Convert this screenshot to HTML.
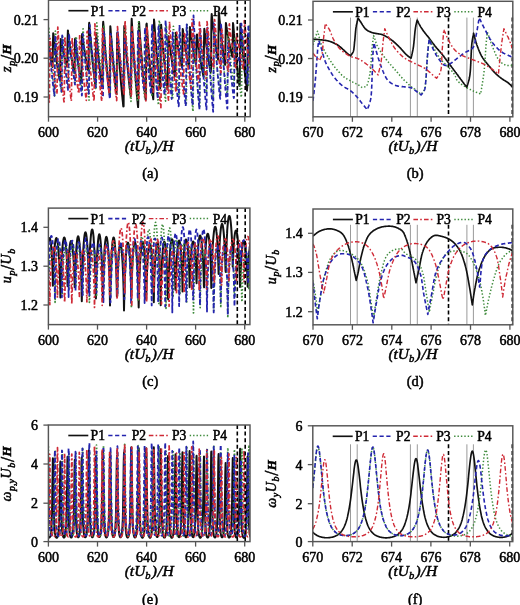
<!DOCTYPE html><html><head><meta charset="utf-8"><style>html,body{margin:0;padding:0;background:#fff;}svg{display:block;filter:blur(0.35px)}</style></head><body>
<svg width="520" height="605" viewBox="0 0 520 605">
<rect width="520" height="605" fill="#fff"/>
<style>text{stroke:#000;stroke-width:0.5px;fill:#000}</style>
<defs>
<clipPath id="ca"><rect x="48.5" y="0.2" width="201.7" height="116.5"/></clipPath>
<clipPath id="cb"><rect x="313.0" y="1.3" width="199.79999999999995" height="115.5"/></clipPath>
<clipPath id="cc"><rect x="48.4" y="208.1" width="201.5" height="116.50000000000003"/></clipPath>
<clipPath id="cd"><rect x="313.0" y="209.0" width="199.79999999999995" height="115.80000000000001"/></clipPath>
<clipPath id="ce"><rect x="48.4" y="425.0" width="201.6" height="116.60000000000002"/></clipPath>
<clipPath id="cf"><rect x="312.8" y="425.8" width="199.99999999999994" height="115.80000000000001"/></clipPath>
</defs>
<path d="M48.5,44.8 48.7,46.5 49,48.1 49.2,49.7 49.5,51.2 49.7,52.7 50,54.2 50.2,55.7 50.5,57.1 50.7,58.4 51,59.8 51.2,61.1 51.4,62.3 51.7,63.6 51.9,64.8 52.2,65.9 52.4,67 52.7,60.6 52.9,45 53.2,33.2 53.4,33.8 53.7,36.1 53.9,38.4 54.1,40.6 54.4,42.7 54.6,44.9 54.9,46.9 55.1,49 55.4,51 55.6,53 55.9,54.9 56.1,56.8 56.4,58.6 56.6,60.5 56.8,62.2 57.1,64 57.3,65.7 57.6,67.3 57.8,68.9 58.1,70.5 58.3,72 58.6,73.5 58.8,75 59.1,76.4 59.3,77.8 59.5,79.1 59.8,80.4 60,78.5 60.3,62.3 60.5,44.2 60.8,39.1 61,40.5 61.3,41.8 61.5,43.2 61.8,44.5 62,45.7 62.2,47 62.5,48.2 62.7,49.4 63,50.6 63.2,51.7 63.5,52.9 63.7,54 64,55.1 64.2,56.1 64.5,57.1 64.7,58.1 64.9,59.1 65.2,60.1 65.4,61 65.7,61.9 65.9,62.8 66.2,63.7 66.4,64.5 66.7,65.3 66.9,66.1 67.2,66.5 67.4,56.2 67.6,39.8 67.9,30.4 68.1,32.4 68.4,34.4 68.6,36.5 68.9,38.5 69.1,40.4 69.4,42.4 69.6,44.2 69.8,46.1 70.1,47.9 70.3,49.7 70.6,51.4 70.8,53.1 71.1,54.8 71.3,56.4 71.6,58 71.8,59.5 72.1,61 72.3,62.5 72.5,64 72.8,65.3 73,66.7 73.3,68 73.5,69.3 73.8,70.6 74,71.8 74.3,73 74.5,68.4 74.8,52.9 75,39.2 75.2,38.4 75.5,40.7 75.7,43 76,45.3 76.2,47.5 76.5,49.7 76.7,51.8 77,53.9 77.2,56 77.5,58 77.7,59.9 77.9,61.8 78.2,63.7 78.4,65.5 78.7,67.3 78.9,69 79.2,70.7 79.4,72.4 79.7,74 79.9,75.5 80.2,77 80.4,78.5 80.6,79.9 80.9,81.3 81.1,82.7 81.4,80.3 81.6,61.2 81.9,39.9 82.1,34 82.4,35.9 82.6,37.7 82.9,39.5 83.1,41.3 83.3,43 83.6,44.7 83.8,46.4 84.1,48 84.3,49.6 84.6,51.2 84.8,52.7 85.1,54.2 85.3,55.7 85.6,57.1 85.8,58.5 86,59.8 86.3,61.2 86.5,62.5 86.8,63.7 87,64.9 87.3,66.1 87.5,67.3 87.8,68.4 88,69.5 88.3,70.5 88.5,65.3 88.7,44.5 89,25 89.2,22.8 89.5,26 89.7,29.2 90,32.3 90.2,35.3 90.5,38.3 90.7,41.2 91,44 91.2,46.8 91.4,49.6 91.7,52.3 91.9,54.9 92.2,57.4 92.4,59.9 92.7,62.4 92.9,64.8 93.2,67.1 93.4,69.4 93.7,71.6 93.9,73.7 94.1,75.8 94.4,77.8 94.6,79.8 94.9,81.7 95.1,83.6 95.4,85.3 95.6,73.3 95.9,49.3 96.1,32.9 96.4,34.5 96.6,37.4 96.8,40.2 97.1,42.9 97.3,45.6 97.6,48.2 97.8,50.8 98.1,53.3 98.3,55.8 98.6,58.2 98.8,60.5 99.1,62.8 99.3,65.1 99.5,67.3 99.8,69.4 100,71.5 100.3,73.6 100.5,75.6 100.8,77.5 101,79.4 101.3,81.2 101.5,83 101.8,84.7 102,86.4 102.2,88 102.5,81 102.7,52.5 103,25.4 103.2,21.8 103.5,25.5 103.7,29 104,32.5 104.2,35.9 104.5,39.2 104.7,42.5 104.9,45.7 105.2,48.9 105.4,52 105.7,55 105.9,58 106.2,60.9 106.4,63.7 106.7,66.5 106.9,69.2 107.2,71.9 107.4,74.4 107.6,77 107.9,79.4 108.1,81.8 108.4,84.1 108.6,86.4 108.9,88.6 109.1,90.7 109.4,92.8 109.6,94.5 109.9,76.3 110.1,45.2 110.3,26.2 110.6,29 110.8,32.5 111.1,35.9 111.3,39.2 111.6,42.5 111.8,45.7 112.1,48.8 112.3,51.9 112.5,54.9 112.8,57.9 113,60.7 113.3,63.6 113.5,66.3 113.8,69 114,71.6 114.3,74.1 114.5,76.6 114.8,79 115,81.4 115.2,83.7 115.5,85.9 115.7,88.1 116,90.1 116.2,92.2 116.5,94.1 116.7,82.9 117,54.8 117.2,32.9 117.5,33.7 117.7,37.5 117.9,41.3 118.2,45 118.4,48.7 118.7,52.3 118.9,55.8 119.2,59.2 119.4,62.6 119.7,65.8 119.9,69.1 120.2,72.2 120.4,75.3 120.6,78.3 120.9,81.2 121.1,84.1 121.4,86.8 121.6,89.6 121.9,92.2 122.1,94.8 122.4,97.3 122.6,99.7 122.9,102 123.1,104.3 123.3,106.5 123.6,106.3 123.8,79.1 124.1,42.2 124.3,26 124.6,29.4 124.8,32.8 125.1,36.2 125.3,39.4 125.6,42.6 125.8,45.8 126,48.9 126.3,51.9 126.5,54.9 126.8,57.8 127,60.6 127.3,63.4 127.5,66.2 127.8,68.8 128,71.4 128.3,74 128.5,76.5 128.7,78.9 129,81.3 129.2,83.6 129.5,85.8 129.7,88 130,90.1 130.2,92.2 130.5,94.2 130.7,96.1 131,92.4 131.2,62 131.4,27.9 131.7,18.7 131.9,23 132.2,27.3 132.4,31.5 132.7,35.6 132.9,39.7 133.2,43.7 133.4,47.6 133.7,51.4 133.9,55.1 134.1,58.8 134.4,62.4 134.6,65.9 134.9,69.3 135.1,72.7 135.4,76 135.6,79.2 135.9,82.3 136.1,85.4 136.4,88.4 136.6,91.3 136.8,94.1 137.1,96.8 137.3,99.5 137.6,102.1 137.8,104.6 138.1,107.1 138.3,100.9 138.6,65.9 138.8,29.6 139.1,22 139.3,25.7 139.5,29.3 139.8,32.9 140,36.4 140.3,39.9 140.5,43.3 140.8,46.6 141,49.8 141.3,53 141.5,56.2 141.8,59.2 142,62.2 142.2,65.2 142.5,68.1 142.7,70.9 143,73.6 143.2,76.3 143.5,78.9 143.7,81.5 144,84 144.2,86.5 144.5,88.8 144.7,91.1 144.9,93.4 145.2,95.6 145.4,97.7 145.7,99.8 145.9,86.9 146.2,52.2 146.4,24.2 146.7,23.6 146.9,27.2 147.2,30.7 147.4,34.2 147.6,37.6 147.9,41 148.1,44.3 148.4,47.6 148.6,50.7 148.9,53.9 149.1,56.9 149.4,59.9 149.6,62.8 149.9,65.7 150.1,68.5 150.3,71.3 150.6,73.9 150.8,76.6 151.1,79.1 151.3,81.6 151.6,84.1 151.8,86.5 152.1,88.8 152.3,91 152.5,93.2 152.8,95.4 153,97.4 153.3,99.3 153.5,79.1 153.8,42.7 154,19.5 154.3,22.1 154.5,25.6 154.8,29.1 155,32.5 155.2,35.8 155.5,39.1 155.7,42.3 156,45.4 156.2,48.5 156.5,51.5 156.7,54.4 157,57.3 157.2,60.1 157.5,62.8 157.7,65.5 157.9,68.1 158.2,70.6 158.4,73.1 158.7,75.5 158.9,77.8 159.2,80.1 159.4,82.3 159.7,84.4 159.9,86.5 160.2,88.5 160.4,79.4 160.6,50.8 160.9,26.2 161.1,24.7 161.4,27.9 161.6,31 161.9,34.1 162.1,37.1 162.4,40.1 162.6,43 162.9,45.9 163.1,48.7 163.3,51.4 163.6,54.1 163.8,56.7 164.1,59.3 164.3,61.8 164.6,64.3 164.8,66.7 165.1,69 165.3,71.3 165.6,73.6 165.8,75.7 166,77.9 166.3,79.9 166.5,82 166.8,83.9 167,85.8 167.3,87.7 167.5,89.5 167.8,82.2 168,58.6 168.3,38 168.5,36.2 168.7,38.2 169,40.1 169.2,42 169.5,43.9 169.7,45.8 170,47.6 170.2,49.3 170.5,51.1 170.7,52.8 171,54.5 171.2,56.1 171.4,57.7 171.7,59.3 171.9,60.8 172.2,62.3 172.4,63.8 172.7,65.2 172.9,66.6 173.2,67.9 173.4,69.3 173.7,70.6 173.9,71.8 174.1,73 174.4,74.2 174.6,75.4 174.9,76.5 175.1,74.9 175.4,58.2 175.6,38.8 175.9,32.7 176.1,34.5 176.4,36.2 176.6,37.9 176.8,39.6 177.1,41.3 177.3,42.9 177.6,44.5 177.8,46.1 178.1,47.6 178.3,49.1 178.6,50.5 178.8,52 179.1,53.4 179.3,54.7 179.5,56 179.8,57.3 180,58.6 180.3,59.8 180.5,61 180.8,62.2 181,63.3 181.3,64.4 181.5,65.4 181.8,66.5 182,67.4 182.2,58.2 182.5,40.7 182.7,29.1 183,30.3 183.2,32.2 183.5,34.1 183.7,35.9 184,37.7 184.2,39.4 184.5,41.2 184.7,42.9 184.9,44.5 185.2,46.2 185.4,47.7 185.7,49.3 185.9,50.8 186.2,52.3 186.4,53.7 186.7,55.2 186.9,56.5 187.2,57.9 187.4,59.2 187.6,60.5 187.9,61.7 188.1,62.9 188.4,64.1 188.6,65.2 188.9,66.3 189.1,67.3 189.4,57.3 189.6,38.9 189.9,27 190.1,28.3 190.3,30.3 190.6,32.1 190.8,34 191.1,35.8 191.3,37.6 191.6,39.3 191.8,41 192.1,42.7 192.3,44.3 192.5,45.9 192.8,47.5 193,49 193.3,50.5 193.5,52 193.8,53.4 194,54.8 194.3,56.1 194.5,57.4 194.8,58.7 195,59.9 195.2,61.1 195.5,62.3 195.7,63.4 196,64.5 196.2,61.9 196.5,49 196.7,36.3 197,34.4 197.2,36.4 197.5,38.4 197.7,40.4 197.9,42.3 198.2,44.2 198.4,46 198.7,47.9 198.9,49.6 199.2,51.4 199.4,53.1 199.7,54.8 199.9,56.4 200.2,58 200.4,59.6 200.6,61.2 200.9,62.7 201.1,64.1 201.4,65.6 201.6,67 201.9,68.3 202.1,69.6 202.4,70.9 202.6,72.2 202.9,73.4 203.1,74.6 203.3,75.8 203.6,75 203.8,58.3 204.1,36.9 204.3,28.7 204.6,30.8 204.8,32.9 205.1,35 205.3,37 205.6,39 205.8,41 206,42.9 206.3,44.8 206.5,46.6 206.8,48.4 207,50.2 207.3,51.9 207.5,53.6 207.8,55.3 208,56.9 208.3,58.5 208.5,60 208.7,61.5 209,63 209.2,64.4 209.5,65.8 209.7,67.2 210,68.5 210.2,69.8 210.5,71 210.7,72.2 211,69 211.2,46 211.4,20.8 211.7,14.1 211.9,16.3 212.2,18.6 212.4,20.7 212.7,22.9 212.9,25 213.2,27 213.4,29.1 213.7,31 213.9,33 214.1,34.9 214.4,36.7 214.6,38.6 214.9,40.3 215.1,42.1 215.4,43.8 215.6,45.4 215.9,47.1 216.1,48.6 216.4,50.2 216.6,51.7 216.8,53.1 217.1,54.6 217.3,55.9 217.6,57.3 217.8,58.6 218.1,59.8 218.3,49.4 218.6,27.6 218.8,12.3 219.1,13.6 219.3,16.3 219.5,19 219.8,21.6 220,24.2 220.3,26.7 220.5,29.1 220.8,31.5 221,33.9 221.3,36.2 221.5,38.4 221.8,40.6 222,42.8 222.2,44.9 222.5,46.9 222.7,49 223,50.9 223.2,52.8 223.5,54.7 223.7,56.5 224,58.2 224.2,59.9 224.5,61.6 224.7,63.2 224.9,64.7 225.2,64.7 225.4,50.2 225.7,31 225.9,22.9 226.2,24.6 226.4,26.2 226.7,27.8 226.9,29.4 227.2,31 227.4,32.5 227.6,34 227.9,35.4 228.1,36.9 228.4,38.3 228.6,39.7 228.9,41 229.1,42.3 229.4,43.6 229.6,44.8 229.9,46.1 230.1,47.3 230.3,48.4 230.6,49.6 230.8,50.7 231.1,51.7 231.3,52.8 231.6,53.8 231.8,54.8 232.1,55.7 232.3,56.7 232.6,49.8 232.8,34.4 233,23.1 233.3,24.7 233.5,27.8 233.8,30.9 234,33.9 234.3,36.8 234.5,39.7 234.8,42.5 235,45.3 235.2,48 235.5,50.7 235.7,53.3 236,55.8 236.2,58.3 236.5,60.8 236.7,63.2 237,65.5 237.2,67.8 237.5,70 237.7,72.2 237.9,74.3 238.2,76.3 238.4,78.3 238.7,80.3 238.9,82.2 239.2,84 239.4,85.8 239.7,85.8 239.9,65 240.2,36.6 240.4,23.7 240.6,26.9 240.9,30 241.1,33.1 241.4,36.1 241.6,39.1 241.9,42 242.1,44.9 242.4,47.7 242.6,50.4 242.9,53.1 243.1,55.8 243.3,58.3 243.6,60.9 243.8,63.4 244.1,65.8 244.3,68.1 244.6,70.5 244.8,72.7 245.1,74.9 245.3,77.1 245.6,79.2 245.8,81.2 246,83.2 246.3,85.2 246.5,87 246.8,88.9 247,90.6 247.3,85.2 247.5,61.1 247.8,38 248,34.6 248.3,37.7 248.5,40.7 248.7,43.6 249,46.5 249.2,49.4 249.5,52.1 249.7,54.9 250,57.5 250.2,60.1 250.5,62.7" fill="none" stroke="#111111" stroke-width="2.0" stroke-linejoin="round" clip-path="url(#ca)"/>
<path d="M48.5,32.3 48.7,26.9 49,30.6 49.2,34.3 49.5,37.9 49.7,41.4 50,44.8 50.2,48.2 50.5,51.5 50.7,54.8 51,57.9 51.2,61 51.4,64 51.7,67 51.9,69.9 52.2,72.7 52.4,75.4 52.7,78 52.9,80.6 53.2,83.1 53.4,85.6 53.7,87.9 53.9,90.2 54.1,92.5 54.4,94.6 54.6,96.1 54.9,77.6 55.1,47.9 55.4,31 55.6,33.8 55.9,36.8 56.1,39.8 56.4,42.8 56.6,45.7 56.8,48.5 57.1,51.3 57.3,54 57.6,56.7 57.8,59.3 58.1,61.8 58.3,64.3 58.6,66.8 58.8,69.1 59.1,71.5 59.3,73.7 59.5,76 59.8,78.1 60,80.2 60.3,82.3 60.5,84.3 60.8,86.2 61,88.1 61.3,89.9 61.5,91.7 61.8,93.1 62,77.5 62.2,51 62.5,35 62.7,37.3 63,40.1 63.2,42.9 63.5,45.6 63.7,48.2 64,50.8 64.2,53.3 64.5,55.8 64.7,58.2 64.9,60.6 65.2,62.9 65.4,65.1 65.7,67.3 65.9,69.5 66.2,71.5 66.4,73.6 66.7,75.6 66.9,77.5 67.2,79.3 67.4,81.2 67.6,82.9 67.9,84.6 68.1,86.3 68.4,87.8 68.6,80.4 68.9,58.6 69.1,40.5 69.4,39.7 69.6,42 69.8,44.3 70.1,46.5 70.3,48.6 70.6,50.7 70.8,52.8 71.1,54.8 71.3,56.8 71.6,58.7 71.8,60.6 72.1,62.4 72.3,64.3 72.5,66 72.8,67.7 73,69.4 73.3,71 73.5,72.6 73.8,74.2 74,75.7 74.3,77.1 74.5,78.5 74.8,79.9 75,81.2 75.2,82.5 75.5,76.2 75.7,55.5 76,37.4 76.2,36.5 76.5,39.4 76.7,42.3 77,45.1 77.2,47.8 77.5,50.5 77.7,53.2 77.9,55.7 78.2,58.3 78.4,60.7 78.7,63.2 78.9,65.5 79.2,67.8 79.4,70.1 79.7,72.3 79.9,74.4 80.2,76.5 80.4,78.5 80.6,80.5 80.9,82.4 81.1,84.3 81.4,86.1 81.6,87.9 81.9,89.6 82.1,91.2 82.4,84.2 82.6,57 82.9,31.6 83.1,28.9 83.3,32.7 83.6,36.5 83.8,40.1 84.1,43.7 84.3,47.2 84.6,50.7 84.8,54 85.1,57.3 85.3,60.6 85.6,63.7 85.8,66.8 86,69.8 86.3,72.7 86.5,75.6 86.8,78.4 87,81.1 87.3,83.7 87.5,86.3 87.8,88.8 88,91.2 88.3,93.6 88.5,95.8 88.7,98 89,100.2 89.2,86.9 89.5,57.8 89.7,36.8 90,37.6 90.2,40.4 90.5,43 90.7,45.7 91,48.3 91.2,50.8 91.4,53.3 91.7,55.7 91.9,58.1 92.2,60.4 92.4,62.7 92.7,64.9 92.9,67.1 93.2,69.2 93.4,71.3 93.7,73.3 93.9,75.3 94.1,77.2 94.4,79.1 94.6,80.9 94.9,82.7 95.1,84.4 95.4,86.1 95.6,87.7 95.9,89.3 96.1,89.6 96.4,68.6 96.6,38.1 96.8,22.9 97.1,26.3 97.3,29.6 97.6,32.9 97.8,36.1 98.1,39.3 98.3,42.4 98.6,45.4 98.8,48.4 99.1,51.3 99.3,54.1 99.5,56.9 99.8,59.6 100,62.3 100.3,64.9 100.5,67.4 100.8,69.8 101,72.2 101.3,74.6 101.5,76.8 101.8,79 102,81.2 102.2,83.3 102.5,85.3 102.7,87.2 103,89.1 103.2,75.2 103.5,45.9 103.7,25.2 104,26.9 104.2,30.5 104.5,34 104.7,37.5 104.9,40.9 105.2,44.2 105.4,47.5 105.7,50.7 105.9,53.8 106.2,56.8 106.4,59.8 106.7,62.8 106.9,65.6 107.2,68.4 107.4,71.2 107.6,73.8 107.9,76.4 108.1,79 108.4,81.4 108.6,83.8 108.9,86.1 109.1,88.4 109.4,90.6 109.6,92.7 109.9,94.8 110.1,95.7 110.3,76.5 110.6,48 110.8,33.3 111.1,35.9 111.3,38.6 111.6,41.1 111.8,43.7 112.1,46.1 112.3,48.6 112.5,50.9 112.8,53.3 113,55.5 113.3,57.8 113.5,60 113.8,62.1 114,64.2 114.3,66.2 114.5,68.2 114.8,70.1 115,72 115.2,73.8 115.5,75.6 115.7,77.4 116,79.1 116.2,80.7 116.5,82.3 116.7,83.8 117,85.3 117.2,79.3 117.5,58.2 117.7,39.4 117.9,37.6 118.2,40 118.4,42.2 118.7,44.4 118.9,46.6 119.2,48.8 119.4,50.9 119.7,52.9 119.9,54.9 120.2,56.9 120.4,58.8 120.6,60.7 120.9,62.6 121.1,64.4 121.4,66.2 121.6,67.9 121.9,69.6 122.1,71.2 122.4,72.8 122.6,74.3 122.9,75.9 123.1,77.3 123.3,78.8 123.6,80.1 123.8,81.5 124.1,82.8 124.3,78.2 124.6,53.3 124.8,27.7 125.1,23 125.3,27.2 125.6,31.4 125.8,35.4 126,39.4 126.3,43.3 126.5,47.1 126.8,50.8 127,54.5 127.3,58 127.5,61.5 127.8,64.9 128,68.2 128.3,71.5 128.5,74.6 128.7,77.7 129,80.7 129.2,83.6 129.5,86.5 129.7,89.2 130,91.9 130.2,94.5 130.5,97 130.7,99.4 131,101.3 131.2,83.9 131.4,54.4 131.7,36.7 131.9,39.5 132.2,42.8 132.4,46.1 132.7,49.4 132.9,52.5 133.2,55.6 133.4,58.6 133.7,61.6 133.9,64.5 134.1,67.3 134.4,70.1 134.6,72.8 134.9,75.4 135.1,78 135.4,80.5 135.6,83 135.9,85.4 136.1,87.7 136.4,89.9 136.6,92.1 136.8,94.2 137.1,96.3 137.3,98.3 137.6,100.2 137.8,99.4 138.1,72.2 138.3,36.5 138.6,21.9 138.8,25.8 139.1,29.7 139.3,33.4 139.5,37.1 139.8,40.7 140,44.3 140.3,47.8 140.5,51.2 140.8,54.5 141,57.8 141.3,60.9 141.5,64.1 141.8,67.1 142,70.1 142.2,73 142.5,75.8 142.7,78.6 143,81.2 143.2,83.8 143.5,86.4 143.7,88.8 144,91.2 144.2,93.6 144.5,95.8 144.7,98 144.9,87.6 145.2,58.8 145.4,35.3 145.7,34.7 145.9,37.8 146.2,40.8 146.4,43.8 146.7,46.7 146.9,49.6 147.2,52.4 147.4,55.2 147.6,57.8 147.9,60.5 148.1,63.1 148.4,65.6 148.6,68.1 148.9,70.5 149.1,72.8 149.4,75.1 149.6,77.4 149.9,79.6 150.1,81.7 150.3,83.8 150.6,85.8 150.8,87.8 151.1,89.7 151.3,91.5 151.6,93.3 151.8,95.1 152.1,86.4 152.3,57.1 152.5,31.1 152.8,29.4 153,33.6 153.3,37.7 153.5,41.7 153.8,45.7 154,49.6 154.3,53.3 154.5,57 154.8,60.7 155,64.2 155.2,67.6 155.5,71 155.7,74.3 156,77.5 156.2,80.6 156.5,83.6 156.7,86.6 157,89.4 157.2,92.2 157.5,94.9 157.7,97.5 157.9,100.1 158.2,102.5 158.4,104.9 158.7,91.8 158.9,53.6 159.2,21.7 159.4,20.4 159.7,24.7 159.9,28.8 160.2,32.8 160.4,36.8 160.6,40.7 160.9,44.5 161.1,48.3 161.4,52 161.6,55.5 161.9,59.1 162.1,62.5 162.4,65.8 162.6,69.1 162.9,72.3 163.1,75.4 163.3,78.5 163.6,81.4 163.8,84.3 164.1,87.1 164.3,89.9 164.6,92.5 164.8,95.1 165.1,97.6 165.3,100 165.6,101.1 165.8,78 166,43.6 166.3,25.7 166.5,29.4 166.8,33 167,36.5 167.3,40 167.5,43.5 167.8,46.8 168,50.1 168.3,53.4 168.5,56.5 168.7,59.6 169,62.6 169.2,65.6 169.5,68.5 169.7,71.3 170,74.1 170.2,76.8 170.5,79.4 170.7,82 171,84.4 171.2,86.9 171.4,89.2 171.7,91.5 171.9,93.8 172.2,95.9 172.4,98 172.7,98.4 172.9,75 173.2,42 173.4,26.3 173.7,30.1 173.9,33.9 174.1,37.7 174.4,41.3 174.6,44.9 174.9,48.4 175.1,51.8 175.4,55.1 175.6,58.4 175.9,61.6 176.1,64.7 176.4,67.8 176.6,70.8 176.8,73.7 177.1,76.5 177.3,79.3 177.6,81.9 177.8,84.6 178.1,87.1 178.3,89.5 178.6,91.9 178.8,94.2 179.1,96.5 179.3,98.6 179.5,91.4 179.8,63.1 180,36.7 180.3,33.8 180.5,37.6 180.8,41.3 181,45 181.3,48.6 181.5,52.1 181.8,55.5 182,58.9 182.2,62.2 182.5,65.4 182.7,68.5 183,71.6 183.2,74.6 183.5,77.5 183.7,80.4 184,83.2 184.2,85.9 184.5,88.6 184.7,91.1 184.9,93.6 185.2,96.1 185.4,98.4 185.7,100.7 185.9,103 186.2,105.1 186.4,100.2 186.7,67.6 186.9,32.8 187.2,24.7 187.4,29.5 187.6,34.1 187.9,38.6 188.1,43 188.4,47.4 188.6,51.6 188.9,55.8 189.1,59.9 189.4,63.8 189.6,67.7 189.9,71.5 190.1,75.2 190.3,78.8 190.6,82.3 190.8,85.8 191.1,89.1 191.3,92.4 191.6,95.5 191.8,98.6 192.1,101.5 192.3,104.4 192.5,107.2 192.8,109.9 193,111.4 193.3,88.9 193.5,54.3 193.8,35.7 194,39.6 194.3,43.5 194.5,47.3 194.8,51.1 195,54.8 195.2,58.4 195.5,61.9 195.7,65.4 196,68.8 196.2,72 196.5,75.3 196.7,78.4 197,81.5 197.2,84.4 197.5,87.4 197.7,90.2 197.9,92.9 198.2,95.6 198.4,98.2 198.7,100.7 198.9,103.1 199.2,105.5 199.4,107.8 199.7,108.3 199.9,84.9 200.2,51.6 200.4,35.5 200.6,38.4 200.9,41.3 201.1,44.1 201.4,46.9 201.6,49.6 201.9,52.2 202.1,54.8 202.4,57.3 202.6,59.8 202.9,62.3 203.1,64.6 203.3,67 203.6,69.2 203.8,71.5 204.1,73.6 204.3,75.7 204.6,77.8 204.8,79.8 205.1,81.8 205.3,83.7 205.6,85.5 205.8,87.3 206,89.1 206.3,90.7 206.5,92.4 206.8,87.7 207,62.3 207.3,36.3 207.5,31.4 207.8,35.3 208,39 208.3,42.7 208.5,46.3 208.7,49.8 209,53.2 209.2,56.6 209.5,59.9 209.7,63.1 210,66.2 210.2,69.3 210.5,72.2 210.7,75.1 211,78 211.2,80.7 211.4,83.4 211.7,86 211.9,88.5 212.2,91 212.4,93.4 212.7,95.7 212.9,97.9 213.2,100 213.4,91 213.7,59 213.9,30.2 214.1,27.4 214.4,31 214.6,34.6 214.9,38 215.1,41.4 215.4,44.8 215.6,48 215.9,51.2 216.1,54.3 216.4,57.4 216.6,60.4 216.8,63.3 217.1,66.2 217.3,69 217.6,71.7 217.8,74.4 218.1,77 218.3,79.5 218.6,82 218.8,84.4 219.1,86.7 219.3,89 219.5,91.2 219.8,93.3 220,95.4 220.3,96.3 220.5,78.2 220.8,51.3 221,37.6 221.3,40.5 221.5,43.4 221.8,46.2 222,49 222.2,51.7 222.5,54.4 222.7,57 223,59.5 223.2,62 223.5,64.5 223.7,66.9 224,69.2 224.2,71.5 224.5,73.8 224.7,75.9 224.9,78.1 225.2,80.2 225.4,82.2 225.7,84.2 225.9,86.1 226.2,88 226.4,89.8 226.7,91.5 226.9,93.2 227.2,94.9 227.4,95 227.6,74.5 227.9,45.9 228.1,32.6 228.4,35.6 228.6,38.5 228.9,41.4 229.1,44.2 229.4,47 229.6,49.7 229.9,52.3 230.1,54.9 230.3,57.4 230.6,59.9 230.8,62.3 231.1,64.6 231.3,66.9 231.6,69.2 231.8,71.3 232.1,73.4 232.3,75.5 232.6,77.5 232.8,79.4 233,81.3 233.3,83.1 233.5,84.9 233.8,86.5 234,85.9 234.3,68 234.5,45.5 234.8,37.2 235,40 235.2,42.9 235.5,45.6 235.7,48.3 236,51 236.2,53.6 236.5,56.2 236.7,58.7 237,61.2 237.2,63.6 237.5,66 237.7,68.3 237.9,70.6 238.2,72.8 238.4,75 238.7,77.1 238.9,79.2 239.2,81.2 239.4,83.2 239.7,85.2 239.9,87 240.2,88.9 240.4,90.7 240.6,92.4 240.9,94.1 241.1,95.7 241.4,97.3 241.6,83.9 241.9,55.2 242.1,34.6 242.4,35.5 242.6,38 242.9,40.5 243.1,43 243.3,45.4 243.6,47.8 243.8,50.2 244.1,52.4 244.3,54.7 244.6,56.9 244.8,59 245.1,61.1 245.3,63.2 245.6,65.2 245.8,67.1 246,69 246.3,70.9 246.5,72.7 246.8,74.5 247,76.2 247.3,77.8 247.5,79.5 247.8,81 248,82.6 248.3,84.1 248.5,85.2 248.7,68.7 249,41.1 249.2,24.8 249.5,28.1 249.7,31.8 250,35.4 250.2,39 250.5,42.5" fill="none" stroke="#3d8a3a" stroke-width="1.7" stroke-dasharray="1.4,2.0" stroke-linejoin="round" clip-path="url(#ca)"/>
<path d="M48.5,34.2 48.7,37.5 49,40.8 49.2,43.9 49.5,47 49.7,50.1 50,53.1 50.2,56 50.5,58.8 50.7,61.6 51,64.4 51.2,67 51.4,69.6 51.7,72.2 51.9,74.6 52.2,77 52.4,79.4 52.7,81.7 52.9,83.9 53.2,86 53.4,88.1 53.7,90.1 53.9,92.1 54.1,94 54.4,95.6 54.6,79.7 54.9,52.3 55.1,35.5 55.4,37.7 55.6,40.5 55.9,43.2 56.1,45.9 56.4,48.5 56.6,51.1 56.8,53.7 57.1,56.1 57.3,58.6 57.6,61 57.8,63.3 58.1,65.6 58.3,67.8 58.6,70 58.8,72.1 59.1,74.2 59.3,76.2 59.5,78.1 59.8,80.1 60,81.9 60.3,83.7 60.5,85.5 60.8,87.2 61,88.9 61.3,90.5 61.5,91.5 61.8,75.5 62,49.9 62.2,35.4 62.5,38.1 62.7,41 63,43.9 63.2,46.7 63.5,49.4 63.7,52.1 64,54.7 64.2,57.3 64.5,59.8 64.7,62.3 64.9,64.7 65.2,67 65.4,69.3 65.7,71.5 65.9,73.7 66.2,75.8 66.4,77.8 66.7,79.8 66.9,81.8 67.2,83.6 67.4,85.5 67.6,87.2 67.9,88.9 68.1,90.6 68.4,78.6 68.6,52.7 68.9,34 69.1,34.9 69.4,37.5 69.6,40.1 69.8,42.7 70.1,45.2 70.3,47.7 70.6,50.1 70.8,52.4 71.1,54.7 71.3,57 71.6,59.2 71.8,61.3 72.1,63.4 72.3,65.5 72.5,67.5 72.8,69.4 73,71.3 73.3,73.2 73.5,75 73.8,76.7 74,78.4 74.3,80.1 74.5,81.7 74.8,83.2 75,84.7 75.2,76.7 75.5,56.3 75.7,40.2 76,40.7 76.2,43.7 76.5,46.5 76.7,49.3 77,52.1 77.2,54.8 77.5,57.4 77.7,60 77.9,62.5 78.2,65 78.4,67.4 78.7,69.8 78.9,72.1 79.2,74.3 79.4,76.5 79.7,78.7 79.9,80.8 80.2,82.8 80.4,84.8 80.6,86.7 80.9,88.6 81.1,90.4 81.4,92.2 81.6,93.9 81.9,95.5 82.1,91 82.4,65.6 82.6,39.3 82.9,33.9 83.1,37.1 83.3,40.2 83.6,43.3 83.8,46.3 84.1,49.3 84.3,52.2 84.6,55 84.8,57.7 85.1,60.4 85.3,63.1 85.6,65.7 85.8,68.2 86,70.7 86.3,73.1 86.5,75.4 86.8,77.7 87,79.9 87.3,82.1 87.5,84.2 87.8,86.2 88,88.2 88.3,90.1 88.5,92 88.7,93.8 89,88 89.2,59.2 89.5,30.3 89.7,24.9 90,28.1 90.2,31.2 90.5,34.3 90.7,37.3 91,40.2 91.2,43.1 91.4,46 91.7,48.7 91.9,51.5 92.2,54.1 92.4,56.7 92.7,59.2 92.9,61.7 93.2,64.2 93.4,66.5 93.7,68.8 93.9,71.1 94.1,73.3 94.4,75.4 94.6,77.5 94.9,79.5 95.1,81.5 95.4,83.4 95.6,85.2 95.9,87 96.1,82.5 96.4,62 96.6,42.4 96.8,39.8 97.1,42.8 97.3,45.7 97.6,48.6 97.8,51.4 98.1,54.2 98.3,56.9 98.6,59.5 98.8,62.1 99.1,64.7 99.3,67.2 99.5,69.6 99.8,72 100,74.3 100.3,76.6 100.5,78.8 100.8,80.9 101,83 101.3,85.1 101.5,87.1 101.8,89 102,90.9 102.2,92.7 102.5,94.5 102.7,96.2 103,97.1 103.2,77.6 103.5,47.2 103.7,30.6 104,33.9 104.2,37.3 104.5,40.7 104.7,44 104.9,47.2 105.2,50.4 105.4,53.5 105.7,56.6 105.9,59.6 106.2,62.5 106.4,65.4 106.7,68.2 106.9,70.9 107.2,73.6 107.4,76.2 107.6,78.7 107.9,81.2 108.1,83.6 108.4,86 108.6,88.3 108.9,90.5 109.1,92.7 109.4,94.8 109.6,96.8 109.9,98.8 110.1,99 110.3,77.4 110.6,47.5 110.8,33.9 111.1,36.8 111.3,39.6 111.6,42.3 111.8,45 112.1,47.7 112.3,50.2 112.5,52.8 112.8,55.2 113,57.7 113.3,60 113.5,62.3 113.8,64.6 114,66.8 114.3,69 114.5,71.1 114.8,73.1 115,75.1 115.2,77 115.5,78.9 115.7,80.8 116,82.5 116.2,84.3 116.5,85.9 116.7,87.6 117,87.7 117.2,68.9 117.5,42.8 117.7,30.8 117.9,33.8 118.2,36.7 118.4,39.6 118.7,42.5 118.9,45.3 119.2,48 119.4,50.7 119.7,53.4 119.9,55.9 120.2,58.5 120.4,60.9 120.6,63.3 120.9,65.7 121.1,68 121.4,70.2 121.6,72.4 121.9,74.6 122.1,76.6 122.4,78.7 122.6,80.6 122.9,82.5 123.1,84.4 123.3,86.2 123.6,88 123.8,89.7 124.1,85.6 124.3,63.7 124.6,41.3 124.8,37.1 125.1,39.8 125.3,42.5 125.6,45.2 125.8,47.8 126,50.4 126.3,52.9 126.5,55.3 126.8,57.7 127,60 127.3,62.3 127.5,64.5 127.8,66.7 128,68.8 128.3,70.8 128.5,72.8 128.7,74.8 129,76.7 129.2,78.5 129.5,80.3 129.7,82 130,83.7 130.2,85.3 130.5,86.9 130.7,83.1 131,60.7 131.2,37.5 131.4,32.6 131.7,35.5 131.9,38.4 132.2,41.2 132.4,44 132.7,46.7 132.9,49.4 133.2,52 133.4,54.5 133.7,57 133.9,59.4 134.1,61.8 134.4,64.1 134.6,66.3 134.9,68.5 135.1,70.7 135.4,72.8 135.6,74.8 135.9,76.7 136.1,78.7 136.4,80.5 136.6,82.3 136.8,84 137.1,85.7 137.3,86.1 137.6,68.2 137.8,42.4 138.1,29.9 138.3,33.1 138.6,36.3 138.8,39.3 139.1,42.4 139.3,45.3 139.5,48.2 139.8,51.1 140,53.9 140.3,56.6 140.5,59.2 140.8,61.8 141,64.4 141.3,66.9 141.5,69.3 141.8,71.6 142,73.9 142.2,76.2 142.5,78.4 142.7,80.5 143,82.5 143.2,84.5 143.5,86.5 143.7,88.4 144,90.2 144.2,90.8 144.5,71.3 144.7,42.5 144.9,27.9 145.2,31.3 145.4,34.6 145.7,37.8 145.9,41 146.2,44.2 146.4,47.3 146.7,50.3 146.9,53.2 147.2,56.1 147.4,58.9 147.6,61.7 147.9,64.4 148.1,67.1 148.4,69.6 148.6,72.2 148.9,74.6 149.1,77 149.4,79.3 149.6,81.6 149.9,83.8 150.1,86 150.3,88.1 150.6,90.1 150.8,92.1 151.1,94 151.3,91.1 151.6,64.1 151.8,33.1 152.1,24.2 152.3,28.3 152.5,32.4 152.8,36.4 153,40.3 153.3,44.1 153.5,47.8 153.8,51.4 154,55 154.3,58.4 154.5,61.8 154.8,65.2 155,68.4 155.2,71.5 155.5,74.6 155.7,77.6 156,80.5 156.2,83.3 156.5,86 156.7,88.7 157,91.2 157.2,93.7 157.5,96.1 157.7,98.4 157.9,87.7 158.2,55.2 158.4,27.6 158.7,26.2 158.9,29.9 159.2,33.5 159.4,37 159.7,40.4 159.9,43.8 160.2,47.1 160.4,50.3 160.6,53.5 160.9,56.6 161.1,59.6 161.4,62.6 161.6,65.5 161.9,68.3 162.1,71.1 162.4,73.8 162.6,76.4 162.9,79 163.1,81.4 163.3,83.9 163.6,86.2 163.8,88.5 164.1,90.7 164.3,92.8 164.6,94.9 164.8,91.7 165.1,62.6 165.3,29.5 165.6,20.1 165.8,24.1 166,28.1 166.3,32 166.5,35.8 166.8,39.6 167,43.2 167.3,46.8 167.5,50.4 167.8,53.8 168,57.2 168.3,60.5 168.5,63.7 168.7,66.9 169,70 169.2,73 169.5,75.9 169.7,78.8 170,81.6 170.2,84.3 170.5,86.9 170.7,89.5 171,92 171.2,94.4 171.4,96.7 171.7,99 171.9,93.5 172.2,65.4 172.4,37.3 172.7,32.5 172.9,36.4 173.2,40.2 173.4,44 173.7,47.7 173.9,51.3 174.1,54.9 174.4,58.4 174.6,61.8 174.9,65.1 175.1,68.4 175.4,71.6 175.6,74.7 175.9,77.8 176.1,80.7 176.4,83.6 176.6,86.4 176.8,89.2 177.1,91.9 177.3,94.5 177.6,97 177.8,99.5 178.1,101.8 178.3,104.1 178.6,106.4 178.8,105.3 179.1,76.4 179.3,39.4 179.5,25 179.8,29.2 180,33.2 180.3,37.2 180.5,41.2 180.8,45 181,48.8 181.3,52.5 181.5,56.1 181.8,59.7 182,63.1 182.2,66.5 182.5,69.9 182.7,73.1 183,76.3 183.2,79.4 183.5,82.4 183.7,85.3 184,88.2 184.2,91 184.5,93.7 184.7,96.4 184.9,98.9 185.2,101.4 185.4,103.8 185.7,106.2 185.9,102.8 186.2,71.1 186.4,34.8 186.7,24.4 186.9,28.7 187.2,32.9 187.4,37 187.6,41.1 187.9,45.1 188.1,49 188.4,52.8 188.6,56.5 188.9,60.2 189.1,63.8 189.4,67.2 189.6,70.7 189.9,74 190.1,77.2 190.3,80.4 190.6,83.5 190.8,86.5 191.1,89.4 191.3,92.3 191.6,95 191.8,97.7 192.1,100.3 192.3,102.9 192.5,105.3 192.8,102.7 193,69.1 193.3,28.8 193.5,15.4 193.8,20.5 194,25.4 194.3,30.3 194.5,35 194.8,39.7 195,44.2 195.2,48.7 195.5,53 195.7,57.3 196,61.5 196.2,65.5 196.5,69.5 196.7,73.4 197,77.1 197.2,80.8 197.5,84.4 197.7,87.9 197.9,91.2 198.2,94.5 198.4,97.7 198.7,100.8 198.9,103.8 199.2,106.7 199.4,109.3 199.7,88.5 199.9,51.4 200.2,27.8 200.4,30.8 200.6,34.9 200.9,38.9 201.1,42.8 201.4,46.6 201.6,50.4 201.9,54.1 202.1,57.7 202.4,61.2 202.6,64.7 202.9,68.1 203.1,71.4 203.3,74.7 203.6,77.8 203.8,80.9 204.1,83.9 204.3,86.9 204.6,89.8 204.8,92.6 205.1,95.3 205.3,97.9 205.6,100.5 205.8,103 206,105.4 206.3,107.8 206.5,109.5 206.8,87.2 207,49.9 207.3,27.7 207.5,31.6 207.8,36.1 208,40.4 208.3,44.7 208.5,48.9 208.7,53 209,57 209.2,61 209.5,64.8 209.7,68.6 210,72.2 210.2,75.8 210.5,79.3 210.7,82.7 211,86 211.2,89.2 211.4,92.4 211.7,95.4 211.9,98.4 212.2,101.2 212.4,104 212.7,106.7 212.9,109.3 213.2,111.8 213.4,92 213.7,51.5 213.9,23.4 214.1,25.1 214.4,29 214.6,32.8 214.9,36.5 215.1,40.1 215.4,43.7 215.6,47.2 215.9,50.6 216.1,53.9 216.4,57.2 216.6,60.4 216.8,63.6 217.1,66.6 217.3,69.6 217.6,72.6 217.8,75.4 218.1,78.2 218.3,80.9 218.6,83.5 218.8,86.1 219.1,88.6 219.3,91 219.5,93.4 219.8,95.7 220,97.9 220.3,98.8 220.5,75.5 220.8,41 221,23.3 221.3,27.7 221.5,31.9 221.8,36.1 222,40.2 222.2,44.2 222.5,48.1 222.7,52 223,55.8 223.2,59.5 223.5,63.1 223.7,66.6 224,70.1 224.2,73.5 224.5,76.8 224.7,80 224.9,83.2 225.2,86.3 225.4,89.3 225.7,92.2 225.9,95 226.2,97.8 226.4,100.5 226.7,103.1 226.9,105.6 227.2,108 227.4,108.6 227.6,86.8 227.9,56.3 228.1,42.2 228.4,45.3 228.6,48.4 228.9,51.3 229.1,54.2 229.4,57.1 229.6,59.9 229.9,62.6 230.1,65.3 230.3,67.9 230.6,70.5 230.8,73 231.1,75.4 231.3,77.8 231.6,80.1 231.8,82.3 232.1,84.5 232.3,86.6 232.6,88.7 232.8,90.7 233,92.6 233.3,94.5 233.5,96.3 233.8,98.1 234,97.2 234.3,76.9 234.5,51.4 234.8,41.5 235,42.8 235.2,44.1 235.5,45.4 235.7,46.6 236,47.8 236.2,48.9 236.5,50.1 236.7,51.2 237,52.3 237.2,53.3 237.5,54.4 237.7,55.4 237.9,56.3 238.2,57.3 238.4,58.2 238.7,59.1 238.9,60 239.2,60.9 239.4,61.7 239.7,62.5 239.9,63.3 240.2,64 240.4,64.8 240.6,59 240.9,40.6 241.1,24.4 241.4,23.7 241.6,26.8 241.9,29.8 242.1,32.7 242.4,35.7 242.6,38.5 242.9,41.3 243.1,44 243.3,46.7 243.6,49.3 243.8,51.9 244.1,54.4 244.3,56.9 244.6,59.3 244.8,61.6 245.1,63.9 245.3,66.1 245.6,68.3 245.8,70.4 246,72.5 246.3,74.5 246.5,76.5 246.8,78.4 247,80.2 247.3,82 247.5,83.7 247.8,76.8 248,50.8 248.3,27 248.5,24.8 248.7,28.3 249,31.8 249.2,35.3 249.5,38.6 249.7,41.9 250,45.1 250.2,48.2 250.5,51.3" fill="none" stroke="#2424ae" stroke-width="1.8" stroke-dasharray="4.2,2.6" stroke-linejoin="round" clip-path="url(#ca)"/>
<path d="M48.5,98.1 48.7,100.1 49,102 49.2,103.8 49.5,87.9 49.7,58.1 50,38.4 50.2,39.9 50.5,42.5 50.7,45 51,47.5 51.2,49.9 51.4,52.2 51.7,54.6 51.9,56.9 52.2,59.1 52.4,61.3 52.7,63.5 52.9,65.6 53.2,67.7 53.4,69.7 53.7,71.7 53.9,73.7 54.1,75.6 54.4,77.4 54.6,79.3 54.9,81.1 55.1,82.8 55.4,84.5 55.6,86.2 55.9,87.8 56.1,89.3 56.4,90.9 56.6,92.4 56.8,93.8 57.1,91.5 57.3,66.4 57.6,36.7 57.8,27.1 58.1,30.9 58.3,34.7 58.6,38.4 58.8,42 59.1,45.5 59.3,49 59.5,52.4 59.8,55.7 60,59 60.3,62.2 60.5,65.4 60.8,68.4 61,71.4 61.3,74.3 61.5,77.2 61.8,80 62,82.7 62.2,85.3 62.5,87.9 62.7,90.4 63,92.9 63.2,95.2 63.5,97.5 63.7,99.8 64,101.9 64.2,101.5 64.5,78.4 64.7,48.6 64.9,36.6 65.2,39.8 65.4,43 65.7,46 65.9,49.1 66.2,52 66.4,54.9 66.7,57.8 66.9,60.6 67.2,63.3 67.4,66 67.6,68.6 67.9,71.2 68.1,73.7 68.4,76.2 68.6,78.6 68.9,80.9 69.1,83.2 69.4,85.4 69.6,87.6 69.8,89.7 70.1,91.8 70.3,93.8 70.6,95.7 70.8,97.6 71.1,99.4 71.3,101 71.6,84.5 71.8,55.6 72.1,37.7 72.3,39.7 72.5,42.3 72.8,44.9 73,47.4 73.3,49.9 73.5,52.4 73.8,54.8 74,57.2 74.3,59.5 74.5,61.8 74.8,64 75,66.2 75.2,68.3 75.5,70.4 75.7,72.5 76,74.5 76.2,76.4 76.5,78.3 76.7,80.2 77,82 77.2,83.8 77.5,85.6 77.7,87.2 77.9,88.9 78.2,90.5 78.4,92 78.7,93.5 78.9,93.4 79.2,73.7 79.4,46.7 79.7,34.7 79.9,37.9 80.2,40.9 80.4,44 80.6,46.9 80.9,49.8 81.1,52.7 81.4,55.5 81.6,58.3 81.9,61 82.1,63.6 82.4,66.2 82.6,68.7 82.9,71.2 83.1,73.7 83.3,76 83.6,78.4 83.8,80.6 84.1,82.8 84.3,85 84.6,87.1 84.8,89.2 85.1,91.2 85.3,93.1 85.6,95 85.8,96.9 86,98.7 86.3,100.4 86.5,89 86.8,57.6 87,32 87.3,31.3 87.5,34.6 87.8,37.8 88,41 88.3,44.1 88.5,47.2 88.7,50.2 89,53.2 89.2,56.1 89.5,59 89.7,61.8 90,64.5 90.2,67.2 90.5,69.9 90.7,72.4 91,75 91.2,77.4 91.4,79.9 91.7,82.2 91.9,84.5 92.2,86.8 92.4,89 92.7,91.1 92.9,93.2 93.2,95.3 93.4,97.3 93.7,99.2 93.9,101.1 94.1,99.6 94.4,71.8 94.6,36.9 94.9,23.8 95.1,27.4 95.4,30.9 95.6,34.4 95.9,37.8 96.1,41.1 96.4,44.4 96.6,47.6 96.8,50.8 97.1,53.9 97.3,57 97.6,59.9 97.8,62.9 98.1,65.7 98.3,68.5 98.6,71.3 98.8,74 99.1,76.6 99.3,79.1 99.5,81.7 99.8,84.1 100,86.5 100.3,88.8 100.5,91.1 100.8,93.3 101,95.4 101.3,97.5 101.5,99.6 101.8,101.1 102,81.1 102.2,47.9 102.5,28.3 102.7,30.9 103,34 103.2,36.9 103.5,39.9 103.7,42.7 104,45.6 104.2,48.3 104.5,51 104.7,53.7 104.9,56.3 105.2,58.9 105.4,61.4 105.7,63.8 105.9,66.2 106.2,68.5 106.4,70.8 106.7,73.1 106.9,75.2 107.2,77.4 107.4,79.4 107.6,81.5 107.9,83.4 108.1,85.3 108.4,87.2 108.6,89 108.9,90.8 109.1,92.4 109.4,78.7 109.6,52.3 109.9,34.7 110.1,36.6 110.3,39.7 110.6,42.7 110.8,45.6 111.1,48.5 111.3,51.4 111.6,54.2 111.8,56.9 112.1,59.6 112.3,62.2 112.5,64.8 112.8,67.4 113,69.8 113.3,72.3 113.5,74.6 113.8,77 114,79.2 114.3,81.5 114.5,83.6 114.8,85.8 115,87.8 115.2,89.8 115.5,91.8 115.7,93.7 116,95.6 116.2,97.4 116.5,99.1 116.7,100.6 117,81.4 117.2,47.6 117.5,26.6 117.7,29.1 117.9,32.3 118.2,35.5 118.4,38.7 118.7,41.7 118.9,44.8 119.2,47.7 119.4,50.6 119.7,53.5 119.9,56.3 120.2,59 120.4,61.7 120.6,64.3 120.9,66.9 121.1,69.4 121.4,71.9 121.6,74.3 121.9,76.6 122.1,78.9 122.4,81.2 122.6,83.3 122.9,85.5 123.1,87.5 123.3,89.6 123.6,91.5 123.8,93.4 124.1,95.3 124.3,91.7 124.6,62.5 124.8,29.8 125.1,20.9 125.3,24.8 125.6,28.6 125.8,32.3 126,36 126.3,39.6 126.5,43.1 126.8,46.6 127,50 127.3,53.3 127.5,56.5 127.8,59.7 128,62.8 128.3,65.9 128.5,68.8 128.7,71.7 129,74.6 129.2,77.3 129.5,80 129.7,82.6 130,85.2 130.2,87.7 130.5,90.1 130.7,92.4 131,94.7 131.2,96.9 131.4,95.2 131.7,69.1 131.9,37.6 132.2,26.9 132.4,30.3 132.7,33.7 132.9,37 133.2,40.3 133.4,43.5 133.7,46.6 133.9,49.7 134.1,52.7 134.4,55.7 134.6,58.6 134.9,61.4 135.1,64.2 135.4,66.9 135.6,69.6 135.9,72.2 136.1,74.7 136.4,77.2 136.6,79.7 136.8,82 137.1,84.3 137.3,86.6 137.6,88.8 137.8,90.9 138.1,93 138.3,95 138.6,97 138.8,98.4 139.1,80.6 139.3,50.8 139.5,33.1 139.8,35.9 140,39.2 140.3,42.5 140.5,45.7 140.8,48.8 141,51.9 141.3,54.9 141.5,57.9 141.8,60.8 142,63.6 142.2,66.4 142.5,69.1 142.7,71.8 143,74.4 143.2,76.9 143.5,79.4 143.7,81.8 144,84.2 144.2,86.5 144.5,88.7 144.7,90.9 144.9,93.1 145.2,95.1 145.4,97.1 145.7,99.1 145.9,101 146.2,100.1 146.4,73.9 146.7,40 146.9,26.4 147.2,29.7 147.4,32.8 147.6,36 147.9,39 148.1,42 148.4,45 148.6,47.9 148.9,50.7 149.1,53.5 149.4,56.3 149.6,58.9 149.9,61.5 150.1,64.1 150.3,66.6 150.6,69 150.8,71.4 151.1,73.8 151.3,76 151.6,78.3 151.8,80.4 152.1,82.5 152.3,84.6 152.5,86.5 152.8,88.5 153,90.3 153.3,92.2 153.5,87.7 153.8,62.4 154,36.3 154.3,31.2 154.5,34.8 154.8,38.4 155,41.9 155.2,45.4 155.5,48.8 155.7,52.1 156,55.4 156.2,58.6 156.5,61.7 156.7,64.8 157,67.8 157.2,70.8 157.5,73.7 157.7,76.5 157.9,79.3 158.2,82 158.4,84.7 158.7,87.2 158.9,89.8 159.2,92.2 159.4,94.6 159.7,97 159.9,99.3 160.2,101.5 160.4,103.6 160.6,105.7 160.9,107.7 161.1,92.3 161.4,55.9 161.6,28.3 161.9,28.6 162.1,32 162.4,35.4 162.6,38.6 162.9,41.8 163.1,45 163.3,48.1 163.6,51.1 163.8,54.1 164.1,57.1 164.3,59.9 164.6,62.8 164.8,65.5 165.1,68.2 165.3,70.9 165.6,73.5 165.8,76 166,78.5 166.3,80.9 166.5,83.3 166.8,85.6 167,87.9 167.3,90.1 167.5,92.2 167.8,94.3 168,96.3 168.3,98.3 168.5,100.2 168.7,98.1 169,69.2 169.2,33.9 169.5,21.6 169.7,25.1 170,28.5 170.2,31.8 170.5,35.1 170.7,38.3 171,41.4 171.2,44.5 171.4,47.6 171.7,50.5 171.9,53.4 172.2,56.3 172.4,59.1 172.7,61.8 172.9,64.5 173.2,67.1 173.4,69.6 173.7,72.1 173.9,74.6 174.1,76.9 174.4,79.2 174.6,81.5 174.9,83.7 175.1,85.8 175.4,87.9 175.6,89.9 175.9,91.9 176.1,92.4 176.4,72.9 176.6,45.3 176.8,32.1 177.1,35.1 177.3,37.9 177.6,40.8 177.8,43.6 178.1,46.3 178.3,49 178.6,51.6 178.8,54.2 179.1,56.8 179.3,59.3 179.5,61.7 179.8,64.1 180,66.4 180.3,68.7 180.5,70.9 180.8,73.1 181,75.3 181.3,77.4 181.5,79.4 181.8,81.4 182,83.3 182.2,85.2 182.5,87 182.7,88.8 183,90.5 183.2,92.2 183.5,93.8 183.7,82.8 184,54.7 184.2,32.6 184.5,32.3 184.7,35 184.9,37.5 185.2,40.1 185.4,42.6 185.7,45.1 185.9,47.5 186.2,49.9 186.4,52.2 186.7,54.5 186.9,56.8 187.2,59 187.4,61.1 187.6,63.2 187.9,65.3 188.1,67.3 188.4,69.3 188.6,71.3 188.9,73.2 189.1,75 189.4,76.8 189.6,78.6 189.9,80.3 190.1,82 190.3,83.6 190.6,85.2 190.8,86.8 191.1,88.3 191.3,87.7 191.6,64.3 191.8,32.9 192.1,19.3 192.3,22.3 192.5,25.3 192.8,28.2 193,31 193.3,33.8 193.5,36.6 193.8,39.3 194,41.9 194.3,44.5 194.5,47.1 194.8,49.6 195,52 195.2,54.4 195.5,56.7 195.7,59 196,61.2 196.2,63.4 196.5,65.5 196.7,67.6 197,69.6 197.2,71.6 197.5,73.5 197.7,75.4 197.9,77.2 198.2,79 198.4,80.7 198.7,82.4 198.9,68.8 199.2,41.2 199.4,22.2 199.7,23.5 199.9,26.1 200.2,28.8 200.4,31.4 200.6,33.9 200.9,36.4 201.1,38.9 201.4,41.3 201.6,43.6 201.9,46 202.1,48.2 202.4,50.5 202.6,52.6 202.9,54.8 203.1,56.8 203.3,58.9 203.6,60.9 203.8,62.8 204.1,64.7 204.3,66.6 204.6,68.4 204.8,70.1 205.1,71.9 205.3,73.5 205.6,75.1 205.8,76.7 206,78.3 206.3,77.2 206.5,56.7 206.8,31.1 207,21.5 207.3,23.8 207.5,26 207.8,28.1 208,30.2 208.3,32.3 208.5,34.4 208.7,36.4 209,38.3 209.2,40.3 209.5,42.2 209.7,44 210,45.8 210.2,47.6 210.5,49.4 210.7,51.1 211,52.7 211.2,54.4 211.4,56 211.7,57.5 211.9,59 212.2,60.5 212.4,61.9 212.7,63.3 212.9,64.7 213.2,66 213.4,67.3 213.7,68.6 213.9,63.6 214.1,42.5 214.4,22.3 214.6,19.5 214.9,22.1 215.1,24.8 215.4,27.4 215.6,29.9 215.9,32.4 216.1,34.8 216.4,37.2 216.6,39.5 216.8,41.8 217.1,44.1 217.3,46.3 217.6,48.4 217.8,50.5 218.1,52.6 218.3,54.6 218.6,56.6 218.8,58.5 219.1,60.3 219.3,62.2 219.5,63.9 219.8,65.7 220,67.3 220.3,68.9 220.5,70.5 220.8,72.1 221,72.7 221.3,59 221.5,38.7 221.8,28.3 222,30.3 222.2,32.4 222.5,34.4 222.7,36.4 223,38.3 223.2,40.2 223.5,42.1 223.7,43.9 224,45.7 224.2,47.5 224.5,49.2 224.7,50.9 224.9,52.6 225.2,54.2 225.4,55.8 225.7,57.4 225.9,58.9 226.2,60.4 226.4,61.8 226.7,63.2 226.9,64.6 227.2,65.9 227.4,67.2 227.6,68.5 227.9,69.7 228.1,70.9 228.4,72.1 228.6,66.2 228.9,45 229.1,25.8 229.4,23.8 229.6,25.9 229.9,28 230.1,30.1 230.3,32.1 230.6,34.1 230.8,36 231.1,37.9 231.3,39.8 231.6,41.6 231.8,43.4 232.1,45.2 232.3,46.9 232.6,48.6 232.8,50.3 233,51.9 233.3,53.5 233.5,55 233.8,56.5 234,58 234.3,59.4 234.5,60.8 234.8,62.2 235,63.5 235.2,64.8 235.5,66.1 235.7,67.3 236,68.4 236.2,59.2 236.5,42.5 236.7,31.9 237,33.2 237.2,35 237.5,36.7 237.7,38.4 237.9,40.1 238.2,41.7 238.4,43.3 238.7,44.9 238.9,46.5 239.2,48 239.4,49.5 239.7,51 239.9,52.4 240.2,53.8 240.4,55.2 240.6,56.5 240.9,57.8 241.1,59.1 241.4,60.4 241.6,61.6 241.9,62.8 242.1,64 242.4,65.1 242.6,66.2 242.9,67.3 243.1,68.3 243.3,69.3 243.6,70.3 243.8,60.9 244.1,38 244.3,20.5 244.6,21 244.8,23.6 245.1,26.2 245.3,28.8 245.6,31.3 245.8,33.7 246,36.2 246.3,38.5 246.5,40.8 246.8,43.1 247,45.3 247.3,47.5 247.5,49.6 247.8,51.7 248,53.8 248.3,55.8 248.5,57.7 248.7,59.6 249,61.4 249.2,63.2 249.5,65 249.7,66.7 250,68.4 250.2,70 250.5,71.5" fill="none" stroke="#cf2a36" stroke-width="1.7" stroke-dasharray="4.6,2.2,1.6,2.2" stroke-linejoin="round" clip-path="url(#ca)"/>
<line x1="237.3" y1="0.2" x2="237.3" y2="116.7" stroke="#000" stroke-width="1.6" stroke-dasharray="4,2.6"/>
<line x1="245.2" y1="0.2" x2="245.2" y2="116.7" stroke="#000" stroke-width="1.6" stroke-dasharray="4,2.6"/>
<line x1="68.4" y1="10.7" x2="88.4" y2="10.7" stroke="#111111" stroke-width="1.65"/>
<text x="90.7" y="15.6" font-family='"Liberation Serif", "DejaVu Serif", serif' font-size="13.6">P1</text>
<line x1="108.4" y1="10.7" x2="128.4" y2="10.7" stroke="#2424ae" stroke-width="1.6" stroke-dasharray="4.2,2.6"/>
<text x="131.8" y="15.6" font-family='"Liberation Serif", "DejaVu Serif", serif' font-size="13.6">P2</text>
<line x1="148.9" y1="10.7" x2="168.9" y2="10.7" stroke="#cf2a36" stroke-width="1.4" stroke-dasharray="4.6,2.2,1.6,2.2"/>
<text x="172" y="15.6" font-family='"Liberation Serif", "DejaVu Serif", serif' font-size="13.6">P3</text>
<line x1="189.8" y1="10.7" x2="209.8" y2="10.7" stroke="#3d8a3a" stroke-width="1.5" stroke-dasharray="1.4,2.0"/>
<text x="212.9" y="15.6" font-family='"Liberation Serif", "DejaVu Serif", serif' font-size="13.6">P4</text>
<rect x="48.5" y="0.2" width="201.7" height="116.5" fill="none" stroke="#555" stroke-width="1.45"/>
<line x1="43.5" y1="19.6" x2="48.5" y2="19.6" stroke="#555" stroke-width="1.3"/>
<text x="38.2" y="24.6" text-anchor="end" font-family='"Liberation Serif", "DejaVu Serif", serif' font-size="14">0.21</text>
<line x1="43.5" y1="58.2" x2="48.5" y2="58.2" stroke="#555" stroke-width="1.3"/>
<text x="38.2" y="63.2" text-anchor="end" font-family='"Liberation Serif", "DejaVu Serif", serif' font-size="14">0.20</text>
<line x1="43.5" y1="97.0" x2="48.5" y2="97.0" stroke="#555" stroke-width="1.3"/>
<text x="38.2" y="102" text-anchor="end" font-family='"Liberation Serif", "DejaVu Serif", serif' font-size="14">0.19</text>
<line x1="48.5" y1="116.7" x2="48.5" y2="121.7" stroke="#555" stroke-width="1.3"/>
<text x="48.5" y="136.7" text-anchor="middle" font-family='"Liberation Serif", "DejaVu Serif", serif' font-size="14">600</text>
<line x1="97.6" y1="116.7" x2="97.6" y2="121.7" stroke="#555" stroke-width="1.3"/>
<text x="97.6" y="136.7" text-anchor="middle" font-family='"Liberation Serif", "DejaVu Serif", serif' font-size="14">620</text>
<line x1="146.7" y1="116.7" x2="146.7" y2="121.7" stroke="#555" stroke-width="1.3"/>
<text x="146.7" y="136.7" text-anchor="middle" font-family='"Liberation Serif", "DejaVu Serif", serif' font-size="14">640</text>
<line x1="195.7" y1="116.7" x2="195.7" y2="121.7" stroke="#555" stroke-width="1.3"/>
<text x="195.7" y="136.7" text-anchor="middle" font-family='"Liberation Serif", "DejaVu Serif", serif' font-size="14">660</text>
<line x1="244.8" y1="116.7" x2="244.8" y2="121.7" stroke="#555" stroke-width="1.3"/>
<text x="244.8" y="136.7" text-anchor="middle" font-family='"Liberation Serif", "DejaVu Serif", serif' font-size="14">680</text>
<text x="149.3" y="150.7" text-anchor="middle" font-family='"Liberation Serif", "DejaVu Serif", serif' font-size="15.5" font-style="italic">(tU<tspan font-size="10.5" dy="3.5">b</tspan><tspan dy="-3.5" dx="1.2">)</tspan><tspan font-size="17" dy="1" dx="0.5">/</tspan><tspan dy="-1" dx="0.3">H</tspan></text>
<text transform="translate(11.2,58.3) rotate(-90)" text-anchor="middle" font-family='"Liberation Serif", "DejaVu Serif", serif' font-size="14.5" font-style="italic">z<tspan font-size="10" dx="0.8" dy="3.5">p</tspan><tspan font-style="normal" font-size="18.5" dx="0.6" dy="-1">/</tspan><tspan font-weight="bold" font-size="13" dy="-2.5" dx="0.4">H</tspan></text>
<text x="150.2" y="177.8" text-anchor="middle" font-family='"Liberation Serif", "DejaVu Serif", serif' font-size="14.5">(a)</text>
<line x1="350.5" y1="17.6" x2="350.5" y2="116.8" stroke="#9a9a9a" stroke-width="1"/>
<line x1="357.2" y1="17.6" x2="357.2" y2="116.8" stroke="#9a9a9a" stroke-width="1"/>
<line x1="410.4" y1="17.6" x2="410.4" y2="116.8" stroke="#9a9a9a" stroke-width="1"/>
<line x1="417.3" y1="17.6" x2="417.3" y2="116.8" stroke="#9a9a9a" stroke-width="1"/>
<line x1="466.9" y1="17.6" x2="466.9" y2="116.8" stroke="#9a9a9a" stroke-width="1"/>
<line x1="473.4" y1="17.6" x2="473.4" y2="116.8" stroke="#9a9a9a" stroke-width="1"/>
<line x1="448.5" y1="17.6" x2="448.5" y2="116.8" stroke="#000" stroke-width="1.6" stroke-dasharray="4,2.6"/>
<line x1="512.3" y1="17.6" x2="512.3" y2="116.8" stroke="#000" stroke-width="1.6" stroke-dasharray="4,2.6"/>
<path d="M313,39.1 313.4,39.1 313.8,39.2 314.2,39.2 314.6,39.2 315,39.3 315.5,39.3 315.9,39.3 316.3,39.4 316.7,39.4 317.1,39.4 317.5,39.5 317.9,39.5 318.3,39.5 318.7,39.6 319.1,39.6 319.5,39.6 319.9,39.7 320.3,39.7 320.7,39.8 321.1,39.8 321.5,39.9 321.9,39.9 322.3,40 322.7,40 323.2,40.1 323.6,40.1 324,40.2 324.4,40.2 324.8,40.3 325.2,40.3 325.6,40.4 326,40.5 326.4,40.5 326.8,40.6 327.2,40.7 327.6,40.8 328,40.9 328.4,41 328.8,41.1 329.2,41.2 329.6,41.3 329.9,41.4 330.3,41.6 330.7,41.7 331.1,41.8 331.5,42 331.8,42.1 332.2,42.3 332.6,42.5 333,42.6 333.4,42.8 333.7,43 334.1,43.1 334.5,43.3 334.8,43.5 335.2,43.7 335.6,43.9 335.9,44 336.2,44.2 336.6,44.4 336.9,44.6 337.3,44.8 337.6,45 338,45.3 338.3,45.5 338.6,45.7 338.9,46 339.2,46.2 339.6,46.5 339.9,46.7 340.2,47 340.5,47.2 340.8,47.5 341.1,47.7 341.4,48 341.7,48.2 342,48.5 342.3,48.8 342.6,49 342.9,49.3 343.3,49.6 343.6,49.9 343.9,50.2 344.2,50.5 344.5,50.8 344.8,51.1 345.1,51.4 345.4,51.7 345.7,52 346,52.3 346.3,52.5 346.6,52.8 346.9,53.1 347.2,53.3 347.6,53.6 347.9,53.9 348.2,54.1 348.6,54.4 348.9,54.6 349.2,54.8 349.5,55.1 349.8,55.3 350.2,55.6 350.5,55.8 350.5,55.8 350.7,55.5 351,55.2 351.2,54.9 351.5,54.6 351.7,54.3 351.9,53.9 352.2,53.6 352.4,53.3 352.6,53 352.8,52.6 353,52.2 353.2,51.8 353.3,51.5 353.4,51.2 353.5,50.8 353.6,50.5 353.7,50.1 353.8,49.7 353.8,49.4 353.9,49 353.9,48.6 354,48.2 354,47.8 354.1,47.3 354.1,46.9 354.2,46.5 354.2,46 354.3,45.6 354.3,45.2 354.3,44.7 354.4,44.3 354.4,43.8 354.5,43.4 354.5,42.9 354.5,42.5 354.6,42 354.6,41.6 354.7,41.3 354.7,40.9 354.8,40.5 354.8,40.1 354.8,39.7 354.9,39.3 354.9,38.9 355,38.5 355,38.1 355,37.7 355.1,37.2 355.1,36.8 355.1,36.4 355.2,36 355.2,35.5 355.2,35.1 355.3,34.7 355.3,34.2 355.3,33.8 355.4,33.4 355.4,33 355.5,32.5 355.5,32.1 355.5,31.7 355.6,31.3 355.6,30.9 355.7,30.4 355.7,30 355.7,29.6 355.8,29.2 355.8,28.9 355.9,28.5 355.9,28.1 356,27.7 356,27.4 356.1,27 356.2,26.5 356.3,26.1 356.3,25.7 356.4,25.2 356.5,24.8 356.6,24.4 356.7,24 356.8,23.6 356.9,23.2 357,22.8 357.1,22.4 357.1,22 357.2,21.6 357.3,21.2 357.4,20.8 357.5,20.5 357.6,20.1 357.7,19.7 357.8,19.3 357.9,18.9 358,18.5 358.1,18.1 358.1,18.1 358.3,18.4 358.5,18.8 358.8,19.1 359,19.4 359.2,19.8 359.4,20.1 359.6,20.4 359.8,20.7 360,21.1 360.3,21.4 360.5,21.8 360.7,22.1 361,22.5 361.2,22.8 361.4,23.1 361.6,23.5 361.8,23.8 362.1,24.2 362.3,24.5 362.5,24.9 362.7,25.2 363,25.6 363.2,26 363.5,26.3 363.7,26.7 363.9,27 364.2,27.4 364.5,27.7 364.7,28 365,28.4 365.2,28.7 365.5,28.9 365.8,29.2 366.1,29.5 366.4,29.7 366.8,30 367.1,30.2 367.5,30.5 367.8,30.7 368.2,30.9 368.6,31.1 368.9,31.3 369.3,31.5 369.7,31.6 370.1,31.8 370.4,32 370.8,32.1 371.1,32.3 371.5,32.4 371.9,32.5 372.3,32.7 372.7,32.8 373.1,32.9 373.5,33 373.9,33.1 374.3,33.1 374.7,33.2 375.1,33.3 375.5,33.3 375.9,33.4 376.3,33.5 376.7,33.6 377.1,33.6 377.5,33.7 378,33.8 378.4,33.8 378.8,33.9 379.3,34 379.7,34 380.1,34.1 380.5,34.2 381,34.3 381.4,34.4 381.8,34.5 382.2,34.6 382.6,34.8 382.9,34.9 383.3,35.1 383.7,35.2 384.1,35.4 384.4,35.6 384.8,35.8 385.2,36 385.5,36.2 385.9,36.4 386.3,36.6 386.6,36.8 387,37 387.4,37.2 387.7,37.4 388,37.6 388.4,37.8 388.7,38 389.1,38.3 389.4,38.5 389.7,38.7 390.1,38.9 390.4,39.2 390.8,39.4 391.1,39.7 391.5,39.9 391.8,40.2 392.2,40.5 392.5,40.7 392.8,41 393.1,41.2 393.3,41.4 393.6,41.7 393.9,42 394.2,42.2 394.6,42.5 394.9,42.8 395.2,43 395.5,43.3 395.8,43.6 396.1,43.9 396.4,44.2 396.7,44.5 397,44.8 397.3,45 397.6,45.3 397.9,45.6 398.2,45.9 398.5,46.2 398.8,46.5 399.1,46.8 399.3,47 399.6,47.3 399.9,47.6 400.2,47.9 400.5,48.2 400.8,48.5 401.1,48.9 401.3,49.2 401.6,49.5 401.9,49.8 402.2,50.1 402.4,50.4 402.7,50.7 403,51.1 403.2,51.4 403.5,51.7 403.7,51.9 404,52.2 404.3,52.5 404.5,52.8 404.8,53 405,53.3 405.3,53.6 405.7,54 406,54.3 406.3,54.6 406.6,54.9 407,55.2 407.3,55.5 407.6,55.7 407.9,56 408.2,56.3 408.5,56.5 408.9,56.8 409.3,57 409.6,57.3 410,57.5 410.4,57.7 410.7,58 411.1,58.2 411.1,58.2 411.2,57.8 411.3,57.4 411.3,57 411.4,56.7 411.5,56.3 411.6,55.9 411.7,55.5 411.8,55.2 411.9,54.8 411.9,54.4 412,54 412.1,53.7 412.2,53.3 412.3,52.9 412.4,52.5 412.4,52.2 412.5,51.8 412.6,51.4 412.7,51 412.8,50.6 412.8,50.2 412.9,49.8 413,49.4 413.1,48.9 413.2,48.5 413.2,48.1 413.3,47.6 413.4,47.3 413.4,46.9 413.5,46.6 413.5,46.2 413.6,45.8 413.6,45.4 413.6,45.1 413.7,44.7 413.7,44.3 413.8,43.9 413.8,43.5 413.9,43.1 413.9,42.6 414,42.2 414,41.8 414,41.4 414.1,40.9 414.1,40.5 414.2,40.1 414.2,39.6 414.3,39.2 414.3,38.8 414.3,38.3 414.4,37.9 414.4,37.5 414.5,37 414.5,36.6 414.5,36.2 414.6,35.7 414.6,35.3 414.7,34.9 414.7,34.4 414.7,34 414.8,33.6 414.8,33.2 414.9,32.8 414.9,32.4 414.9,32 415,31.6 415,31.2 415.1,30.8 415.1,30.4 415.2,30.1 415.2,29.7 415.3,29.3 415.3,29 415.4,28.7 415.4,28.3 415.5,28 415.5,27.7 415.6,27.2 415.7,26.7 415.8,26.3 415.8,25.8 415.9,25.4 416,25 416.1,24.6 416.2,24.2 416.3,23.8 416.4,23.4 416.5,23.1 416.6,22.7 416.7,22.3 416.7,21.9 416.8,21.6 416.9,21.2 417,20.8 417.1,20.4 417.2,20 417.2,20 417.4,20.4 417.6,20.7 417.7,21.1 417.9,21.5 418.1,21.8 418.2,22.2 418.4,22.6 418.6,22.9 418.7,23.3 418.9,23.6 419.1,24 419.3,24.4 419.5,24.8 419.7,25.1 419.9,25.5 420.1,25.8 420.3,26.2 420.5,26.5 420.7,26.9 420.9,27.2 421.2,27.6 421.4,27.9 421.6,28.3 421.9,28.6 422.1,29 422.4,29.4 422.6,29.7 422.8,30.1 423.1,30.4 423.3,30.8 423.6,31.1 423.8,31.4 424.1,31.8 424.3,32.1 424.6,32.4 424.8,32.8 425.1,33.1 425.3,33.4 425.6,33.7 425.8,34 426.1,34.3 426.3,34.7 426.6,35 426.8,35.3 427.1,35.6 427.3,35.9 427.6,36.2 427.9,36.6 428.1,36.9 428.4,37.2 428.7,37.6 428.9,37.9 429.2,38.2 429.4,38.5 429.6,38.8 429.9,39.1 430.1,39.4 430.3,39.8 430.6,40.1 430.8,40.4 431.1,40.8 431.3,41.1 431.6,41.5 431.8,41.8 432.1,42.1 432.3,42.5 432.6,42.8 432.8,43.2 433.1,43.5 433.4,43.9 433.6,44.2 433.9,44.5 434.1,44.9 434.4,45.2 434.6,45.5 434.9,45.9 435.1,46.2 435.4,46.5 435.7,46.8 435.9,47.1 436.2,47.5 436.4,47.8 436.7,48.1 437,48.4 437.2,48.7 437.5,49 437.8,49.3 438,49.6 438.3,49.9 438.6,50.2 438.8,50.5 439.1,50.8 439.4,51.1 439.6,51.4 439.9,51.7 440.2,52 440.4,52.3 440.7,52.6 441,52.9 441.2,53.2 441.5,53.6 441.7,53.9 442,54.2 442.3,54.5 442.5,54.8 442.8,55.2 443,55.5 443.3,55.8 443.5,56.1 443.8,56.4 444,56.8 444.3,57.1 444.5,57.4 444.7,57.8 445,58.1 445.2,58.4 445.5,58.8 445.7,59.1 446,59.4 446.2,59.8 446.5,60.1 446.7,60.4 447,60.8 447.2,61.1 447.5,61.4 447.7,61.8 448,62.1 448.2,62.4 448.5,62.8 448.7,63.1 448.9,63.4 449.2,63.8 449.4,64.1 449.7,64.4 449.9,64.7 450.2,65.1 450.4,65.4 450.7,65.7 450.9,66 451.1,66.4 451.4,66.7 451.6,67 451.9,67.3 452.1,67.7 452.4,68 452.6,68.3 452.9,68.6 453.1,69 453.3,69.3 453.6,69.6 453.8,69.9 454.1,70.3 454.3,70.6 454.6,70.9 454.8,71.2 455.1,71.6 455.3,71.9 455.5,72.2 455.8,72.6 456,72.9 456.3,73.2 456.5,73.6 456.8,73.9 457,74.2 457.3,74.6 457.5,74.9 457.8,75.2 458,75.6 458.3,75.9 458.5,76.3 458.8,76.6 459,76.9 459.3,77.3 459.5,77.6 459.8,77.9 460,78.3 460.3,78.6 460.5,78.9 460.7,79.2 461,79.6 461.2,79.9 461.4,80.2 461.7,80.5 461.9,80.8 462.2,81.2 462.4,81.5 462.7,81.8 462.9,82.2 463.2,82.5 463.4,82.9 463.7,83.2 463.9,83.5 464.2,83.8 464.4,84.2 464.6,84.5 464.9,84.8 465.1,85.1 465.4,85.5 465.6,85.8 465.8,86.1 466.1,86.4 466.3,86.7 466.6,87.1 466.8,87.4 466.8,87.4 466.9,87 467,86.6 467.1,86.2 467.2,85.9 467.3,85.5 467.4,85.1 467.6,84.8 467.7,84.4 467.8,84 467.9,83.7 468,83.3 468.1,83 468.2,82.6 468.3,82.2 468.4,81.9 468.5,81.5 468.6,81.1 468.8,80.7 468.9,80.3 469,79.9 469.1,79.5 469.2,79.1 469.3,78.7 469.3,78.2 469.4,77.8 469.5,77.3 469.6,76.8 469.7,76.3 469.7,76 469.8,75.7 469.8,75.4 469.9,75.1 469.9,74.7 470,74.4 470,74 470,73.7 470.1,73.3 470.1,73 470.2,72.6 470.2,72.2 470.2,71.9 470.3,71.5 470.3,71.1 470.3,70.7 470.4,70.3 470.4,69.9 470.4,69.5 470.5,69 470.5,68.6 470.5,68.2 470.5,67.8 470.6,67.3 470.6,66.9 470.6,66.5 470.6,66 470.7,65.6 470.7,65.1 470.7,64.7 470.7,64.2 470.8,63.8 470.8,63.3 470.8,62.9 470.8,62.4 470.8,62 470.9,61.5 470.9,61 470.9,60.6 470.9,60.1 470.9,59.7 471,59.2 471,58.7 471,58.3 471,57.8 471,57.4 471.1,56.9 471.1,56.5 471.1,56 471.1,55.5 471.1,55.1 471.2,54.6 471.2,54.2 471.2,53.8 471.2,53.3 471.2,52.9 471.3,52.4 471.3,52 471.3,51.6 471.3,51.2 471.3,50.7 471.4,50.3 471.4,49.9 471.4,49.5 471.4,49.1 471.5,48.7 471.5,48.3 471.5,47.9 471.5,47.6 471.5,47.2 471.6,46.8 471.6,46.4 471.6,46.1 471.7,45.7 471.7,45.4 471.7,45.1 471.7,44.7 471.8,44.4 471.8,44.1 471.8,43.8 471.9,43.5 471.9,43.2 472,42.7 472,42.2 472.1,41.7 472.2,41.3 472.2,40.8 472.3,40.4 472.4,40 472.4,39.6 472.5,39.2 472.6,38.8 472.6,38.4 472.7,38 472.8,37.6 472.8,37.3 472.9,36.9 473,36.6 473,36.2 473.1,35.8 473.2,35.5 473.3,35.1 473.3,34.7 473.4,34.4 473.5,34 473.5,33.6 473.6,33.2 473.6,33.2 473.7,33.6 473.8,34 473.9,34.4 474,34.8 474.1,35.2 474.2,35.6 474.3,36 474.4,36.4 474.5,36.8 474.6,37.1 474.7,37.5 474.8,37.9 474.9,38.3 475,38.7 475.1,39.1 475.2,39.5 475.3,39.9 475.4,40.3 475.5,40.7 475.6,41.1 475.8,41.5 475.9,41.9 476,42.4 476.2,42.8 476.3,43.2 476.4,43.6 476.5,43.9 476.7,44.3 476.8,44.7 476.9,45 477.1,45.4 477.2,45.8 477.3,46.2 477.5,46.6 477.6,47 477.8,47.3 477.9,47.7 478.1,48.1 478.2,48.5 478.4,48.9 478.5,49.3 478.7,49.7 478.8,50.1 479,50.5 479.2,50.9 479.3,51.3 479.5,51.7 479.7,52.1 479.8,52.4 480,52.8 480.2,53.2 480.3,53.6 480.5,53.9 480.7,54.3 480.9,54.7 481.1,55 481.2,55.4 481.4,55.7 481.6,56.1 481.8,56.4 482,56.8 482.2,57.1 482.5,57.5 482.7,57.9 482.9,58.2 483.2,58.6 483.4,58.9 483.7,59.3 483.9,59.6 484.1,59.9 484.4,60.3 484.6,60.6 484.9,60.9 485.2,61.2 485.4,61.5 485.7,61.9 485.9,62.2 486.2,62.5 486.4,62.8 486.7,63.1 487,63.4 487.2,63.7 487.5,64.1 487.7,64.4 488,64.7 488.2,65 488.5,65.3 488.8,65.6 489,65.9 489.3,66.3 489.5,66.6 489.8,66.9 490.1,67.2 490.3,67.6 490.6,67.9 490.8,68.2 491.1,68.5 491.4,68.8 491.6,69.1 491.9,69.5 492.1,69.8 492.4,70.1 492.7,70.4 492.9,70.7 493.2,71 493.5,71.3 493.7,71.6 494,71.9 494.3,72.2 494.6,72.4 494.8,72.7 495.1,73 495.4,73.3 495.7,73.6 496,73.9 496.3,74.2 496.6,74.5 496.9,74.7 497.3,75 497.6,75.3 497.9,75.6 498.2,75.8 498.5,76.1 498.8,76.3 499.1,76.6 499.5,76.9 499.8,77.1 500.1,77.4 500.4,77.6 500.7,77.9 501.1,78.1 501.4,78.4 501.7,78.6 502,78.8 502.4,79.1 502.7,79.3 503,79.5 503.4,79.8 503.7,80 504.1,80.2 504.4,80.4 504.8,80.6 505.1,80.8 505.5,81 505.8,81.2 506.2,81.5 506.5,81.7 506.8,81.9 507.2,82.1 507.5,82.3 507.8,82.5 508.1,82.8 508.4,83 508.7,83.3 509,83.5 509.3,83.8 509.6,84.1 509.9,84.4 510.2,84.6 510.5,84.9 510.8,85.2 511.1,85.5 511.3,85.8 511.6,86.1 511.9,86.4 512.2,86.6 512.4,86.9 512.7,87.2 513,87.5" fill="none" stroke="#111111" stroke-width="1.65" stroke-linejoin="round" clip-path="url(#cb)"/>
<path d="M313,45 313.1,44.6 313.3,44.2 313.4,43.8 313.5,43.4 313.6,43 313.8,42.6 313.9,42.1 314,41.7 314.1,41.3 314.3,40.9 314.4,40.5 314.5,40.1 314.6,39.7 314.8,39.3 314.9,38.9 315,38.5 315.1,38.1 315.3,37.7 315.4,37.4 315.5,37 315.6,36.6 315.8,36.2 315.9,35.8 316,35.4 316.2,35 316.3,34.6 316.4,34.2 316.6,33.9 316.7,33.5 316.8,33.1 317,32.7 317.1,32.3 317.2,32 317.4,31.6 317.5,31.2 317.5,31.2 317.6,31.6 317.7,32 317.9,32.4 318,32.8 318.1,33.2 318.2,33.7 318.3,34.1 318.5,34.5 318.6,34.9 318.7,35.4 318.8,35.8 318.9,36.2 319.1,36.7 319.2,37.1 319.3,37.5 319.4,38 319.6,38.4 319.7,38.8 319.8,39.2 319.9,39.6 320,40 320.2,40.4 320.3,40.8 320.4,41.2 320.5,41.6 320.6,42 320.7,42.3 320.8,42.7 321,43 321.1,43.4 321.2,43.7 321.3,44 321.4,44.3 321.5,44.6 321.7,45.1 321.8,45.5 322,45.9 322.2,46.2 322.3,46.6 322.5,46.9 322.6,47.3 322.8,47.6 323,48 323.2,48.4 323.4,48.8 323.5,49.1 323.7,49.4 323.9,49.7 324,50 324.2,50.3 324.4,50.7 324.6,51 324.7,51.4 324.9,51.7 325.1,52.1 325.3,52.4 325.5,52.8 325.7,53.2 325.9,53.6 326.2,53.9 326.4,54.3 326.6,54.7 326.8,55.1 327,55.5 327.3,55.8 327.5,56.2 327.7,56.6 327.9,57 328.2,57.4 328.4,57.7 328.6,58.1 328.8,58.5 329.1,58.8 329.3,59.2 329.5,59.5 329.7,59.9 329.9,60.2 330.2,60.5 330.4,60.9 330.6,61.2 330.8,61.5 331.1,61.9 331.3,62.2 331.5,62.6 331.7,62.9 332,63.2 332.2,63.6 332.4,63.9 332.7,64.2 332.9,64.6 333.2,64.9 333.4,65.2 333.6,65.6 333.9,65.9 334.1,66.2 334.4,66.5 334.6,66.8 334.8,67.2 335.1,67.5 335.3,67.8 335.6,68.1 335.8,68.4 336.1,68.7 336.3,69 336.6,69.3 336.8,69.6 337.1,69.9 337.3,70.2 337.6,70.6 337.9,70.9 338.2,71.2 338.5,71.5 338.7,71.8 339,72.1 339.3,72.4 339.6,72.7 339.8,73 340.1,73.3 340.4,73.6 340.7,73.9 341,74.2 341.3,74.5 341.5,74.8 341.8,75.1 342.1,75.3 342.4,75.6 342.7,75.9 343,76.1 343.3,76.4 343.6,76.6 343.9,76.9 344.2,77.1 344.5,77.4 344.9,77.6 345.2,77.9 345.6,78.1 345.9,78.3 346.3,78.5 346.6,78.8 347,79 347.4,79.2 347.7,79.4 348.1,79.6 348.4,79.8 348.8,80 349.2,80.2 349.5,80.3 349.9,80.5 350.3,80.7 350.6,80.9 351,81.1 351.3,81.3 351.7,81.5 352.1,81.7 352.5,81.9 352.8,82.1 353.2,82.3 353.6,82.5 354,82.7 354.4,82.9 354.8,83.1 355.2,83.3 355.6,83.5 356,83.7 356.4,83.9 356.7,84 357.1,84.2 357.5,84.4 357.8,84.6 358.2,84.8 358.5,85 358.8,85.1 359.1,85.3 359.5,85.6 359.9,85.9 360.3,86.2 360.6,86.5 361,86.8 361.3,87 361.6,87.2 362,87.4 362.4,87.5 362.8,87.5 363.2,87.5 363.6,87.4 364,87.3 364.4,87.1 364.8,86.9 365.2,86.7 365.6,86.5 366.1,86.3 366.5,86.2 366.9,86 366.9,86 367,85.6 367.1,85.2 367.2,84.8 367.3,84.5 367.4,84.1 367.5,83.7 367.6,83.3 367.7,83 367.8,82.6 367.9,82.2 368.1,81.8 368.2,81.5 368.3,81.1 368.4,80.7 368.5,80.4 368.6,80 368.7,79.6 368.8,79.2 368.9,78.8 369,78.4 369.1,78 369.2,77.6 369.3,77.2 369.4,76.8 369.5,76.4 369.6,75.9 369.6,75.5 369.7,75 369.8,74.6 369.9,74.1 370,73.8 370,73.4 370.1,73.1 370.1,72.8 370.1,72.4 370.2,72.1 370.2,71.7 370.3,71.3 370.3,71 370.4,70.6 370.4,70.2 370.5,69.8 370.5,69.4 370.5,69 370.6,68.6 370.6,68.2 370.6,67.8 370.7,67.4 370.7,67 370.8,66.6 370.8,66.1 370.8,65.7 370.9,65.3 370.9,64.9 370.9,64.4 370.9,64 371,63.6 371,63.1 371,62.7 371.1,62.3 371.1,61.8 371.1,61.4 371.1,60.9 371.2,60.5 371.2,60.1 371.2,59.6 371.3,59.2 371.3,58.7 371.3,58.3 371.3,57.9 371.4,57.4 371.4,57 371.4,56.6 371.4,56.1 371.5,55.7 371.5,55.3 371.5,54.9 371.5,54.4 371.6,54 371.6,53.6 371.6,53.2 371.7,52.8 371.7,52.4 371.7,52 371.7,51.6 371.8,51.2 371.8,50.8 371.8,50.4 371.9,50.1 371.9,49.7 371.9,49.3 371.9,49 372,48.6 372,48.3 372,48 372.1,47.6 372.1,47.3 372.2,46.8 372.2,46.3 372.3,45.9 372.3,45.4 372.4,45 372.4,44.5 372.5,44.1 372.5,43.7 372.6,43.3 372.6,42.8 372.7,42.4 372.7,42 372.8,41.6 372.8,41.2 372.9,40.9 372.9,40.5 373,40.1 373,39.7 373.1,39.3 373.1,38.9 373.2,38.6 373.2,38.2 373.3,37.8 373.3,37.4 373.4,37 373.4,36.6 373.5,36.2 373.5,35.8 373.6,35.4 373.6,35.4 373.7,35.8 373.9,36.2 374,36.6 374.1,36.9 374.2,37.3 374.4,37.7 374.5,38.1 374.6,38.5 374.7,38.9 374.9,39.2 375,39.6 375.1,40 375.2,40.4 375.3,40.8 375.5,41.2 375.6,41.6 375.7,41.9 375.9,42.3 376,42.7 376.1,43.1 376.3,43.5 376.4,43.9 376.6,44.3 376.8,44.6 376.9,45 377.1,45.4 377.3,45.8 377.5,46.1 377.6,46.5 377.8,46.8 378,47.2 378.2,47.5 378.4,47.8 378.6,48.2 378.7,48.5 378.9,48.9 379.1,49.2 379.3,49.6 379.6,49.9 379.8,50.3 380,50.6 380.2,51 380.4,51.3 380.6,51.6 380.8,52 381.1,52.3 381.3,52.7 381.5,53 381.8,53.4 382,53.7 382.2,54 382.4,54.4 382.7,54.7 382.9,55.1 383.1,55.4 383.4,55.7 383.6,56.1 383.9,56.4 384.1,56.7 384.3,57.1 384.6,57.4 384.8,57.7 385,58 385.3,58.3 385.5,58.7 385.8,59 386,59.3 386.3,59.6 386.5,59.9 386.8,60.2 387,60.6 387.3,60.9 387.5,61.2 387.8,61.5 388.1,61.8 388.3,62.1 388.6,62.4 388.8,62.7 389.1,63 389.4,63.3 389.6,63.6 389.9,63.9 390.2,64.2 390.4,64.5 390.7,64.8 391,65.1 391.3,65.4 391.5,65.7 391.8,66 392.1,66.3 392.3,66.6 392.6,66.9 392.9,67.3 393.2,67.6 393.4,67.9 393.7,68.2 394,68.5 394.2,68.8 394.5,69.1 394.8,69.4 395,69.7 395.3,70.1 395.6,70.4 395.9,70.7 396.1,71.1 396.4,71.4 396.7,71.7 397,72.1 397.3,72.4 397.6,72.7 397.8,73.1 398.1,73.4 398.4,73.7 398.7,74.1 399,74.4 399.3,74.7 399.6,75.1 399.8,75.4 400.1,75.7 400.4,76 400.7,76.4 400.9,76.7 401.2,77 401.5,77.3 401.7,77.6 402,77.9 402.2,78.1 402.5,78.4 402.7,78.7 403,78.9 403.2,79.2 403.4,79.4 403.7,79.7 403.9,79.9 404.1,80.1 404.5,80.5 404.8,80.8 405.2,81.1 405.6,81.4 405.9,81.7 406.2,82 406.5,82.2 406.8,82.5 407.1,82.7 407.4,83 407.7,83.2 408,83.5 408.3,83.8 408.6,84.1 408.8,84.5 409.1,84.8 409.3,85.1 409.6,85.4 409.8,85.7 410.1,86 410.4,86.3 410.7,86.6 411.1,86.8 411.4,87 411.8,87.2 412.1,87.5 412.5,87.7 412.9,87.9 413.3,88.1 413.6,88.3 414,88.6 414.3,88.8 414.7,89.1 415,89.4 415.3,89.6 415.7,89.9 416,90.2 416.4,90.5 416.7,90.7 417,91 417.4,91.3 417.7,91.5 418,91.8 418.3,92.1 418.7,92.3 419,92.6 419.3,92.8 419.6,93.1 419.9,93.3 420.3,93.6 420.6,93.8 420.9,94.1 421.2,94.3 421.2,94.3 421.4,94 421.7,93.6 421.9,93.3 422.2,93 422.5,92.7 422.7,92.4 423,92 423.2,91.7 423.5,91.4 423.7,91 423.9,90.7 424.1,90.3 424.3,89.9 424.5,89.5 424.6,89.2 424.7,88.8 424.8,88.5 424.9,88.1 425,87.7 425.1,87.3 425.2,86.9 425.2,86.5 425.3,86.1 425.3,85.7 425.4,85.2 425.4,84.8 425.4,84.4 425.5,83.9 425.5,83.5 425.5,83.1 425.6,82.6 425.6,82.2 425.6,81.7 425.7,81.3 425.7,80.9 425.8,80.4 425.8,80 425.8,79.6 425.9,79.2 425.9,78.8 426,78.4 426,78 426,77.6 426,77.2 426.1,76.8 426.1,76.4 426.1,76 426.2,75.6 426.2,75.2 426.2,74.8 426.2,74.4 426.3,74 426.3,73.6 426.3,73.2 426.4,72.8 426.4,72.4 426.4,72 426.4,71.5 426.5,71.1 426.5,70.7 426.5,70.3 426.5,69.9 426.6,69.4 426.6,69 426.6,68.6 426.7,68.2 426.7,67.9 426.7,67.5 426.7,67.1 426.8,66.7 426.8,66.3 426.8,65.9 426.8,65.5 426.9,65.1 426.9,64.7 426.9,64.3 427,63.9 427,63.4 427,63 427,62.6 427.1,62.2 427.1,61.8 427.1,61.4 427.2,61 427.2,60.6 427.2,60.1 427.2,59.7 427.3,59.3 427.3,58.9 427.3,58.5 427.4,58.1 427.4,57.7 427.4,57.3 427.4,56.9 427.5,56.5 427.5,56.1 427.5,55.8 427.6,55.4 427.6,55 427.6,54.6 427.7,54.1 427.7,53.7 427.7,53.3 427.8,52.8 427.8,52.4 427.8,51.9 427.9,51.5 427.9,51.1 427.9,50.6 428,50.2 428,49.8 428,49.4 428.1,48.9 428.1,48.5 428.1,48.1 428.2,47.7 428.2,47.3 428.3,46.9 428.3,46.5 428.3,46.1 428.4,45.8 428.4,45.4 428.5,45 428.5,44.7 428.6,44.3 428.6,44 428.7,43.5 428.8,43.1 428.8,42.6 428.9,42.2 429,41.8 429.1,41.4 429.2,41 429.3,40.6 429.3,40.2 429.4,39.8 429.5,39.4 429.6,39 429.6,39 429.8,39.4 429.9,39.7 430.1,40.1 430.3,40.5 430.4,40.9 430.6,41.2 430.8,41.6 430.9,42 431.1,42.3 431.3,42.7 431.4,43.1 431.6,43.4 431.8,43.8 431.9,44.2 432.1,44.6 432.3,44.9 432.5,45.3 432.7,45.7 432.9,46.1 433.1,46.5 433.3,46.9 433.5,47.3 433.7,47.6 433.8,47.9 434,48.3 434.2,48.6 434.4,48.9 434.6,49.3 434.8,49.6 434.9,50 435.1,50.3 435.3,50.7 435.5,51.1 435.7,51.4 435.9,51.8 436.1,52.1 436.4,52.5 436.6,52.9 436.8,53.2 437,53.6 437.2,54 437.4,54.3 437.6,54.7 437.9,55.1 438.1,55.4 438.3,55.8 438.5,56.1 438.7,56.5 439,56.8 439.2,57.2 439.4,57.5 439.6,57.8 439.9,58.2 440.1,58.5 440.3,58.8 440.5,59.1 440.8,59.4 441,59.7 441.3,60 441.5,60.4 441.8,60.7 442.1,61 442.4,61.3 442.7,61.6 443,61.9 443.2,62.2 443.5,62.5 443.8,62.8 444.1,63.1 444.4,63.3 444.7,63.6 445,63.9 445.3,64.2 445.6,64.4 445.9,64.7 446.2,65 446.5,65.2 446.7,65.5 447,65.8 447.3,66.1 447.6,66.3 447.9,66.6 448.1,66.9 448.4,67.2 448.7,67.5 449,67.8 449.2,68.1 449.5,68.4 449.8,68.7 450.1,69 450.4,69.3 450.6,69.7 450.9,70 451.2,70.3 451.5,70.6 451.7,70.9 452,71.2 452.3,71.5 452.5,71.8 452.8,72.1 453,72.4 453.3,72.7 453.5,73.1 453.7,73.4 454,73.7 454.2,74 454.4,74.3 454.6,74.6 454.8,75 455,75.3 455.2,75.7 455.4,76.1 455.5,76.5 455.6,76.8 455.8,77.2 455.9,77.6 456,77.9 456.2,78.3 456.3,78.7 456.5,79 456.6,79.4 456.8,79.8 457,80.1 457.2,80.5 457.5,80.8 457.7,81.1 458,81.3 458.2,81.6 458.5,81.9 458.8,82.1 459.1,82.4 459.4,82.7 459.7,82.9 460,83.2 460.3,83.4 460.6,83.7 461,83.9 461.3,84.2 461.7,84.4 462,84.7 462.4,84.9 462.8,85.2 463.1,85.4 463.5,85.6 463.8,85.9 464.2,86.1 464.6,86.3 464.9,86.5 465.3,86.8 465.6,87 466,87.2 466.3,87.4 466.7,87.6 467,87.8 467.4,88 467.8,88.3 468.2,88.5 468.5,88.7 468.9,88.9 469.3,89.1 469.7,89.3 470.1,89.5 470.5,89.6 470.8,89.8 471.2,90 471.6,90.2 472,90.4 472.4,90.5 472.7,90.7 473.1,90.9 473.5,91 473.8,91.2 474.2,91.3 474.5,91.5 474.9,91.7 475.2,91.8 475.6,92 476,92.2 476.5,92.3 476.9,92.5 477.3,92.7 477.6,92.8 478,93 478.4,93.1 478.8,93.3 479.2,93.4 479.5,93.5 479.9,93.7 480.3,93.8 480.7,94 480.7,94 480.8,93.6 480.8,93.2 480.9,92.8 480.9,92.4 481,92 481.1,91.6 481.1,91.2 481.2,90.8 481.3,90.4 481.3,90 481.4,89.6 481.4,89.2 481.5,88.8 481.6,88.4 481.6,88.1 481.7,87.7 481.8,87.3 481.8,86.9 481.9,86.5 482,86.1 482,85.7 482.1,85.3 482.1,84.9 482.2,84.5 482.3,84.1 482.3,83.7 482.4,83.3 482.5,82.9 482.5,82.5 482.6,82.1 482.6,81.8 482.7,81.4 482.8,81 482.8,80.6 482.9,80.2 483,79.8 483,79.4 483.1,79 483.1,78.5 483.2,78.1 483.3,77.7 483.3,77.3 483.4,76.9 483.4,76.5 483.5,76.1 483.5,75.7 483.6,75.3 483.6,74.9 483.7,74.4 483.7,74 483.8,73.6 483.9,73.2 483.9,72.8 484,72.3 484,71.9 484,71.5 484.1,71.1 484.1,70.8 484.2,70.4 484.2,70 484.2,69.6 484.3,69.2 484.3,68.8 484.4,68.4 484.4,67.9 484.4,67.5 484.5,67.1 484.5,66.7 484.5,66.3 484.6,65.9 484.6,65.4 484.6,65 484.7,64.6 484.7,64.1 484.7,63.7 484.8,63.3 484.8,62.8 484.8,62.4 484.9,62 484.9,61.5 484.9,61.1 485,60.7 485,60.2 485,59.8 485.1,59.4 485.1,58.9 485.1,58.5 485.2,58 485.2,57.6 485.2,57.2 485.2,56.7 485.3,56.3 485.3,55.9 485.3,55.4 485.4,55 485.4,54.6 485.4,54.2 485.4,53.7 485.5,53.3 485.5,52.9 485.5,52.5 485.5,52.1 485.6,51.6 485.6,51.2 485.6,50.8 485.7,50.4 485.7,50 485.7,49.6 485.7,49.2 485.8,48.8 485.8,48.5 485.8,48.1 485.8,47.7 485.9,47.3 485.9,46.9 485.9,46.6 485.9,46.2 486,45.9 486,45.5 486,45.2 486.1,44.8 486.1,44.5 486.1,44.2 486.1,43.8 486.2,43.5 486.2,43.2 486.2,42.7 486.3,42.2 486.3,41.7 486.4,41.3 486.4,40.8 486.5,40.4 486.5,40 486.6,39.5 486.6,39.1 486.7,38.7 486.7,38.3 486.7,37.9 486.8,37.5 486.8,37.1 486.9,36.7 486.9,36.4 487,36 487,35.6 487,35.2 487.1,34.8 487.1,34.5 487.2,34.1 487.2,33.7 487.3,33.3 487.3,32.9 487.4,32.5 487.4,32.1 487.4,32.1 487.5,32.5 487.7,32.9 487.8,33.2 487.9,33.6 488.1,34 488.2,34.4 488.3,34.8 488.5,35.1 488.6,35.5 488.7,35.9 488.8,36.3 489,36.7 489.1,37.1 489.2,37.5 489.3,37.8 489.5,38.2 489.6,38.6 489.7,39 489.9,39.4 490,39.8 490.1,40.1 490.3,40.5 490.4,40.9 490.5,41.3 490.6,41.7 490.8,42 490.9,42.4 491,42.8 491.2,43.2 491.3,43.6 491.5,43.9 491.6,44.3 491.7,44.7 491.9,45 492,45.4 492.2,45.8 492.3,46.1 492.5,46.5 492.6,46.9 492.7,47.2 492.9,47.6 493.1,48 493.2,48.4 493.4,48.8 493.5,49.1 493.7,49.5 493.9,49.9 494,50.3 494.2,50.7 494.3,51.1 494.5,51.5 494.7,51.9 494.8,52.3 495,52.7 495.2,53.1 495.3,53.5 495.5,53.9 495.7,54.3 495.8,54.7 496,55.1 496.2,55.4 496.4,55.8 496.6,56.2 496.7,56.5 496.9,56.9 497.1,57.3 497.3,57.6 497.5,57.9 497.7,58.3 497.9,58.6 498.1,58.9 498.2,59.2 498.5,59.5 498.7,59.8 498.9,60.1 499.1,60.4 499.3,60.6 499.5,60.9 499.8,61.2 500.1,61.5 500.4,61.9 500.7,62.1 501,62.4 501.4,62.7 501.7,63 502,63.2 502.4,63.4 502.7,63.7 503,63.9 503.4,64.1 503.7,64.3 504.1,64.5 504.4,64.6 504.8,64.8 505.1,64.9 505.5,65.1 505.8,65.2 506.2,65.3 506.6,65.4 507,65.5 507.4,65.5 507.8,65.6 508.2,65.6 508.6,65.6 509,65.6 509.4,65.6 509.8,65.5 510.2,65.5 510.6,65.5 511,65.4 511.4,65.4 511.8,65.3 512.2,65.3 512.6,65.3 513,65.3" fill="none" stroke="#3d8a3a" stroke-width="1.5" stroke-dasharray="1.4,2.0" stroke-linejoin="round" clip-path="url(#cb)"/>
<path d="M313,100.9 313,100.5 313.1,100.1 313.1,99.7 313.2,99.3 313.2,98.9 313.3,98.5 313.3,98.1 313.4,97.7 313.4,97.3 313.5,96.9 313.5,96.5 313.6,96 313.6,95.6 313.7,95.2 313.7,94.8 313.8,94.4 313.8,94 313.9,93.6 313.9,93.2 314,92.8 314,92.4 314,92 314.1,91.6 314.1,91.2 314.2,90.8 314.2,90.4 314.3,90 314.3,89.6 314.4,89.2 314.4,88.8 314.5,88.4 314.5,88 314.6,87.6 314.6,87.2 314.7,86.8 314.7,86.3 314.7,85.9 314.8,85.5 314.8,85.1 314.9,84.7 314.9,84.3 315,83.9 315,83.5 315,83.1 315.1,82.7 315.1,82.3 315.2,81.9 315.2,81.5 315.2,81.1 315.3,80.7 315.3,80.3 315.3,79.9 315.4,79.5 315.4,79.1 315.5,78.7 315.5,78.3 315.5,77.9 315.6,77.5 315.6,77.1 315.6,76.7 315.7,76.3 315.7,75.8 315.7,75.4 315.7,75 315.8,74.6 315.8,74.2 315.8,73.8 315.9,73.4 315.9,73 315.9,72.6 316,72.2 316,71.8 316,71.4 316,71 316.1,70.6 316.1,70.2 316.1,69.8 316.2,69.4 316.2,69 316.2,68.6 316.3,68.2 316.3,67.8 316.3,67.4 316.3,67 316.4,66.6 316.4,66.2 316.4,65.8 316.5,65.4 316.5,65 316.5,64.6 316.5,64.2 316.6,63.8 316.6,63.4 316.6,63 316.7,62.6 316.7,62.2 316.7,61.8 316.8,61.4 316.8,60.9 316.8,60.5 316.9,60.1 316.9,59.6 316.9,59.2 317,58.7 317,58.3 317,57.8 317.1,57.4 317.1,56.9 317.1,56.4 317.2,56 317.2,55.5 317.2,55.1 317.3,54.6 317.3,54.2 317.3,53.7 317.4,53.3 317.4,52.8 317.4,52.4 317.5,51.9 317.5,51.5 317.5,51.1 317.6,50.6 317.6,50.2 317.6,49.8 317.7,49.4 317.7,49 317.8,48.6 317.8,48.2 317.8,47.8 317.9,47.4 317.9,47.1 317.9,46.7 318,46.4 318,46.1 318,45.7 318.1,45.4 318.1,45.1 318.1,44.8 318.2,44.6 318.2,44.3 318.3,43.8 318.4,43.3 318.4,42.9 318.5,42.5 318.6,42.1 318.7,41.7 318.7,41.4 318.8,41 318.9,40.6 318.9,40.6 319,41 319.1,41.4 319.3,41.8 319.4,42.1 319.5,42.5 319.6,42.9 319.7,43.3 319.9,43.7 320,44.1 320.1,44.5 320.2,44.8 320.3,45.2 320.5,45.6 320.6,46 320.7,46.4 320.8,46.8 320.9,47.2 321.1,47.6 321.2,47.9 321.3,48.3 321.4,48.7 321.5,49.1 321.7,49.5 321.8,49.9 321.9,50.3 322,50.7 322.1,51.1 322.2,51.4 322.3,51.8 322.4,52.2 322.5,52.6 322.6,53 322.7,53.4 322.8,53.8 322.9,54.2 323,54.6 323.2,55 323.3,55.4 323.4,55.7 323.5,56.1 323.6,56.5 323.7,56.9 323.8,57.3 323.9,57.7 324,58.1 324.1,58.5 324.2,58.8 324.4,59.2 324.5,59.6 324.6,60 324.8,60.3 324.9,60.7 325.1,61.1 325.2,61.5 325.4,61.9 325.5,62.2 325.7,62.6 325.9,63 326,63.4 326.2,63.8 326.4,64.1 326.6,64.5 326.7,64.9 326.9,65.2 327.1,65.6 327.3,66 327.5,66.3 327.7,66.7 327.9,67.1 328.1,67.4 328.3,67.8 328.5,68.1 328.7,68.5 328.9,68.9 329.1,69.2 329.3,69.6 329.5,69.9 329.7,70.3 329.9,70.6 330.1,71 330.3,71.3 330.5,71.6 330.7,72 330.9,72.3 331.1,72.7 331.4,73 331.6,73.4 331.8,73.7 332,74 332.2,74.4 332.4,74.7 332.7,75.1 332.9,75.4 333.1,75.7 333.4,76.1 333.6,76.4 333.8,76.7 334.1,77 334.3,77.3 334.6,77.7 334.8,78 335.1,78.3 335.3,78.6 335.6,78.9 335.8,79.2 336.1,79.5 336.3,79.8 336.6,80.2 336.9,80.5 337.2,80.8 337.4,81.1 337.7,81.4 338,81.7 338.3,82 338.6,82.3 338.9,82.6 339.1,82.8 339.4,83.1 339.7,83.4 340,83.7 340.3,84 340.6,84.2 340.9,84.5 341.2,84.8 341.5,85 341.8,85.3 342.1,85.5 342.4,85.8 342.7,86 343,86.3 343.4,86.5 343.7,86.7 344.1,87 344.5,87.2 344.8,87.4 345.2,87.6 345.6,87.8 345.9,88 346.3,88.2 346.7,88.4 347,88.6 347.4,88.8 347.8,89 348.1,89.2 348.5,89.4 348.8,89.6 349.2,89.8 349.5,90 349.9,90.3 350.2,90.5 350.5,90.7 350.8,91 351.2,91.3 351.5,91.5 351.8,91.8 352.1,92 352.4,92.3 352.7,92.6 353,92.9 353.3,93.1 353.6,93.4 353.9,93.7 354.2,94 354.5,94.3 354.8,94.6 355.1,94.9 355.4,95.2 355.6,95.5 355.9,95.8 356.2,96.1 356.5,96.4 356.8,96.7 357,97 357.3,97.3 357.6,97.6 357.8,98 358.1,98.3 358.4,98.6 358.6,98.9 358.9,99.3 359.1,99.6 359.4,100 359.6,100.3 359.9,100.6 360.2,101 360.4,101.3 360.7,101.6 360.9,102 361.2,102.3 361.4,102.6 361.7,103 361.9,103.3 362.2,103.6 362.4,103.9 362.7,104.2 362.9,104.6 363.2,104.9 363.5,105.2 363.7,105.5 364,105.8 364.3,106.1 364.5,106.4 364.8,106.7 365,107.1 365.3,107.4 365.6,107.7 365.8,108 366.1,108.3 366.4,108.6 366.6,108.9 366.9,109.2 367.1,109.5 367.4,109.8 367.4,109.8 367.5,109.4 367.6,109 367.8,108.7 367.9,108.3 368,107.9 368.1,107.6 368.3,107.2 368.4,106.8 368.5,106.5 368.7,106.1 368.8,105.8 368.9,105.4 369,105 369.2,104.7 369.3,104.3 369.4,103.9 369.5,103.6 369.7,103.2 369.8,102.8 369.9,102.4 370,102 370.1,101.6 370.2,101.2 370.3,100.7 370.4,100.3 370.5,99.9 370.6,99.4 370.7,99.1 370.7,98.7 370.8,98.4 370.8,98.1 370.9,97.7 370.9,97.3 371,97 371,96.6 371.1,96.2 371.1,95.9 371.1,95.5 371.2,95.1 371.2,94.7 371.3,94.3 371.3,93.9 371.3,93.6 371.4,93.2 371.4,92.7 371.4,92.3 371.4,91.9 371.5,91.5 371.5,91.1 371.5,90.7 371.5,90.3 371.6,89.9 371.6,89.4 371.6,89 371.6,88.6 371.7,88.2 371.7,87.7 371.7,87.3 371.7,86.9 371.7,86.4 371.7,86 371.8,85.6 371.8,85.1 371.8,84.7 371.8,84.3 371.8,83.8 371.8,83.4 371.9,83 371.9,82.6 371.9,82.1 371.9,81.7 371.9,81.3 371.9,80.8 372,80.4 372,80 372,79.6 372,79.2 372,78.7 372,78.3 372.1,77.9 372.1,77.5 372.1,77.1 372.1,76.7 372.1,76.3 372.2,75.9 372.2,75.5 372.2,75 372.2,74.6 372.2,74.2 372.2,73.8 372.3,73.4 372.3,73 372.3,72.5 372.3,72.1 372.3,71.7 372.3,71.3 372.3,70.8 372.4,70.4 372.4,70 372.4,69.6 372.4,69.1 372.4,68.7 372.4,68.3 372.4,67.8 372.4,67.4 372.5,67 372.5,66.6 372.5,66.1 372.5,65.7 372.5,65.3 372.5,64.9 372.5,64.5 372.5,64 372.5,63.6 372.6,63.2 372.6,62.8 372.6,62.4 372.6,62 372.6,61.6 372.6,61.2 372.6,60.8 372.6,60.4 372.7,60 372.7,59.6 372.7,59.2 372.7,58.8 372.7,58.4 372.7,58.1 372.7,57.7 372.8,57.3 372.8,56.9 372.8,56.6 372.8,56.2 372.8,55.8 372.9,55.5 372.9,55.1 372.9,54.8 372.9,54.3 373,53.9 373,53.4 373,53 373.1,52.5 373.1,52.1 373.1,51.7 373.2,51.2 373.2,50.8 373.2,50.4 373.3,50 373.3,49.6 373.4,49.2 373.4,48.8 373.4,48.4 373.5,48 373.5,47.6 373.6,47.2 373.6,46.9 373.6,46.5 373.7,46.1 373.7,45.7 373.8,45.3 373.8,44.9 373.8,44.5 373.9,44.1 373.9,43.7 374,43.3 374,42.9 374,42.9 374.1,43.3 374.2,43.7 374.3,44.1 374.4,44.5 374.5,44.9 374.6,45.3 374.8,45.7 374.9,46.1 375,46.5 375.1,46.8 375.2,47.2 375.3,47.6 375.4,48 375.5,48.4 375.6,48.8 375.7,49.2 375.8,49.6 375.9,50 376,50.4 376.1,50.8 376.2,51.2 376.4,51.6 376.5,52 376.6,52.4 376.7,52.8 376.8,53.2 376.9,53.6 377.1,54 377.2,54.4 377.3,54.8 377.4,55.2 377.5,55.5 377.6,55.9 377.8,56.3 377.9,56.7 378,57.1 378.1,57.5 378.2,57.8 378.3,58.2 378.5,58.6 378.6,59 378.7,59.4 378.8,59.8 379,60.2 379.1,60.6 379.2,60.9 379.3,61.3 379.4,61.7 379.6,62.1 379.7,62.5 379.8,62.9 380,63.3 380.1,63.7 380.2,64 380.4,64.4 380.5,64.8 380.6,65.2 380.8,65.6 380.9,66 381.1,66.3 381.2,66.7 381.4,67.1 381.5,67.5 381.6,67.8 381.8,68.2 382,68.6 382.1,69 382.3,69.3 382.4,69.7 382.6,70.1 382.7,70.5 382.9,70.9 383,71.3 383.2,71.7 383.4,72.1 383.5,72.5 383.7,72.9 383.9,73.3 384,73.6 384.2,74 384.4,74.4 384.5,74.8 384.7,75.2 384.9,75.5 385.1,75.9 385.2,76.3 385.4,76.6 385.6,77 385.8,77.3 386,77.7 386.2,78 386.4,78.3 386.6,78.6 386.8,79 387,79.3 387.2,79.5 387.5,79.8 387.7,80.1 388,80.4 388.3,80.7 388.6,81.1 388.9,81.4 389.2,81.6 389.5,81.9 389.9,82.2 390.2,82.5 390.5,82.7 390.9,83 391.2,83.2 391.6,83.4 391.9,83.6 392.3,83.9 392.6,84.1 393,84.3 393.3,84.5 393.7,84.6 394.1,84.8 394.5,85 394.8,85.1 395.2,85.3 395.6,85.4 396,85.6 396.4,85.7 396.8,85.8 397.2,85.9 397.6,86 398,86.1 398.4,86.2 398.9,86.2 399.3,86.3 399.7,86.3 400.2,86.4 400.6,86.4 401,86.5 401.4,86.5 401.8,86.6 402.2,86.6 402.6,86.6 403,86.7 403.4,86.7 403.8,86.8 404.1,86.8 404.6,86.9 405.1,86.9 405.5,87 405.9,87 406.4,87 406.8,87.1 407.2,87.1 407.6,87.1 408,87.2 408.4,87.2 408.8,87.3 409.2,87.4 409.6,87.5 410,87.5 410.4,87.6 410.8,87.7 411.2,87.8 411.6,88 412,88.1 412.4,88.3 412.7,88.5 413,88.7 413.4,88.9 413.7,89.1 414,89.4 414.3,89.6 414.6,89.9 414.9,90.2 415.2,90.4 415.5,90.7 415.9,91 416.2,91.2 416.5,91.5 416.8,91.7 417.2,92 417.5,92.2 417.8,92.5 418.2,92.7 418.5,93 418.8,93.2 419.2,93.5 419.5,93.7 419.8,94 420.2,94.2 420.5,94.5 420.9,94.7 421.2,95 421.2,95 421.4,94.6 421.7,94.3 421.9,94 422.2,93.6 422.5,93.3 422.7,92.9 423,92.6 423.2,92.2 423.5,91.9 423.7,91.5 423.9,91.2 424.1,90.8 424.3,90.4 424.5,90 424.6,89.6 424.8,89.3 424.9,88.9 424.9,88.5 425,88.1 425.1,87.7 425.2,87.3 425.2,86.9 425.3,86.4 425.3,86 425.3,85.6 425.4,85.2 425.4,84.7 425.5,84.3 425.5,83.9 425.6,83.4 425.6,83 425.6,82.6 425.7,82.2 425.7,81.8 425.8,81.5 425.8,81.1 425.8,80.7 425.9,80.3 425.9,79.9 425.9,79.5 426,79.1 426,78.7 426,78.2 426,77.8 426.1,77.4 426.1,77 426.1,76.6 426.2,76.2 426.2,75.7 426.2,75.3 426.2,74.9 426.3,74.4 426.3,74 426.3,73.6 426.3,73.3 426.4,72.9 426.4,72.5 426.4,72.1 426.4,71.7 426.5,71.3 426.5,70.9 426.5,70.5 426.5,70.1 426.6,69.7 426.6,69.3 426.6,68.9 426.6,68.5 426.6,68.1 426.7,67.7 426.7,67.3 426.7,66.9 426.7,66.5 426.7,66.1 426.8,65.7 426.8,65.3 426.8,64.8 426.8,64.4 426.9,64 426.9,63.6 426.9,63.2 426.9,62.8 427,62.4 427,62 427,61.6 427.1,61.2 427.1,60.8 427.1,60.4 427.1,60 427.2,59.6 427.2,59.1 427.2,58.7 427.3,58.3 427.3,57.9 427.3,57.5 427.4,57.1 427.4,56.7 427.4,56.3 427.5,55.9 427.5,55.4 427.5,55 427.6,54.6 427.6,54.2 427.6,53.8 427.7,53.4 427.7,53 427.7,52.6 427.8,52.2 427.8,51.8 427.9,51.4 427.9,51 427.9,50.6 428,50.2 428,49.8 428,49.4 428.1,49 428.1,48.6 428.2,48.2 428.2,47.8 428.2,47.4 428.3,47 428.3,46.6 428.4,46.2 428.4,45.8 428.5,45.4 428.5,45 428.6,44.6 428.6,44.2 428.7,43.8 428.7,43.4 428.7,43 428.8,42.6 428.8,42.2 428.9,41.8 428.9,41.4 429,41 429,40.6 429.1,40.2 429.1,39.8 429.2,39.4 429.2,39 429.2,39 429.3,39.4 429.5,39.7 429.6,40.1 429.8,40.5 429.9,40.9 430.1,41.3 430.2,41.6 430.4,42 430.5,42.4 430.6,42.8 430.8,43.2 430.9,43.5 431.1,43.9 431.2,44.3 431.4,44.7 431.5,45.1 431.6,45.4 431.8,45.8 431.9,46.2 432.1,46.6 432.2,46.9 432.4,47.3 432.5,47.7 432.7,48 432.8,48.4 433,48.7 433.2,49.1 433.3,49.5 433.5,49.8 433.7,50.2 433.9,50.5 434,50.9 434.2,51.3 434.4,51.6 434.6,52 434.8,52.4 435,52.7 435.2,53.1 435.4,53.5 435.6,53.8 435.7,54.2 435.9,54.5 436.1,54.9 436.3,55.2 436.5,55.5 436.8,55.9 437,56.2 437.2,56.6 437.4,56.9 437.6,57.2 437.8,57.5 438,57.9 438.3,58.2 438.5,58.5 438.7,58.8 439,59.2 439.2,59.5 439.5,59.9 439.7,60.3 440,60.6 440.3,61 440.5,61.4 440.8,61.7 441.1,62.1 441.3,62.4 441.6,62.8 441.9,63.1 442.2,63.4 442.4,63.7 442.7,64 443,64.3 443.3,64.5 443.6,64.7 443.9,64.9 444.1,65.1 444.4,65.2 444.7,65.3 445.1,65.4 445.5,65.4 445.9,65.4 446.4,65.4 446.8,65.3 447.2,65.1 447.6,65 448,64.8 448.5,64.6 448.9,64.4 449.3,64.2 449.7,64 450,63.8 450.4,63.6 450.7,63.4 451,63.2 451.3,63 451.6,62.8 452,62.5 452.3,62.3 452.6,62 452.9,61.7 453.2,61.5 453.6,61.2 453.9,60.9 454.2,60.6 454.6,60.4 454.9,60.1 455.3,59.8 455.6,59.6 455.9,59.4 456.2,59.1 456.5,58.9 456.8,58.6 457.1,58.4 457.4,58.1 457.8,57.9 458.1,57.6 458.4,57.4 458.7,57.1 459.1,56.9 459.4,56.6 459.7,56.4 460.1,56.1 460.4,55.8 460.7,55.6 461.1,55.3 461.4,55.1 461.7,54.8 462.1,54.5 462.4,54.3 462.8,54.1 463.1,53.8 463.4,53.6 463.8,53.3 464.1,53.1 464.4,52.9 464.8,52.7 465.1,52.5 465.5,52.3 465.9,52.1 466.2,51.9 466.6,51.7 467,51.5 467.4,51.3 467.8,51.2 468.1,51 468.5,50.8 468.9,50.6 469.2,50.5 469.6,50.3 470,50.1 470.3,49.9 470.7,49.7 471,49.5 471.3,49.2 471.6,49 471.9,48.8 472.2,48.5 472.5,48.2 472.8,47.9 473,47.6 473.2,47.3 473.4,47 473.6,46.7 473.7,46.4 473.9,46.1 474,45.7 474.2,45.4 474.3,45 474.4,44.7 474.5,44.3 474.6,43.9 474.7,43.5 474.8,43.1 474.9,42.7 475,42.3 475.1,41.9 475.1,41.5 475.2,41.1 475.3,40.7 475.4,40.3 475.4,39.8 475.5,39.4 475.5,39 475.6,38.6 475.7,38.1 475.7,37.7 475.8,37.3 475.9,36.8 475.9,36.4 476,36 476.1,35.6 476.1,35.1 476.2,34.7 476.3,34.3 476.4,33.9 476.5,33.6 476.5,33.2 476.6,32.8 476.7,32.4 476.8,32 476.8,31.6 476.9,31.3 477,30.9 477,30.5 477.1,30.1 477.2,29.7 477.3,29.3 477.3,28.9 477.4,28.5 477.5,28.1 477.5,27.7 477.6,27.3 477.7,26.9 477.7,26.5 477.8,26.1 477.9,25.7 477.9,25.3 478,24.9 478.1,24.5 478.1,24.1 478.2,23.7 478.3,23.3 478.3,22.9 478.4,22.5 478.5,22.1 478.5,21.7 478.6,21.3 478.7,20.9 478.7,20.5 478.8,20.1 478.9,19.7 478.9,19.3 479,18.9 479.1,18.5 479.1,18.1 479.2,17.7 479.2,17.7 479.4,18.1 479.6,18.4 479.7,18.8 479.9,19.2 480.1,19.5 480.2,19.9 480.4,20.2 480.6,20.6 480.7,21 480.9,21.3 481.1,21.7 481.2,22 481.4,22.4 481.6,22.8 481.7,23.1 481.9,23.5 482.1,23.9 482.3,24.2 482.4,24.6 482.6,25 482.8,25.3 483,25.7 483.2,26.1 483.4,26.5 483.6,26.9 483.8,27.3 484,27.7 484.2,28 484.3,28.3 484.5,28.7 484.7,29 484.9,29.4 485,29.7 485.2,30 485.4,30.4 485.6,30.8 485.8,31.1 486,31.5 486.2,31.8 486.3,32.2 486.5,32.6 486.7,33 486.9,33.3 487.1,33.7 487.3,34.1 487.5,34.5 487.7,34.8 487.9,35.2 488.1,35.6 488.3,36 488.6,36.3 488.8,36.7 489,37.1 489.2,37.5 489.4,37.8 489.6,38.2 489.8,38.6 490,38.9 490.3,39.3 490.5,39.6 490.7,40 490.9,40.3 491.1,40.7 491.3,41 491.6,41.3 491.8,41.7 492,42 492.2,42.3 492.5,42.6 492.7,42.9 492.9,43.2 493.2,43.5 493.4,43.9 493.7,44.2 494,44.5 494.2,44.9 494.5,45.2 494.8,45.5 495.1,45.8 495.3,46.2 495.6,46.5 495.9,46.8 496.2,47.1 496.4,47.4 496.7,47.7 497,47.9 497.3,48.2 497.6,48.5 497.9,48.8 498.1,49.1 498.4,49.3 498.7,49.6 499,49.9 499.3,50.1 499.6,50.4 499.9,50.6 500.2,50.9 500.5,51.1 500.8,51.3 501.1,51.6 501.4,51.8 501.7,52 502.1,52.2 502.4,52.5 502.8,52.7 503.2,53 503.6,53.2 504,53.4 504.4,53.6 504.8,53.8 505.2,54 505.6,54.2 506,54.4 506.4,54.6 506.8,54.8 507.2,54.9 507.6,55.1 508,55.3 508.4,55.4 508.7,55.6 509.1,55.7 509.4,55.9 509.7,56 510.1,56.1 510.3,56.3 510.6,56.4 511.1,56.6 511.5,56.8 511.9,57 512.3,57.2 512.6,57.3 513,57.5" fill="none" stroke="#2424ae" stroke-width="1.6" stroke-dasharray="4.2,2.6" stroke-linejoin="round" clip-path="url(#cb)"/>
<path d="M313,53 313.2,53.3 313.5,53.7 313.7,54 314,54.4 314.2,54.7 314.5,55 314.7,55.4 315,55.7 315.2,56 315.5,56.4 315.7,56.7 316,57 316.3,57.3 316.6,57.6 316.9,57.9 317.2,58.2 317.5,58.5 317.8,58.8 318.1,59.1 318.4,59.4 318.7,59.6 319,59.9 319.3,60.2 319.6,60.5 319.6,60.5 319.8,60.1 319.9,59.8 320.1,59.4 320.2,59.1 320.4,58.7 320.6,58.4 320.7,58 320.9,57.7 321.1,57.3 321.2,56.9 321.4,56.5 321.5,56.1 321.6,55.7 321.8,55.3 321.9,54.8 322,54.5 322,54.2 322.1,53.8 322.2,53.5 322.2,53.2 322.3,52.8 322.3,52.4 322.4,52.1 322.4,51.7 322.5,51.3 322.5,50.9 322.6,50.5 322.6,50.1 322.6,49.7 322.7,49.3 322.7,48.9 322.7,48.5 322.8,48.1 322.8,47.6 322.8,47.2 322.9,46.8 322.9,46.3 322.9,45.9 323,45.5 323,45 323,44.6 323,44.2 323.1,43.7 323.1,43.3 323.1,42.9 323.2,42.4 323.2,42 323.2,41.6 323.3,41.2 323.3,40.7 323.4,40.3 323.4,39.9 323.4,39.5 323.5,39.1 323.5,38.7 323.6,38.3 323.6,37.9 323.7,37.5 323.7,37.1 323.7,36.7 323.8,36.4 323.8,36 323.9,35.6 323.9,35.2 324,34.8 324,34.4 324.1,34 324.1,33.6 324.2,33.2 324.2,32.8 324.3,32.4 324.3,31.9 324.4,31.5 324.4,31.1 324.4,30.7 324.5,30.3 324.5,29.9 324.6,29.5 324.6,29.1 324.7,28.7 324.7,28.3 324.8,27.9 324.8,27.5 324.9,27.1 324.9,26.7 325,26.3 325,25.9 325.1,25.5 325.1,25.1 325.2,24.7 325.2,24.3 325.3,23.9 325.3,23.5 325.3,23.5 325.5,23.8 325.7,24.2 326,24.5 326.2,24.8 326.4,25.1 326.6,25.4 326.9,25.7 327.1,26.1 327.3,26.4 327.5,26.7 327.8,27 328,27.3 328.2,27.7 328.4,28 328.7,28.4 328.9,28.7 329.1,29.1 329.3,29.5 329.5,29.8 329.6,30.1 329.8,30.5 330,30.8 330.1,31.2 330.3,31.5 330.4,31.9 330.6,32.3 330.7,32.7 330.9,33 331,33.4 331.2,33.8 331.3,34.2 331.5,34.6 331.6,35 331.8,35.4 331.9,35.8 332.1,36.1 332.2,36.5 332.4,36.9 332.6,37.3 332.7,37.7 332.9,38.1 333.1,38.5 333.2,38.8 333.4,39.2 333.6,39.5 333.8,39.9 334,40.3 334.2,40.6 334.4,41 334.6,41.4 334.8,41.7 335.1,42.1 335.3,42.5 335.5,42.9 335.7,43.2 336,43.6 336.2,44 336.4,44.3 336.7,44.7 336.9,45 337.1,45.4 337.4,45.7 337.6,46.1 337.9,46.4 338.1,46.7 338.3,47 338.6,47.4 338.8,47.7 339.1,48 339.3,48.2 339.6,48.5 339.8,48.8 340.1,49.1 340.4,49.4 340.7,49.8 341.1,50 341.4,50.3 341.7,50.6 342,50.9 342.4,51.1 342.7,51.4 343,51.6 343.3,51.8 343.7,52.1 344,52.3 344.3,52.5 344.7,52.8 345,53 345.3,53.2 345.7,53.5 346,53.7 346.3,54 346.7,54.2 347,54.4 347.3,54.7 347.7,54.9 348,55.1 348.4,55.3 348.7,55.5 349.1,55.7 349.4,55.9 349.8,56.1 350.2,56.3 350.6,56.5 350.9,56.6 351.3,56.7 351.7,56.8 352.1,57 352.4,57.1 352.8,57.2 353.2,57.3 353.7,57.3 354.1,57.4 354.5,57.5 354.9,57.6 355.3,57.7 355.7,57.8 356.1,58 356.5,58.1 356.9,58.2 357.2,58.3 357.6,58.5 358,58.7 358.3,58.8 358.7,59 359.1,59.2 359.4,59.4 359.8,59.6 360.1,59.8 360.4,60 360.8,60.2 361.1,60.4 361.5,60.6 361.8,60.8 362.2,61 362.5,61.3 362.8,61.5 363.2,61.7 363.5,62 363.9,62.2 364.2,62.4 364.5,62.6 364.8,62.9 365.1,63.1 365.5,63.3 365.8,63.6 366.1,63.8 366.4,64 366.7,64.3 367,64.5 367.4,64.8 367.7,65 368,65.3 368.3,65.6 368.6,65.8 368.9,66.1 369.3,66.3 369.6,66.6 369.9,66.9 370.2,67.1 370.5,67.4 370.8,67.7 371.1,67.9 371.4,68.2 371.7,68.5 372,68.8 372.3,69 372.6,69.3 372.9,69.6 373.2,69.9 373.5,70.2 373.8,70.5 374.1,70.8 374.4,71.1 374.7,71.4 374.9,71.7 375.2,71.9 375.5,72.2 375.8,72.5 376.1,72.8 376.4,73.1 376.7,73.4 376.9,73.7 377.2,74 377.5,74.3 377.8,74.6 378.1,74.9 378.1,74.9 378.2,74.5 378.3,74.1 378.4,73.7 378.5,73.3 378.6,73 378.7,72.6 378.8,72.2 378.8,71.8 378.9,71.4 379,71.1 379.1,70.7 379.2,70.3 379.3,69.9 379.4,69.5 379.5,69.2 379.6,68.8 379.7,68.4 379.8,68 379.9,67.6 380,67.2 380.1,66.8 380.2,66.4 380.3,66 380.3,65.6 380.4,65.2 380.5,64.8 380.6,64.4 380.7,64 380.8,63.5 380.8,63.1 380.9,62.7 381,62.2 381.1,61.9 381.1,61.5 381.2,61.1 381.2,60.8 381.3,60.4 381.3,60 381.4,59.7 381.4,59.3 381.5,58.9 381.5,58.5 381.6,58.1 381.6,57.7 381.7,57.3 381.7,56.9 381.7,56.5 381.8,56.1 381.8,55.7 381.9,55.2 381.9,54.8 382,54.4 382,54 382,53.5 382.1,53.1 382.1,52.7 382.2,52.3 382.2,51.8 382.2,51.4 382.3,51 382.3,50.5 382.3,50.1 382.4,49.7 382.4,49.3 382.5,48.8 382.5,48.4 382.5,48 382.6,47.6 382.6,47.1 382.6,46.7 382.7,46.3 382.7,45.9 382.7,45.5 382.8,45.1 382.8,44.7 382.9,44.3 382.9,43.9 382.9,43.5 383,43.1 383,42.7 383,42.4 383.1,42 383.1,41.6 383.1,41.3 383.2,40.9 383.2,40.6 383.3,40.2 383.3,39.9 383.4,39.4 383.4,39 383.5,38.5 383.5,38.1 383.6,37.7 383.6,37.2 383.7,36.8 383.7,36.4 383.8,36 383.8,35.6 383.9,35.2 384,34.8 384,34.4 384.1,34.1 384.1,33.7 384.2,33.3 384.2,32.9 384.3,32.5 384.3,32.2 384.4,31.8 384.4,31.4 384.5,31 384.5,30.6 384.6,30.3 384.6,29.9 384.7,29.5 384.7,29.1 384.8,28.7 384.8,28.7 385,29.1 385.1,29.4 385.3,29.8 385.5,30.2 385.6,30.6 385.8,30.9 386,31.3 386.1,31.7 386.3,32.1 386.4,32.4 386.6,32.8 386.8,33.2 386.9,33.5 387.1,33.9 387.3,34.3 387.4,34.7 387.6,35 387.8,35.4 387.9,35.8 388.1,36.2 388.3,36.5 388.5,36.9 388.6,37.3 388.8,37.7 389,38 389.2,38.4 389.4,38.7 389.6,39.1 389.7,39.4 389.9,39.8 390.1,40.1 390.3,40.5 390.5,40.9 390.6,41.2 390.8,41.6 391,41.9 391.2,42.3 391.4,42.6 391.6,43 391.8,43.3 391.9,43.7 392.1,44.1 392.3,44.4 392.5,44.8 392.7,45.1 393,45.5 393.2,45.8 393.4,46.1 393.6,46.5 393.8,46.8 394,47.2 394.3,47.5 394.5,47.8 394.7,48.2 395,48.5 395.2,48.8 395.4,49.1 395.7,49.4 395.9,49.7 396.2,50.1 396.5,50.4 396.7,50.7 397,51 397.2,51.3 397.5,51.6 397.8,51.9 398.1,52.2 398.3,52.5 398.6,52.8 398.9,53.1 399.2,53.4 399.5,53.7 399.8,54 400.1,54.3 400.4,54.6 400.7,54.8 401,55.1 401.3,55.4 401.6,55.7 401.9,55.9 402.2,56.2 402.5,56.5 402.8,56.7 403.1,57 403.5,57.2 403.8,57.5 404.1,57.7 404.4,57.9 404.8,58.2 405.1,58.4 405.4,58.6 405.8,58.8 406.1,59.1 406.5,59.3 406.8,59.5 407.2,59.7 407.6,59.9 407.9,60.1 408.3,60.3 408.7,60.5 409,60.6 409.4,60.8 409.8,61 410.1,61.2 410.5,61.4 410.9,61.5 411.2,61.7 411.6,61.9 412,62.1 412.4,62.3 412.7,62.4 413.1,62.6 413.5,62.8 413.8,63 414.2,63.1 414.5,63.3 414.9,63.5 415.3,63.7 415.7,63.9 416,64.1 416.4,64.2 416.8,64.4 417.2,64.6 417.6,64.8 417.9,64.9 418.3,65.1 418.7,65.3 419.1,65.5 419.5,65.6 419.9,65.8 420.2,66 420.6,66.1 421,66.3 421.4,66.5 421.7,66.7 422.1,66.8 422.5,67 422.8,67.2 423.2,67.4 423.5,67.6 423.9,67.8 424.2,68 424.6,68.2 424.9,68.4 425.2,68.6 425.6,68.9 425.9,69.1 426.3,69.4 426.6,69.6 426.9,69.9 427.3,70.1 427.6,70.4 427.9,70.7 428.2,71 428.5,71.2 428.8,71.5 429.1,71.8 429.5,72 429.8,72.3 430.1,72.6 430.3,72.9 430.6,73.1 430.9,73.4 431.2,73.6 431.5,73.9 431.8,74.1 432,74.4 432.3,74.6 432.6,74.9 433,75.2 433.3,75.5 433.6,75.7 433.9,76 434.2,76.2 434.5,76.5 434.8,76.8 435.1,77 435.4,77.3 435.7,77.5 436,77.8 436.3,78 436.6,78.3 436.6,78.3 436.8,78 437,77.6 437.3,77.3 437.5,77 437.7,76.7 437.9,76.4 438.2,76.1 438.4,75.8 438.6,75.5 438.8,75.2 439.1,74.9 439.3,74.5 439.5,74.2 439.7,73.8 439.9,73.4 440.1,73 440.2,72.6 440.4,72.1 440.5,71.8 440.6,71.5 440.6,71.2 440.7,70.9 440.8,70.6 440.9,70.3 440.9,70 441,69.6 441.1,69.3 441.1,68.9 441.2,68.6 441.2,68.2 441.3,67.8 441.3,67.4 441.3,67 441.4,66.6 441.4,66.2 441.5,65.8 441.5,65.4 441.5,65 441.5,64.6 441.6,64.2 441.6,63.8 441.6,63.3 441.6,62.9 441.7,62.5 441.7,62 441.7,61.6 441.7,61.1 441.7,60.7 441.8,60.2 441.8,59.8 441.8,59.3 441.8,58.9 441.8,58.4 441.8,58 441.8,57.5 441.9,57.1 441.9,56.6 441.9,56.2 441.9,55.8 441.9,55.3 441.9,54.9 441.9,54.4 442,54 442,53.6 442,53.1 442,52.7 442,52.3 442.1,51.8 442.1,51.4 442.1,51 442.1,50.6 442.2,50.2 442.2,49.8 442.2,49.4 442.3,49 442.3,48.6 442.3,48.1 442.4,47.7 442.4,47.3 442.4,46.9 442.5,46.5 442.5,46.1 442.5,45.7 442.6,45.3 442.6,44.9 442.6,44.5 442.7,44 442.7,43.6 442.7,43.2 442.8,42.8 442.8,42.4 442.8,42 442.8,41.6 442.9,41.2 442.9,40.8 442.9,40.4 443,40 443,39.6 443,39.2 443.1,38.8 443.1,38.4 443.1,38 443.2,37.6 443.2,37.2 443.2,36.8 443.3,36.4 443.3,36 443.3,35.6 443.4,35.2 443.4,34.8 443.4,34.4 443.5,33.9 443.5,33.5 443.5,33.1 443.5,32.7 443.6,32.3 443.6,31.9 443.6,31.5 443.7,31.1 443.7,30.7 443.7,30.3 443.8,29.9 443.8,29.5 443.8,29.5 444,29.9 444.1,30.2 444.3,30.6 444.4,31 444.6,31.4 444.8,31.7 444.9,32.1 445.1,32.5 445.2,32.9 445.4,33.2 445.5,33.6 445.7,34 445.8,34.4 446,34.7 446.2,35.1 446.3,35.5 446.5,35.9 446.6,36.2 446.8,36.6 447,37 447.1,37.3 447.3,37.7 447.5,38.1 447.7,38.4 447.8,38.8 448,39.2 448.2,39.5 448.4,39.9 448.6,40.3 448.8,40.6 449,41 449.2,41.3 449.4,41.7 449.5,42.1 449.7,42.4 449.9,42.8 450.1,43.1 450.3,43.5 450.5,43.9 450.7,44.2 451,44.6 451.2,45 451.4,45.3 451.6,45.7 451.8,46 452,46.4 452.2,46.7 452.5,47 452.7,47.4 452.9,47.7 453.1,48 453.4,48.3 453.6,48.6 453.9,48.9 454.1,49.2 454.4,49.5 454.6,49.8 454.9,50.1 455.2,50.4 455.5,50.7 455.8,51 456.1,51.3 456.4,51.6 456.7,51.8 457,52.1 457.4,52.3 457.7,52.6 458,52.8 458.3,53.1 458.7,53.3 459,53.5 459.4,53.8 459.7,54 460.1,54.2 460.4,54.4 460.8,54.6 461.1,54.9 461.5,55.1 461.9,55.3 462.2,55.5 462.6,55.7 462.9,55.8 463.3,56 463.6,56.2 464,56.4 464.4,56.5 464.8,56.7 465.1,56.8 465.5,57 465.9,57.2 466.3,57.3 466.7,57.5 467.1,57.6 467.5,57.7 467.9,57.9 468.3,58 468.7,58.2 469.1,58.3 469.5,58.5 469.9,58.6 470.3,58.8 470.7,58.9 471.1,59.1 471.4,59.2 471.8,59.3 472.2,59.5 472.6,59.6 473,59.8 473.4,60 473.8,60.1 474.1,60.3 474.5,60.4 474.9,60.5 475.3,60.7 475.7,60.8 476.1,61 476.5,61.1 476.9,61.3 477.2,61.4 477.6,61.6 478,61.7 478.4,61.8 478.8,62 479.2,62.1 479.6,62.3 479.9,62.4 480.3,62.6 480.7,62.7 481.1,62.9 481.5,63 481.8,63.2 482.2,63.4 482.6,63.5 482.9,63.7 483.3,63.9 483.6,64 484,64.2 484.4,64.4 484.7,64.6 485.1,64.8 485.5,65 485.8,65.2 486.2,65.4 486.6,65.6 486.9,65.8 487.3,66 487.6,66.2 488,66.4 488.3,66.7 488.7,66.9 489,67.1 489.4,67.3 489.7,67.5 490.1,67.8 490.4,68 490.7,68.2 491,68.4 491.4,68.6 491.7,68.8 492,69.1 492.3,69.3 492.6,69.5 492.9,69.7 493.3,70 493.6,70.2 494,70.5 494.3,70.7 494.6,71 495,71.3 495.3,71.5 495.6,71.8 495.9,72 496.2,72.3 496.5,72.6 496.8,72.8 497.1,73.1 497.5,73.3 497.8,73.6 498.1,73.8 498.4,74.1 498.4,74.1 498.4,73.7 498.5,73.3 498.5,72.9 498.6,72.5 498.6,72.1 498.7,71.7 498.7,71.2 498.7,70.8 498.8,70.4 498.8,70 498.9,69.6 498.9,69.2 499,68.7 499,68.3 499,67.9 499.1,67.5 499.1,67.1 499.2,66.6 499.2,66.2 499.3,65.8 499.3,65.4 499.3,64.9 499.4,64.5 499.4,64.1 499.5,63.7 499.5,63.2 499.6,62.8 499.6,62.4 499.6,61.9 499.7,61.5 499.7,61.1 499.8,60.7 499.8,60.2 499.9,59.8 499.9,59.4 499.9,59 500,58.5 500,58.1 500.1,57.7 500.1,57.3 500.2,56.9 500.2,56.5 500.2,56 500.3,55.6 500.3,55.2 500.4,54.8 500.4,54.4 500.5,54 500.5,53.6 500.6,53.2 500.6,52.8 500.6,52.4 500.7,52 500.7,51.6 500.8,51.2 500.8,50.8 500.9,50.4 500.9,50 500.9,49.6 501,49.2 501,48.9 501.1,48.5 501.1,48.1 501.1,47.7 501.2,47.4 501.2,47 501.3,46.6 501.3,46.3 501.4,45.9 501.4,45.6 501.4,45.2 501.5,44.9 501.5,44.5 501.6,44.2 501.6,43.9 501.7,43.5 501.7,43.2 501.8,42.7 501.8,42.3 501.9,41.8 501.9,41.4 502,40.9 502.1,40.5 502.1,40.1 502.2,39.6 502.3,39.2 502.3,38.8 502.4,38.4 502.4,38 502.5,37.6 502.6,37.2 502.6,36.8 502.7,36.4 502.7,36 502.8,35.7 502.9,35.3 502.9,34.9 503,34.5 503,34.1 503.1,33.8 503.2,33.4 503.2,33 503.3,32.6 503.4,32.3 503.4,31.9 503.5,31.5 503.5,31.1 503.6,30.8 503.7,30.4 503.7,30 503.8,29.6 503.8,29.2 503.9,28.8 503.9,28.8 504.1,29.2 504.3,29.5 504.4,29.9 504.6,30.3 504.8,30.6 505,31 505.2,31.3 505.4,31.7 505.5,32.1 505.7,32.4 505.9,32.8 506.1,33.1 506.3,33.5 506.4,33.9 506.6,34.2 506.8,34.6 507,35 507.2,35.3 507.3,35.7 507.5,36.1 507.7,36.4 507.9,36.8 508.1,37.2 508.2,37.6 508.4,38 508.6,38.3 508.7,38.7 508.8,39.1 509,39.4 509.1,39.8 509.3,40.1 509.4,40.5 509.6,40.9 509.7,41.2 509.9,41.6 510,42 510.2,42.4 510.3,42.7 510.4,43.1 510.6,43.5 510.7,43.9 510.9,44.3 511,44.7 511.2,45 511.3,45.4 511.4,45.8 511.6,46.2 511.7,46.6 511.9,47 512,47.3 512.1,47.7 512.3,48.1 512.4,48.5 512.6,48.9 512.7,49.2 512.9,49.6 513,50" fill="none" stroke="#cf2a36" stroke-width="1.4" stroke-dasharray="4.6,2.2,1.6,2.2" stroke-linejoin="round" clip-path="url(#cb)"/>
<line x1="332.9" y1="11.8" x2="352.9" y2="11.8" stroke="#111111" stroke-width="1.65"/>
<text x="355.2" y="16.7" font-family='"Liberation Serif", "DejaVu Serif", serif' font-size="13.6">P1</text>
<line x1="372.9" y1="11.8" x2="392.9" y2="11.8" stroke="#2424ae" stroke-width="1.6" stroke-dasharray="4.2,2.6"/>
<text x="396.3" y="16.7" font-family='"Liberation Serif", "DejaVu Serif", serif' font-size="13.6">P2</text>
<line x1="413.4" y1="11.8" x2="433.4" y2="11.8" stroke="#cf2a36" stroke-width="1.4" stroke-dasharray="4.6,2.2,1.6,2.2"/>
<text x="436.5" y="16.7" font-family='"Liberation Serif", "DejaVu Serif", serif' font-size="13.6">P3</text>
<line x1="454.3" y1="11.8" x2="474.3" y2="11.8" stroke="#3d8a3a" stroke-width="1.5" stroke-dasharray="1.4,2.0"/>
<text x="477.4" y="16.7" font-family='"Liberation Serif", "DejaVu Serif", serif' font-size="13.6">P4</text>
<rect x="313.0" y="1.3" width="199.79999999999995" height="115.5" fill="none" stroke="#555" stroke-width="1.45"/>
<line x1="308.0" y1="20.0" x2="313.0" y2="20.0" stroke="#555" stroke-width="1.3"/>
<text x="302.7" y="25" text-anchor="end" font-family='"Liberation Serif", "DejaVu Serif", serif' font-size="14">0.21</text>
<line x1="308.0" y1="58.5" x2="313.0" y2="58.5" stroke="#555" stroke-width="1.3"/>
<text x="302.7" y="63.5" text-anchor="end" font-family='"Liberation Serif", "DejaVu Serif", serif' font-size="14">0.20</text>
<line x1="308.0" y1="97.2" x2="313.0" y2="97.2" stroke="#555" stroke-width="1.3"/>
<text x="302.7" y="102.2" text-anchor="end" font-family='"Liberation Serif", "DejaVu Serif", serif' font-size="14">0.19</text>
<line x1="313" y1="116.8" x2="313" y2="121.8" stroke="#555" stroke-width="1.3"/>
<text x="313" y="136.8" text-anchor="middle" font-family='"Liberation Serif", "DejaVu Serif", serif' font-size="14">670</text>
<line x1="352.4" y1="116.8" x2="352.4" y2="121.8" stroke="#555" stroke-width="1.3"/>
<text x="352.4" y="136.8" text-anchor="middle" font-family='"Liberation Serif", "DejaVu Serif", serif' font-size="14">672</text>
<line x1="391.8" y1="116.8" x2="391.8" y2="121.8" stroke="#555" stroke-width="1.3"/>
<text x="391.8" y="136.8" text-anchor="middle" font-family='"Liberation Serif", "DejaVu Serif", serif' font-size="14">674</text>
<line x1="431.1" y1="116.8" x2="431.1" y2="121.8" stroke="#555" stroke-width="1.3"/>
<text x="431.1" y="136.8" text-anchor="middle" font-family='"Liberation Serif", "DejaVu Serif", serif' font-size="14">676</text>
<line x1="470.5" y1="116.8" x2="470.5" y2="121.8" stroke="#555" stroke-width="1.3"/>
<text x="470.5" y="136.8" text-anchor="middle" font-family='"Liberation Serif", "DejaVu Serif", serif' font-size="14">678</text>
<line x1="509.9" y1="116.8" x2="509.9" y2="121.8" stroke="#555" stroke-width="1.3"/>
<text x="509.9" y="136.8" text-anchor="middle" font-family='"Liberation Serif", "DejaVu Serif", serif' font-size="14">680</text>
<text x="412.9" y="150.8" text-anchor="middle" font-family='"Liberation Serif", "DejaVu Serif", serif' font-size="15.5" font-style="italic">(tU<tspan font-size="10.5" dy="3.5">b</tspan><tspan dy="-3.5" dx="1.2">)</tspan><tspan font-size="17" dy="1" dx="0.5">/</tspan><tspan dy="-1" dx="0.3">H</tspan></text>
<text transform="translate(275.7,58.8) rotate(-90)" text-anchor="middle" font-family='"Liberation Serif", "DejaVu Serif", serif' font-size="14.5" font-style="italic">z<tspan font-size="10" dx="0.8" dy="3.5">p</tspan><tspan font-style="normal" font-size="18.5" dx="0.6" dy="-1">/</tspan><tspan font-weight="bold" font-size="13" dy="-2.5" dx="0.4">H</tspan></text>
<text x="415.2" y="177.8" text-anchor="middle" font-family='"Liberation Serif", "DejaVu Serif", serif' font-size="14.5">(b)</text>
<path d="M48.4,241.7 48.6,240.6 48.8,239.6 49,238.9 49.2,238.4 49.4,238.2 49.6,238.1 49.8,238.3 50,238.7 50.2,239.4 50.4,240.2 50.6,241.3 50.8,242.7 51,244.3 51.1,246.1 51.3,248.3 51.5,250.7 51.7,253.4 51.9,256.5 52.1,260 52.3,264.1 52.5,269 52.7,275.2 52.9,285.7 53.1,277.2 53.3,270.3 53.5,265.2 53.7,260.9 53.9,257.2 54.1,254 54.3,251.2 54.5,248.7 54.7,246.6 54.9,244.6 55.1,243 55.3,241.6 55.5,240.4 55.7,239.5 55.9,238.8 56.1,238.3 56.3,238 56.4,238 56.6,238.2 56.8,238.6 57,239.2 57.2,240 57.4,241.1 57.6,242.4 57.8,243.9 58,245.6 58.2,247.6 58.4,249.8 58.6,252.3 58.8,255.1 59,258.1 59.2,261.5 59.4,265.2 59.6,269.3 59.8,274.1 60,279.6 60.2,286.4 60.4,297.5 60.6,288.5 60.8,280.7 61,274.7 61.2,269.7 61.4,265.2 61.6,261.3 61.7,257.8 61.9,254.6 62.1,251.7 62.3,249.2 62.5,246.9 62.7,244.8 62.9,243.1 63.1,241.5 63.3,240.3 63.5,239.2 63.7,238.5 63.9,237.9 64.1,237.6 64.3,237.5 64.5,237.7 64.7,238.1 64.9,238.8 65.1,239.7 65.3,240.8 65.5,242.2 65.7,243.9 65.9,245.9 66.1,248.1 66.3,250.7 66.5,253.6 66.7,256.9 66.9,260.7 67.1,265.2 67.2,270.6 67.4,277.8 67.6,286.2 67.8,276.5 68,270.7 68.2,266.1 68.4,262.2 68.6,258.8 68.8,255.8 69,253.2 69.2,250.9 69.4,248.9 69.6,247.1 69.8,245.5 70,244.2 70.2,243.1 70.4,242.3 70.6,241.7 70.8,241.2 71,241 71.2,241.1 71.4,241.3 71.6,241.7 71.8,242.4 72,243.3 72.2,244.3 72.4,245.7 72.5,247.2 72.7,249 72.9,251 73.1,253.2 73.3,255.8 73.5,258.6 73.7,261.7 73.9,265.3 74.1,269.2 74.3,273.9 74.5,279.4 74.7,287.1 74.9,286.8 75.1,276.8 75.3,270 75.5,264.5 75.7,259.9 75.9,255.8 76.1,252.3 76.3,249.2 76.5,246.5 76.7,244.1 76.9,242.1 77.1,240.4 77.3,239 77.5,237.8 77.7,237 77.8,236.5 78,236.2 78.2,236.3 78.4,236.6 78.6,237.2 78.8,238.1 79,239.3 79.2,240.8 79.4,242.6 79.6,244.7 79.8,247 80,249.8 80.2,252.8 80.4,256.2 80.6,260.1 80.8,264.3 81,269.2 81.2,274.7 81.4,281.3 81.6,289.8 81.8,301.2 82,287.1 82.2,278.8 82.4,272.1 82.6,266.5 82.8,261.6 83,257.2 83.1,253.3 83.3,249.8 83.5,246.6 83.7,243.8 83.9,241.3 84.1,239.1 84.3,237.3 84.5,235.7 84.7,234.5 84.9,233.5 85.1,232.8 85.3,232.4 85.5,232.3 85.7,232.5 85.9,233 86.1,233.7 86.3,234.8 86.5,236.2 86.7,237.9 86.9,239.8 87.1,242.2 87.3,244.8 87.5,247.9 87.7,251.3 87.9,255.3 88.1,259.8 88.3,265 88.4,271.3 88.6,279.6 88.8,291.7 89,277.1 89.2,268.9 89.4,262.5 89.6,257.2 89.8,252.6 90,248.5 90.2,245 90.4,241.9 90.6,239.2 90.8,236.8 91,234.8 91.2,233.1 91.4,231.8 91.6,230.7 91.8,230 92,229.6 92.2,229.5 92.4,229.7 92.6,230.2 92.8,231 93,232.1 93.2,233.5 93.4,235.3 93.6,237.3 93.7,239.7 93.9,242.4 94.1,245.5 94.3,249 94.5,252.8 94.7,257.1 94.9,261.9 95.1,267.3 95.3,273.5 95.5,280.9 95.7,290.7 95.9,298.5 96.1,285.5 96.3,277.2 96.5,270.6 96.7,264.9 96.9,260.1 97.1,255.8 97.3,251.9 97.5,248.6 97.7,245.6 97.9,243 98.1,240.7 98.3,238.8 98.5,237.3 98.7,236 98.9,235.1 99.1,234.5 99.2,234.3 99.4,234.3 99.6,234.7 99.8,235.4 100,236.4 100.2,237.7 100.4,239.4 100.6,241.4 100.8,243.7 101,246.5 101.2,249.5 101.4,253 101.6,257 101.8,261.4 102,266.4 102.2,272.1 102.4,278.9 102.6,287.4 102.8,301.2 103,291.8 103.2,282.6 103.4,275.7 103.6,269.9 103.8,264.9 104,260.5 104.2,256.6 104.4,253.1 104.5,250 104.7,247.3 104.9,244.9 105.1,242.9 105.3,241.1 105.5,239.7 105.7,238.6 105.9,237.7 106.1,237.2 106.3,236.9 106.5,237 106.7,237.3 106.9,237.9 107.1,238.8 107.3,240.1 107.5,241.6 107.7,243.4 107.9,245.5 108.1,248 108.3,250.8 108.5,253.9 108.7,257.4 108.9,261.4 109.1,265.8 109.3,270.7 109.5,276.4 109.7,283.1 109.8,291.5 110,305.4 110.2,294.3 110.4,284.9 110.6,277.7 110.8,271.7 111,266.5 111.2,261.9 111.4,257.8 111.6,254.2 111.8,251 112,248.1 112.2,245.6 112.4,243.5 112.6,241.7 112.8,240.2 113,239.1 113.2,238.2 113.4,237.7 113.6,237.5 113.8,237.6 114,238.1 114.2,238.8 114.4,239.9 114.6,241.3 114.8,243.1 115,245.1 115.1,247.6 115.3,250.4 115.5,253.6 115.7,257.2 115.9,261.3 116.1,265.9 116.3,271.2 116.5,277.5 116.7,285.2 116.9,296.5 117.1,294.9 117.3,285.3 117.5,278.5 117.7,272.9 117.9,268.1 118.1,264 118.3,260.3 118.5,257.1 118.7,254.3 118.9,251.8 119.1,249.7 119.3,247.9 119.5,246.4 119.7,245.3 119.9,244.4 120.1,243.8 120.3,243.5 120.4,243.6 120.6,243.9 120.8,244.5 121,245.4 121.2,246.6 121.4,248.1 121.6,249.9 121.8,252 122,254.4 122.2,257.2 122.4,260.3 122.6,263.7 122.8,267.6 123,272 123.2,276.9 123.4,282.4 123.6,289 123.8,297.2 124,310.6 124.2,300.6 124.4,291.7 124.6,284.8 124.8,279.1 125,274 125.2,269.6 125.4,265.6 125.6,261.9 125.8,258.7 125.9,255.8 126.1,253.2 126.3,250.9 126.5,248.9 126.7,247.1 126.9,245.7 127.1,244.5 127.3,243.6 127.5,243 127.7,242.7 127.9,242.6 128.1,242.8 128.3,243.2 128.5,244 128.7,245 128.9,246.3 129.1,247.8 129.3,249.7 129.5,251.9 129.7,254.4 129.9,257.3 130.1,260.5 130.3,264.1 130.5,268.3 130.7,273.1 130.9,278.7 131.1,285.7 131.2,295.9 131.4,293.7 131.6,284.5 131.8,277.8 132,272.4 132.2,267.8 132.4,263.7 132.6,260.2 132.8,257 133,254.2 133.2,251.7 133.4,249.5 133.6,247.7 133.8,246.1 134,244.8 134.2,243.8 134.4,243 134.6,242.6 134.8,242.4 135,242.4 135.2,242.7 135.4,243.3 135.6,244.2 135.8,245.3 136,246.7 136.2,248.4 136.4,250.3 136.5,252.5 136.7,255.1 136.9,257.9 137.1,261.1 137.3,264.6 137.5,268.5 137.7,272.9 137.9,277.9 138.1,283.5 138.3,290.3 138.5,299.2 138.7,307.4 138.9,295.2 139.1,287.5 139.3,281.2 139.5,275.9 139.7,271.2 139.9,267 140.1,263.3 140.3,259.9 140.5,256.8 140.7,254.1 140.9,251.6 141.1,249.5 141.3,247.6 141.5,246 141.7,244.6 141.8,243.5 142,242.7 142.2,242.1 142.4,241.7 142.6,241.7 142.8,241.8 143,242.3 143.2,243 143.4,243.9 143.6,245.1 143.8,246.6 144,248.3 144.2,250.4 144.4,252.7 144.6,255.3 144.8,258.3 145,261.7 145.2,265.4 145.4,269.7 145.6,274.6 145.8,280.4 146,287.7 146.2,299.5 146.4,292.5 146.6,284.4 146.8,278.4 147,273.3 147.1,269 147.3,265.2 147.5,261.8 147.7,258.7 147.9,256 148.1,253.6 148.3,251.5 148.5,249.7 148.7,248.1 148.9,246.8 149.1,245.7 149.3,244.9 149.5,244.3 149.7,244 149.9,243.9 150.1,244 150.3,244.4 150.5,245 150.7,245.9 150.9,247 151.1,248.3 151.3,249.9 151.5,251.8 151.7,253.9 151.9,256.3 152.1,259 152.3,262 152.4,265.3 152.6,269 152.8,273.1 153,277.8 153.2,283.1 153.4,289.6 153.6,298.2 153.8,302.3 154,290.9 154.2,283.3 154.4,277.2 154.6,271.9 154.8,267.4 155,263.3 155.2,259.7 155.4,256.5 155.6,253.7 155.8,251.2 156,249 156.2,247.2 156.4,245.6 156.6,244.4 156.8,243.4 157,242.8 157.2,242.4 157.4,242.4 157.6,242.6 157.8,243.1 157.9,244 158.1,245.1 158.3,246.5 158.5,248.3 158.7,250.3 158.9,252.7 159.1,255.5 159.3,258.6 159.5,262.1 159.7,266.1 159.9,270.6 160.1,275.9 160.3,282.1 160.5,290.1 160.7,305.2 160.9,291.5 161.1,283.5 161.3,277.3 161.5,272.1 161.7,267.6 161.9,263.6 162.1,260.1 162.3,256.9 162.5,254.1 162.7,251.6 162.9,249.4 163.1,247.5 163.2,245.9 163.4,244.6 163.6,243.5 163.8,242.7 164,242.1 164.2,241.8 164.4,241.8 164.6,242 164.8,242.5 165,243.3 165.2,244.3 165.4,245.6 165.6,247.2 165.8,249 166,251.1 166.2,253.5 166.4,256.3 166.6,259.3 166.8,262.7 167,266.5 167.2,270.8 167.4,275.7 167.6,281.3 167.8,288.2 168,297.7 168.2,299.4 168.4,289.4 168.5,282.3 168.7,276.5 168.9,271.4 169.1,267 169.3,263 169.5,259.4 169.7,256.2 169.9,253.3 170.1,250.7 170.3,248.3 170.5,246.3 170.7,244.5 170.9,243 171.1,241.7 171.3,240.7 171.5,239.9 171.7,239.4 171.9,239.2 172.1,239.2 172.3,239.4 172.5,239.9 172.7,240.6 172.9,241.7 173.1,242.9 173.3,244.4 173.5,246.3 173.7,248.3 173.8,250.7 174,253.5 174.2,256.5 174.4,260 174.6,263.9 174.8,268.4 175,273.7 175.2,280.2 175.4,289.7 175.6,289.9 175.8,281.5 176,275.4 176.2,270.4 176.4,266 176.6,262.2 176.8,258.8 177,255.8 177.2,253.1 177.4,250.6 177.6,248.5 177.8,246.6 178,245 178.2,243.7 178.4,242.5 178.6,241.7 178.8,241.1 179,240.7 179.1,240.5 179.3,240.6 179.5,241 179.7,241.6 179.9,242.4 180.1,243.5 180.3,244.9 180.5,246.5 180.7,248.4 180.9,250.6 181.1,253.1 181.3,255.9 181.5,259.1 181.7,262.8 181.9,267.1 182.1,272.2 182.3,278.9 182.5,291.6 182.7,279.1 182.9,272.7 183.1,267.7 183.3,263.5 183.5,259.9 183.7,256.6 183.9,253.8 184.1,251.2 184.3,248.9 184.4,246.9 184.6,245.2 184.8,243.7 185,242.4 185.2,241.4 185.4,240.6 185.6,240 185.8,239.6 186,239.5 186.2,239.6 186.4,239.9 186.6,240.4 186.8,241.2 187,242.1 187.2,243.4 187.4,244.8 187.6,246.5 187.8,248.4 188,250.6 188.2,253.1 188.4,255.9 188.6,259.1 188.8,262.6 189,266.7 189.2,271.5 189.4,277.6 189.6,287.3 189.8,281.3 189.9,274.7 190.1,269.7 190.3,265.5 190.5,261.9 190.7,258.7 190.9,255.9 191.1,253.3 191.3,251.1 191.5,249.1 191.7,247.4 191.9,245.9 192.1,244.6 192.3,243.5 192.5,242.7 192.7,242.1 192.9,241.7 193.1,241.5 193.3,241.6 193.5,241.8 193.7,242.3 193.9,243 194.1,243.9 194.3,245.1 194.5,246.4 194.7,248 194.9,249.9 195.1,252 195.2,254.4 195.4,257.1 195.6,260.2 195.8,263.7 196,267.8 196.2,272.7 196.4,279.4 196.6,283.2 196.8,273.8 197,267.6 197.2,262.8 197.4,258.6 197.6,255.1 197.8,251.9 198,249.1 198.2,246.6 198.4,244.4 198.6,242.4 198.8,240.8 199,239.3 199.2,238.1 199.4,237.1 199.6,236.4 199.8,235.9 200,235.6 200.2,235.5 200.4,235.7 200.5,236 200.7,236.6 200.9,237.4 201.1,238.4 201.3,239.7 201.5,241.2 201.7,242.9 201.9,244.9 202.1,247.1 202.3,249.6 202.5,252.3 202.7,255.4 202.9,258.8 203.1,262.6 203.3,266.9 203.5,271.9 203.7,277.9 203.9,286.1 204.1,287.3 204.3,278 204.5,271.4 204.7,266.1 204.9,261.5 205.1,257.5 205.3,253.9 205.5,250.7 205.7,247.8 205.8,245.2 206,242.9 206.2,240.9 206.4,239.1 206.6,237.6 206.8,236.4 207,235.3 207.2,234.6 207.4,234 207.6,233.7 207.8,233.7 208,233.9 208.2,234.3 208.4,235 208.6,235.9 208.8,237 209,238.4 209.2,240.1 209.4,242 209.6,244.2 209.8,246.7 210,249.6 210.2,252.7 210.4,256.3 210.6,260.4 210.8,265.1 211,270.8 211.1,278.2 211.3,287.9 211.5,276.1 211.7,268.9 211.9,263.2 212.1,258.3 212.3,254 212.5,250.2 212.7,246.7 212.9,243.6 213.1,240.8 213.3,238.2 213.5,236 213.7,234 213.9,232.2 214.1,230.7 214.3,229.5 214.5,228.5 214.7,227.7 214.9,227.1 215.1,226.8 215.3,226.8 215.5,226.9 215.7,227.4 215.9,228 216.1,228.9 216.3,230 216.4,231.4 216.6,233.1 216.8,235 217,237.3 217.2,239.8 217.4,242.7 217.6,246 217.8,249.8 218,254.2 218.2,259.6 218.4,266.9 218.6,273.9 218.8,263.7 219,257.3 219.2,252.2 219.4,247.8 219.6,244.1 219.8,240.8 220,237.8 220.2,235.2 220.4,232.9 220.6,230.9 220.8,229.2 221,227.7 221.2,226.4 221.4,225.4 221.6,224.7 221.8,224.2 221.9,224 222.1,223.9 222.3,224.2 222.5,224.6 222.7,225.3 222.9,226.3 223.1,227.5 223.3,229 223.5,230.7 223.7,232.6 223.9,234.9 224.1,237.4 224.3,240.3 224.5,243.5 224.7,247.2 224.9,251.3 225.1,256.1 225.3,261.9 225.5,269.9 225.7,271.9 225.9,261.9 226.1,255.1 226.3,249.5 226.5,244.8 226.7,240.5 226.9,236.8 227.1,233.4 227.2,230.4 227.4,227.8 227.6,225.4 227.8,223.3 228,221.4 228.2,219.9 228.4,218.6 228.6,217.5 228.8,216.8 229,216.2 229.2,215.9 229.4,215.9 229.6,216.1 229.8,216.6 230,217.4 230.2,218.3 230.4,219.6 230.6,221.1 230.8,222.9 231,225 231.2,227.4 231.4,230.1 231.6,233.1 231.8,236.6 232,240.5 232.2,245 232.4,250.3 232.5,256.8 232.7,266.7 232.9,264.9 233.1,258.1 233.3,253.2 233.5,249.3 233.7,246 233.9,243.1 234.1,240.6 234.3,238.5 234.5,236.6 234.7,235.1 234.9,233.7 235.1,232.6 235.3,231.8 235.5,231.2 235.7,230.7 235.9,230.6 236.1,230.6 236.3,230.8 236.5,231.3 236.7,232 236.9,232.9 237.1,234 237.3,235.3 237.5,236.9 237.7,238.6 237.8,240.6 238,242.9 238.2,245.4 238.4,248.1 238.6,251.1 238.8,254.4 239,258 239.2,262.1 239.4,266.6 239.6,271.8 239.8,278.1 240,286.9 240.2,285.6 240.4,278.1 240.6,272.7 240.8,268.2 241,264.3 241.2,260.9 241.4,257.8 241.6,255.1 241.8,252.6 242,250.4 242.2,248.5 242.4,246.8 242.6,245.3 242.8,244 243,242.9 243.1,242 243.3,241.4 243.5,240.9 243.7,240.6 243.9,240.6 244.1,240.7 244.3,241.1 244.5,241.6 244.7,242.3 244.9,243.3 245.1,244.5 245.3,245.8 245.5,247.4 245.7,249.3 245.9,251.3 246.1,253.7 246.3,256.3 246.5,259.2 246.7,262.4 246.9,266.1 247.1,270.4 247.3,275.6 247.5,282.7 247.7,286.8 247.9,278.2 248.1,272.5 248.3,268 248.5,264.1 248.6,260.7 248.8,257.7 249,255.1 249.2,252.7 249.4,250.6 249.6,248.8 249.8,247.2 250,245.9 250.2,244.7 250.4,243.8" fill="none" stroke="#111111" stroke-width="2.0" stroke-linejoin="round" clip-path="url(#cc)"/>
<path d="M48.4,295.4 48.6,285.4 48.8,279.2 49,274.3 49.2,270.2 49.4,266.6 49.6,263.5 49.8,260.7 50,258.3 50.2,256.2 50.4,254.4 50.6,252.9 50.8,251.6 51,250.6 51.1,249.9 51.3,249.4 51.5,249.2 51.7,249.2 51.9,249.5 52.1,250 52.3,250.8 52.5,251.8 52.7,253.1 52.9,254.7 53.1,256.5 53.3,258.6 53.5,261 53.7,263.7 53.9,266.8 54.1,270.2 54.3,274.1 54.5,278.6 54.7,283.9 54.9,290.6 55.1,302.3 55.3,291.1 55.5,283.7 55.7,278 55.9,273.2 56.1,269.1 56.3,265.4 56.4,262.1 56.6,259.2 56.8,256.6 57,254.3 57.2,252.3 57.4,250.5 57.6,249 57.8,247.8 58,246.8 58.2,246.1 58.4,245.6 58.6,245.3 58.8,245.3 59,245.6 59.2,246.1 59.4,246.8 59.6,247.8 59.8,249 60,250.5 60.2,252.3 60.4,254.4 60.6,256.7 60.8,259.3 61,262.3 61.2,265.7 61.4,269.5 61.6,273.8 61.7,278.9 61.9,285.2 62.1,294.5 62.3,292.3 62.5,284.3 62.7,278.4 62.9,273.6 63.1,269.4 63.3,265.8 63.5,262.5 63.7,259.7 63.9,257.1 64.1,254.9 64.3,252.9 64.5,251.3 64.7,249.9 64.9,248.7 65.1,247.9 65.3,247.3 65.5,246.9 65.7,246.8 65.9,247 66.1,247.4 66.3,248 66.5,249 66.7,250.2 66.9,251.6 67.1,253.4 67.2,255.4 67.4,257.8 67.6,260.5 67.8,263.5 68,267 68.2,271 68.4,275.7 68.6,281.5 68.8,289.7 69,290.3 69.2,282.3 69.4,276.6 69.6,271.9 69.8,267.9 70,264.4 70.2,261.3 70.4,258.5 70.6,256.1 70.8,253.9 71,252 71.2,250.3 71.4,248.9 71.6,247.7 71.8,246.8 72,246.1 72.2,245.6 72.4,245.3 72.5,245.3 72.7,245.6 72.9,246 73.1,246.7 73.3,247.6 73.5,248.8 73.7,250.2 73.9,251.9 74.1,253.8 74.3,256 74.5,258.6 74.7,261.4 74.9,264.7 75.1,268.4 75.3,272.8 75.5,278.1 75.7,285.6 75.9,287.1 76.1,279.2 76.3,273.9 76.5,269.5 76.7,265.9 76.9,262.7 77.1,259.9 77.3,257.5 77.5,255.4 77.7,253.5 77.8,251.9 78,250.6 78.2,249.5 78.4,248.7 78.6,248.1 78.8,247.7 79,247.6 79.2,247.6 79.4,247.9 79.6,248.5 79.8,249.3 80,250.3 80.2,251.5 80.4,253 80.6,254.7 80.8,256.7 81,258.9 81.2,261.4 81.4,264.2 81.6,267.4 81.8,270.9 82,274.9 82.2,279.5 82.4,285 82.6,292.5 82.8,294.8 83,285.3 83.1,279 83.3,274 83.5,269.7 83.7,266 83.9,262.8 84.1,260 84.3,257.5 84.5,255.4 84.7,253.5 84.9,252 85.1,250.7 85.3,249.7 85.5,249 85.7,248.5 85.9,248.4 86.1,248.5 86.3,248.8 86.5,249.4 86.7,250.3 86.9,251.5 87.1,252.9 87.3,254.6 87.5,256.6 87.7,258.9 87.9,261.5 88.1,264.4 88.3,267.7 88.4,271.3 88.6,275.5 88.8,280.2 89,285.7 89.2,292.4 89.4,302.5 89.6,298.8 89.8,290.8 90,284.8 90.2,279.8 90.4,275.5 90.6,271.7 90.8,268.3 91,265.2 91.2,262.5 91.4,260.1 91.6,257.9 91.8,256 92,254.4 92.2,253 92.4,251.8 92.6,250.9 92.8,250.3 93,249.9 93.2,249.7 93.4,249.8 93.6,250.1 93.7,250.7 93.9,251.5 94.1,252.6 94.3,253.9 94.5,255.4 94.7,257.3 94.9,259.4 95.1,261.9 95.3,264.6 95.5,267.8 95.7,271.4 95.9,275.5 96.1,280.5 96.3,286.7 96.5,296.6 96.7,290.6 96.9,283.3 97.1,277.7 97.3,273.2 97.5,269.2 97.7,265.8 97.9,262.7 98.1,260 98.3,257.5 98.5,255.4 98.7,253.5 98.9,252 99.1,250.6 99.2,249.5 99.4,248.7 99.6,248.1 99.8,247.7 100,247.6 100.2,247.8 100.4,248.1 100.6,248.7 100.8,249.6 101,250.7 101.2,252 101.4,253.6 101.6,255.5 101.8,257.7 102,260.1 102.2,262.9 102.4,266 102.6,269.5 102.8,273.5 103,278.2 103.2,284 103.4,292 103.6,292.1 103.8,282.8 104,276.4 104.2,271.2 104.4,266.8 104.5,262.9 104.7,259.5 104.9,256.6 105.1,253.9 105.3,251.6 105.5,249.6 105.7,247.9 105.9,246.5 106.1,245.3 106.3,244.4 106.5,243.8 106.7,243.5 106.9,243.4 107.1,243.6 107.3,244 107.5,244.7 107.7,245.6 107.9,246.9 108.1,248.4 108.3,250.1 108.5,252.2 108.7,254.5 108.9,257.2 109.1,260.1 109.3,263.5 109.5,267.2 109.7,271.4 109.8,276.1 110,281.6 110.2,288.3 110.4,297.6 110.6,297.9 110.8,288.6 111,281.9 111.2,276.4 111.4,271.7 111.6,267.5 111.8,263.8 112,260.5 112.2,257.5 112.4,254.9 112.6,252.5 112.8,250.4 113,248.7 113.2,247.2 113.4,245.9 113.6,244.9 113.8,244.2 114,243.8 114.2,243.6 114.4,243.7 114.6,244 114.8,244.6 115,245.5 115.1,246.6 115.3,248 115.5,249.7 115.7,251.7 115.9,254 116.1,256.6 116.3,259.6 116.5,263 116.7,266.9 116.9,271.4 117.1,276.8 117.3,283.7 117.5,295.9 117.7,287.2 117.9,280.5 118.1,275.4 118.3,271.1 118.5,267.4 118.7,264.1 118.9,261.2 119.1,258.5 119.3,256.2 119.5,254.1 119.7,252.3 119.9,250.8 120.1,249.4 120.3,248.3 120.4,247.4 120.6,246.7 120.8,246.3 121,246.1 121.2,246 121.4,246.3 121.6,246.7 121.8,247.3 122,248.2 122.2,249.3 122.4,250.6 122.6,252.2 122.8,254 123,256 123.2,258.3 123.4,261 123.6,263.9 123.8,267.3 124,271.1 124.2,275.5 124.4,281 124.6,288.6 124.8,287.9 125,278.9 125.2,272.7 125.4,267.7 125.6,263.6 125.8,260 125.9,256.9 126.1,254.2 126.3,251.9 126.5,249.9 126.7,248.2 126.9,246.9 127.1,245.8 127.3,245 127.5,244.6 127.7,244.4 127.9,244.5 128.1,244.8 128.3,245.5 128.5,246.4 128.7,247.7 128.9,249.2 129.1,251 129.3,253.1 129.5,255.5 129.7,258.2 129.9,261.2 130.1,264.6 130.3,268.4 130.5,272.6 130.7,277.4 130.9,282.8 131.1,289.3 131.2,297.6 131.4,307.7 131.6,294 131.8,286 132,279.7 132.2,274.3 132.4,269.7 132.6,265.6 132.8,262 133,258.8 133.2,255.9 133.4,253.5 133.6,251.3 133.8,249.5 134,248.1 134.2,246.9 134.4,246.1 134.6,245.5 134.8,245.3 135,245.3 135.2,245.7 135.4,246.4 135.6,247.4 135.8,248.7 136,250.3 136.2,252.2 136.4,254.5 136.5,257.1 136.7,260.1 136.9,263.5 137.1,267.4 137.3,271.7 137.5,276.7 137.7,282.4 137.9,289.5 138.1,299.1 138.3,301.1 138.5,289.2 138.7,281 138.9,274.4 139.1,268.7 139.3,263.7 139.5,259.3 139.7,255.4 139.9,251.9 140.1,248.8 140.3,246.1 140.5,243.7 140.7,241.7 140.9,240 141.1,238.7 141.3,237.6 141.5,236.9 141.7,236.5 141.8,236.5 142,236.8 142.2,237.3 142.4,238.2 142.6,239.5 142.8,241.1 143,243 143.2,245.2 143.4,247.8 143.6,250.8 143.8,254.2 144,258 144.2,262.4 144.4,267.3 144.6,272.9 144.8,279.6 145,288 145.2,301.3 145.4,291.9 145.6,281.6 145.8,273.8 146,267.3 146.2,261.6 146.4,256.7 146.6,252.3 146.8,248.3 147,244.8 147.1,241.7 147.3,239 147.5,236.6 147.7,234.6 147.9,232.9 148.1,231.5 148.3,230.5 148.5,229.8 148.7,229.4 148.9,229.4 149.1,229.7 149.3,230.3 149.5,231.2 149.7,232.5 149.9,234.1 150.1,236 150.3,238.3 150.5,241 150.7,244 150.9,247.4 151.1,251.3 151.3,255.7 151.5,260.6 151.7,266.2 151.9,272.8 152.1,280.8 152.3,291.9 152.4,292.4 152.6,278.4 152.8,268.8 153,261.1 153.2,254.6 153.4,248.9 153.6,244 153.8,239.6 154,235.8 154.2,232.6 154.4,229.8 154.6,227.4 154.8,225.5 155,224.1 155.2,223.1 155.4,222.5 155.6,222.3 155.8,222.6 156,223.3 156.2,224.4 156.4,226 156.6,227.9 156.8,230.4 157,233.2 157.2,236.6 157.4,240.4 157.6,244.7 157.8,249.6 157.9,255.2 158.1,261.4 158.3,268.6 158.5,277 158.7,287.4 158.9,303.5 159.1,295.1 159.3,283.3 159.5,274.4 159.7,267 159.9,260.6 160.1,254.9 160.3,249.9 160.5,245.4 160.7,241.5 160.9,237.9 161.1,234.8 161.3,232.1 161.5,229.9 161.7,228 161.9,226.5 162.1,225.3 162.3,224.6 162.5,224.2 162.7,224.2 162.9,224.6 163.1,225.3 163.2,226.5 163.4,228 163.6,229.9 163.8,232.2 164,234.9 164.2,238.1 164.4,241.6 164.6,245.7 164.8,250.3 165,255.5 165.2,261.4 165.4,268.3 165.6,276.4 165.8,286.9 166,308.3 166.2,289.2 166.4,279.5 166.6,271.9 166.8,265.4 167,259.9 167.2,254.9 167.4,250.5 167.6,246.6 167.8,243.1 168,240 168.2,237.3 168.4,234.9 168.5,232.9 168.7,231.3 168.9,230 169.1,229 169.3,228.3 169.5,228 169.7,228 169.9,228.4 170.1,229.1 170.3,230.1 170.5,231.5 170.7,233.2 170.9,235.2 171.1,237.6 171.3,240.4 171.5,243.6 171.7,247.2 171.9,251.3 172.1,255.9 172.3,261.1 172.5,267.1 172.7,274.2 172.9,283.1 173.1,297.4 173.3,290.6 173.5,281.9 173.7,275.3 173.8,269.8 174,265 174.2,260.9 174.4,257.2 174.6,253.9 174.8,251 175,248.5 175.2,246.3 175.4,244.5 175.6,242.9 175.8,241.7 176,240.7 176.2,240.1 176.4,239.7 176.6,239.7 176.8,239.9 177,240.5 177.2,241.3 177.4,242.5 177.6,244 177.8,245.8 178,247.9 178.2,250.3 178.4,253.1 178.6,256.3 178.8,260 179,264.1 179.1,268.8 179.3,274.3 179.5,280.9 179.7,290.1 179.9,294.5 180.1,284.5 180.3,277.7 180.5,272.3 180.7,267.7 180.9,263.7 181.1,260.2 181.3,257.1 181.5,254.4 181.7,252 181.9,249.9 182.1,248.2 182.3,246.7 182.5,245.5 182.7,244.6 182.9,243.9 183.1,243.6 183.3,243.5 183.5,243.7 183.7,244.2 183.9,244.9 184.1,245.9 184.3,247.2 184.4,248.8 184.6,250.7 184.8,252.9 185,255.3 185.2,258.1 185.4,261.3 185.6,264.8 185.8,268.8 186,273.4 186.2,278.6 186.4,284.8 186.6,293 186.8,301.9 187,289.3 187.2,281.8 187.4,275.9 187.6,271 187.8,266.7 188,263 188.2,259.7 188.4,256.9 188.6,254.4 188.8,252.3 189,250.5 189.2,249 189.4,247.9 189.6,247 189.8,246.5 189.9,246.3 190.1,246.4 190.3,246.8 190.5,247.5 190.7,248.5 190.9,249.8 191.1,251.4 191.3,253.4 191.5,255.6 191.7,258.2 191.9,261.2 192.1,264.6 192.3,268.3 192.5,272.5 192.7,277.3 192.9,282.8 193.1,289.3 193.3,297.5 193.5,312.9 193.7,298.1 193.9,289.7 194.1,283.2 194.3,277.8 194.5,273.1 194.7,269 194.9,265.3 195.1,262.2 195.2,259.4 195.4,256.9 195.6,254.9 195.8,253.1 196,251.7 196.2,250.7 196.4,249.9 196.6,249.5 196.8,249.4 197,249.6 197.2,250.1 197.4,251 197.6,252.1 197.8,253.6 198,255.5 198.2,257.7 198.4,260.2 198.6,263.1 198.8,266.4 199,270.2 199.2,274.4 199.4,279.3 199.6,285 199.8,291.9 200,301.1 200.2,307.7 200.4,297.1 200.5,290 200.7,284.3 200.9,279.3 201.1,275 201.3,271.1 201.5,267.7 201.7,264.6 201.9,261.8 202.1,259.3 202.3,257.2 202.5,255.3 202.7,253.7 202.9,252.3 203.1,251.2 203.3,250.4 203.5,249.9 203.7,249.6 203.9,249.5 204.1,249.8 204.3,250.3 204.5,251 204.7,252.1 204.9,253.4 205.1,254.9 205.3,256.8 205.5,259 205.7,261.5 205.8,264.3 206,267.6 206.2,271.3 206.4,275.5 206.6,280.5 206.8,286.7 207,295.4 207.2,295.1 207.4,285.1 207.6,278.2 207.8,272.6 208,267.9 208.2,263.8 208.4,260.3 208.6,257.2 208.8,254.5 209,252.2 209.2,250.2 209.4,248.6 209.6,247.4 209.8,246.4 210,245.8 210.2,245.5 210.4,245.5 210.6,245.9 210.8,246.5 211,247.5 211.1,248.8 211.3,250.4 211.5,252.3 211.7,254.6 211.9,257.2 212.1,260.2 212.3,263.6 212.5,267.4 212.7,271.7 212.9,276.5 213.1,282.1 213.3,288.6 213.5,296.8 213.7,310.8 213.9,298.6 214.1,289.8 214.3,283.1 214.5,277.5 214.7,272.6 214.9,268.3 215.1,264.5 215.3,261.1 215.5,258.1 215.7,255.5 215.9,253.2 216.1,251.2 216.3,249.6 216.4,248.3 216.6,247.2 216.8,246.5 217,246.1 217.2,246 217.4,246.1 217.6,246.6 217.8,247.4 218,248.5 218.2,249.8 218.4,251.5 218.6,253.6 218.8,255.9 219,258.6 219.2,261.7 219.4,265.1 219.6,269 219.8,273.3 220,278.3 220.2,284.1 220.4,291.1 220.6,300.3 220.8,307.7 221,296 221.2,288.5 221.4,282.5 221.6,277.5 221.8,273.1 221.9,269.2 222.1,265.8 222.3,262.8 222.5,260.1 222.7,257.8 222.9,255.8 223.1,254.1 223.3,252.7 223.5,251.6 223.7,250.8 223.9,250.3 224.1,250 224.3,250.1 224.5,250.4 224.7,251.1 224.9,252 225.1,253.2 225.3,254.7 225.5,256.5 225.7,258.6 225.9,261 226.1,263.8 226.3,266.8 226.5,270.3 226.7,274.2 226.9,278.5 227.1,283.4 227.2,289 227.4,295.7 227.6,304.3 227.8,317.8 228,303.3 228.2,295 228.4,288.5 228.6,282.9 228.8,278 229,273.6 229.2,269.7 229.4,266.2 229.6,263.1 229.8,260.4 230,257.9 230.2,255.8 230.4,254.1 230.6,252.6 230.8,251.5 231,250.6 231.2,250.1 231.4,249.8 231.6,249.9 231.8,250.3 232,251 232.2,252 232.4,253.3 232.5,255 232.7,257 232.9,259.4 233.1,262.2 233.3,265.4 233.5,269.1 233.7,273.4 233.9,278.5 234.1,284.8 234.3,293.9 234.5,296.5 234.7,287.7 234.9,281.6 235.1,276.6 235.3,272.4 235.5,268.7 235.7,265.4 235.9,262.5 236.1,260 236.3,257.7 236.5,255.6 236.7,253.9 236.9,252.4 237.1,251.1 237.3,250.1 237.5,249.3 237.7,248.7 237.8,248.4 238,248.3 238.2,248.4 238.4,248.7 238.6,249.3 238.8,250.1 239,251.1 239.2,252.4 239.4,253.9 239.6,255.6 239.8,257.6 240,259.8 240.2,262.4 240.4,265.2 240.6,268.3 240.8,271.8 241,275.7 241.2,280.1 241.4,285.2 241.6,291.3 241.8,299.8 242,301.9 242.2,293.2 242.4,287 242.6,281.9 242.8,277.6 243,273.7 243.1,270.2 243.3,267.1 243.5,264.3 243.7,261.7 243.9,259.5 244.1,257.5 244.3,255.7 244.5,254.2 244.7,252.9 244.9,251.8 245.1,251 245.3,250.4 245.5,250.1 245.7,249.9 245.9,250 246.1,250.4 246.3,250.9 246.5,251.7 246.7,252.8 246.9,254 247.1,255.6 247.3,257.4 247.5,259.5 247.7,261.9 247.9,264.6 248.1,267.7 248.3,271.3 248.5,275.6 248.6,280.8 248.8,288.1 249,289.8 249.2,280.6 249.4,274.3 249.6,269.4 249.8,265.2 250,261.5 250.2,258.4 250.4,255.6" fill="none" stroke="#3d8a3a" stroke-width="1.7" stroke-dasharray="1.4,2.0" stroke-linejoin="round" clip-path="url(#cc)"/>
<path d="M48.4,278.9 48.6,271.6 48.8,265.8 49,260.9 49.2,256.6 49.4,252.9 49.6,249.6 49.8,246.7 50,244.2 50.2,242.1 50.4,240.3 50.6,238.8 50.8,237.6 51,236.8 51.1,236.2 51.3,236 51.5,236 51.7,236.4 51.9,237 52.1,238 52.3,239.3 52.5,240.9 52.7,242.8 52.9,245 53.1,247.6 53.3,250.6 53.5,253.9 53.7,257.6 53.9,261.8 54.1,266.6 54.3,272.1 54.5,278.7 54.7,287.2 54.9,299.3 55.1,286.5 55.3,279 55.5,273.1 55.7,268.1 55.9,263.7 56.1,259.9 56.3,256.4 56.4,253.4 56.6,250.7 56.8,248.2 57,246.1 57.2,244.3 57.4,242.8 57.6,241.5 57.8,240.5 58,239.8 58.2,239.3 58.4,239.1 58.6,239.2 58.8,239.5 59,240.1 59.2,241 59.4,242.1 59.6,243.5 59.8,245.2 60,247.2 60.2,249.4 60.4,252 60.6,255 60.8,258.3 61,262 61.2,266.2 61.4,271.1 61.6,276.9 61.7,284.2 61.9,297.3 62.1,285.6 62.3,277.8 62.5,271.8 62.7,266.8 62.9,262.4 63.1,258.6 63.3,255.2 63.5,252.3 63.7,249.6 63.9,247.4 64.1,245.4 64.3,243.8 64.5,242.4 64.7,241.4 64.9,240.6 65.1,240.2 65.3,240 65.5,240.1 65.7,240.5 65.9,241.2 66.1,242.2 66.3,243.4 66.5,245 66.7,246.9 66.9,249.1 67.1,251.6 67.2,254.5 67.4,257.8 67.6,261.5 67.8,265.8 68,270.7 68.2,276.5 68.4,283.9 68.6,297.1 68.8,286.1 69,278.7 69.2,273 69.4,268.1 69.6,264 69.8,260.3 70,257 70.2,254 70.4,251.4 70.6,249.1 70.8,247.1 71,245.4 71.2,243.9 71.4,242.8 71.6,241.8 71.8,241.2 72,240.8 72.2,240.6 72.4,240.7 72.5,241.1 72.7,241.7 72.9,242.6 73.1,243.7 73.3,245.2 73.5,246.9 73.7,248.8 73.9,251.1 74.1,253.7 74.3,256.7 74.5,260.1 74.7,263.9 74.9,268.3 75.1,273.5 75.3,280.2 75.5,291 75.7,283 75.9,275.6 76.1,270 76.3,265.4 76.5,261.5 76.7,258.1 76.9,255.1 77.1,252.4 77.3,250.1 77.5,248.2 77.7,246.5 77.8,245.1 78,244 78.2,243.1 78.4,242.5 78.6,242.2 78.8,242.1 79,242.3 79.2,242.8 79.4,243.5 79.6,244.5 79.8,245.7 80,247.2 80.2,249 80.4,251 80.6,253.3 80.8,256 81,258.9 81.2,262.2 81.4,265.9 81.6,270 81.8,274.7 82,280.1 82.2,286.6 82.4,295.6 82.6,295.2 82.8,284.7 83,277.3 83.1,271.3 83.3,266.1 83.5,261.6 83.7,257.7 83.9,254.1 84.1,251 84.3,248.3 84.5,245.9 84.7,243.8 84.9,242.1 85.1,240.7 85.3,239.6 85.5,238.8 85.7,238.3 85.9,238.1 86.1,238.2 86.3,238.6 86.5,239.4 86.7,240.4 86.9,241.8 87.1,243.4 87.3,245.4 87.5,247.8 87.7,250.4 87.9,253.5 88.1,256.9 88.3,260.8 88.4,265.3 88.6,270.3 88.8,276.2 89,283.5 89.2,293.7 89.4,295.3 89.6,286.1 89.8,279.6 90,274.2 90.2,269.6 90.4,265.6 90.6,261.9 90.8,258.7 91,255.8 91.2,253.3 91.4,251 91.6,249 91.8,247.3 92,245.8 92.2,244.6 92.4,243.7 92.6,243 92.8,242.6 93,242.4 93.2,242.5 93.4,242.9 93.6,243.5 93.7,244.3 93.9,245.4 94.1,246.8 94.3,248.5 94.5,250.4 94.7,252.7 94.9,255.2 95.1,258.1 95.3,261.3 95.5,265 95.7,269.2 95.9,274.1 96.1,280.1 96.3,288.2 96.5,292.8 96.7,282.9 96.9,276.3 97.1,271.1 97.3,266.8 97.5,263 97.7,259.7 97.9,256.8 98.1,254.2 98.3,252 98.5,250.1 98.7,248.4 98.9,247.1 99.1,246 99.2,245.2 99.4,244.7 99.6,244.4 99.8,244.4 100,244.7 100.2,245.2 100.4,246 100.6,247.1 100.8,248.4 101,250 101.2,251.9 101.4,254 101.6,256.5 101.8,259.2 102,262.3 102.2,265.7 102.4,269.6 102.6,273.9 102.8,278.8 103,284.5 103.2,291.6 103.4,302.1 103.6,295.9 103.8,286.8 104,280 104.2,274.5 104.4,269.7 104.5,265.5 104.7,261.8 104.9,258.5 105.1,255.6 105.3,253 105.5,250.8 105.7,248.8 105.9,247.2 106.1,245.9 106.3,244.9 106.5,244.2 106.7,243.7 106.9,243.6 107.1,243.7 107.3,244.1 107.5,244.8 107.7,245.8 107.9,247.1 108.1,248.7 108.3,250.6 108.5,252.8 108.7,255.3 108.9,258.1 109.1,261.3 109.3,264.9 109.5,268.9 109.7,273.5 109.8,278.6 110,284.6 110.2,292 110.4,302.7 110.6,301.3 110.8,291.9 111,285 111.2,279.4 111.4,274.5 111.6,270.2 111.8,266.3 112,262.9 112.2,259.8 112.4,257.1 112.6,254.7 112.8,252.6 113,250.8 113.2,249.3 113.4,248.1 113.6,247.1 113.8,246.5 114,246.1 114.2,246 114.4,246.2 114.6,246.7 114.8,247.5 115,248.5 115.1,249.9 115.3,251.5 115.5,253.5 115.7,255.7 115.9,258.4 116.1,261.4 116.3,264.8 116.5,268.7 116.7,273.2 116.9,278.5 117.1,285.1 117.3,294.7 117.5,292.8 117.7,283.6 117.9,277 118.1,271.6 118.3,267 118.5,262.9 118.7,259.3 118.9,256.1 119.1,253.3 119.3,250.8 119.5,248.7 119.7,246.8 119.9,245.3 120.1,244 120.3,243 120.4,242.3 120.6,241.8 120.8,241.7 121,241.8 121.2,242.1 121.4,242.8 121.6,243.7 121.8,244.9 122,246.4 122.2,248.2 122.4,250.3 122.6,252.7 122.8,255.4 123,258.4 123.2,261.8 123.4,265.7 123.6,270 123.8,275 124,280.8 124.2,288.1 124.4,299.2 124.6,293.7 124.8,285.2 125,278.9 125.2,273.7 125.4,269.2 125.6,265.3 125.8,261.9 125.9,258.8 126.1,256.1 126.3,253.7 126.5,251.7 126.7,250 126.9,248.6 127.1,247.5 127.3,246.7 127.5,246.1 127.7,245.9 127.9,246 128.1,246.3 128.3,246.9 128.5,247.9 128.7,249.1 128.9,250.6 129.1,252.5 129.3,254.6 129.5,257.1 129.7,260 129.9,263.2 130.1,266.9 130.3,271.1 130.5,276 130.7,281.8 130.9,289.2 131.1,302.7 131.2,288.5 131.4,280 131.6,273.4 131.8,267.9 132,263.1 132.2,258.9 132.4,255.3 132.6,252 132.8,249.1 133,246.7 133.2,244.5 133.4,242.7 133.6,241.3 133.8,240.1 134,239.3 134.2,238.8 134.4,238.6 134.6,238.7 134.8,239.2 135,239.9 135.2,241 135.4,242.4 135.6,244.1 135.8,246.2 136,248.6 136.2,251.4 136.4,254.6 136.5,258.2 136.7,262.2 136.9,266.8 137.1,272.1 137.3,278.4 137.5,286.3 137.7,298.7 137.9,291 138.1,282.2 138.3,275.6 138.5,270.1 138.7,265.5 138.9,261.4 139.1,257.8 139.3,254.6 139.5,251.8 139.7,249.4 139.9,247.3 140.1,245.5 140.3,244.1 140.5,242.9 140.7,242.1 140.9,241.6 141.1,241.3 141.3,241.4 141.5,241.8 141.7,242.4 141.8,243.4 142,244.7 142.2,246.3 142.4,248.2 142.6,250.4 142.8,252.9 143,255.8 143.2,259.1 143.4,262.8 143.6,266.9 143.8,271.6 144,276.9 144.2,283.2 144.4,291 144.6,303.1 144.8,294.5 145,284.6 145.2,277.2 145.4,271.1 145.6,265.8 145.8,261.2 146,257.1 146.2,253.5 146.4,250.2 146.6,247.4 146.8,244.9 147,242.8 147.1,241 147.3,239.6 147.5,238.4 147.7,237.6 147.9,237.1 148.1,237 148.3,237.1 148.5,237.6 148.7,238.3 148.9,239.4 149.1,240.9 149.3,242.6 149.5,244.7 149.7,247.1 149.9,249.9 150.1,253.1 150.3,256.7 150.5,260.7 150.7,265.2 150.9,270.2 151.1,276.1 151.3,282.9 151.5,291.6 151.7,305.4 151.9,294.9 152.1,284.8 152.3,277.2 152.4,270.9 152.6,265.5 152.8,260.7 153,256.5 153.2,252.9 153.4,249.7 153.6,246.9 153.8,244.6 154,242.6 154.2,241 154.4,239.8 154.6,239 154.8,238.6 155,238.5 155.2,238.8 155.4,239.5 155.6,240.5 155.8,241.9 156,243.7 156.2,245.9 156.4,248.5 156.6,251.5 156.8,254.9 157,258.8 157.2,263.3 157.4,268.3 157.6,274.1 157.8,280.8 157.9,289.1 158.1,300.6 158.3,301.8 158.5,290.3 158.7,282.1 158.9,275.5 159.1,269.8 159.3,264.8 159.5,260.3 159.7,256.4 159.9,252.8 160.1,249.7 160.3,247 160.5,244.6 160.7,242.6 160.9,240.9 161.1,239.6 161.3,238.6 161.5,237.9 161.7,237.5 161.9,237.5 162.1,237.8 162.3,238.5 162.5,239.4 162.7,240.7 162.9,242.4 163.1,244.4 163.2,246.7 163.4,249.4 163.6,252.5 163.8,256.1 164,260.1 164.2,264.6 164.4,269.7 164.6,275.7 164.8,282.8 165,292.2 165.2,306.4 165.4,290.5 165.6,281.6 165.8,274.6 166,268.7 166.2,263.6 166.4,259.1 166.6,255.1 166.8,251.5 167,248.4 167.2,245.6 167.4,243.2 167.6,241.1 167.8,239.4 168,238 168.2,237 168.4,236.2 168.5,235.8 168.7,235.7 168.9,235.9 169.1,236.5 169.3,237.3 169.5,238.5 169.7,240 169.9,241.8 170.1,244 170.3,246.5 170.5,249.4 170.7,252.7 170.9,256.4 171.1,260.5 171.3,265.2 171.5,270.4 171.7,276.5 171.9,283.7 172.1,292.9 172.3,312.4 172.5,291.4 172.7,281.5 172.9,273.9 173.1,267.5 173.3,262 173.5,257.1 173.7,252.9 173.8,249.1 174,245.8 174.2,242.9 174.4,240.4 174.6,238.3 174.8,236.6 175,235.2 175.2,234.2 175.4,233.6 175.6,233.3 175.8,233.4 176,233.8 176.2,234.6 176.4,235.8 176.6,237.3 176.8,239.2 177,241.5 177.2,244.1 177.4,247.2 177.6,250.6 177.8,254.6 178,258.9 178.2,263.9 178.4,269.4 178.6,275.8 178.8,283.2 179,292.4 179.1,306.1 179.3,299.1 179.5,286.8 179.7,277.7 179.9,270.1 180.1,263.7 180.3,257.9 180.5,252.9 180.7,248.4 180.9,244.4 181.1,240.8 181.3,237.7 181.5,235 181.7,232.7 181.9,230.8 182.1,229.3 182.3,228.2 182.5,227.4 182.7,227.1 182.9,227.1 183.1,227.4 183.3,228.2 183.5,229.3 183.7,230.9 183.9,232.8 184.1,235.1 184.3,237.8 184.4,240.9 184.6,244.5 184.8,248.5 185,253.1 185.2,258.2 185.4,264 185.6,270.6 185.8,278.3 186,287.9 186.2,301.7 186.4,299.6 186.6,287.1 186.8,278 187,270.6 187.2,264.2 187.4,258.6 187.6,253.6 187.8,249.3 188,245.4 188.2,241.9 188.4,239 188.6,236.4 188.8,234.2 189,232.5 189.2,231.1 189.4,230.1 189.6,229.5 189.8,229.3 189.9,229.5 190.1,230 190.3,231 190.5,232.3 190.7,234 190.9,236.1 191.1,238.6 191.3,241.6 191.5,245 191.7,248.8 191.9,253.2 192.1,258.1 192.3,263.6 192.5,270 192.7,277.5 192.9,286.6 193.1,299.6 193.3,299.2 193.5,286.1 193.7,276.9 193.9,269.3 194.1,262.9 194.3,257.3 194.5,252.3 194.7,248 194.9,244.2 195.1,240.8 195.2,237.9 195.4,235.5 195.6,233.5 195.8,231.9 196,230.7 196.2,229.9 196.4,229.5 196.6,229.5 196.8,230 197,230.8 197.2,232 197.4,233.7 197.6,235.8 197.8,238.3 198,241.2 198.2,244.6 198.4,248.5 198.6,252.8 198.8,257.8 199,263.4 199.2,269.8 199.4,277.2 199.6,286.2 199.8,298.4 200,305.1 200.2,290.5 200.4,280.8 200.5,273.1 200.7,266.4 200.9,260.6 201.1,255.5 201.3,251 201.5,246.9 201.7,243.3 201.9,240.2 202.1,237.4 202.3,235.1 202.5,233.2 202.7,231.6 202.9,230.4 203.1,229.6 203.3,229.1 203.5,229.1 203.7,229.4 203.9,230 204.1,231 204.3,232.4 204.5,234.2 204.7,236.4 204.9,238.9 205.1,241.9 205.3,245.3 205.5,249.1 205.7,253.4 205.8,258.3 206,263.7 206.2,269.9 206.4,277 206.6,285.6 206.8,296.7 207,311.5 207.2,296.4 207.4,287.5 207.6,280.4 207.8,274.5 208,269.3 208.2,264.8 208.4,260.8 208.6,257.3 208.8,254.3 209,251.6 209.2,249.4 209.4,247.5 209.6,246 209.8,244.9 210,244.1 210.2,243.7 210.4,243.7 210.6,244 210.8,244.6 211,245.6 211.1,247 211.3,248.8 211.5,250.9 211.7,253.4 211.9,256.3 212.1,259.7 212.3,263.4 212.5,267.7 212.7,272.6 212.9,278.1 213.1,284.5 213.3,292.2 213.5,302.4 213.7,312.4 213.9,299.8 214.1,291.7 214.3,285.2 214.5,279.7 214.7,274.8 214.9,270.4 215.1,266.5 215.3,263 215.5,259.9 215.7,257.1 215.9,254.7 216.1,252.5 216.3,250.7 216.4,249.2 216.6,248 216.8,247 217,246.4 217.2,246 217.4,245.9 217.6,246.2 217.8,246.7 218,247.5 218.2,248.6 218.4,250 218.6,251.7 218.8,253.8 219,256.2 219.2,258.9 219.4,262 219.6,265.5 219.8,269.6 220,274.2 220.2,279.6 220.4,286.1 220.6,295 220.8,301.8 221,290.1 221.2,282.6 221.4,276.6 221.6,271.6 221.8,267.3 221.9,263.5 222.1,260.1 222.3,257.2 222.5,254.6 222.7,252.3 222.9,250.4 223.1,248.7 223.3,247.4 223.5,246.4 223.7,245.7 223.9,245.3 224.1,245.1 224.3,245.3 224.5,245.7 224.7,246.4 224.9,247.4 225.1,248.8 225.3,250.4 225.5,252.3 225.7,254.5 225.9,257 226.1,259.8 226.3,263.1 226.5,266.6 226.7,270.6 226.9,275.1 227.1,280.1 227.2,285.9 227.4,292.7 227.6,301.5 227.8,314.8 228,299.4 228.2,290.7 228.4,283.9 228.6,278.1 228.8,273.1 229,268.7 229.2,264.8 229.4,261.3 229.6,258.3 229.8,255.6 230,253.4 230.2,251.4 230.4,249.8 230.6,248.6 230.8,247.7 231,247.1 231.2,246.9 231.4,247 231.6,247.4 231.8,248.2 232,249.3 232.2,250.8 232.4,252.6 232.5,254.8 232.7,257.4 232.9,260.3 233.1,263.7 233.3,267.6 233.5,272 233.7,277 233.9,283 234.1,290.3 234.3,300.5 234.5,306.2 234.7,298.2 234.9,292.1 235.1,286.9 235.3,282.3 235.5,278.1 235.7,274.2 235.9,270.6 236.1,267.3 236.3,264.2 236.5,261.4 236.7,258.7 236.9,256.3 237.1,254.1 237.3,252.1 237.5,250.4 237.7,248.8 237.8,247.4 238,246.2 238.2,245.3 238.4,244.5 238.6,244 238.8,243.7 239,243.6 239.2,243.7 239.4,244.1 239.6,244.7 239.8,245.6 240,246.8 240.2,248.4 240.4,250.5 240.6,253.3 240.8,257.4 241,263 241.2,257.1 241.4,253.6 241.6,251 241.8,248.9 242,247.1 242.2,245.6 242.4,244.3 242.6,243.2 242.8,242.3 243,241.6 243.1,241 243.3,240.6 243.5,240.3 243.7,240.2 243.9,240.3 244.1,240.5 244.3,240.8 244.5,241.3 244.7,242 244.9,242.8 245.1,243.7 245.3,244.8 245.5,246 245.7,247.4 245.9,248.9 246.1,250.6 246.3,252.4 246.5,254.5 246.7,256.7 246.9,259.1 247.1,261.8 247.3,264.7 247.5,268 247.7,271.8 247.9,276.4 248.1,283.8 248.3,274.8 248.5,268.6 248.6,264 248.8,260.1 249,256.8 249.2,253.9 249.4,251.4 249.6,249.2 249.8,247.3 250,245.7 250.2,244.3 250.4,243.2" fill="none" stroke="#2424ae" stroke-width="1.8" stroke-dasharray="4.2,2.6" stroke-linejoin="round" clip-path="url(#cc)"/>
<path d="M48.4,269.8 48.6,273.2 48.8,276.9 49,281.2 49.2,286.1 49.4,291.9 49.6,299.8 49.8,304.7 50,294.4 50.2,287.6 50.4,282.1 50.6,277.4 50.8,273.2 51,269.5 51.1,266.1 51.3,263.1 51.5,260.3 51.7,257.8 51.9,255.6 52.1,253.6 52.3,251.9 52.5,250.4 52.7,249.1 52.9,248 53.1,247.2 53.3,246.5 53.5,246.1 53.7,245.9 53.9,246 54.1,246.2 54.3,246.7 54.5,247.3 54.7,248.2 54.9,249.4 55.1,250.7 55.3,252.3 55.5,254.2 55.7,256.3 55.9,258.7 56.1,261.3 56.3,264.3 56.4,267.7 56.6,271.5 56.8,275.8 57,281 57.2,287.5 57.4,297.7 57.6,292.2 57.8,285.1 58,279.8 58.2,275.4 58.4,271.7 58.6,268.4 58.8,265.5 59,263 59.2,260.7 59.4,258.8 59.6,257.1 59.8,255.6 60,254.4 60.2,253.5 60.4,252.8 60.6,252.3 60.8,252.1 61,252.1 61.2,252.3 61.4,252.7 61.6,253.4 61.7,254.3 61.9,255.5 62.1,256.9 62.3,258.5 62.5,260.4 62.7,262.5 62.9,264.9 63.1,267.6 63.3,270.6 63.5,273.9 63.7,277.7 63.9,281.9 64.1,286.8 64.3,292.7 64.5,300.8 64.7,302.4 64.9,293.1 65.1,286.7 65.3,281.4 65.5,277 65.7,273 65.9,269.6 66.1,266.4 66.3,263.7 66.5,261.2 66.7,259 66.9,257.1 67.1,255.5 67.2,254.1 67.4,253 67.6,252.1 67.8,251.4 68,251.1 68.2,250.9 68.4,251 68.6,251.3 68.8,251.9 69,252.7 69.2,253.8 69.4,255.2 69.6,256.8 69.8,258.6 70,260.7 70.2,263.2 70.4,265.9 70.6,269 70.8,272.5 71,276.4 71.2,280.9 71.4,286.3 71.6,293 71.8,304 72,297.2 72.2,290.3 72.4,285 72.5,280.5 72.7,276.6 72.9,273.2 73.1,270.1 73.3,267.3 73.5,264.8 73.7,262.5 73.9,260.5 74.1,258.7 74.3,257.2 74.5,255.8 74.7,254.7 74.9,253.7 75.1,253 75.3,252.5 75.5,252.2 75.7,252 75.9,252.1 76.1,252.4 76.3,252.9 76.5,253.6 76.7,254.5 76.9,255.6 77.1,256.9 77.3,258.4 77.5,260.2 77.7,262.2 77.8,264.5 78,267 78.2,269.9 78.4,273.1 78.6,276.8 78.8,281.1 79,286.3 79.2,293.4 79.4,296.5 79.6,287.7 79.8,281.9 80,277.2 80.2,273.2 80.4,269.7 80.6,266.6 80.8,263.9 81,261.5 81.2,259.3 81.4,257.4 81.6,255.7 81.8,254.3 82,253.1 82.2,252.1 82.4,251.4 82.6,250.8 82.8,250.5 83,250.4 83.1,250.4 83.3,250.8 83.5,251.3 83.7,252 83.9,252.9 84.1,254.1 84.3,255.5 84.5,257.1 84.7,258.9 84.9,261 85.1,263.3 85.3,265.9 85.5,268.8 85.7,272 85.9,275.6 86.1,279.6 86.3,284.3 86.5,289.8 86.7,297.3 86.9,302 87.1,292.3 87.3,286 87.5,281 87.7,276.7 87.9,272.9 88.1,269.5 88.3,266.5 88.4,263.8 88.6,261.4 88.8,259.2 89,257.3 89.2,255.6 89.4,254.2 89.6,253 89.8,252 90,251.2 90.2,250.6 90.4,250.2 90.6,250.1 90.8,250.1 91,250.4 91.2,250.9 91.4,251.5 91.6,252.4 91.8,253.6 92,254.9 92.2,256.5 92.4,258.2 92.6,260.3 92.8,262.5 93,265.1 93.2,267.9 93.4,271 93.6,274.6 93.7,278.5 93.9,283 94.1,288.3 94.3,295.1 94.5,307.4 94.7,296.8 94.9,290.2 95.1,285 95.3,280.7 95.5,276.9 95.7,273.5 95.9,270.5 96.1,267.8 96.3,265.4 96.5,263.2 96.7,261.3 96.9,259.6 97.1,258.1 97.3,256.9 97.5,255.8 97.7,255 97.9,254.3 98.1,253.9 98.3,253.7 98.5,253.6 98.7,253.8 98.9,254.2 99.1,254.7 99.2,255.5 99.4,256.5 99.6,257.7 99.8,259.1 100,260.7 100.2,262.6 100.4,264.6 100.6,267 100.8,269.6 101,272.5 101.2,275.8 101.4,279.4 101.6,283.6 101.8,288.6 102,294.8 102.2,305.5 102.4,295.1 102.6,287.4 102.8,281.5 103,276.5 103.2,272.2 103.4,268.3 103.6,264.8 103.8,261.7 104,258.9 104.2,256.4 104.4,254.1 104.5,252.1 104.7,250.4 104.9,248.9 105.1,247.7 105.3,246.7 105.5,245.9 105.7,245.4 105.9,245.1 106.1,245 106.3,245.2 106.5,245.6 106.7,246.3 106.9,247.2 107.1,248.3 107.3,249.7 107.5,251.3 107.7,253.2 107.9,255.4 108.1,257.8 108.3,260.6 108.5,263.8 108.7,267.3 108.9,271.4 109.1,276.1 109.3,281.8 109.5,289.5 109.7,294.7 109.8,284.1 110,277.3 110.2,271.9 110.4,267.3 110.6,263.3 110.8,259.8 111,256.6 111.2,253.8 111.4,251.3 111.6,249.1 111.8,247.2 112,245.5 112.2,244.1 112.4,243 112.6,242.1 112.8,241.4 113,241 113.2,240.8 113.4,240.8 113.6,241.1 113.8,241.6 114,242.4 114.2,243.4 114.4,244.6 114.6,246.1 114.8,247.9 115,249.8 115.1,252.1 115.3,254.6 115.5,257.4 115.7,260.5 115.9,264 116.1,267.8 116.3,272.1 116.5,277 116.7,282.6 116.9,289.5 117.1,299.4 117.3,294.6 117.5,283.6 117.7,275.6 117.9,269 118.1,263.2 118.3,258.2 118.5,253.7 118.7,249.7 118.9,246 119.1,242.8 119.3,239.9 119.5,237.3 119.7,235.1 119.9,233.2 120.1,231.6 120.3,230.3 120.4,229.3 120.6,228.6 120.8,228.2 121,228.1 121.2,228.2 121.4,228.7 121.6,229.5 121.8,230.6 122,231.9 122.2,233.6 122.4,235.6 122.6,237.9 122.8,240.6 123,243.6 123.2,247 123.4,250.8 123.6,255.1 123.8,259.8 124,265.3 124.2,271.6 124.4,279.3 124.6,289.7 124.8,293.6 125,280.1 125.2,271 125.4,263.7 125.6,257.5 125.8,252.1 125.9,247.3 126.1,243 126.3,239.2 126.5,235.8 126.7,232.9 126.9,230.3 127.1,228.1 127.3,226.2 127.5,224.8 127.7,223.6 127.9,222.9 128.1,222.4 128.3,222.3 128.5,222.6 128.7,223.2 128.9,224.1 129.1,225.4 129.3,227.1 129.5,229.1 129.7,231.4 129.9,234.2 130.1,237.3 130.3,240.9 130.5,244.9 130.7,249.4 130.9,254.4 131.1,260.1 131.2,266.7 131.4,274.5 131.6,284.6 131.8,304.9 132,285.7 132.2,276.1 132.4,268.6 132.6,262.2 132.8,256.7 133,251.9 133.2,247.5 133.4,243.6 133.6,240.1 133.8,237 134,234.3 134.2,231.9 134.4,229.9 134.6,228.1 134.8,226.7 135,225.7 135.2,224.9 135.4,224.4 135.6,224.3 135.8,224.5 136,224.9 136.2,225.7 136.4,226.8 136.5,228.2 136.7,230 136.9,232 137.1,234.4 137.3,237.2 137.5,240.3 137.7,243.8 137.9,247.7 138.1,252.1 138.3,257 138.5,262.6 138.7,269 138.9,276.7 139.1,286.7 139.3,298.9 139.5,282.8 139.7,273.2 139.9,265.6 140.1,259.2 140.3,253.7 140.5,248.7 140.7,244.3 140.9,240.4 141.1,237 141.3,233.9 141.5,231.2 141.7,228.9 141.8,226.9 142,225.3 142.2,224 142.4,223.1 142.6,222.5 142.8,222.2 143,222.3 143.2,222.7 143.4,223.4 143.6,224.5 143.8,225.9 144,227.6 144.2,229.7 144.4,232.2 144.6,235 144.8,238.2 145,241.8 145.2,245.9 145.4,250.4 145.6,255.5 145.8,261.2 146,267.7 146.2,275.5 146.4,285.3 146.6,302.3 146.8,292 147,283.7 147.1,277.3 147.3,271.9 147.5,267.2 147.7,263 147.9,259.3 148.1,255.9 148.3,252.9 148.5,250.2 148.7,247.8 148.9,245.6 149.1,243.8 149.3,242.2 149.5,240.9 149.7,239.9 149.9,239.1 150.1,238.6 150.3,238.4 150.5,238.4 150.7,238.6 150.9,239.1 151.1,239.9 151.3,241 151.5,242.3 151.7,243.9 151.9,245.8 152.1,248 152.3,250.5 152.4,253.3 152.6,256.5 152.8,260.1 153,264.2 153.2,268.9 153.4,274.4 153.6,281.4 153.8,292 154,286.8 154.2,278.4 154.4,272.3 154.6,267.2 154.8,262.9 155,259.1 155.2,255.8 155.4,252.9 155.6,250.3 155.8,248 156,246 156.2,244.3 156.4,242.9 156.6,241.7 156.8,240.8 157,240.1 157.2,239.7 157.4,239.6 157.6,239.6 157.8,240 157.9,240.6 158.1,241.4 158.3,242.5 158.5,243.8 158.7,245.4 158.9,247.3 159.1,249.4 159.3,251.8 159.5,254.5 159.7,257.5 159.9,260.7 160.1,264.4 160.3,268.4 160.5,272.9 160.7,277.9 160.9,283.7 161.1,290.6 161.3,300 161.5,304.1 161.7,294.4 161.9,287.7 162.1,282.3 162.3,277.6 162.5,273.5 162.7,269.8 162.9,266.4 163.1,263.4 163.2,260.7 163.4,258.3 163.6,256.1 163.8,254.2 164,252.5 164.2,251.1 164.4,249.9 164.6,248.9 164.8,248.1 165,247.6 165.2,247.2 165.4,247.1 165.6,247.3 165.8,247.6 166,248.2 166.2,249 166.4,250 166.6,251.3 166.8,252.8 167,254.5 167.2,256.5 167.4,258.8 167.6,261.3 167.8,264.1 168,267.3 168.2,270.9 168.4,274.9 168.5,279.6 168.7,285.1 168.9,292.2 169.1,306.3 169.3,294.4 169.5,288 169.7,282.9 169.9,278.6 170.1,274.9 170.3,271.5 170.5,268.5 170.7,265.8 170.9,263.4 171.1,261.2 171.3,259.2 171.5,257.5 171.7,256 171.9,254.7 172.1,253.6 172.3,252.7 172.5,252.1 172.7,251.6 172.9,251.3 173.1,251.3 173.3,251.4 173.5,251.7 173.7,252.3 173.8,253 174,254 174.2,255.2 174.4,256.6 174.6,258.2 174.8,260.1 175,262.2 175.2,264.6 175.4,267.3 175.6,270.4 175.8,273.9 176,277.9 176.2,282.9 176.4,289.7 176.6,293.5 176.8,284.6 177,278.7 177.2,273.9 177.4,269.9 177.6,266.3 177.8,263.2 178,260.3 178.2,257.8 178.4,255.6 178.6,253.6 178.8,251.8 179,250.3 179.1,249 179.3,247.9 179.5,247 179.7,246.3 179.9,245.9 180.1,245.6 180.3,245.6 180.5,245.7 180.7,246.1 180.9,246.7 181.1,247.5 181.3,248.5 181.5,249.7 181.7,251.1 181.9,252.8 182.1,254.7 182.3,256.8 182.5,259.2 182.7,261.9 182.9,264.9 183.1,268.3 183.3,272.1 183.5,276.6 183.7,281.9 183.9,289.2 184.1,293 184.3,284.3 184.4,278.4 184.6,273.6 184.8,269.5 185,265.9 185.2,262.6 185.4,259.7 185.6,257.1 185.8,254.7 186,252.6 186.2,250.6 186.4,248.9 186.6,247.5 186.8,246.2 187,245.1 187.2,244.2 187.4,243.5 187.6,243 187.8,242.7 188,242.6 188.2,242.7 188.4,243 188.6,243.5 188.8,244.2 189,245 189.2,246.1 189.4,247.4 189.6,248.9 189.8,250.6 189.9,252.5 190.1,254.7 190.3,257.1 190.5,259.8 190.7,262.9 190.9,266.3 191.1,270.3 191.3,275 191.5,280.9 191.7,290.9 191.9,283.7 192.1,277.4 192.3,272.5 192.5,268.5 192.7,264.9 192.9,261.8 193.1,259 193.3,256.5 193.5,254.2 193.7,252.2 193.9,250.4 194.1,248.8 194.3,247.5 194.5,246.3 194.7,245.3 194.9,244.6 195.1,244 195.2,243.6 195.4,243.4 195.6,243.4 195.8,243.6 196,244 196.2,244.6 196.4,245.3 196.6,246.3 196.8,247.5 197,248.9 197.2,250.5 197.4,252.3 197.6,254.3 197.8,256.6 198,259.2 198.2,262.1 198.4,265.4 198.6,269.2 198.8,273.8 199,279.6 199.2,290.8 199.4,278.7 199.6,272.2 199.8,267.1 200,262.9 200.2,259.3 200.4,256 200.5,253.2 200.7,250.6 200.9,248.3 201.1,246.3 201.3,244.5 201.5,243 201.7,241.6 201.9,240.5 202.1,239.7 202.3,239 202.5,238.5 202.7,238.3 202.9,238.2 203.1,238.4 203.3,238.8 203.5,239.4 203.7,240.2 203.9,241.2 204.1,242.4 204.3,243.8 204.5,245.5 204.7,247.4 204.9,249.5 205.1,251.9 205.3,254.6 205.5,257.5 205.7,260.8 205.8,264.5 206,268.7 206.2,273.6 206.4,279.7 206.6,288.9 206.8,284.9 207,277.7 207.2,272.4 207.4,267.9 207.6,264 207.8,260.5 208,257.4 208.2,254.7 208.4,252.1 208.6,249.9 208.8,247.9 209,246.1 209.2,244.5 209.4,243.1 209.6,242 209.8,241 210,240.2 210.2,239.7 210.4,239.3 210.6,239.2 210.8,239.2 211,239.5 211.1,239.9 211.3,240.6 211.5,241.4 211.7,242.5 211.9,243.8 212.1,245.3 212.3,247 212.5,248.9 212.7,251.1 212.9,253.6 213.1,256.4 213.3,259.6 213.5,263.2 213.7,267.4 213.9,272.4 214.1,279.3 214.3,282.8 214.5,273.6 214.7,267.6 214.9,262.8 215.1,258.7 215.3,255.1 215.5,252 215.7,249.2 215.9,246.7 216.1,244.5 216.3,242.6 216.4,240.9 216.6,239.5 216.8,238.3 217,237.3 217.2,236.6 217.4,236.1 217.6,235.9 217.8,235.9 218,236 218.2,236.5 218.4,237.1 218.6,238 218.8,239.1 219,240.4 219.2,242 219.4,243.8 219.6,245.9 219.8,248.3 220,250.9 220.2,253.8 220.4,257.1 220.6,260.8 220.8,265 221,269.8 221.2,275.8 221.4,284.1 221.6,285 221.8,277.4 221.9,271.9 222.1,267.4 222.3,263.6 222.5,260.1 222.7,257 222.9,254.3 223.1,251.8 223.3,249.5 223.5,247.5 223.7,245.7 223.9,244.2 224.1,242.8 224.3,241.6 224.5,240.7 224.7,239.9 224.9,239.3 225.1,238.9 225.3,238.8 225.5,238.8 225.7,239 225.9,239.4 226.1,240 226.3,240.8 226.5,241.8 226.7,243 226.9,244.4 227.1,246.1 227.2,247.9 227.4,250.1 227.6,252.5 227.8,255.2 228,258.2 228.2,261.7 228.4,265.8 228.6,270.8 228.8,277.6 229,280.7 229.2,273.6 229.4,268.7 229.6,264.7 229.8,261.3 230,258.3 230.2,255.6 230.4,253.1 230.6,250.9 230.8,248.9 231,247.2 231.2,245.6 231.4,244.2 231.6,243 231.8,241.9 232,241.1 232.2,240.4 232.4,239.9 232.5,239.5 232.7,239.3 232.9,239.3 233.1,239.5 233.3,239.8 233.5,240.3 233.7,241 233.9,241.8 234.1,242.9 234.3,244.1 234.5,245.5 234.7,247.1 234.9,248.9 235.1,250.9 235.3,253.2 235.5,255.8 235.7,258.7 235.9,262.1 236.1,266.2 236.3,271.5 236.5,280.2 236.7,271.4 236.9,266.5 237.1,262.7 237.3,259.5 237.5,256.7 237.7,254.2 237.8,252 238,250.1 238.2,248.3 238.4,246.7 238.6,245.4 238.8,244.2 239,243.1 239.2,242.3 239.4,241.6 239.6,241 239.8,240.6 240,240.4 240.2,240.3 240.4,240.4 240.6,240.7 240.8,241.1 241,241.6 241.2,242.3 241.4,243.2 241.6,244.2 241.8,245.4 242,246.8 242.2,248.4 242.4,250.1 242.6,252 242.8,254.2 243,256.5 243.1,259.2 243.3,262.2 243.5,265.6 243.7,269.7 243.9,275 244.1,281.6 244.3,271.9 244.5,266.3 244.7,261.8 244.9,258.1 245.1,254.8 245.3,251.9 245.5,249.3 245.7,247.1 245.9,245 246.1,243.2 246.3,241.7 246.5,240.3 246.7,239.2 246.9,238.2 247.1,237.5 247.3,236.9 247.5,236.6 247.7,236.5 247.9,236.5 248.1,236.7 248.3,237.2 248.5,237.8 248.6,238.7 248.8,239.7 249,240.9 249.2,242.4 249.4,244 249.6,245.9 249.8,248.1 250,250.5 250.2,253.1 250.4,256.1" fill="none" stroke="#cf2a36" stroke-width="1.7" stroke-dasharray="4.6,2.2,1.6,2.2" stroke-linejoin="round" clip-path="url(#cc)"/>
<line x1="237.3" y1="208.1" x2="237.3" y2="324.6" stroke="#000" stroke-width="1.6" stroke-dasharray="4,2.6"/>
<line x1="245.2" y1="208.1" x2="245.2" y2="324.6" stroke="#000" stroke-width="1.6" stroke-dasharray="4,2.6"/>
<line x1="68.3" y1="218.6" x2="88.3" y2="218.6" stroke="#111111" stroke-width="1.65"/>
<text x="90.6" y="223.5" font-family='"Liberation Serif", "DejaVu Serif", serif' font-size="13.6">P1</text>
<line x1="108.3" y1="218.6" x2="128.3" y2="218.6" stroke="#2424ae" stroke-width="1.6" stroke-dasharray="4.2,2.6"/>
<text x="131.7" y="223.5" font-family='"Liberation Serif", "DejaVu Serif", serif' font-size="13.6">P2</text>
<line x1="148.8" y1="218.6" x2="168.8" y2="218.6" stroke="#cf2a36" stroke-width="1.4" stroke-dasharray="4.6,2.2,1.6,2.2"/>
<text x="171.9" y="223.5" font-family='"Liberation Serif", "DejaVu Serif", serif' font-size="13.6">P3</text>
<line x1="189.7" y1="218.6" x2="209.7" y2="218.6" stroke="#3d8a3a" stroke-width="1.5" stroke-dasharray="1.4,2.0"/>
<text x="212.8" y="223.5" font-family='"Liberation Serif", "DejaVu Serif", serif' font-size="13.6">P4</text>
<rect x="48.4" y="208.1" width="201.5" height="116.50000000000003" fill="none" stroke="#555" stroke-width="1.45"/>
<line x1="43.4" y1="227.3" x2="48.4" y2="227.3" stroke="#555" stroke-width="1.3"/>
<text x="38.1" y="232.3" text-anchor="end" font-family='"Liberation Serif", "DejaVu Serif", serif' font-size="14">1.4</text>
<line x1="43.4" y1="266.2" x2="48.4" y2="266.2" stroke="#555" stroke-width="1.3"/>
<text x="38.1" y="271.2" text-anchor="end" font-family='"Liberation Serif", "DejaVu Serif", serif' font-size="14">1.3</text>
<line x1="43.4" y1="305.0" x2="48.4" y2="305.0" stroke="#555" stroke-width="1.3"/>
<text x="38.1" y="310" text-anchor="end" font-family='"Liberation Serif", "DejaVu Serif", serif' font-size="14">1.2</text>
<line x1="48.4" y1="324.6" x2="48.4" y2="329.6" stroke="#555" stroke-width="1.3"/>
<text x="48.4" y="344.6" text-anchor="middle" font-family='"Liberation Serif", "DejaVu Serif", serif' font-size="14">600</text>
<line x1="97.5" y1="324.6" x2="97.5" y2="329.6" stroke="#555" stroke-width="1.3"/>
<text x="97.5" y="344.6" text-anchor="middle" font-family='"Liberation Serif", "DejaVu Serif", serif' font-size="14">620</text>
<line x1="146.6" y1="324.6" x2="146.6" y2="329.6" stroke="#555" stroke-width="1.3"/>
<text x="146.6" y="344.6" text-anchor="middle" font-family='"Liberation Serif", "DejaVu Serif", serif' font-size="14">640</text>
<line x1="195.6" y1="324.6" x2="195.6" y2="329.6" stroke="#555" stroke-width="1.3"/>
<text x="195.6" y="344.6" text-anchor="middle" font-family='"Liberation Serif", "DejaVu Serif", serif' font-size="14">660</text>
<line x1="244.7" y1="324.6" x2="244.7" y2="329.6" stroke="#555" stroke-width="1.3"/>
<text x="244.7" y="344.6" text-anchor="middle" font-family='"Liberation Serif", "DejaVu Serif", serif' font-size="14">680</text>
<text x="149.2" y="358.6" text-anchor="middle" font-family='"Liberation Serif", "DejaVu Serif", serif' font-size="15.5" font-style="italic">(tU<tspan font-size="10.5" dy="3.5">b</tspan><tspan dy="-3.5" dx="1.2">)</tspan><tspan font-size="17" dy="1" dx="0.5">/</tspan><tspan dy="-1" dx="0.3">H</tspan></text>
<text transform="translate(11.1,266) rotate(-90)" text-anchor="middle" font-family='"Liberation Serif", "DejaVu Serif", serif' font-size="14" font-style="italic">u<tspan font-size="10" dx="0.8" dy="3.5">p</tspan><tspan font-style="normal" font-size="18.5" dx="0.6" dy="-1">/</tspan><tspan dy="-2.5" dx="0.2">U</tspan><tspan font-size="10" dx="0.8" dy="3.5">b</tspan></text>
<text x="150.3" y="385.6" text-anchor="middle" font-family='"Liberation Serif", "DejaVu Serif", serif' font-size="14.5">(c)</text>
<line x1="350.5" y1="224.8" x2="350.5" y2="324.8" stroke="#9a9a9a" stroke-width="1"/>
<line x1="357.2" y1="224.8" x2="357.2" y2="324.8" stroke="#9a9a9a" stroke-width="1"/>
<line x1="410.4" y1="224.8" x2="410.4" y2="324.8" stroke="#9a9a9a" stroke-width="1"/>
<line x1="417.3" y1="224.8" x2="417.3" y2="324.8" stroke="#9a9a9a" stroke-width="1"/>
<line x1="466.9" y1="224.8" x2="466.9" y2="324.8" stroke="#9a9a9a" stroke-width="1"/>
<line x1="473.4" y1="224.8" x2="473.4" y2="324.8" stroke="#9a9a9a" stroke-width="1"/>
<line x1="448.5" y1="224.8" x2="448.5" y2="324.8" stroke="#000" stroke-width="1.6" stroke-dasharray="4,2.6"/>
<line x1="512.3" y1="224.8" x2="512.3" y2="324.8" stroke="#000" stroke-width="1.6" stroke-dasharray="4,2.6"/>
<path d="M313,236 313.3,235.8 313.7,235.5 314,235.3 314.3,235 314.6,234.7 314.9,234.5 315.2,234.2 315.5,234 315.9,233.7 316.2,233.4 316.5,233.2 316.8,232.9 317.1,232.7 317.5,232.5 317.8,232.2 318.2,232 318.5,231.8 318.9,231.6 319.2,231.4 319.6,231.2 320,231 320.3,230.9 320.7,230.7 321.1,230.6 321.5,230.4 321.9,230.3 322.3,230.1 322.7,230 323.1,229.9 323.5,229.8 323.9,229.6 324.3,229.5 324.7,229.4 325.1,229.3 325.6,229.2 326,229.2 326.4,229.1 326.8,229 327.2,229 327.6,228.9 328,228.9 328.4,228.8 328.8,228.8 329.2,228.8 329.6,228.8 330.1,228.8 330.5,228.8 330.9,228.9 331.3,228.9 331.7,229 332.2,229 332.6,229.1 333,229.2 333.4,229.3 333.8,229.4 334.2,229.5 334.6,229.6 335,229.7 335.4,229.8 335.8,230 336.2,230.1 336.5,230.3 336.9,230.4 337.3,230.6 337.7,230.7 338,230.9 338.4,231.1 338.8,231.2 339.1,231.4 339.5,231.6 339.8,231.8 340.2,232.1 340.5,232.3 340.8,232.5 341.2,232.8 341.5,233 341.8,233.3 342.1,233.6 342.4,233.9 342.7,234.2 342.9,234.5 343.2,234.8 343.4,235.1 343.6,235.4 343.8,235.7 344,236 344.2,236.3 344.4,236.7 344.6,237 344.8,237.4 345,237.8 345.2,238.2 345.4,238.5 345.5,238.9 345.7,239.3 345.9,239.7 346,240.1 346.2,240.5 346.4,240.9 346.5,241.3 346.7,241.7 346.9,242.2 347,242.6 347.2,243 347.3,243.4 347.5,243.8 347.6,244.1 347.8,244.5 347.9,244.9 348,245.2 348.1,245.6 348.3,245.9 348.4,246.3 348.5,246.7 348.6,247.1 348.7,247.4 348.8,247.8 349,248.2 349.1,248.6 349.2,249 349.3,249.3 349.4,249.7 349.5,250.1 349.6,250.5 349.7,250.9 349.8,251.3 349.9,251.7 350,252.1 350.1,252.5 350.2,252.9 350.3,253.3 350.4,253.7 350.5,254.1 350.6,254.5 350.7,254.9 350.8,255.3 350.9,255.7 351,256.1 351.1,256.5 351.2,256.9 351.3,257.3 351.4,257.7 351.5,258.1 351.6,258.5 351.7,258.9 351.8,259.3 351.9,259.7 352,260.1 352,260.5 352.1,260.9 352.2,261.3 352.3,261.7 352.4,262.1 352.5,262.5 352.6,263 352.7,263.4 352.8,263.8 352.9,264.2 352.9,264.6 353,265.1 353.1,265.5 353.2,265.9 353.3,266.3 353.4,266.7 353.5,267.1 353.5,267.5 353.6,267.9 353.7,268.3 353.8,268.7 353.9,269.1 353.9,269.5 354,269.9 354.1,270.2 354.2,270.6 354.2,271 354.3,271.3 354.4,271.7 354.5,272 354.5,272.4 354.6,272.7 354.7,273.2 354.8,273.6 354.9,274.1 355,274.5 355.1,274.9 355.2,275.3 355.2,275.7 355.3,276.1 355.4,276.5 355.5,276.9 355.6,277.3 355.6,277.7 355.7,278.1 355.8,278.4 355.9,278.8 356,279.2 356,279.6 356.1,280 356.2,280.4 356.2,280.4 356.3,280 356.4,279.6 356.5,279.2 356.6,278.8 356.7,278.4 356.8,278.1 356.9,277.7 357,277.3 357.1,276.9 357.2,276.5 357.3,276.1 357.4,275.7 357.5,275.3 357.6,274.9 357.7,274.5 357.8,274.1 357.9,273.6 358,273.2 358.1,272.7 358.2,272.4 358.2,272 358.3,271.7 358.4,271.3 358.5,271 358.5,270.6 358.6,270.2 358.7,269.9 358.7,269.5 358.8,269.1 358.9,268.7 358.9,268.3 359,267.9 359.1,267.5 359.1,267.1 359.2,266.7 359.3,266.3 359.4,265.9 359.4,265.5 359.5,265.1 359.6,264.6 359.6,264.2 359.7,263.8 359.8,263.4 359.9,263 359.9,262.5 360,262.1 360.1,261.7 360.2,261.3 360.2,260.9 360.3,260.5 360.4,260.1 360.5,259.7 360.6,259.3 360.7,258.9 360.7,258.5 360.8,258.1 360.9,257.7 361,257.3 361.1,256.9 361.2,256.5 361.3,256.1 361.4,255.7 361.5,255.3 361.6,254.9 361.7,254.5 361.8,254.1 361.9,253.7 362,253.3 362.1,252.9 362.2,252.5 362.3,252.1 362.4,251.7 362.5,251.3 362.6,250.9 362.7,250.5 362.8,250.1 362.9,249.7 363,249.3 363.1,249 363.2,248.6 363.3,248.2 363.4,247.8 363.6,247.4 363.7,247.1 363.8,246.7 363.9,246.3 364,245.9 364.2,245.6 364.3,245.2 364.4,244.9 364.5,244.5 364.7,244.1 364.8,243.8 365,243.4 365.1,243 365.3,242.6 365.4,242.2 365.6,241.8 365.7,241.4 365.9,241 366.1,240.6 366.2,240.2 366.4,239.8 366.6,239.4 366.7,239 366.9,238.6 367.1,238.3 367.3,237.9 367.4,237.5 367.6,237.2 367.8,236.8 368,236.5 368.2,236.1 368.4,235.8 368.7,235.5 368.9,235.1 369.1,234.8 369.4,234.5 369.6,234.2 369.9,233.9 370.2,233.6 370.4,233.3 370.7,233 371,232.7 371.3,232.4 371.7,232.1 372,231.8 372.3,231.6 372.6,231.3 373,231.1 373.3,230.8 373.7,230.6 374,230.3 374.4,230.1 374.7,229.9 375.1,229.7 375.5,229.5 375.8,229.2 376.2,229.1 376.6,228.9 376.9,228.7 377.3,228.5 377.7,228.3 378,228.2 378.4,228 378.8,227.9 379.2,227.7 379.6,227.6 380,227.5 380.4,227.4 380.8,227.2 381.2,227.1 381.6,227 382,226.9 382.5,226.8 382.9,226.7 383.3,226.7 383.7,226.6 384.1,226.5 384.5,226.5 384.9,226.4 385.3,226.4 385.7,226.3 386.1,226.3 386.5,226.2 386.9,226.2 387.3,226.2 387.7,226.2 388.2,226.1 388.6,226.1 389,226.1 389.4,226.1 389.8,226.1 390.2,226.2 390.6,226.2 391,226.2 391.4,226.3 391.8,226.3 392.2,226.4 392.6,226.4 393,226.5 393.4,226.6 393.8,226.7 394.2,226.8 394.6,226.9 395,227 395.4,227.1 395.8,227.3 396.2,227.4 396.6,227.6 397,227.7 397.4,227.9 397.8,228.1 398.2,228.3 398.6,228.5 398.9,228.7 399.3,228.9 399.7,229.1 400.1,229.3 400.4,229.5 400.8,229.8 401.1,230 401.4,230.2 401.7,230.5 402,230.7 402.3,231 402.6,231.3 402.9,231.6 403.1,232 403.3,232.3 403.6,232.6 403.8,233 404,233.3 404.1,233.7 404.3,234.1 404.5,234.5 404.6,234.9 404.8,235.3 405,235.7 405.1,236.1 405.3,236.6 405.5,237 405.6,237.3 405.8,237.6 405.9,238 406,238.3 406.1,238.6 406.3,239 406.4,239.3 406.5,239.7 406.6,240.1 406.8,240.4 406.9,240.8 407,241.2 407.1,241.5 407.2,241.9 407.4,242.3 407.5,242.7 407.6,243.1 407.7,243.5 407.8,243.9 407.9,244.3 408.1,244.7 408.2,245.1 408.3,245.5 408.4,246 408.5,246.4 408.6,246.8 408.7,247.2 408.9,247.7 409,248.1 409.1,248.6 409.2,249 409.3,249.3 409.4,249.7 409.5,250 409.5,250.4 409.6,250.8 409.7,251.1 409.8,251.5 409.9,251.9 410,252.3 410.1,252.7 410.2,253.1 410.2,253.5 410.3,253.8 410.4,254.3 410.5,254.7 410.6,255.1 410.7,255.5 410.8,255.9 410.8,256.3 410.9,256.7 411,257.1 411.1,257.6 411.2,258 411.3,258.4 411.3,258.8 411.4,259.2 411.5,259.7 411.6,260.1 411.7,260.5 411.8,260.9 411.8,261.4 411.9,261.8 412,262.2 412.1,262.6 412.2,263 412.2,263.4 412.3,263.9 412.4,264.3 412.5,264.7 412.5,265.1 412.6,265.5 412.7,265.9 412.8,266.3 412.8,266.7 412.9,267.1 413,267.4 413.1,267.8 413.1,268.2 413.2,268.6 413.3,268.9 413.4,269.3 413.4,269.7 413.5,270 413.6,270.4 413.7,270.9 413.8,271.3 413.8,271.7 413.9,272.2 414,272.6 414.1,273 414.2,273.4 414.3,273.8 414.3,274.2 414.4,274.6 414.5,275 414.6,275.4 414.6,275.8 414.7,276.2 414.8,276.5 414.9,276.9 414.9,277.3 415,277.7 415.1,278.1 415.2,278.5 415.2,278.8 415.3,279.2 415.4,279.6 415.5,280 415.5,280.4 415.6,280.7 415.7,281.1 415.8,281.5 415.8,281.9 415.9,282.3 416,282.7 416,282.7 416.1,282.3 416.2,281.9 416.3,281.5 416.3,281.1 416.4,280.7 416.5,280.4 416.6,280 416.7,279.6 416.8,279.2 416.9,278.8 416.9,278.4 417,278 417.1,277.7 417.2,277.3 417.3,276.9 417.4,276.5 417.4,276.1 417.5,275.7 417.6,275.3 417.7,274.9 417.8,274.6 417.9,274.2 418,273.8 418.1,273.4 418.1,272.9 418.2,272.5 418.3,272.1 418.4,271.7 418.5,271.3 418.6,270.9 418.7,270.4 418.8,270 418.9,269.6 419,269.3 419,268.9 419.1,268.5 419.2,268.2 419.3,267.8 419.3,267.4 419.4,267 419.5,266.6 419.6,266.2 419.6,265.8 419.7,265.4 419.8,265 419.9,264.6 420,264.1 420,263.7 420.1,263.3 420.2,262.9 420.3,262.5 420.3,262 420.4,261.6 420.5,261.2 420.6,260.8 420.7,260.4 420.7,259.9 420.8,259.5 420.9,259.1 421,258.7 421.1,258.3 421.2,257.8 421.3,257.4 421.4,257 421.4,256.6 421.5,256.2 421.6,255.8 421.7,255.4 421.8,255 421.9,254.6 422,254.2 422.1,253.9 422.2,253.5 422.3,253.1 422.4,252.7 422.5,252.4 422.7,252 422.8,251.7 422.9,251.3 423,251 423.2,250.6 423.3,250.1 423.5,249.7 423.6,249.3 423.8,248.9 423.9,248.5 424.1,248.1 424.3,247.7 424.4,247.3 424.6,246.9 424.8,246.5 424.9,246.1 425.1,245.7 425.3,245.3 425.5,245 425.6,244.6 425.8,244.2 426,243.9 426.2,243.5 426.4,243.2 426.6,242.9 426.8,242.5 427,242.2 427.2,241.9 427.4,241.6 427.6,241.3 427.9,241 428.1,240.7 428.3,240.4 428.6,240.1 428.9,239.7 429.2,239.4 429.5,239 429.8,238.7 430.1,238.4 430.5,238.1 430.8,237.8 431.1,237.5 431.5,237.2 431.8,237 432.1,236.7 432.5,236.5 432.8,236.3 433.2,236.1 433.5,235.9 433.9,235.7 434.2,235.6 434.6,235.5 435,235.4 435.4,235.3 435.8,235.3 436.2,235.3 436.6,235.3 437,235.3 437.4,235.4 437.8,235.5 438.2,235.5 438.6,235.6 439,235.7 439.4,235.8 439.8,235.9 440.2,236 440.6,236.1 441,236.2 441.4,236.3 441.8,236.4 442.2,236.5 442.6,236.6 443,236.7 443.4,236.8 443.8,236.9 444.2,237.1 444.6,237.2 445,237.3 445.4,237.5 445.8,237.6 446.1,237.8 446.5,237.9 446.9,238.1 447.3,238.3 447.6,238.5 448,238.6 448.3,238.8 448.7,239 449,239.2 449.4,239.4 449.7,239.6 450.1,239.8 450.4,240 450.8,240.2 451.1,240.4 451.4,240.7 451.8,240.9 452.1,241.1 452.4,241.4 452.7,241.7 453.1,241.9 453.4,242.2 453.7,242.5 454,242.8 454.2,243 454.5,243.3 454.8,243.6 455,243.8 455.3,244.1 455.5,244.4 455.8,244.7 456,245 456.3,245.3 456.5,245.7 456.8,246 457,246.3 457.3,246.6 457.5,247 457.8,247.3 458,247.7 458.2,248 458.5,248.4 458.7,248.7 458.9,249.1 459.1,249.5 459.4,249.8 459.6,250.2 459.8,250.6 460,251 460.2,251.3 460.3,251.6 460.5,252 460.7,252.3 460.8,252.6 461,253 461.1,253.3 461.3,253.7 461.4,254 461.6,254.4 461.7,254.7 461.9,255.1 462,255.5 462.2,255.8 462.3,256.2 462.4,256.6 462.6,257 462.7,257.3 462.8,257.7 463,258.1 463.1,258.5 463.2,258.9 463.4,259.3 463.5,259.7 463.6,260.1 463.7,260.5 463.9,260.9 464,261.3 464.1,261.7 464.2,262.1 464.4,262.5 464.5,262.9 464.6,263.3 464.7,263.7 464.8,264.1 465,264.6 465.1,265 465.2,265.4 465.3,265.8 465.4,266.2 465.5,266.5 465.6,266.9 465.7,267.3 465.8,267.6 465.9,268 466,268.4 466.1,268.8 466.2,269.2 466.2,269.6 466.3,269.9 466.4,270.3 466.5,270.7 466.6,271.1 466.7,271.5 466.8,271.9 466.8,272.3 466.9,272.7 467,273.1 467.1,273.5 467.2,273.9 467.3,274.3 467.3,274.8 467.4,275.2 467.5,275.6 467.6,276 467.6,276.4 467.7,276.8 467.8,277.2 467.9,277.6 468,278 468,278.5 468.1,278.9 468.2,279.3 468.2,279.7 468.3,280.1 468.4,280.5 468.5,280.9 468.5,281.3 468.6,281.7 468.7,282.2 468.7,282.6 468.8,283 468.9,283.4 469,283.8 469,284.2 469.1,284.6 469.2,285 469.2,285.3 469.3,285.7 469.4,286.1 469.4,286.5 469.5,286.9 469.6,287.3 469.6,287.7 469.7,288.1 469.8,288.6 469.9,289 469.9,289.4 470,289.8 470.1,290.2 470.1,290.6 470.2,291 470.3,291.4 470.3,291.8 470.4,292.2 470.4,292.6 470.5,293 470.6,293.4 470.6,293.8 470.7,294.2 470.8,294.6 470.8,295 470.9,295.4 470.9,295.8 471,296.2 471.1,296.6 471.1,297 471.2,297.4 471.2,297.8 471.3,298.2 471.3,298.6 471.4,299 471.5,299.3 471.5,299.7 471.6,300.1 471.6,300.5 471.7,300.9 471.8,301.3 471.8,301.7 471.9,302.1 471.9,302.5 472,302.9 472.1,303.3 472.1,303.7 472.2,304.1 472.2,304.5 472.3,304.9 472.3,304.9 472.4,304.5 472.4,304.1 472.5,303.7 472.5,303.3 472.6,302.9 472.7,302.5 472.7,302.1 472.8,301.7 472.8,301.3 472.9,301 473,300.6 473,300.2 473.1,299.8 473.1,299.4 473.2,299 473.2,298.6 473.3,298.2 473.4,297.8 473.4,297.4 473.5,297 473.5,296.6 473.6,296.2 473.6,295.8 473.7,295.5 473.8,295.1 473.8,294.7 473.9,294.3 474,293.9 474,293.5 474.1,293.1 474.2,292.7 474.2,292.3 474.3,291.9 474.4,291.5 474.4,291.1 474.5,290.6 474.6,290.2 474.6,289.8 474.7,289.4 474.8,289 474.9,288.6 474.9,288.2 475,287.9 475.1,287.5 475.2,287.1 475.2,286.7 475.3,286.3 475.4,285.9 475.5,285.5 475.5,285.1 475.6,284.7 475.7,284.3 475.7,283.9 475.8,283.5 475.9,283.1 476,282.7 476.1,282.3 476.1,281.9 476.2,281.5 476.3,281.1 476.4,280.6 476.5,280.2 476.5,279.8 476.6,279.4 476.7,279 476.8,278.6 476.9,278.2 477,277.8 477.1,277.4 477.1,277 477.2,276.6 477.3,276.2 477.4,275.8 477.5,275.4 477.6,275 477.7,274.6 477.8,274.2 477.9,273.8 478,273.4 478.1,273 478.2,272.6 478.3,272.2 478.4,271.9 478.5,271.5 478.7,271.1 478.8,270.7 478.9,270.4 479,270 479.1,269.6 479.3,269.2 479.4,268.8 479.5,268.4 479.7,268 479.8,267.6 479.9,267.2 480.1,266.8 480.2,266.4 480.4,266 480.5,265.6 480.7,265.2 480.8,264.8 481,264.4 481.1,264 481.3,263.6 481.4,263.2 481.6,262.8 481.7,262.4 481.9,262 482.1,261.6 482.2,261.2 482.4,260.9 482.6,260.5 482.7,260.1 482.9,259.8 483.1,259.4 483.2,259 483.4,258.7 483.6,258.3 483.8,258 483.9,257.7 484.1,257.3 484.3,257 484.5,256.7 484.7,256.4 484.8,256.1 485,255.8 485.2,255.5 485.4,255.2 485.7,254.8 485.9,254.5 486.2,254.1 486.4,253.7 486.7,253.4 487,253 487.2,252.7 487.5,252.4 487.8,252.1 488,251.8 488.3,251.5 488.6,251.2 488.9,250.9 489.2,250.6 489.5,250.3 489.8,250.1 490.1,249.8 490.4,249.6 490.7,249.4 491,249.2 491.4,249 491.7,248.8 492.1,248.6 492.4,248.5 492.8,248.3 493.2,248.2 493.6,248 494,247.9 494.4,247.8 494.8,247.7 495.2,247.6 495.6,247.5 496,247.5 496.4,247.4 496.9,247.4 497.3,247.3 497.7,247.3 498.1,247.3 498.5,247.2 499,247.2 499.4,247.2 499.8,247.2 500.2,247.2 500.6,247.2 501,247.2 501.4,247.2 501.9,247.3 502.3,247.3 502.7,247.4 503.1,247.4 503.6,247.5 504,247.6 504.4,247.7 504.9,247.7 505.3,247.8 505.7,247.9 506.1,248 506.5,248.1 506.9,248.2 507.3,248.4 507.7,248.5 508,248.6 508.4,248.7 508.7,248.8 509.1,249 509.5,249.1 509.9,249.3 510.3,249.5 510.6,249.7 511,249.8 511.3,250 511.6,250.2 512,250.4 512.3,250.6 512.6,250.8 513,251" fill="none" stroke="#111111" stroke-width="1.65" stroke-linejoin="round" clip-path="url(#cd)"/>
<path d="M313,280.4 313.1,280.8 313.1,281.2 313.2,281.6 313.3,282 313.3,282.4 313.4,282.8 313.5,283.2 313.5,283.6 313.6,284 313.7,284.4 313.7,284.8 313.8,285.3 313.9,285.7 313.9,286.1 314,286.5 314.1,286.9 314.1,287.3 314.2,287.7 314.3,288.1 314.3,288.5 314.4,288.9 314.5,289.3 314.6,289.7 314.6,290.1 314.7,290.5 314.8,290.9 314.8,291.3 314.9,291.7 314.9,292.1 315,292.5 315.1,292.9 315.1,293.3 315.2,293.7 315.3,294.1 315.3,294.5 315.4,294.9 315.5,295.3 315.5,295.7 315.6,296.1 315.6,296.5 315.7,296.9 315.7,297.3 315.8,297.7 315.9,298.1 315.9,298.5 316,298.9 316,299.4 316.1,299.8 316.1,300.2 316.2,300.6 316.2,301 316.3,301.4 316.4,301.8 316.4,302.2 316.5,302.6 316.5,303 316.6,303.4 316.6,303.8 316.7,304.2 316.7,304.6 316.7,305.1 316.8,305.5 316.8,305.9 316.9,306.3 316.9,306.7 317,307.1 317,307.5 317.1,307.9 317.1,308.3 317.2,308.7 317.2,309.1 317.3,309.5 317.3,309.9 317.4,310.3 317.4,310.7 317.5,311.1 317.5,311.5 317.6,311.9 317.6,312.3 317.7,312.7 317.7,313.1 317.7,313.1 317.8,312.7 317.8,312.3 317.9,311.9 318,311.5 318,311.1 318.1,310.7 318.2,310.3 318.2,309.9 318.3,309.5 318.4,309.1 318.4,308.7 318.5,308.3 318.5,307.9 318.6,307.6 318.7,307.2 318.7,306.8 318.8,306.4 318.9,306 318.9,305.6 319,305.2 319,304.8 319.1,304.4 319.2,304 319.2,303.6 319.3,303.2 319.4,302.8 319.4,302.4 319.5,302 319.6,301.6 319.6,301.2 319.7,300.8 319.8,300.4 319.8,300 319.9,299.6 320,299.2 320.1,298.8 320.1,298.3 320.2,297.9 320.3,297.5 320.4,297.1 320.4,296.7 320.5,296.2 320.6,295.8 320.7,295.4 320.7,295.1 320.8,294.7 320.9,294.3 321,293.9 321,293.5 321.1,293.1 321.2,292.7 321.2,292.3 321.3,291.9 321.4,291.5 321.5,291.1 321.5,290.7 321.6,290.3 321.7,289.9 321.7,289.5 321.8,289.1 321.9,288.7 322,288.3 322,287.9 322.1,287.5 322.2,287 322.3,286.6 322.4,286.2 322.4,285.8 322.5,285.4 322.6,285 322.7,284.6 322.8,284.1 322.8,283.7 322.9,283.3 323,282.9 323.1,282.5 323.2,282.1 323.3,281.6 323.3,281.2 323.4,280.8 323.5,280.4 323.6,280 323.7,279.6 323.8,279.2 323.9,278.8 324,278.4 324,278 324.1,277.6 324.2,277.2 324.3,276.8 324.4,276.4 324.5,276 324.6,275.7 324.7,275.3 324.8,274.9 324.9,274.5 325,274.1 325.1,273.8 325.2,273.4 325.3,273.1 325.4,272.7 325.5,272.3 325.6,271.9 325.8,271.4 325.9,271 326,270.6 326.1,270.2 326.2,269.8 326.4,269.4 326.5,268.9 326.6,268.5 326.7,268.1 326.8,267.7 327,267.3 327.1,266.9 327.2,266.5 327.3,266.1 327.5,265.7 327.6,265.3 327.7,264.9 327.9,264.5 328,264.1 328.1,263.7 328.3,263.3 328.4,263 328.5,262.6 328.7,262.2 328.8,261.9 329,261.5 329.1,261.1 329.3,260.8 329.4,260.4 329.6,260.1 329.8,259.8 329.9,259.4 330.1,259.1 330.3,258.8 330.5,258.5 330.6,258.2 330.8,257.9 331,257.6 331.2,257.3 331.5,256.9 331.7,256.6 332,256.2 332.2,255.9 332.5,255.5 332.8,255.2 333.1,254.8 333.4,254.5 333.6,254.2 333.9,253.9 334.2,253.6 334.5,253.3 334.8,253 335.2,252.7 335.5,252.4 335.8,252.2 336.1,251.9 336.4,251.7 336.8,251.5 337.1,251.3 337.4,251.1 337.8,251 338.1,250.8 338.5,250.7 338.8,250.6 339.2,250.5 339.5,250.5 339.9,250.4 340.3,250.4 340.7,250.4 341.1,250.4 341.5,250.4 341.9,250.5 342.4,250.6 342.8,250.6 343.2,250.7 343.6,250.8 344,250.9 344.5,251.1 344.9,251.2 345.3,251.3 345.7,251.5 346.1,251.6 346.6,251.8 347,251.9 347.4,252.1 347.7,252.2 348.1,252.4 348.5,252.5 348.9,252.7 349.3,252.8 349.6,253 350,253.2 350.4,253.3 350.8,253.5 351.1,253.7 351.5,253.9 351.9,254.1 352.2,254.3 352.6,254.6 352.9,254.8 353.3,255 353.6,255.2 354,255.5 354.3,255.7 354.6,256 355,256.2 355.3,256.5 355.6,256.8 355.9,257 356.2,257.3 356.5,257.6 356.8,257.9 357.1,258.1 357.3,258.4 357.6,258.7 357.9,259 358.1,259.3 358.4,259.6 358.7,259.9 358.9,260.2 359.1,260.6 359.4,260.9 359.6,261.2 359.9,261.6 360.1,261.9 360.3,262.3 360.6,262.6 360.8,263 361,263.4 361.2,263.8 361.5,264.2 361.7,264.6 361.9,265 362.1,265.3 362.2,265.6 362.4,265.9 362.5,266.2 362.7,266.6 362.8,266.9 363,267.2 363.1,267.6 363.3,267.9 363.4,268.3 363.5,268.6 363.7,269 363.8,269.3 364,269.7 364.1,270.1 364.2,270.5 364.4,270.8 364.5,271.2 364.6,271.6 364.8,272 364.9,272.4 365,272.8 365.2,273.2 365.3,273.6 365.4,274 365.5,274.4 365.7,274.8 365.8,275.2 365.9,275.6 366,276 366.1,276.4 366.3,276.9 366.4,277.3 366.5,277.7 366.6,278.1 366.7,278.5 366.8,278.9 366.9,279.4 367.1,279.8 367.2,280.2 367.3,280.6 367.4,281 367.5,281.5 367.6,281.9 367.7,282.3 367.8,282.7 367.9,283 368,283.4 368.1,283.8 368.1,284.2 368.2,284.6 368.3,285 368.4,285.3 368.5,285.7 368.5,286.1 368.6,286.5 368.7,286.9 368.8,287.3 368.9,287.8 368.9,288.2 369,288.6 369.1,289 369.1,289.4 369.2,289.8 369.3,290.2 369.3,290.7 369.4,291.1 369.5,291.5 369.5,291.9 369.6,292.3 369.7,292.7 369.7,293.2 369.8,293.6 369.9,294 369.9,294.4 370,294.8 370.1,295.3 370.1,295.7 370.2,296.1 370.2,296.5 370.3,296.9 370.3,297.3 370.4,297.8 370.5,298.2 370.5,298.6 370.6,299 370.6,299.4 370.7,299.8 370.7,300.2 370.8,300.6 370.9,301 370.9,301.4 371,301.7 371,302.1 371.1,302.5 371.1,302.9 371.2,303.3 371.2,303.6 371.3,304 371.3,304.3 371.4,304.7 371.4,305.1 371.5,305.4 371.6,305.9 371.6,306.3 371.7,306.8 371.8,307.2 371.8,307.6 371.9,308.1 372,308.5 372,308.9 372.1,309.3 372.2,309.7 372.2,310.1 372.3,310.5 372.3,310.9 372.4,311.3 372.5,311.7 372.5,312.1 372.6,312.5 372.6,312.9 372.7,313.3 372.7,313.7 372.8,314.1 372.9,314.5 372.9,314.9 373,315.2 373,315.6 373.1,316 373.1,316.4 373.2,316.8 373.3,317.2 373.3,317.6 373.4,318 373.4,318.4 373.5,318.8 373.5,318.8 373.6,318.4 373.6,318 373.7,317.6 373.7,317.2 373.8,316.8 373.8,316.4 373.9,316 374,315.6 374,315.2 374.1,314.9 374.1,314.5 374.2,314.1 374.2,313.7 374.3,313.3 374.3,312.9 374.4,312.5 374.4,312.1 374.5,311.7 374.6,311.3 374.6,311 374.7,310.6 374.7,310.2 374.8,309.8 374.8,309.4 374.9,309 374.9,308.6 375,308.2 375,307.8 375.1,307.4 375.2,307 375.2,306.6 375.3,306.2 375.3,305.8 375.4,305.4 375.5,305 375.5,304.6 375.6,304.2 375.6,303.8 375.7,303.4 375.8,303 375.8,302.6 375.9,302.2 376,301.7 376,301.3 376.1,300.9 376.2,300.5 376.2,300 376.3,299.6 376.4,299.2 376.4,298.9 376.5,298.5 376.5,298.1 376.6,297.7 376.7,297.4 376.7,297 376.8,296.6 376.8,296.2 376.9,295.8 377,295.4 377,295 377.1,294.6 377.2,294.2 377.2,293.8 377.3,293.4 377.4,293 377.4,292.6 377.5,292.2 377.5,291.8 377.6,291.4 377.7,291 377.7,290.6 377.8,290.2 377.9,289.8 377.9,289.4 378,288.9 378.1,288.5 378.2,288.1 378.2,287.7 378.3,287.3 378.4,286.9 378.4,286.5 378.5,286 378.6,285.6 378.6,285.2 378.7,284.8 378.8,284.4 378.9,284 378.9,283.6 379,283.1 379.1,282.7 379.2,282.3 379.2,281.9 379.3,281.5 379.4,281.1 379.5,280.7 379.5,280.3 379.6,279.9 379.7,279.5 379.8,279.1 379.9,278.7 379.9,278.3 380,277.9 380.1,277.5 380.2,277.1 380.3,276.7 380.3,276.4 380.4,276 380.5,275.6 380.6,275.2 380.7,274.9 380.8,274.5 380.8,274.1 380.9,273.8 381,273.4 381.1,273.1 381.2,272.7 381.3,272.3 381.4,271.8 381.5,271.4 381.6,271 381.7,270.5 381.8,270.1 381.9,269.7 382,269.2 382.2,268.8 382.3,268.4 382.4,267.9 382.5,267.5 382.6,267.1 382.7,266.6 382.8,266.2 382.9,265.8 383,265.4 383.1,265 383.2,264.5 383.3,264.1 383.4,263.7 383.5,263.3 383.7,262.9 383.8,262.5 383.9,262.1 384,261.7 384.1,261.3 384.3,261 384.4,260.6 384.5,260.2 384.7,259.8 384.8,259.5 384.9,259.1 385.1,258.8 385.2,258.4 385.4,258.1 385.5,257.8 385.7,257.4 385.8,257.1 386,256.8 386.2,256.5 386.4,256.2 386.5,255.9 386.7,255.7 386.9,255.4 387.2,255 387.4,254.7 387.7,254.4 388,254 388.3,253.7 388.6,253.4 388.9,253.1 389.2,252.8 389.5,252.5 389.8,252.3 390.2,252 390.5,251.8 390.8,251.5 391.2,251.3 391.5,251.1 391.9,250.9 392.2,250.7 392.5,250.5 392.9,250.3 393.2,250.1 393.6,250 393.9,249.9 394.3,249.7 394.6,249.6 395,249.5 395.4,249.4 395.8,249.3 396.3,249.2 396.7,249.1 397.1,249.1 397.6,249 398,249 398.5,249 398.9,249 399.4,249 399.8,249 400.2,249 400.6,249.1 401,249.2 401.3,249.3 401.7,249.4 402,249.5 402.3,249.6 402.6,249.8 402.9,250 403.2,250.3 403.4,250.6 403.6,251 403.7,251.3 403.9,251.7 404.1,252 404.4,252.4 404.7,252.8 405,253.1 405.2,253.3 405.5,253.5 405.8,253.7 406.1,253.9 406.4,254.1 406.7,254.3 407,254.4 407.4,254.6 407.8,254.8 408.1,255 408.5,255.2 408.9,255.4 409.3,255.6 409.7,255.8 410.1,255.9 410.5,256.1 410.9,256.3 411.3,256.5 411.7,256.7 412.1,257 412.5,257.2 412.9,257.4 413.3,257.6 413.6,257.9 414,258.1 414.3,258.3 414.7,258.6 415,258.9 415.3,259.1 415.6,259.4 415.9,259.7 416.2,260 416.4,260.3 416.7,260.6 416.9,260.9 417.2,261.2 417.4,261.5 417.7,261.8 417.9,262.1 418.1,262.4 418.3,262.7 418.6,263.1 418.8,263.4 419,263.8 419.2,264.1 419.4,264.5 419.6,264.8 419.8,265.2 420,265.5 420.2,265.9 420.3,266.3 420.5,266.7 420.7,267.1 420.9,267.5 421.1,267.9 421.2,268.3 421.4,268.7 421.6,269.1 421.7,269.6 421.9,270 422,270.3 422.1,270.6 422.2,271 422.3,271.3 422.5,271.6 422.6,272 422.7,272.3 422.8,272.7 422.8,273 422.9,273.4 423,273.8 423.1,274.1 423.2,274.5 423.3,274.9 423.4,275.3 423.5,275.7 423.5,276.1 423.6,276.4 423.7,276.8 423.8,277.2 423.8,277.7 423.9,278.1 424,278.5 424.1,278.9 424.1,279.3 424.2,279.7 424.3,280.1 424.3,280.5 424.4,281 424.5,281.4 424.5,281.8 424.6,282.2 424.6,282.7 424.7,283.1 424.8,283.5 424.8,283.9 424.9,284.3 424.9,284.8 425,285.2 425.1,285.6 425.1,286 425.2,286.5 425.2,286.9 425.3,287.3 425.4,287.7 425.4,288.1 425.5,288.5 425.5,289 425.6,289.4 425.6,289.8 425.7,290.2 425.8,290.6 425.8,291 425.9,291.4 425.9,291.8 426,292.2 426.1,292.5 426.1,292.9 426.2,293.3 426.3,293.7 426.3,294.1 426.4,294.5 426.5,294.9 426.6,295.4 426.6,295.8 426.7,296.2 426.8,296.6 426.8,297 426.9,297.4 427,297.8 427,298.2 427.1,298.6 427.2,299 427.2,299.4 427.3,299.8 427.4,300.2 427.4,300.6 427.5,301 427.5,301.4 427.6,301.7 427.7,302.1 427.7,302.5 427.8,302.9 427.9,303.3 427.9,303.7 428,304.1 428,304.5 428.1,304.9 428.2,305.3 428.2,305.6 428.3,306 428.4,306.4 428.4,306.8 428.5,307.2 428.5,307.6 428.6,308 428.7,308.4 428.7,308.8 428.8,309.2 428.9,309.5 428.9,309.9 429,310.3 429,310.7 429.1,311.1 429.2,311.5 429.2,311.9 429.3,312.3 429.3,312.3 429.4,311.9 429.4,311.5 429.5,311.1 429.6,310.7 429.7,310.4 429.7,310 429.8,309.6 429.9,309.2 429.9,308.8 430,308.5 430.1,308.1 430.2,307.7 430.2,307.3 430.3,306.9 430.4,306.6 430.4,306.2 430.5,305.8 430.6,305.4 430.6,305.1 430.7,304.7 430.8,304.3 430.8,303.9 430.9,303.5 431,303.1 431.1,302.8 431.1,302.4 431.2,302 431.3,301.6 431.3,301.2 431.4,300.8 431.5,300.4 431.6,300 431.7,299.6 431.7,299.2 431.8,298.8 431.9,298.4 432,298 432.1,297.5 432.1,297.1 432.2,296.7 432.3,296.3 432.4,295.8 432.5,295.4 432.6,295.1 432.6,294.7 432.7,294.3 432.8,294 432.9,293.6 432.9,293.2 433,292.9 433.1,292.5 433.2,292.1 433.2,291.7 433.3,291.3 433.4,291 433.4,290.6 433.5,290.2 433.6,289.8 433.7,289.4 433.7,289 433.8,288.6 433.9,288.2 434,287.7 434,287.3 434.1,286.9 434.2,286.5 434.3,286.1 434.4,285.7 434.4,285.3 434.5,284.8 434.6,284.4 434.7,284 434.8,283.6 434.8,283.2 434.9,282.7 435,282.3 435.1,281.9 435.2,281.5 435.3,281 435.3,280.6 435.4,280.2 435.5,279.8 435.6,279.4 435.7,278.9 435.8,278.5 435.9,278.1 436,277.7 436.1,277.3 436.2,276.9 436.3,276.5 436.4,276.1 436.4,275.7 436.5,275.3 436.6,274.9 436.7,274.5 436.9,274.1 437,273.7 437.1,273.3 437.2,272.9 437.3,272.5 437.4,272.1 437.5,271.8 437.6,271.4 437.7,271 437.8,270.7 437.9,270.3 438.1,269.9 438.2,269.6 438.3,269.2 438.4,268.9 438.5,268.6 438.7,268.2 438.8,267.9 439,267.5 439.1,267.1 439.3,266.6 439.5,266.2 439.6,265.8 439.8,265.4 440,264.9 440.1,264.5 440.3,264.1 440.5,263.7 440.7,263.3 440.8,262.9 441,262.4 441.2,262 441.4,261.6 441.6,261.2 441.8,260.8 441.9,260.4 442.1,260.1 442.3,259.7 442.5,259.3 442.7,258.9 442.9,258.6 443.1,258.2 443.3,257.8 443.5,257.5 443.7,257.1 444,256.8 444.2,256.5 444.4,256.2 444.6,255.9 444.8,255.6 445.1,255.3 445.3,255 445.5,254.7 445.8,254.5 446,254.2 446.3,254 446.5,253.7 446.8,253.5 447,253.3 447.3,253.1 447.6,252.9 448,252.7 448.3,252.5 448.7,252.3 449.1,252.1 449.5,252 449.8,251.8 450.2,251.7 450.6,251.6 451,251.5 451.4,251.4 451.8,251.3 452.3,251.3 452.7,251.2 453.1,251.1 453.5,251.1 453.9,251.1 454.3,251 454.7,251 455.2,251 455.6,251 456,251 456.4,251 456.8,251 457.1,251 457.5,251 457.9,251 458.3,251 458.8,251 459.2,251.1 459.6,251.1 460,251.1 460.4,251.2 460.9,251.2 461.3,251.3 461.7,251.4 462.1,251.4 462.5,251.5 462.9,251.6 463.3,251.7 463.7,251.9 464.1,252 464.5,252.2 464.9,252.3 465.2,252.5 465.6,252.7 466,252.9 466.3,253.1 466.6,253.3 466.9,253.5 467.2,253.8 467.5,254 467.7,254.3 468,254.5 468.3,254.8 468.5,255.1 468.8,255.4 469,255.7 469.3,256 469.5,256.3 469.8,256.7 470,257 470.2,257.3 470.5,257.7 470.7,258 470.9,258.4 471.2,258.8 471.4,259.2 471.6,259.5 471.8,259.9 472,260.3 472.3,260.7 472.5,261.1 472.7,261.5 472.9,261.8 473,262.1 473.2,262.4 473.4,262.8 473.5,263.1 473.7,263.4 473.8,263.7 474,264.1 474.1,264.4 474.3,264.8 474.5,265.1 474.6,265.5 474.8,265.8 474.9,266.2 475.1,266.6 475.2,267 475.4,267.3 475.5,267.7 475.6,268.1 475.8,268.5 475.9,268.9 476.1,269.2 476.2,269.6 476.3,270 476.5,270.4 476.6,270.8 476.8,271.2 476.9,271.6 477,272 477.2,272.4 477.3,272.8 477.4,273.2 477.5,273.6 477.7,274 477.8,274.4 477.9,274.8 478,275.3 478.2,275.7 478.3,276.1 478.4,276.5 478.5,276.9 478.7,277.3 478.8,277.7 478.9,278.1 479,278.5 479.1,278.9 479.2,279.3 479.3,279.6 479.4,280 479.5,280.4 479.6,280.8 479.7,281.2 479.8,281.6 479.9,282 480,282.4 480.1,282.8 480.2,283.2 480.3,283.6 480.4,284 480.5,284.4 480.6,284.8 480.6,285.2 480.7,285.6 480.8,286 480.9,286.4 481,286.8 481.1,287.2 481.2,287.6 481.2,288 481.3,288.4 481.4,288.9 481.5,289.3 481.6,289.7 481.6,290.1 481.7,290.5 481.8,290.9 481.9,291.3 481.9,291.7 482,292.1 482.1,292.5 482.2,293 482.2,293.4 482.3,293.8 482.4,294.2 482.4,294.6 482.5,295 482.6,295.4 482.7,295.8 482.7,296.2 482.8,296.5 482.9,296.9 482.9,297.3 483,297.7 483,298.1 483.1,298.5 483.2,298.9 483.2,299.2 483.3,299.6 483.4,300 483.4,300.4 483.5,300.9 483.6,301.3 483.6,301.7 483.7,302.1 483.8,302.5 483.8,302.9 483.9,303.3 483.9,303.7 484,304.1 484,304.5 484.1,304.9 484.1,305.3 484.2,305.7 484.2,306.1 484.3,306.5 484.3,306.9 484.4,307.3 484.4,307.7 484.5,308.1 484.5,308.5 484.6,308.9 484.6,309.2 484.7,309.6 484.7,310 484.8,310.4 484.8,310.8 484.9,311.2 484.9,311.6 485,312 485,312.4 485.1,312.7 485.1,313.1 485.1,313.5 485.2,313.9 485.2,314.3 485.3,314.7 485.3,315.1 485.4,315.5 485.4,315.5 485.5,315.1 485.6,314.7 485.6,314.3 485.7,313.9 485.8,313.5 485.9,313.1 485.9,312.7 486,312.4 486.1,312 486.2,311.6 486.2,311.2 486.3,310.8 486.4,310.4 486.5,310 486.5,309.6 486.6,309.2 486.7,308.9 486.8,308.5 486.8,308.1 486.9,307.7 487,307.3 487.1,306.9 487.2,306.5 487.2,306.1 487.3,305.7 487.4,305.3 487.5,304.9 487.5,304.5 487.6,304.1 487.7,303.7 487.8,303.3 487.9,302.9 488,302.5 488.1,302.1 488.1,301.7 488.2,301.3 488.3,300.9 488.4,300.4 488.5,300 488.6,299.6 488.7,299.2 488.8,298.9 488.8,298.5 488.9,298.1 489,297.7 489.1,297.4 489.2,297 489.3,296.6 489.4,296.2 489.5,295.8 489.5,295.4 489.6,295.1 489.7,294.7 489.8,294.3 489.9,293.9 490,293.5 490.1,293.1 490.2,292.7 490.3,292.3 490.4,291.9 490.5,291.5 490.6,291.1 490.7,290.7 490.7,290.3 490.8,289.9 490.9,289.5 491,289.1 491.1,288.7 491.2,288.3 491.3,287.9 491.4,287.5 491.5,287.1 491.6,286.7 491.7,286.2 491.8,285.8 491.9,285.4 492,285 492.2,284.7 492.3,284.3 492.4,283.9 492.5,283.5 492.6,283.1 492.7,282.7 492.8,282.3 492.9,281.9 493,281.5 493.1,281.1 493.2,280.7 493.3,280.4 493.4,280 493.6,279.6 493.7,279.2 493.8,278.9 493.9,278.5 494,278.1 494.1,277.7 494.3,277.3 494.4,276.9 494.5,276.5 494.6,276.1 494.8,275.7 494.9,275.3 495,274.9 495.1,274.5 495.2,274.1 495.4,273.6 495.5,273.2 495.6,272.8 495.7,272.4 495.9,272 496,271.6 496.1,271.2 496.2,270.8 496.4,270.5 496.5,270.1 496.6,269.7 496.8,269.3 496.9,268.9 497,268.5 497.2,268.1 497.3,267.7 497.5,267.4 497.6,267 497.7,266.6 497.9,266.3 498,265.9 498.2,265.5 498.3,265.2 498.5,264.8 498.6,264.5 498.8,264.1 499,263.8 499.1,263.4 499.3,263.1 499.5,262.8 499.7,262.4 499.8,262.1 500,261.8 500.2,261.5 500.4,261.1 500.7,260.8 500.9,260.4 501.2,260 501.4,259.6 501.7,259.3 502,258.9 502.2,258.5 502.5,258.2 502.8,257.8 503.1,257.5 503.3,257.1 503.6,256.8 503.9,256.4 504.2,256.1 504.5,255.8 504.8,255.5 505.1,255.1 505.4,254.8 505.7,254.6 506,254.3 506.3,254 506.5,253.7 506.8,253.5 507.1,253.3 507.4,253 507.7,252.8 507.9,252.6 508.2,252.4 508.4,252.3 508.7,252.1 509.1,251.9 509.5,251.7 509.9,251.6 510.3,251.5 510.7,251.4 511.1,251.3 511.5,251.3 511.8,251.2 512.2,251.2 512.6,251.1 513,251" fill="none" stroke="#3d8a3a" stroke-width="1.5" stroke-dasharray="1.4,2.0" stroke-linejoin="round" clip-path="url(#cd)"/>
<path d="M313,282.3 313,282.7 313.1,283.1 313.1,283.5 313.2,283.9 313.2,284.3 313.2,284.7 313.3,285.1 313.3,285.5 313.4,285.9 313.4,286.3 313.4,286.7 313.5,287.1 313.5,287.5 313.6,287.9 313.6,288.3 313.6,288.7 313.7,289.1 313.7,289.5 313.8,289.9 313.8,290.3 313.8,290.7 313.9,291.1 313.9,291.5 314,291.9 314,292.3 314,292.7 314.1,293.1 314.1,293.5 314.2,293.9 314.2,294.3 314.3,294.7 314.3,295.1 314.3,295.5 314.4,295.9 314.4,296.3 314.5,296.7 314.5,297.1 314.6,297.5 314.6,298 314.7,298.4 314.7,298.8 314.8,299.2 314.8,299.6 314.8,300 314.9,300.4 314.9,300.8 315,301.2 315,301.6 315.1,302 315.1,302.3 315.2,302.7 315.2,303.1 315.3,303.5 315.3,303.9 315.4,304.3 315.4,304.7 315.5,305.1 315.5,305.5 315.6,305.9 315.6,306.3 315.7,306.7 315.7,307.1 315.8,307.5 315.9,307.9 315.9,308.3 316,308.7 316,309.1 316.1,309.5 316.1,309.9 316.2,310.3 316.2,310.8 316.3,311.2 316.3,311.6 316.4,312 316.4,312.4 316.5,312.8 316.6,313.2 316.6,313.6 316.7,314 316.7,314.4 316.8,314.8 316.8,315.2 316.9,315.6 316.9,316 317,316.4 317,316.8 317.1,317.2 317.1,317.6 317.2,318 317.2,318.4 317.3,318.8 317.3,318.8 317.4,318.4 317.4,318 317.5,317.6 317.5,317.2 317.6,316.8 317.6,316.4 317.7,316 317.7,315.6 317.8,315.2 317.8,314.8 317.9,314.4 317.9,314.1 317.9,313.7 318,313.3 318,312.9 318.1,312.5 318.1,312.1 318.2,311.7 318.2,311.3 318.3,310.9 318.3,310.5 318.4,310.1 318.4,309.8 318.5,309.4 318.5,309 318.6,308.6 318.6,308.2 318.7,307.8 318.7,307.4 318.8,307 318.8,306.6 318.9,306.1 319,305.7 319,305.3 319.1,304.9 319.1,304.5 319.2,304.1 319.3,303.7 319.3,303.2 319.4,302.8 319.5,302.4 319.5,301.9 319.6,301.5 319.7,301.1 319.7,300.8 319.8,300.4 319.8,300 319.9,299.6 320,299.3 320,298.9 320.1,298.5 320.1,298.1 320.2,297.7 320.3,297.3 320.3,296.9 320.4,296.5 320.4,296.1 320.5,295.7 320.6,295.3 320.6,294.9 320.7,294.5 320.8,294.1 320.8,293.7 320.9,293.2 321,292.8 321,292.4 321.1,292 321.2,291.6 321.2,291.2 321.3,290.7 321.4,290.3 321.4,289.9 321.5,289.5 321.6,289.1 321.7,288.6 321.7,288.2 321.8,287.8 321.9,287.4 321.9,287 322,286.6 322.1,286.1 322.2,285.7 322.3,285.3 322.3,284.9 322.4,284.5 322.5,284.1 322.6,283.7 322.7,283.3 322.8,282.9 322.8,282.5 322.9,282.1 323,281.7 323.1,281.3 323.2,280.9 323.3,280.5 323.4,280.1 323.5,279.8 323.6,279.4 323.7,279 323.8,278.6 323.9,278.3 324,277.9 324.1,277.5 324.2,277.2 324.3,276.8 324.4,276.5 324.5,276.1 324.7,275.6 324.8,275.2 324.9,274.8 325.1,274.4 325.2,274 325.4,273.5 325.5,273.1 325.7,272.7 325.8,272.3 326,271.9 326.1,271.5 326.3,271.1 326.4,270.7 326.6,270.3 326.7,269.9 326.9,269.5 327,269.1 327.2,268.7 327.3,268.3 327.5,267.9 327.7,267.5 327.8,267.2 328,266.8 328.2,266.4 328.4,266.1 328.5,265.7 328.7,265.4 328.9,265 329.1,264.7 329.3,264.3 329.4,264 329.6,263.6 329.8,263.3 330,263 330.2,262.7 330.4,262.4 330.6,262.1 330.8,261.8 331,261.5 331.2,261.2 331.5,260.8 331.7,260.5 332,260.1 332.3,259.8 332.6,259.4 332.8,259.1 333.1,258.8 333.4,258.5 333.7,258.1 334,257.8 334.3,257.5 334.6,257.2 334.9,256.9 335.2,256.7 335.5,256.4 335.8,256.2 336.1,255.9 336.4,255.7 336.8,255.5 337.1,255.2 337.4,255.1 337.8,254.9 338.1,254.7 338.5,254.5 338.8,254.4 339.2,254.3 339.5,254.2 339.9,254.1 340.3,254 340.7,253.9 341.1,253.8 341.5,253.8 341.9,253.7 342.3,253.7 342.8,253.7 343.2,253.7 343.6,253.7 344,253.7 344.5,253.7 344.9,253.7 345.3,253.8 345.7,253.8 346.1,253.9 346.6,254 347,254 347.4,254.1 347.7,254.2 348.1,254.3 348.5,254.4 348.9,254.5 349.3,254.6 349.7,254.8 350,254.9 350.4,255.1 350.8,255.3 351.1,255.5 351.5,255.7 351.9,255.9 352.2,256.1 352.6,256.3 352.9,256.6 353.3,256.8 353.6,257.1 354,257.3 354.3,257.6 354.6,257.8 355,258.1 355.3,258.4 355.6,258.6 355.9,258.9 356.2,259.2 356.5,259.5 356.8,259.8 357.1,260 357.3,260.3 357.6,260.6 357.9,260.9 358.1,261.2 358.4,261.5 358.7,261.8 358.9,262.1 359.2,262.4 359.4,262.7 359.6,263.1 359.9,263.4 360.1,263.7 360.3,264.1 360.6,264.5 360.8,264.8 361,265.2 361.2,265.6 361.5,266 361.7,266.5 361.9,266.9 362,267.2 362.2,267.5 362.3,267.8 362.4,268.1 362.6,268.4 362.7,268.7 362.8,269.1 363,269.4 363.1,269.8 363.2,270.1 363.3,270.5 363.5,270.8 363.6,271.2 363.7,271.6 363.8,271.9 363.9,272.3 364,272.7 364.2,273.1 364.3,273.5 364.4,273.9 364.5,274.3 364.6,274.7 364.7,275.1 364.8,275.5 364.9,275.9 365,276.3 365.1,276.7 365.2,277.1 365.4,277.5 365.5,278 365.6,278.4 365.7,278.8 365.8,279.2 365.9,279.7 366,280.1 366,280.5 366.1,280.9 366.2,281.4 366.3,281.8 366.4,282.2 366.5,282.7 366.6,283.1 366.7,283.5 366.8,283.9 366.9,284.4 367,284.8 367.1,285.2 367.2,285.6 367.3,286 367.3,286.5 367.4,286.9 367.5,287.3 367.6,287.7 367.7,288.1 367.8,288.5 367.9,288.9 368,289.3 368,289.7 368.1,290.1 368.2,290.5 368.3,290.9 368.4,291.3 368.4,291.7 368.5,292.1 368.6,292.5 368.7,292.9 368.7,293.3 368.8,293.8 368.9,294.2 369,294.6 369,295 369.1,295.4 369.2,295.9 369.2,296.3 369.3,296.7 369.4,297.1 369.5,297.5 369.5,298 369.6,298.4 369.7,298.8 369.7,299.2 369.8,299.7 369.9,300.1 369.9,300.5 370,300.9 370,301.3 370.1,301.7 370.2,302.1 370.2,302.6 370.3,303 370.3,303.4 370.4,303.8 370.5,304.2 370.5,304.6 370.6,305 370.6,305.4 370.7,305.8 370.8,306.1 370.8,306.5 370.9,306.9 370.9,307.3 371,307.7 371,308 371.1,308.4 371.1,308.8 371.2,309.1 371.2,309.5 371.3,309.8 371.3,310.2 371.4,310.5 371.4,310.9 371.5,311.2 371.6,311.7 371.6,312.1 371.7,312.6 371.8,313 371.8,313.4 371.9,313.8 371.9,314.2 372,314.7 372.1,315.1 372.1,315.5 372.2,315.8 372.2,316.2 372.3,316.6 372.3,317 372.4,317.4 372.4,317.8 372.5,318.1 372.5,318.5 372.6,318.9 372.6,319.3 372.7,319.6 372.7,320 372.8,320.4 372.8,320.8 372.9,321.1 372.9,321.5 373,321.9 373,322.3 373.1,322.7 373.1,322.7 373.2,322.3 373.2,321.9 373.3,321.5 373.4,321.1 373.4,320.7 373.5,320.3 373.6,319.9 373.6,319.5 373.7,319.1 373.7,318.7 373.8,318.4 373.9,318 373.9,317.6 374,317.2 374.1,316.8 374.1,316.4 374.2,316 374.3,315.6 374.3,315.2 374.4,314.8 374.4,314.4 374.5,314 374.6,313.6 374.6,313.3 374.7,312.9 374.8,312.5 374.8,312.1 374.9,311.7 375,311.3 375,310.9 375.1,310.5 375.2,310.1 375.2,309.7 375.3,309.3 375.4,308.9 375.4,308.5 375.5,308.1 375.6,307.7 375.6,307.3 375.7,306.8 375.8,306.4 375.9,306 375.9,305.6 376,305.2 376.1,304.8 376.1,304.3 376.2,303.9 376.3,303.5 376.4,303.1 376.4,302.8 376.5,302.4 376.6,302 376.6,301.6 376.7,301.2 376.8,300.8 376.8,300.4 376.9,300 377,299.6 377,299.2 377.1,298.8 377.2,298.4 377.2,298 377.3,297.6 377.4,297.2 377.4,296.8 377.5,296.4 377.6,295.9 377.7,295.5 377.7,295.1 377.8,294.7 377.9,294.3 377.9,293.8 378,293.4 378.1,293 378.2,292.6 378.2,292.2 378.3,291.7 378.4,291.3 378.4,290.9 378.5,290.5 378.6,290.1 378.7,289.6 378.7,289.2 378.8,288.8 378.9,288.4 379,288 379.1,287.6 379.1,287.2 379.2,286.8 379.3,286.3 379.4,285.9 379.5,285.5 379.5,285.1 379.6,284.7 379.7,284.3 379.8,284 379.9,283.6 380,283.2 380.1,282.8 380.2,282.4 380.2,282 380.3,281.7 380.4,281.3 380.5,280.9 380.6,280.6 380.7,280.2 380.8,279.9 380.9,279.5 381,279.2 381.1,278.8 381.2,278.5 381.3,278.1 381.5,277.6 381.6,277.2 381.7,276.8 381.9,276.3 382,275.9 382.1,275.5 382.3,275.1 382.4,274.7 382.6,274.3 382.7,273.9 382.8,273.5 383,273.1 383.1,272.7 383.3,272.3 383.4,271.9 383.6,271.5 383.7,271.1 383.9,270.8 384,270.4 384.2,270 384.4,269.7 384.5,269.3 384.7,269 384.8,268.6 385,268.3 385.2,267.9 385.4,267.6 385.5,267.2 385.7,266.9 385.9,266.6 386.1,266.3 386.3,265.9 386.5,265.6 386.7,265.3 386.9,265 387.1,264.6 387.4,264.3 387.6,264 387.9,263.6 388.1,263.3 388.4,262.9 388.7,262.6 388.9,262.3 389.2,261.9 389.5,261.6 389.8,261.3 390.1,261 390.4,260.7 390.6,260.4 390.9,260.1 391.2,259.8 391.5,259.6 391.8,259.3 392.1,259 392.4,258.8 392.7,258.5 393.1,258.3 393.4,258.1 393.7,257.9 394,257.7 394.3,257.5 394.6,257.3 395,257.1 395.4,256.9 395.8,256.7 396.2,256.5 396.7,256.4 397.1,256.2 397.5,256.1 398,256 398.4,255.9 398.9,255.8 399.3,255.7 399.7,255.6 400.1,255.5 400.5,255.5 400.9,255.4 401.3,255.4 401.7,255.4 402,255.4 402.3,255.4 402.7,255.4 403.1,255.5 403.5,255.6 403.8,255.8 404.2,255.9 404.6,256.1 405,256.3 405.3,256.4 405.6,256.5 405.9,256.6 406.2,256.8 406.6,256.9 407,257 407.3,257.2 407.7,257.3 408.1,257.5 408.5,257.6 408.9,257.8 409.3,258 409.8,258.1 410.2,258.3 410.6,258.5 411,258.7 411.4,259 411.8,259.2 412.1,259.4 412.5,259.7 412.9,259.9 413.2,260.2 413.5,260.5 413.7,260.7 414,261 414.2,261.3 414.5,261.5 414.7,261.8 414.9,262.1 415.2,262.4 415.4,262.7 415.6,263 415.8,263.3 416,263.7 416.2,264 416.4,264.3 416.6,264.7 416.8,265 417,265.4 417.2,265.7 417.3,266.1 417.5,266.5 417.7,266.8 417.9,267.2 418,267.6 418.2,268 418.4,268.4 418.6,268.8 418.7,269.2 418.9,269.6 419,270 419.2,270.4 419.3,270.8 419.5,271.3 419.6,271.7 419.8,272.1 419.9,272.4 420,272.8 420.1,273.1 420.2,273.4 420.3,273.8 420.4,274.1 420.5,274.5 420.6,274.8 420.7,275.2 420.8,275.6 420.9,275.9 421,276.3 421.1,276.7 421.1,277.1 421.2,277.5 421.3,277.8 421.4,278.2 421.4,278.6 421.5,279 421.6,279.4 421.7,279.8 421.7,280.2 421.8,280.6 421.9,281.1 421.9,281.5 422,281.9 422,282.3 422.1,282.7 422.2,283.1 422.2,283.6 422.3,284 422.4,284.4 422.4,284.8 422.5,285.2 422.5,285.7 422.6,286.1 422.6,286.5 422.7,286.9 422.8,287.3 422.8,287.8 422.9,288.2 422.9,288.6 423,289 423,289.4 423.1,289.8 423.2,290.3 423.2,290.7 423.3,291.1 423.3,291.5 423.4,291.9 423.5,292.3 423.5,292.7 423.6,293.1 423.7,293.5 423.7,293.9 423.8,294.3 423.9,294.6 423.9,295 424,295.4 424.1,295.8 424.2,296.2 424.2,296.6 424.3,297.1 424.4,297.5 424.5,297.9 424.6,298.3 424.6,298.7 424.7,299.1 424.8,299.5 424.9,299.9 424.9,300.3 425,300.7 425.1,301.1 425.2,301.5 425.3,301.9 425.3,302.3 425.4,302.7 425.5,303.1 425.6,303.5 425.7,303.8 425.7,304.2 425.8,304.6 425.9,305 426,305.4 426.1,305.8 426.1,306.2 426.2,306.6 426.3,307 426.4,307.4 426.5,307.8 426.5,308.1 426.6,308.5 426.7,308.9 426.8,309.3 426.8,309.7 426.9,310.1 427,310.5 427.1,310.9 427.2,311.3 427.2,311.6 427.3,312 427.4,312.4 427.5,312.8 427.6,313.2 427.6,313.6 427.7,314 427.8,314.4 427.8,314.4 427.9,314 427.9,313.6 428,313.2 428.1,312.8 428.2,312.4 428.2,312 428.3,311.7 428.4,311.3 428.5,310.9 428.5,310.5 428.6,310.1 428.7,309.7 428.8,309.3 428.8,308.9 428.9,308.6 429,308.2 429,307.8 429.1,307.4 429.2,307 429.3,306.6 429.3,306.2 429.4,305.8 429.5,305.5 429.5,305.1 429.6,304.7 429.7,304.3 429.8,303.9 429.8,303.5 429.9,303.1 430,302.7 430.1,302.3 430.1,301.9 430.2,301.5 430.3,301.1 430.4,300.7 430.4,300.3 430.5,299.9 430.6,299.5 430.7,299.1 430.7,298.7 430.8,298.3 430.9,297.9 431,297.5 431.1,297.1 431.2,296.7 431.2,296.2 431.3,295.8 431.4,295.4 431.5,295 431.5,294.7 431.6,294.3 431.7,293.9 431.8,293.5 431.8,293.1 431.9,292.7 432,292.3 432,292 432.1,291.6 432.2,291.2 432.2,290.7 432.3,290.3 432.4,289.9 432.4,289.5 432.5,289.1 432.6,288.7 432.6,288.3 432.7,287.9 432.8,287.5 432.8,287 432.9,286.6 433,286.2 433,285.8 433.1,285.4 433.2,285 433.3,284.5 433.3,284.1 433.4,283.7 433.5,283.3 433.5,282.9 433.6,282.4 433.7,282 433.8,281.6 433.8,281.2 433.9,280.8 434,280.3 434.1,279.9 434.2,279.5 434.2,279.1 434.3,278.7 434.4,278.3 434.5,277.9 434.6,277.5 434.7,277.1 434.8,276.7 434.9,276.3 434.9,275.9 435,275.5 435.1,275.1 435.2,274.7 435.3,274.3 435.4,273.9 435.5,273.6 435.6,273.2 435.8,272.8 435.9,272.5 436,272.1 436.1,271.7 436.2,271.4 436.3,271 436.4,270.7 436.6,270.3 436.7,270 436.9,269.6 437,269.2 437.2,268.8 437.4,268.4 437.5,268 437.7,267.6 437.9,267.2 438,266.8 438.2,266.4 438.4,266 438.6,265.7 438.8,265.3 439,264.9 439.1,264.5 439.3,264.2 439.5,263.8 439.7,263.5 439.9,263.1 440.1,262.8 440.3,262.4 440.5,262.1 440.7,261.7 440.9,261.4 441.2,261 441.4,260.7 441.6,260.3 441.8,260 442,259.7 442.2,259.3 442.5,259 442.7,258.7 442.9,258.4 443.1,258 443.3,257.7 443.6,257.4 443.8,257.1 444,256.8 444.3,256.4 444.5,256.1 444.7,255.8 445,255.5 445.2,255.2 445.5,254.9 445.7,254.5 446,254.2 446.2,253.9 446.5,253.5 446.8,253.2 447,252.9 447.3,252.5 447.6,252.2 447.9,251.9 448.1,251.5 448.4,251.2 448.7,250.9 449,250.6 449.3,250.2 449.6,249.9 449.9,249.6 450.2,249.3 450.5,249 450.7,248.7 451,248.4 451.3,248.1 451.6,247.8 451.9,247.5 452.2,247.3 452.5,247 452.8,246.7 453.1,246.5 453.4,246.2 453.7,246 454,245.8 454.3,245.6 454.6,245.3 454.9,245.1 455.2,245 455.5,244.8 455.8,244.6 456.2,244.4 456.6,244.2 457,244 457.4,243.8 457.8,243.6 458.2,243.4 458.7,243.2 459.1,243.1 459.5,242.9 459.9,242.8 460.3,242.7 460.7,242.6 461.1,242.5 461.5,242.4 461.9,242.4 462.3,242.3 462.7,242.3 463.1,242.3 463.5,242.4 463.8,242.4 464.2,242.5 464.5,242.6 464.9,242.7 465.2,242.9 465.5,243.1 465.8,243.3 466.2,243.5 466.5,243.7 466.8,244 467.1,244.2 467.4,244.5 467.7,244.8 468,245.1 468.2,245.5 468.5,245.8 468.8,246.2 469.1,246.5 469.3,246.9 469.6,247.3 469.9,247.6 470.1,248 470.4,248.4 470.6,248.8 470.8,249.1 470.9,249.4 471.1,249.7 471.3,250 471.4,250.3 471.6,250.6 471.7,251 471.9,251.3 472,251.6 472.2,252 472.3,252.3 472.5,252.7 472.6,253.1 472.7,253.4 472.9,253.8 473,254.2 473.1,254.6 473.3,255 473.4,255.4 473.5,255.8 473.6,256.2 473.7,256.6 473.9,257 474,257.4 474.1,257.8 474.2,258.2 474.3,258.6 474.4,259.1 474.5,259.5 474.6,259.9 474.8,260.3 474.9,260.8 475,261.2 475.1,261.6 475.2,262 475.3,262.5 475.4,262.9 475.5,263.3 475.6,263.7 475.7,264.2 475.8,264.6 475.9,265 476,265.4 476.1,265.7 476.2,266.1 476.2,266.5 476.3,266.9 476.4,267.2 476.5,267.6 476.6,268 476.6,268.4 476.7,268.8 476.8,269.2 476.9,269.6 476.9,269.9 477,270.3 477.1,270.7 477.2,271.1 477.2,271.5 477.3,271.9 477.4,272.3 477.4,272.7 477.5,273.1 477.6,273.5 477.6,273.9 477.7,274.3 477.8,274.7 477.8,275.2 477.9,275.6 477.9,276 478,276.4 478.1,276.8 478.1,277.2 478.2,277.6 478.2,278 478.3,278.4 478.4,278.8 478.4,279.3 478.5,279.7 478.5,280.1 478.6,280.5 478.7,280.9 478.7,281.3 478.8,281.7 478.8,282.1 478.9,282.5 479,282.9 479,283.4 479.1,283.8 479.1,284.2 479.2,284.6 479.3,285 479.3,285.4 479.4,285.8 479.5,286.2 479.5,286.6 479.6,287 479.6,287 479.7,286.6 479.7,286.2 479.8,285.8 479.8,285.4 479.8,285 479.9,284.5 479.9,284.1 480,283.7 480,283.3 480.1,282.9 480.1,282.4 480.1,282 480.2,281.6 480.2,281.1 480.3,280.7 480.3,280.3 480.3,279.8 480.4,279.4 480.4,279 480.4,278.5 480.5,278.1 480.5,277.6 480.5,277.2 480.6,276.8 480.6,276.3 480.6,275.9 480.7,275.4 480.7,275 480.7,274.6 480.8,274.1 480.8,273.7 480.8,273.3 480.9,272.8 480.9,272.4 481,272 481,271.5 481,271.1 481.1,270.7 481.1,270.3 481.2,269.8 481.2,269.4 481.3,269 481.3,268.6 481.4,268.2 481.4,267.8 481.5,267.4 481.5,267 481.6,266.6 481.6,266.2 481.7,265.8 481.7,265.4 481.8,265 481.9,264.6 481.9,264.3 482,263.9 482.1,263.5 482.1,263.2 482.2,262.8 482.3,262.5 482.4,262.1 482.4,261.8 482.5,261.5 482.6,261.1 482.7,260.8 482.8,260.5 482.9,260.2 483,259.9 483.1,259.6 483.2,259.3 483.3,259 483.5,258.5 483.7,258.1 483.8,257.7 484,257.3 484.2,256.9 484.4,256.5 484.6,256.1 484.8,255.7 485,255.3 485.2,255 485.5,254.6 485.7,254.3 485.9,254 486.1,253.6 486.4,253.3 486.6,253 486.8,252.7 487.1,252.4 487.4,252.1 487.6,251.8 487.9,251.5 488.2,251.3 488.4,251 488.7,250.7 489,250.4 489.3,250.2 489.6,249.9 489.9,249.6 490.2,249.4 490.5,249.2 490.8,248.9 491.2,248.7 491.5,248.5 491.8,248.3 492.2,248 492.5,247.8 492.9,247.6 493.2,247.4 493.6,247.2 494,247.1 494.4,246.9 494.7,246.7 495.1,246.5 495.5,246.4 495.9,246.2 496.3,246 496.7,245.9 497,245.7 497.4,245.6 497.8,245.4 498.2,245.3 498.6,245.1 499,245 499.4,244.9 499.8,244.7 500.2,244.6 500.6,244.5 501,244.4 501.3,244.3 501.7,244.2 502.1,244.1 502.5,244 502.9,243.9 503.3,243.8 503.7,243.8 504.1,243.7 504.5,243.6 504.9,243.6 505.3,243.5 505.7,243.4 506.1,243.4 506.5,243.3 506.9,243.3 507.3,243.2 507.7,243.2 508.1,243.1 508.5,243.1 508.9,243 509.4,243 509.8,242.9 510.2,242.9 510.6,242.8 511,242.8 511.4,242.7 511.8,242.7 512.2,242.6 512.6,242.6 513,242.5" fill="none" stroke="#2424ae" stroke-width="1.6" stroke-dasharray="4.2,2.6" stroke-linejoin="round" clip-path="url(#cd)"/>
<path d="M313,243.8 313.1,244.2 313.3,244.6 313.4,244.9 313.6,245.3 313.7,245.6 313.9,246 314,246.3 314.1,246.7 314.3,247 314.4,247.4 314.6,247.8 314.7,248.1 314.8,248.5 315,248.9 315.1,249.3 315.3,249.7 315.4,250.1 315.5,250.6 315.7,251 315.8,251.5 315.9,251.8 316,252.1 316,252.4 316.1,252.8 316.2,253.1 316.3,253.4 316.4,253.8 316.4,254.1 316.5,254.5 316.6,254.9 316.7,255.3 316.7,255.6 316.8,256 316.9,256.4 317,256.8 317,257.2 317.1,257.6 317.2,258 317.2,258.4 317.3,258.9 317.4,259.3 317.5,259.7 317.5,260.1 317.6,260.6 317.7,261 317.7,261.4 317.8,261.9 317.9,262.3 318,262.7 318,263.2 318.1,263.6 318.2,264 318.2,264.5 318.3,264.9 318.4,265.3 318.4,265.8 318.5,266.2 318.6,266.6 318.7,267.1 318.7,267.5 318.8,267.9 318.9,268.3 318.9,268.8 319,269.2 319.1,269.6 319.1,270 319.2,270.4 319.3,270.8 319.3,271.2 319.4,271.6 319.5,272 319.5,272.3 319.6,272.7 319.7,273.1 319.8,273.6 319.8,274 319.9,274.4 320,274.9 320.1,275.3 320.1,275.7 320.2,276.2 320.3,276.6 320.4,277 320.5,277.5 320.5,277.9 320.6,278.3 320.7,278.8 320.8,279.2 320.8,279.6 320.9,280.1 321,280.5 321.1,280.9 321.2,281.3 321.2,281.7 321.3,282.1 321.4,282.5 321.5,282.9 321.5,283.3 321.6,283.7 321.7,284.1 321.7,284.5 321.8,284.8 321.9,285.2 322,285.6 322,285.9 322.1,286.2 322.2,286.6 322.2,286.9 322.3,287.2 322.4,287.5 322.4,287.8 322.5,288.1 322.6,288.6 322.7,289.1 322.8,289.5 323,289.9 323.1,290.3 323.2,290.7 323.3,291 323.4,291.4 323.5,291.8 323.6,292.1 323.7,292.5 323.8,292.9 323.8,292.9 323.9,292.5 324,292.1 324,291.7 324.1,291.3 324.2,290.9 324.3,290.5 324.3,290.1 324.4,289.8 324.5,289.4 324.6,289 324.6,288.6 324.7,288.2 324.8,287.8 324.9,287.4 324.9,287 325,286.7 325.1,286.3 325.2,285.9 325.3,285.5 325.3,285.1 325.4,284.7 325.5,284.3 325.6,283.9 325.7,283.4 325.7,283 325.8,282.6 325.9,282.2 326,281.7 326.1,281.3 326.2,280.9 326.3,280.4 326.4,280.1 326.4,279.7 326.5,279.3 326.6,279 326.7,278.6 326.7,278.2 326.8,277.9 326.9,277.5 326.9,277.1 327,276.7 327.1,276.3 327.2,275.9 327.2,275.5 327.3,275.1 327.4,274.7 327.4,274.3 327.5,273.8 327.6,273.4 327.7,273 327.7,272.6 327.8,272.2 327.9,271.7 328,271.3 328,270.9 328.1,270.5 328.2,270 328.3,269.6 328.4,269.2 328.5,268.8 328.5,268.3 328.6,267.9 328.7,267.5 328.8,267.1 328.9,266.7 329,266.2 329.1,265.8 329.2,265.4 329.3,265 329.4,264.6 329.5,264.2 329.6,263.8 329.7,263.4 329.8,263.1 329.9,262.7 330,262.3 330.2,261.9 330.3,261.6 330.4,261.2 330.5,260.9 330.7,260.5 330.8,260.2 330.9,259.8 331.1,259.5 331.2,259.2 331.4,258.8 331.6,258.4 331.8,258 332,257.6 332.2,257.2 332.4,256.9 332.6,256.5 332.8,256.1 333,255.7 333.2,255.4 333.5,255 333.7,254.7 333.9,254.4 334.1,254 334.4,253.7 334.6,253.4 334.9,253 335.1,252.7 335.3,252.4 335.6,252.1 335.8,251.8 336.1,251.5 336.4,251.2 336.6,250.9 336.9,250.6 337.1,250.3 337.4,250 337.7,249.8 338,249.5 338.2,249.2 338.5,249 338.8,248.7 339.1,248.4 339.4,248.2 339.7,247.9 340,247.6 340.4,247.4 340.7,247.1 341,246.9 341.4,246.6 341.7,246.4 342,246.1 342.4,245.9 342.7,245.7 343.1,245.5 343.4,245.3 343.8,245 344.2,244.8 344.5,244.6 344.9,244.5 345.2,244.3 345.6,244.1 346,243.9 346.3,243.7 346.7,243.6 347.1,243.4 347.4,243.3 347.8,243.2 348.1,243 348.5,242.9 348.9,242.8 349.3,242.7 349.7,242.5 350.1,242.4 350.5,242.3 350.9,242.3 351.3,242.2 351.7,242.1 352.1,242 352.5,242 352.9,241.9 353.3,241.9 353.8,241.8 354.2,241.8 354.6,241.8 355,241.8 355.4,241.8 355.8,241.7 356.2,241.8 356.6,241.8 357,241.8 357.3,241.8 357.7,241.9 358.1,241.9 358.5,242 358.9,242 359.3,242.1 359.7,242.2 360.2,242.3 360.6,242.4 361,242.5 361.4,242.6 361.8,242.8 362.2,242.9 362.5,243.1 362.9,243.2 363.3,243.4 363.7,243.6 364.1,243.7 364.4,243.9 364.8,244.1 365.1,244.4 365.5,244.6 365.8,244.8 366.1,245 366.4,245.3 366.7,245.5 367,245.8 367.3,246.1 367.6,246.3 367.9,246.6 368.2,246.9 368.5,247.2 368.7,247.6 369,247.9 369.3,248.2 369.5,248.5 369.8,248.9 370,249.2 370.3,249.6 370.5,250 370.8,250.3 371,250.7 371.3,251.1 371.5,251.5 371.7,251.8 371.9,252.1 372.1,252.4 372.2,252.7 372.4,253.1 372.6,253.4 372.8,253.7 372.9,254.1 373.1,254.4 373.3,254.8 373.5,255.2 373.6,255.5 373.8,255.9 374,256.3 374.2,256.6 374.3,257 374.5,257.4 374.6,257.8 374.8,258.2 375,258.6 375.1,258.9 375.3,259.3 375.4,259.7 375.6,260.1 375.7,260.5 375.9,260.9 376,261.3 376.2,261.8 376.3,262.2 376.5,262.6 376.6,263 376.8,263.4 376.9,263.8 377,264.2 377.2,264.6 377.3,265 377.4,265.4 377.5,265.7 377.6,266.1 377.8,266.5 377.9,266.9 378,267.2 378.1,267.6 378.2,268 378.3,268.4 378.4,268.8 378.5,269.2 378.6,269.5 378.7,269.9 378.8,270.3 378.9,270.7 379,271.1 379.1,271.5 379.1,271.9 379.2,272.3 379.3,272.7 379.4,273.1 379.5,273.5 379.6,273.9 379.7,274.3 379.7,274.7 379.8,275.1 379.9,275.5 380,275.9 380.1,276.3 380.1,276.7 380.2,277.1 380.3,277.5 380.4,277.9 380.5,278.3 380.5,278.7 380.6,279.1 380.7,279.5 380.8,279.9 380.8,280.3 380.9,280.7 381,281.1 381.1,281.5 381.1,281.9 381.2,282.3 381.3,282.7 381.3,283.1 381.4,283.5 381.5,283.9 381.6,284.3 381.6,284.7 381.7,285.1 381.8,285.5 381.8,285.9 381.9,286.3 382,286.7 382,287.1 382.1,287.5 382.1,287.9 382.2,288.3 382.3,288.7 382.3,289.1 382.4,289.5 382.4,289.9 382.5,290.3 382.6,290.7 382.6,291.1 382.7,291.5 382.7,291.9 382.8,292.3 382.8,292.7 382.9,293.1 383,293.5 383,293.9 383.1,294.3 383.1,294.7 383.2,295.1 383.2,295.5 383.3,295.9 383.3,296.3 383.4,296.7 383.5,297.1 383.5,297.5 383.6,297.9 383.6,298.3 383.7,298.7 383.7,298.7 383.8,298.3 383.9,297.9 384,297.5 384,297.2 384.1,296.8 384.2,296.4 384.3,296 384.4,295.7 384.4,295.3 384.5,294.9 384.6,294.6 384.7,294.2 384.8,293.8 384.8,293.4 384.9,293.1 385,292.7 385.1,292.3 385.2,291.9 385.3,291.5 385.3,291.1 385.4,290.7 385.5,290.3 385.6,289.9 385.7,289.4 385.8,289 385.9,288.6 386,288.1 386.1,287.8 386.1,287.4 386.2,287.1 386.3,286.7 386.4,286.4 386.4,286 386.5,285.7 386.6,285.3 386.6,284.9 386.7,284.6 386.8,284.2 386.9,283.8 386.9,283.4 387,283 387.1,282.6 387.2,282.2 387.2,281.8 387.3,281.4 387.4,281 387.5,280.6 387.5,280.2 387.6,279.8 387.7,279.4 387.8,278.9 387.9,278.5 387.9,278.1 388,277.7 388.1,277.3 388.2,276.9 388.3,276.4 388.4,276 388.5,275.6 388.6,275.2 388.6,274.8 388.7,274.3 388.8,273.9 388.9,273.5 389,273.1 389.1,272.7 389.2,272.3 389.3,271.9 389.4,271.5 389.5,271.1 389.6,270.7 389.7,270.3 389.9,269.9 390,269.5 390.1,269.1 390.2,268.7 390.3,268.4 390.4,268 390.6,267.6 390.7,267.3 390.8,266.9 390.9,266.5 391.1,266.1 391.2,265.7 391.4,265.3 391.5,264.9 391.7,264.5 391.8,264.1 392,263.7 392.2,263.3 392.3,262.9 392.5,262.5 392.6,262.1 392.8,261.7 393,261.3 393.1,261 393.3,260.6 393.5,260.2 393.6,259.8 393.8,259.4 394,259 394.2,258.7 394.4,258.3 394.5,257.9 394.7,257.5 394.9,257.2 395.1,256.8 395.3,256.5 395.5,256.1 395.7,255.8 395.9,255.4 396.1,255.1 396.2,254.8 396.4,254.4 396.6,254.1 396.8,253.8 397,253.5 397.2,253.2 397.5,252.9 397.7,252.6 397.9,252.3 398.1,252 398.3,251.8 398.5,251.5 398.8,251.2 399.1,250.8 399.4,250.5 399.7,250.2 400,249.9 400.3,249.6 400.6,249.3 400.9,249 401.2,248.7 401.6,248.5 401.9,248.2 402.2,247.9 402.5,247.7 402.9,247.5 403.2,247.2 403.5,247 403.9,246.8 404.2,246.6 404.5,246.4 404.9,246.2 405.2,246 405.5,245.8 405.9,245.7 406.2,245.5 406.6,245.3 407,245.1 407.4,245 407.8,244.8 408.2,244.7 408.6,244.5 409,244.4 409.4,244.3 409.8,244.2 410.2,244.1 410.6,244 411,243.9 411.4,243.8 411.8,243.8 412.2,243.7 412.7,243.7 413.1,243.6 413.5,243.6 413.9,243.6 414.3,243.6 414.7,243.5 415.1,243.5 415.5,243.5 415.9,243.6 416.3,243.6 416.7,243.6 417.1,243.6 417.6,243.7 418,243.7 418.4,243.8 418.8,243.8 419.2,243.9 419.6,244 420,244.1 420.4,244.1 420.8,244.2 421.2,244.4 421.5,244.5 421.9,244.6 422.3,244.7 422.6,244.9 423,245 423.4,245.2 423.7,245.4 424.1,245.5 424.4,245.7 424.8,245.9 425.1,246.1 425.5,246.3 425.8,246.6 426.1,246.8 426.4,247 426.8,247.3 427.1,247.6 427.4,247.9 427.7,248.2 428,248.5 428.3,248.8 428.5,249.1 428.7,249.3 428.9,249.6 429.2,249.9 429.4,250.2 429.6,250.5 429.8,250.8 430,251.1 430.2,251.4 430.4,251.8 430.6,252.1 430.8,252.5 430.9,252.8 431.1,253.2 431.3,253.6 431.5,253.9 431.7,254.3 431.9,254.7 432,255.1 432.2,255.5 432.4,255.9 432.6,256.3 432.7,256.7 432.9,257.1 433.1,257.5 433.2,257.9 433.4,258.3 433.5,258.7 433.7,259.1 433.8,259.5 434,259.9 434.2,260.3 434.3,260.7 434.5,261.1 434.6,261.5 434.7,261.9 434.9,262.2 435,262.6 435.1,263 435.2,263.3 435.3,263.7 435.5,264.1 435.6,264.5 435.7,264.9 435.8,265.2 435.9,265.6 436,266 436.1,266.4 436.2,266.8 436.3,267.2 436.4,267.6 436.5,268 436.6,268.4 436.7,268.8 436.8,269.2 436.9,269.6 437,270 437.1,270.4 437.2,270.8 437.3,271.2 437.3,271.6 437.4,272 437.5,272.4 437.6,272.9 437.7,273.3 437.8,273.7 437.9,274.1 438,274.5 438,274.9 438.1,275.3 438.2,275.7 438.3,276.1 438.4,276.5 438.5,276.9 438.5,277.3 438.6,277.7 438.7,278.1 438.8,278.5 438.9,278.9 439,279.3 439.1,279.7 439.1,280.1 439.2,280.5 439.3,281 439.4,281.4 439.5,281.8 439.6,282.2 439.6,282.7 439.7,283.1 439.8,283.5 439.9,284 440,284.4 440,284.8 440.1,285.3 440.2,285.7 440.3,286.1 440.4,286.6 440.4,287 440.5,287.4 440.6,287.9 440.7,288.3 440.7,288.7 440.8,289.1 440.9,289.5 440.9,289.9 441,290.3 441.1,290.7 441.2,291.1 441.2,291.5 441.3,291.9 441.4,292.2 441.4,292.6 441.5,293 441.6,293.3 441.6,293.6 441.7,294 441.8,294.3 441.8,294.6 441.9,294.9 441.9,295.1 442,295.4 442.1,295.9 442.2,296.4 442.4,296.9 442.5,297.3 442.6,297.7 442.7,298.1 442.8,298.4 442.9,298.8 443,299.2 443.1,299.6 443.1,299.6 443.2,299.2 443.3,298.8 443.3,298.4 443.4,298.1 443.5,297.7 443.6,297.3 443.6,296.9 443.7,296.6 443.8,296.2 443.8,295.8 443.9,295.5 444,295.1 444.1,294.7 444.1,294.3 444.2,294 444.3,293.6 444.4,293.2 444.4,292.8 444.5,292.4 444.6,292 444.7,291.6 444.8,291.2 444.8,290.8 444.9,290.3 445,289.9 445.1,289.5 445.2,289 445.3,288.7 445.3,288.3 445.4,288 445.5,287.6 445.5,287.3 445.6,286.9 445.7,286.5 445.7,286.2 445.8,285.8 445.9,285.4 445.9,285 446,284.6 446.1,284.2 446.1,283.8 446.2,283.4 446.3,283 446.3,282.6 446.4,282.2 446.5,281.8 446.5,281.4 446.6,281 446.7,280.5 446.7,280.1 446.8,279.7 446.9,279.3 447,278.8 447,278.4 447.1,278 447.2,277.6 447.3,277.1 447.3,276.7 447.4,276.3 447.5,275.9 447.6,275.4 447.7,275 447.7,274.6 447.8,274.2 447.9,273.8 448,273.4 448.1,272.9 448.2,272.5 448.3,272.1 448.4,271.7 448.5,271.3 448.6,270.9 448.7,270.5 448.8,270.1 448.9,269.8 449,269.4 449.1,269 449.2,268.6 449.3,268.3 449.4,267.9 449.5,267.5 449.7,267.1 449.8,266.7 449.9,266.3 450.1,265.9 450.2,265.5 450.3,265.1 450.5,264.6 450.6,264.2 450.7,263.8 450.9,263.5 451,263.1 451.2,262.7 451.3,262.3 451.5,261.9 451.6,261.5 451.8,261.1 451.9,260.7 452.1,260.3 452.2,260 452.4,259.6 452.5,259.2 452.7,258.9 452.9,258.5 453,258.1 453.2,257.8 453.4,257.4 453.5,257 453.7,256.7 453.9,256.4 454.1,256 454.2,255.7 454.4,255.3 454.6,255 454.8,254.7 455,254.4 455.2,254 455.4,253.7 455.6,253.4 455.8,253.1 456,252.7 456.3,252.4 456.6,252 456.8,251.7 457.1,251.3 457.3,251 457.6,250.7 457.9,250.3 458.2,250 458.4,249.7 458.7,249.4 459,249 459.3,248.7 459.6,248.4 459.9,248.1 460.2,247.8 460.5,247.6 460.8,247.3 461.1,247 461.4,246.7 461.7,246.5 462,246.2 462.3,246 462.6,245.7 462.9,245.5 463.3,245.2 463.6,245 463.9,244.8 464.2,244.6 464.6,244.4 464.9,244.1 465.3,243.9 465.7,243.7 466.1,243.5 466.4,243.4 466.8,243.2 467.2,243 467.6,242.8 468,242.7 468.4,242.6 468.8,242.4 469.1,242.3 469.5,242.2 469.9,242 470.3,241.9 470.7,241.8 471.1,241.7 471.5,241.6 471.9,241.6 472.3,241.5 472.7,241.4 473.1,241.3 473.5,241.3 473.9,241.2 474.3,241.2 474.7,241.1 475.1,241.1 475.5,241.1 475.9,241 476.3,241 476.7,241 477.2,241 477.6,241 478,241 478.4,241.1 478.8,241.1 479.2,241.1 479.6,241.2 480,241.2 480.4,241.3 480.8,241.3 481.2,241.4 481.6,241.5 482,241.5 482.4,241.6 482.8,241.7 483.2,241.8 483.6,241.9 484,242 484.4,242.1 484.8,242.2 485.2,242.3 485.6,242.5 486,242.6 486.4,242.7 486.8,242.9 487.1,243.1 487.5,243.3 487.9,243.4 488.2,243.6 488.6,243.9 488.9,244.1 489.3,244.3 489.6,244.6 489.9,244.8 490.1,245.1 490.4,245.3 490.7,245.6 490.9,245.9 491.2,246.2 491.4,246.5 491.6,246.8 491.9,247.1 492.1,247.4 492.3,247.7 492.6,248.1 492.8,248.4 493,248.8 493.2,249.1 493.4,249.5 493.6,249.9 493.8,250.2 494,250.6 494.2,251 494.4,251.4 494.6,251.8 494.8,252.2 495,252.6 495.1,253.1 495.3,253.5 495.5,253.9 495.7,254.3 495.8,254.8 496,255.2 496.1,255.5 496.2,255.8 496.4,256.2 496.5,256.5 496.6,256.9 496.7,257.2 496.8,257.6 496.9,257.9 497,258.3 497.1,258.6 497.2,259 497.3,259.4 497.4,259.8 497.4,260.2 497.5,260.6 497.6,260.9 497.7,261.3 497.8,261.7 497.9,262.1 497.9,262.5 498,263 498.1,263.4 498.2,263.8 498.2,264.2 498.3,264.6 498.4,265 498.5,265.4 498.5,265.9 498.6,266.3 498.7,266.7 498.7,267.1 498.8,267.6 498.8,268 498.9,268.4 499,268.8 499,269.3 499.1,269.7 499.1,270.1 499.2,270.5 499.3,271 499.3,271.4 499.4,271.8 499.4,272.2 499.5,272.6 499.6,273.1 499.6,273.5 499.7,273.9 499.7,274.3 499.8,274.7 499.8,275.1 499.9,275.5 500,275.9 500,276.3 500.1,276.7 500.1,277.1 500.2,277.5 500.3,277.9 500.3,278.3 500.4,278.7 500.5,279.1 500.5,279.5 500.6,279.9 500.6,280.3 500.7,280.8 500.7,281.2 500.8,281.6 500.9,282 500.9,282.4 501,282.8 501,283.2 501.1,283.6 501.1,284 501.2,284.4 501.2,284.8 501.3,285.1 501.3,285.5 501.4,285.9 501.4,286.3 501.5,286.7 501.5,287.1 501.6,287.5 501.6,287.9 501.7,288.3 501.7,288.7 501.7,289.1 501.8,289.5 501.8,289.9 501.9,290.3 501.9,290.7 502,291.1 502,291.5 502.1,291.9 502.1,292.3 502.2,292.6 502.2,293 502.3,293.4 502.3,293.8 502.4,294.2 502.4,294.6 502.5,295 502.5,295.4 502.5,295.8 502.6,296.2 502.6,296.6 502.7,297 502.7,297 502.8,296.6 502.8,296.2 502.9,295.8 502.9,295.4 503,295 503.1,294.6 503.1,294.2 503.2,293.8 503.2,293.5 503.3,293.1 503.4,292.7 503.4,292.3 503.5,291.9 503.5,291.5 503.6,291.1 503.6,290.7 503.7,290.3 503.8,289.9 503.8,289.5 503.9,289.2 503.9,288.8 504,288.4 504,288 504.1,287.6 504.2,287.2 504.2,286.8 504.3,286.4 504.4,286 504.4,285.6 504.5,285.2 504.5,284.8 504.6,284.4 504.7,284 504.7,283.6 504.8,283.2 504.9,282.8 505,282.4 505,282 505.1,281.6 505.2,281.2 505.3,280.8 505.3,280.3 505.4,279.9 505.5,279.5 505.6,279.1 505.6,278.8 505.7,278.4 505.8,278 505.9,277.6 506,277.2 506.1,276.8 506.1,276.4 506.2,276 506.3,275.6 506.4,275.1 506.5,274.7 506.6,274.3 506.7,273.9 506.8,273.4 506.9,273 507,272.6 507,272.1 507.1,271.7 507.2,271.3 507.3,270.8 507.4,270.4 507.5,270 507.6,269.5 507.7,269.1 507.8,268.7 507.9,268.2 508,267.8 508.1,267.4 508.2,266.9 508.3,266.5 508.4,266.1 508.5,265.7 508.6,265.3 508.7,264.9 508.8,264.4 508.9,264 509,263.6 509.1,263.3 509.2,262.9 509.3,262.5 509.4,262.1 509.5,261.7 509.6,261.4 509.7,261 509.8,260.6 509.9,260.3 510,260 510.1,259.6 510.2,259.3 510.3,259 510.4,258.7 510.5,258.4 510.5,258.1 510.6,257.8 510.7,257.6 510.8,257.3 511,256.8 511.1,256.3 511.3,255.9 511.5,255.5 511.6,255.1 511.8,254.8 511.9,254.4 512.1,254.1 512.2,253.7 512.4,253.4 512.5,253.1 512.7,252.7 512.8,252.4 513,252" fill="none" stroke="#cf2a36" stroke-width="1.4" stroke-dasharray="4.6,2.2,1.6,2.2" stroke-linejoin="round" clip-path="url(#cd)"/>
<line x1="332.9" y1="219.5" x2="352.9" y2="219.5" stroke="#111111" stroke-width="1.65"/>
<text x="355.2" y="224.4" font-family='"Liberation Serif", "DejaVu Serif", serif' font-size="13.6">P1</text>
<line x1="372.9" y1="219.5" x2="392.9" y2="219.5" stroke="#2424ae" stroke-width="1.6" stroke-dasharray="4.2,2.6"/>
<text x="396.3" y="224.4" font-family='"Liberation Serif", "DejaVu Serif", serif' font-size="13.6">P2</text>
<line x1="413.4" y1="219.5" x2="433.4" y2="219.5" stroke="#cf2a36" stroke-width="1.4" stroke-dasharray="4.6,2.2,1.6,2.2"/>
<text x="436.5" y="224.4" font-family='"Liberation Serif", "DejaVu Serif", serif' font-size="13.6">P3</text>
<line x1="454.3" y1="219.5" x2="474.3" y2="219.5" stroke="#3d8a3a" stroke-width="1.5" stroke-dasharray="1.4,2.0"/>
<text x="477.4" y="224.4" font-family='"Liberation Serif", "DejaVu Serif", serif' font-size="13.6">P4</text>
<rect x="313.0" y="209.0" width="199.79999999999995" height="115.80000000000001" fill="none" stroke="#555" stroke-width="1.45"/>
<line x1="308.0" y1="233.3" x2="313.0" y2="233.3" stroke="#555" stroke-width="1.3"/>
<text x="302.7" y="238.3" text-anchor="end" font-family='"Liberation Serif", "DejaVu Serif", serif' font-size="14">1.4</text>
<line x1="308.0" y1="272.4" x2="313.0" y2="272.4" stroke="#555" stroke-width="1.3"/>
<text x="302.7" y="277.4" text-anchor="end" font-family='"Liberation Serif", "DejaVu Serif", serif' font-size="14">1.3</text>
<line x1="308.0" y1="311.7" x2="313.0" y2="311.7" stroke="#555" stroke-width="1.3"/>
<text x="302.7" y="316.7" text-anchor="end" font-family='"Liberation Serif", "DejaVu Serif", serif' font-size="14">1.2</text>
<line x1="313" y1="324.8" x2="313" y2="329.8" stroke="#555" stroke-width="1.3"/>
<text x="313" y="344.8" text-anchor="middle" font-family='"Liberation Serif", "DejaVu Serif", serif' font-size="14">670</text>
<line x1="352.4" y1="324.8" x2="352.4" y2="329.8" stroke="#555" stroke-width="1.3"/>
<text x="352.4" y="344.8" text-anchor="middle" font-family='"Liberation Serif", "DejaVu Serif", serif' font-size="14">672</text>
<line x1="391.8" y1="324.8" x2="391.8" y2="329.8" stroke="#555" stroke-width="1.3"/>
<text x="391.8" y="344.8" text-anchor="middle" font-family='"Liberation Serif", "DejaVu Serif", serif' font-size="14">674</text>
<line x1="431.1" y1="324.8" x2="431.1" y2="329.8" stroke="#555" stroke-width="1.3"/>
<text x="431.1" y="344.8" text-anchor="middle" font-family='"Liberation Serif", "DejaVu Serif", serif' font-size="14">676</text>
<line x1="470.5" y1="324.8" x2="470.5" y2="329.8" stroke="#555" stroke-width="1.3"/>
<text x="470.5" y="344.8" text-anchor="middle" font-family='"Liberation Serif", "DejaVu Serif", serif' font-size="14">678</text>
<line x1="509.9" y1="324.8" x2="509.9" y2="329.8" stroke="#555" stroke-width="1.3"/>
<text x="509.9" y="344.8" text-anchor="middle" font-family='"Liberation Serif", "DejaVu Serif", serif' font-size="14">680</text>
<text x="412.9" y="358.8" text-anchor="middle" font-family='"Liberation Serif", "DejaVu Serif", serif' font-size="15.5" font-style="italic">(tU<tspan font-size="10.5" dy="3.5">b</tspan><tspan dy="-3.5" dx="1.2">)</tspan><tspan font-size="17" dy="1" dx="0.5">/</tspan><tspan dy="-1" dx="0.3">H</tspan></text>
<text transform="translate(275.7,267) rotate(-90)" text-anchor="middle" font-family='"Liberation Serif", "DejaVu Serif", serif' font-size="14" font-style="italic">u<tspan font-size="10" dx="0.8" dy="3.5">p</tspan><tspan font-style="normal" font-size="18.5" dx="0.6" dy="-1">/</tspan><tspan dy="-2.5" dx="0.2">U</tspan><tspan font-size="10" dx="0.8" dy="3.5">b</tspan></text>
<text x="415.2" y="385.6" text-anchor="middle" font-family='"Liberation Serif", "DejaVu Serif", serif' font-size="14.5">(d)</text>
<path d="M48.4,536.2 48.5,536.6 48.6,536.9 48.8,537.1 48.9,537.3 49,537.4 49.1,537.5 49.3,537.5 49.4,537.5 49.5,537.5 49.6,537.4 49.7,537.3 49.9,537.1 50,536.9 50.1,536.6 50.2,536.3 50.4,535.9 50.5,535.4 50.6,534.8 50.7,534.1 50.9,533.3 51,532.3 51.1,531.1 51.2,529.6 51.3,527.9 51.5,525.8 51.6,523.3 51.7,520.3 51.8,516.6 52,512 52.1,506.6 52.2,500 52.3,492.4 52.4,483.8 52.6,474.8 52.7,466.5 52.8,460.5 52.9,458.3 53.1,460.3 53.2,466.2 53.3,474.4 53.4,483.4 53.6,492 53.7,499.7 53.8,506.3 53.9,511.8 54,516.4 54.2,520.1 54.3,523.2 54.4,525.7 54.5,527.8 54.7,529.6 54.8,531 54.9,532.2 55,533.3 55.1,534.1 55.3,534.8 55.4,535.4 55.5,535.9 55.6,536.4 55.8,536.7 55.9,537 56,537.2 56.1,537.4 56.3,537.6 56.4,537.7 56.5,537.8 56.6,537.8 56.7,537.8 56.9,537.8 57,537.7 57.1,537.6 57.2,537.5 57.4,537.3 57.5,537 57.6,536.7 57.7,536.4 57.8,536 58,535.5 58.1,534.9 58.2,534.2 58.3,533.4 58.5,532.4 58.6,531.2 58.7,529.7 58.8,528 59,526 59.1,523.4 59.2,520.4 59.3,516.7 59.4,512.2 59.6,506.8 59.7,500.3 59.8,492.7 59.9,484.4 60.1,475.8 60.2,468.1 60.3,462.9 60.4,461.5 60.5,464.2 60.7,470.4 60.8,478.5 60.9,487.1 61,495.3 61.2,502.5 61.3,508.6 61.4,513.7 61.5,518 61.7,521.4 61.8,524.3 61.9,526.6 62,528.6 62.1,530.2 62.3,531.5 62.4,532.7 62.5,533.6 62.6,534.4 62.8,535.1 62.9,535.6 63,536.1 63.1,536.4 63.2,536.8 63.4,537 63.5,537.2 63.6,537.4 63.7,537.5 63.9,537.5 64,537.5 64.1,537.5 64.2,537.5 64.4,537.3 64.5,537.2 64.6,537 64.7,536.7 64.8,536.4 65,536 65.1,535.6 65.2,535 65.3,534.4 65.5,533.6 65.6,532.6 65.7,531.5 65.8,530.2 65.9,528.6 66.1,526.6 66.2,524.3 66.3,521.5 66.4,518 66.6,513.8 66.7,508.7 66.8,502.6 66.9,495.3 67.1,486.9 67.2,477.8 67.3,468.8 67.4,461.3 67.5,456.9 67.7,456.8 67.8,461 67.9,468.4 68,477.4 68.2,486.5 68.3,494.9 68.4,502.2 68.5,508.4 68.6,513.6 68.8,517.8 68.9,521.3 69,524.2 69.1,526.5 69.3,528.5 69.4,530.1 69.5,531.5 69.6,532.6 69.7,533.5 69.9,534.3 70,535 70.1,535.6 70.2,536 70.4,536.4 70.5,536.7 70.6,537 70.7,537.2 70.9,537.3 71,537.4 71.1,537.5 71.2,537.5 71.3,537.5 71.5,537.5 71.6,537.4 71.7,537.2 71.8,537 72,536.8 72.1,536.5 72.2,536.1 72.3,535.6 72.4,535.1 72.6,534.4 72.7,533.6 72.8,532.7 72.9,531.6 73.1,530.3 73.2,528.7 73.3,526.7 73.4,524.4 73.6,521.6 73.7,518.1 73.8,513.9 73.9,508.9 74,502.8 74.2,495.6 74.3,487.4 74.4,478.6 74.5,470.1 74.7,463.3 74.8,459.8 74.9,460.5 75,465.3 75.1,472.8 75.3,481.5 75.4,490.2 75.5,498.1 75.6,504.9 75.8,510.7 75.9,515.4 76,519.3 76.1,522.6 76.3,525.2 76.4,527.4 76.5,529.2 76.6,530.7 76.7,531.9 76.9,533 77,533.9 77.1,534.6 77.2,535.2 77.4,535.7 77.5,536.1 77.6,536.4 77.7,536.7 77.8,536.9 78,537.1 78.1,537.2 78.2,537.2 78.3,537.2 78.5,537.2 78.6,537.1 78.7,536.9 78.8,536.7 79,536.4 79.1,536.1 79.2,535.7 79.3,535.2 79.4,534.6 79.6,533.8 79.7,533 79.8,531.9 79.9,530.7 80.1,529.2 80.2,527.4 80.3,525.2 80.4,522.6 80.5,519.3 80.7,515.4 80.8,510.7 80.9,505 81,498.1 81.2,490.1 81.3,481.3 81.4,472.2 81.5,464.2 81.7,458.7 81.8,457.2 81.9,460.1 82,466.6 82.1,475.1 82.3,484.2 82.4,492.8 82.5,500.5 82.6,506.9 82.8,512.3 82.9,516.8 83,520.5 83.1,523.5 83.2,526 83.4,528 83.5,529.7 83.6,531.1 83.7,532.3 83.9,533.3 84,534.1 84.1,534.8 84.2,535.4 84.4,535.8 84.5,536.2 84.6,536.6 84.7,536.8 84.8,537 85,537.1 85.1,537.2 85.2,537.3 85.3,537.3 85.5,537.2 85.6,537.1 85.7,537 85.8,536.8 85.9,536.5 86.1,536.2 86.2,535.7 86.3,535.2 86.4,534.6 86.6,533.9 86.7,533.1 86.8,532.1 86.9,530.8 87.1,529.4 87.2,527.6 87.3,525.5 87.4,523 87.5,519.9 87.7,516.1 87.8,511.5 87.9,506 88,499.3 88.2,491.4 88.3,482.3 88.4,472.5 88.5,462.8 88.6,454.9 88.8,450.3 88.9,450.5 89,455.3 89.1,463.4 89.3,473.1 89.4,482.9 89.5,491.9 89.6,499.8 89.7,506.4 89.9,511.9 90,516.4 90.1,520.1 90.2,523.1 90.4,525.7 90.5,527.7 90.6,529.5 90.7,530.9 90.9,532.1 91,533.1 91.1,534 91.2,534.7 91.3,535.3 91.5,535.8 91.6,536.2 91.7,536.5 91.8,536.8 92,537 92.1,537.1 92.2,537.2 92.3,537.2 92.4,537.2 92.6,537.2 92.7,537.1 92.8,536.9 92.9,536.7 93.1,536.4 93.2,536.1 93.3,535.7 93.4,535.1 93.6,534.5 93.7,533.8 93.8,532.9 93.9,531.8 94,530.6 94.2,529 94.3,527.2 94.4,525 94.5,522.3 94.7,519.1 94.8,515.1 94.9,510.3 95,504.5 95.1,497.6 95.3,489.5 95.4,480.5 95.5,471.4 95.6,463.2 95.8,457.7 95.9,456.3 96,459.3 96.1,465.9 96.3,474.6 96.4,483.8 96.5,492.5 96.6,500.1 96.7,506.7 96.9,512.1 97,516.6 97.1,520.3 97.2,523.3 97.4,525.8 97.5,527.9 97.6,529.6 97.7,531 97.8,532.2 98,533.2 98.1,534 98.2,534.7 98.3,535.3 98.5,535.8 98.6,536.2 98.7,536.5 98.8,536.7 99,536.9 99.1,537 99.2,537.1 99.3,537.1 99.4,537.1 99.6,537 99.7,536.9 99.8,536.7 99.9,536.4 100.1,536.1 100.2,535.7 100.3,535.2 100.4,534.7 100.5,533.9 100.7,533.1 100.8,532.1 100.9,530.9 101,529.4 101.2,527.7 101.3,525.6 101.4,523.1 101.5,520 101.7,516.3 101.8,511.8 101.9,506.3 102,499.7 102.1,491.8 102.3,482.8 102.4,473 102.5,463.4 102.6,455.4 102.8,450.9 102.9,451 103,455.7 103.1,463.7 103.2,473.3 103.4,483.1 103.5,492.1 103.6,499.9 103.7,506.5 103.9,512 104,516.5 104.1,520.2 104.2,523.2 104.4,525.7 104.5,527.8 104.6,529.5 104.7,531 104.8,532.2 105,533.2 105.1,534 105.2,534.7 105.3,535.3 105.5,535.8 105.6,536.2 105.7,536.6 105.8,536.9 105.9,537.1 106.1,537.2 106.2,537.4 106.3,537.4 106.4,537.5 106.6,537.4 106.7,537.4 106.8,537.3 106.9,537.1 107.1,536.9 107.2,536.7 107.3,536.4 107.4,536 107.5,535.5 107.7,534.9 107.8,534.3 107.9,533.5 108,532.5 108.2,531.4 108.3,530 108.4,528.4 108.5,526.4 108.6,524 108.8,521.1 108.9,517.6 109,513.4 109.1,508.2 109.3,502 109.4,494.5 109.5,486 109.6,476.6 109.7,467.2 109.9,459.1 110,454.1 110.1,453.5 110.2,457.4 110.4,464.8 110.5,474 110.6,483.5 110.7,492.3 110.9,500.1 111,506.6 111.1,512.1 111.2,516.6 111.3,520.2 111.5,523.3 111.6,525.8 111.7,527.8 111.8,529.6 112,531 112.1,532.2 112.2,533.2 112.3,534 112.4,534.7 112.6,535.3 112.7,535.8 112.8,536.1 112.9,536.5 113.1,536.7 113.2,536.9 113.3,537 113.4,537.1 113.6,537.1 113.7,537.1 113.8,537 113.9,536.9 114,536.7 114.2,536.4 114.3,536.1 114.4,535.7 114.5,535.2 114.7,534.6 114.8,533.9 114.9,533.1 115,532 115.1,530.8 115.3,529.4 115.4,527.6 115.5,525.5 115.6,522.9 115.8,519.8 115.9,516 116,511.3 116.1,505.7 116.3,499 116.4,491.2 116.5,482.3 116.6,473.1 116.7,464.5 116.9,458.2 117,455.7 117.1,457.7 117.2,463.6 117.4,472 117.5,481.2 117.6,490.2 117.7,498.2 117.8,505 118,510.7 118.1,515.5 118.2,519.4 118.3,522.6 118.5,525.2 118.6,527.4 118.7,529.2 118.8,530.7 119,531.9 119.1,533 119.2,533.8 119.3,534.6 119.4,535.2 119.6,535.7 119.7,536.1 119.8,536.4 119.9,536.7 120.1,536.9 120.2,537.1 120.3,537.2 120.4,537.2 120.5,537.2 120.7,537.2 120.8,537.1 120.9,536.9 121,536.7 121.2,536.5 121.3,536.1 121.4,535.7 121.5,535.2 121.7,534.6 121.8,533.9 121.9,533 122,532 122.1,530.8 122.3,529.3 122.4,527.5 122.5,525.4 122.6,522.8 122.8,519.7 122.9,515.9 123,511.2 123.1,505.6 123.2,498.8 123.4,490.9 123.5,481.9 123.6,472.3 123.7,463.1 123.9,456 124,452.6 124.1,453.8 124.2,459.3 124.4,467.7 124.5,477.3 124.6,486.7 124.7,495.2 124.8,502.5 125,508.7 125.1,513.8 125.2,517.9 125.3,521.4 125.5,524.2 125.6,526.6 125.7,528.5 125.8,530.1 125.9,531.5 126.1,532.6 126.2,533.5 126.3,534.3 126.4,535 126.6,535.6 126.7,536 126.8,536.4 126.9,536.7 127.1,537 127.2,537.2 127.3,537.3 127.4,537.4 127.5,537.5 127.7,537.5 127.8,537.5 127.9,537.4 128,537.3 128.2,537.1 128.3,536.9 128.4,536.6 128.5,536.3 128.6,535.9 128.8,535.4 128.9,534.8 129,534.1 129.1,533.3 129.3,532.3 129.4,531.1 129.5,529.7 129.6,528 129.8,526 129.9,523.6 130,520.6 130.1,517 130.2,512.7 130.4,507.3 130.5,500.9 130.6,493.3 130.7,484.3 130.9,474.4 131,464.3 131.1,455.2 131.2,448.9 131.3,447.2 131.5,450.4 131.6,457.6 131.7,467.2 131.8,477.4 132,487.1 132.1,495.6 132.2,502.9 132.3,509 132.4,514 132.6,518.1 132.7,521.5 132.8,524.3 132.9,526.6 133.1,528.6 133.2,530.2 133.3,531.5 133.4,532.6 133.6,533.6 133.7,534.3 133.8,535 133.9,535.6 134,536 134.2,536.4 134.3,536.7 134.4,537 134.5,537.2 134.7,537.3 134.8,537.4 134.9,537.5 135,537.5 135.1,537.4 135.3,537.4 135.4,537.3 135.5,537.1 135.6,536.9 135.8,536.6 135.9,536.3 136,535.8 136.1,535.3 136.3,534.7 136.4,534 136.5,533.2 136.6,532.2 136.7,531 136.9,529.5 137,527.8 137.1,525.7 137.2,523.2 137.4,520.2 137.5,516.5 137.6,512 137.7,506.6 137.8,500 138,492.1 138.1,483.1 138.2,473.2 138.3,463.2 138.5,454.5 138.6,449.1 138.7,448.2 138.8,452.2 139,460 139.1,469.7 139.2,479.8 139.3,489.2 139.4,497.4 139.6,504.4 139.7,510.3 139.8,515.1 139.9,519 140.1,522.2 140.2,524.9 140.3,527.1 140.4,529 140.5,530.5 140.7,531.8 140.8,532.9 140.9,533.8 141,534.5 141.2,535.2 141.3,535.7 141.4,536.2 141.5,536.6 141.7,536.9 141.8,537.1 141.9,537.3 142,537.5 142.1,537.6 142.3,537.7 142.4,537.7 142.5,537.7 142.6,537.6 142.8,537.6 142.9,537.4 143,537.3 143.1,537.1 143.2,536.8 143.4,536.5 143.5,536.1 143.6,535.6 143.7,535.1 143.9,534.4 144,533.6 144.1,532.7 144.2,531.6 144.4,530.3 144.5,528.7 144.6,526.8 144.7,524.5 144.8,521.7 145,518.4 145.1,514.3 145.2,509.3 145.3,503.3 145.5,496.1 145.6,487.6 145.7,478.1 145.8,468 145.9,458.5 146.1,451.4 146.2,448.3 146.3,450.1 146.4,456.2 146.6,465.2 146.7,475.3 146.8,485.1 146.9,493.9 147.1,501.4 147.2,507.8 147.3,513 147.4,517.3 147.5,520.9 147.7,523.8 147.8,526.2 147.9,528.2 148,529.9 148.2,531.3 148.3,532.4 148.4,533.4 148.5,534.2 148.6,534.9 148.8,535.5 148.9,536 149,536.4 149.1,536.7 149.3,537 149.4,537.2 149.5,537.4 149.6,537.5 149.8,537.6 149.9,537.7 150,537.7 150.1,537.7 150.2,537.6 150.4,537.5 150.5,537.4 150.6,537.2 150.7,536.9 150.9,536.7 151,536.3 151.1,535.9 151.2,535.4 151.3,534.7 151.5,534 151.6,533.2 151.7,532.1 151.8,530.9 152,529.5 152.1,527.7 152.2,525.6 152.3,523.1 152.4,520.1 152.6,516.4 152.7,511.9 152.8,506.4 152.9,499.7 153.1,491.9 153.2,482.8 153.3,472.7 153.4,462.6 153.6,453.8 153.7,448.2 153.8,447.2 153.9,451.1 154,458.8 154.2,468.6 154.3,478.8 154.4,488.4 154.5,496.7 154.7,503.9 154.8,509.8 154.9,514.6 155,518.7 155.1,521.9 155.3,524.7 155.4,526.9 155.5,528.8 155.6,530.3 155.8,531.6 155.9,532.7 156,533.6 156.1,534.3 156.3,535 156.4,535.5 156.5,535.9 156.6,536.3 156.7,536.5 156.9,536.7 157,536.9 157.1,537 157.2,537 157.4,537 157.5,536.9 157.6,536.8 157.7,536.6 157.8,536.3 158,536 158.1,535.5 158.2,535 158.3,534.4 158.5,533.7 158.6,532.8 158.7,531.7 158.8,530.5 159,528.9 159.1,527.1 159.2,524.9 159.3,522.2 159.4,519 159.6,515.1 159.7,510.3 159.8,504.4 159.9,497.5 160.1,489.2 160.2,479.9 160.3,469.9 160.4,460.4 160.5,452.9 160.7,449.2 160.8,450.4 160.9,456 161,464.7 161.2,474.6 161.3,484.4 161.4,493.2 161.5,500.9 161.7,507.3 161.8,512.6 161.9,517 162,520.6 162.1,523.6 162.3,526 162.4,528.1 162.5,529.7 162.6,531.1 162.8,532.3 162.9,533.3 163,534.1 163.1,534.8 163.2,535.4 163.4,535.9 163.5,536.3 163.6,536.7 163.7,536.9 163.9,537.2 164,537.3 164.1,537.5 164.2,537.5 164.4,537.6 164.5,537.6 164.6,537.5 164.7,537.5 164.8,537.3 165,537.2 165.1,537 165.2,536.7 165.3,536.4 165.5,535.9 165.6,535.5 165.7,534.9 165.8,534.2 165.9,533.4 166.1,532.4 166.2,531.2 166.3,529.8 166.4,528.1 166.6,526.1 166.7,523.6 166.8,520.6 166.9,517 167.1,512.6 167.2,507.2 167.3,500.8 167.4,493.2 167.5,484.6 167.7,475.4 167.8,466.5 167.9,459.5 168,456 168.2,457 168.3,462.1 168.4,470 168.5,479.2 168.6,488.2 168.8,496.5 168.9,503.6 169,509.6 169.1,514.5 169.3,518.6 169.4,521.9 169.5,524.7 169.6,527 169.8,528.8 169.9,530.4 170,531.7 170.1,532.8 170.2,533.7 170.4,534.5 170.5,535.2 170.6,535.7 170.7,536.2 170.9,536.5 171,536.8 171.1,537.1 171.2,537.3 171.3,537.5 171.5,537.6 171.6,537.7 171.7,537.7 171.8,537.7 172,537.7 172.1,537.6 172.2,537.5 172.3,537.3 172.4,537.1 172.6,536.9 172.7,536.6 172.8,536.2 172.9,535.8 173.1,535.2 173.2,534.6 173.3,533.8 173.4,532.9 173.6,531.8 173.7,530.6 173.8,529 173.9,527.2 174,525 174.2,522.3 174.3,519 174.4,515.1 174.5,510.2 174.7,504.4 174.8,497.4 174.9,489.3 175,480.2 175.1,470.8 175.3,462.2 175.4,456.2 175.5,454.2 175.6,456.8 175.8,463.2 175.9,471.9 176,481.3 176.1,490.3 176.3,498.3 176.4,505.2 176.5,510.9 176.6,515.6 176.7,519.4 176.9,522.6 177,525.2 177.1,527.4 177.2,529.2 177.4,530.7 177.5,531.9 177.6,533 177.7,533.8 177.8,534.6 178,535.2 178.1,535.7 178.2,536.1 178.3,536.4 178.5,536.7 178.6,536.9 178.7,537 178.8,537.1 179,537.2 179.1,537.1 179.2,537.1 179.3,537 179.4,536.8 179.6,536.6 179.7,536.3 179.8,535.9 179.9,535.5 180.1,534.9 180.2,534.3 180.3,533.5 180.4,532.5 180.5,531.4 180.7,530.1 180.8,528.5 180.9,526.5 181,524.2 181.2,521.3 181.3,517.9 181.4,513.7 181.5,508.6 181.7,502.4 181.8,495.1 181.9,486.5 182,477.1 182.1,467.5 182.3,459.1 182.4,453.5 182.5,452.3 182.6,455.7 182.8,462.8 182.9,472 183,481.6 183.1,490.7 183.2,498.7 183.4,505.4 183.5,511.1 183.6,515.8 183.7,519.6 183.9,522.7 184,525.3 184.1,527.5 184.2,529.3 184.4,530.7 184.5,532 184.6,533 184.7,533.9 184.8,534.6 185,535.2 185.1,535.7 185.2,536.1 185.3,536.5 185.5,536.7 185.6,537 185.7,537.1 185.8,537.2 185.9,537.3 186.1,537.3 186.2,537.3 186.3,537.2 186.4,537 186.6,536.8 186.7,536.6 186.8,536.3 186.9,535.9 187.1,535.4 187.2,534.9 187.3,534.2 187.4,533.4 187.5,532.4 187.7,531.3 187.8,529.9 187.9,528.2 188,526.3 188.2,523.9 188.3,521 188.4,517.4 188.5,513.1 188.6,507.9 188.8,501.6 188.9,494.1 189,485.4 189.1,475.8 189.3,466.1 189.4,457.7 189.5,452.2 189.6,451.1 189.8,454.8 189.9,462.1 190,471.5 190.1,481.2 190.2,490.4 190.4,498.4 190.5,505.3 190.6,510.9 190.7,515.6 190.9,519.5 191,522.6 191.1,525.2 191.2,527.4 191.3,529.2 191.5,530.7 191.6,531.9 191.7,533 191.8,533.8 192,534.6 192.1,535.2 192.2,535.7 192.3,536.1 192.4,536.4 192.6,536.7 192.7,536.9 192.8,537 192.9,537.1 193.1,537.2 193.2,537.1 193.3,537.1 193.4,537 193.6,536.8 193.7,536.6 193.8,536.3 193.9,535.9 194,535.5 194.2,534.9 194.3,534.3 194.4,533.5 194.5,532.6 194.7,531.4 194.8,530.1 194.9,528.5 195,526.5 195.1,524.2 195.3,521.4 195.4,517.9 195.5,513.7 195.6,508.6 195.8,502.4 195.9,495.1 196,486.7 196.1,477.5 196.3,468.3 196.4,460.6 196.5,456 196.6,455.7 196.7,459.8 196.9,467.2 197,476.3 197.1,485.5 197.2,494.1 197.4,501.5 197.5,507.8 197.6,513.1 197.7,517.4 197.8,521 198,523.9 198.1,526.3 198.2,528.3 198.3,529.9 198.5,531.3 198.6,532.5 198.7,533.5 198.8,534.3 199,535 199.1,535.5 199.2,536 199.3,536.4 199.4,536.8 199.6,537 199.7,537.3 199.8,537.4 199.9,537.6 200.1,537.6 200.2,537.7 200.3,537.7 200.4,537.7 200.5,537.6 200.7,537.5 200.8,537.4 200.9,537.2 201,537 201.2,536.7 201.3,536.3 201.4,535.9 201.5,535.4 201.7,534.8 201.8,534.1 201.9,533.2 202,532.2 202.1,531 202.3,529.6 202.4,527.8 202.5,525.8 202.6,523.2 202.8,520.2 202.9,516.4 203,511.9 203.1,506.4 203.2,499.8 203.4,492.1 203.5,483.3 203.6,474.2 203.7,465.6 203.9,459.1 204,456.4 204.1,458.1 204.2,463.7 204.4,472 204.5,481.1 204.6,490 204.7,498 204.8,504.9 205,510.6 205.1,515.4 205.2,519.3 205.3,522.5 205.5,525.2 205.6,527.4 205.7,529.2 205.8,530.7 205.9,531.9 206.1,533 206.2,533.9 206.3,534.6 206.4,535.2 206.6,535.8 206.7,536.2 206.8,536.6 206.9,536.9 207.1,537.1 207.2,537.3 207.3,537.4 207.4,537.5 207.5,537.6 207.7,537.6 207.8,537.5 207.9,537.5 208,537.4 208.2,537.2 208.3,537 208.4,536.7 208.5,536.4 208.6,536 208.8,535.6 208.9,535 209,534.3 209.1,533.5 209.3,532.6 209.4,531.5 209.5,530.1 209.6,528.5 209.8,526.6 209.9,524.2 210,521.4 210.1,517.9 210.2,513.7 210.4,508.6 210.5,502.5 210.6,495.1 210.7,486.6 210.9,477.1 211,467.5 211.1,458.9 211.2,453.1 211.3,451.6 211.5,454.9 211.6,461.9 211.7,471.1 211.8,480.8 212,489.9 212.1,498 212.2,504.9 212.3,510.7 212.4,515.4 212.6,519.3 212.7,522.5 212.8,525.1 212.9,527.3 213.1,529.1 213.2,530.6 213.3,531.9 213.4,533 213.6,533.8 213.7,534.6 213.8,535.2 213.9,535.7 214,536.2 214.2,536.5 214.3,536.8 214.4,537 214.5,537.2 214.7,537.3 214.8,537.4 214.9,537.5 215,537.5 215.1,537.4 215.3,537.3 215.4,537.2 215.5,537 215.6,536.8 215.8,536.5 215.9,536.1 216,535.7 216.1,535.1 216.3,534.5 216.4,533.7 216.5,532.8 216.6,531.7 216.7,530.4 216.9,528.9 217,527 217.1,524.8 217.2,522.1 217.4,518.8 217.5,514.7 217.6,509.8 217.7,503.9 217.8,496.9 218,488.6 218.1,479.5 218.2,470.1 218.3,461.6 218.5,455.8 218.6,454.1 218.7,456.9 218.8,463.6 219,472.4 219.1,481.8 219.2,490.8 219.3,498.7 219.4,505.5 219.6,511.2 219.7,515.8 219.8,519.6 219.9,522.8 220.1,525.4 220.2,527.5 220.3,529.3 220.4,530.8 220.5,532 220.7,533 220.8,533.9 220.9,534.6 221,535.2 221.2,535.7 221.3,536.2 221.4,536.5 221.5,536.8 221.7,537 221.8,537.2 221.9,537.3 222,537.3 222.1,537.3 222.3,537.3 222.4,537.2 222.5,537.1 222.6,537 222.8,536.7 222.9,536.4 223,536.1 223.1,535.6 223.2,535.1 223.4,534.5 223.5,533.7 223.6,532.8 223.7,531.7 223.9,530.4 224,528.9 224.1,527 224.2,524.7 224.4,521.9 224.5,518.5 224.6,514.4 224.7,509.5 224.8,503.5 225,496.5 225.1,488.5 225.2,480.1 225.3,472.1 225.5,466 225.6,463.1 225.7,464.4 225.8,469.3 225.9,476.8 226.1,485.2 226.2,493.4 226.3,500.8 226.4,507.2 226.6,512.6 226.7,517 226.8,520.7 226.9,523.7 227.1,526.1 227.2,528.2 227.3,529.9 227.4,531.3 227.5,532.4 227.7,533.4 227.8,534.2 227.9,534.9 228,535.5 228.2,536 228.3,536.4 228.4,536.7 228.5,537 228.6,537.2 228.8,537.3 228.9,537.5 229,537.5 229.1,537.6 229.3,537.6 229.4,537.5 229.5,537.4 229.6,537.3 229.8,537.1 229.9,536.9 230,536.6 230.1,536.3 230.2,535.9 230.4,535.4 230.5,534.8 230.6,534 230.7,533.2 230.9,532.2 231,530.9 231.1,529.5 231.2,527.7 231.3,525.6 231.5,523 231.6,519.9 231.7,516.1 231.8,511.5 232,506 232.1,499.3 232.2,491.5 232.3,482.9 232.4,473.9 232.6,465.7 232.7,459.9 232.8,457.9 232.9,460.3 233.1,466.5 233.2,474.8 233.3,483.8 233.4,492.4 233.6,500.1 233.7,506.6 233.8,512.1 233.9,516.6 234,520.3 234.2,523.3 234.3,525.8 234.4,527.9 234.5,529.6 234.7,531.1 234.8,532.3 234.9,533.3 235,534.1 235.1,534.8 235.3,535.4 235.4,535.9 235.5,536.3 235.6,536.6 235.8,536.9 235.9,537.1 236,537.3 236.1,537.4 236.3,537.5 236.4,537.5 236.5,537.5 236.6,537.5 236.7,537.4 236.9,537.2 237,537 237.1,536.8 237.2,536.5 237.4,536.1 237.5,535.7 237.6,535.1 237.7,534.5 237.8,533.7 238,532.8 238.1,531.8 238.2,530.5 238.3,528.9 238.5,527.1 238.6,524.9 238.7,522.2 238.8,518.9 239,514.9 239.1,510.1 239.2,504.3 239.3,497.2 239.4,489 239.6,479.6 239.7,469.5 239.8,460 239.9,452.4 240.1,448.8 240.2,449.9 240.3,455.6 240.4,464.3 240.5,474.3 240.7,484.1 240.8,493 240.9,500.7 241,507.2 241.2,512.5 241.3,516.9 241.4,520.5 241.5,523.5 241.7,526 241.8,528 241.9,529.7 242,531.1 242.1,532.3 242.3,533.3 242.4,534.1 242.5,534.9 242.6,535.4 242.8,535.9 242.9,536.4 243,536.7 243.1,537 243.2,537.2 243.4,537.4 243.5,537.6 243.6,537.7 243.7,537.7 243.9,537.7 244,537.7 244.1,537.7 244.2,537.6 244.4,537.5 244.5,537.3 244.6,537.1 244.7,536.8 244.8,536.5 245,536.1 245.1,535.6 245.2,535.1 245.3,534.4 245.5,533.6 245.6,532.7 245.7,531.5 245.8,530.2 245.9,528.6 246.1,526.6 246.2,524.3 246.3,521.5 246.4,518 246.6,513.8 246.7,508.7 246.8,502.6 246.9,495.3 247.1,486.9 247.2,477.8 247.3,468.9 247.4,461.4 247.5,457 247.7,456.9 247.8,461.1 247.9,468.6 248,477.5 248.2,486.6 248.3,495 248.4,502.3 248.5,508.5 248.6,513.6 248.8,517.9 248.9,521.3 249,524.2 249.1,526.6 249.3,528.5 249.4,530.1 249.5,531.5 249.6,532.6 249.8,533.5 249.9,534.3 250,535 250.1,535.6 250.2,536 250.4,536.4 250.5,536.7 250.6,537" fill="none" stroke="#111111" stroke-width="2.0" stroke-linejoin="round" clip-path="url(#ce)"/>
<path d="M48.4,446.3 48.5,450.6 48.6,458.7 48.8,468.9 48.9,479.3 49,488.9 49.1,497.2 49.3,504.1 49.4,509.9 49.5,514.6 49.6,518.4 49.7,521.6 49.9,524.1 50,526.3 50.1,528 50.2,529.5 50.4,530.7 50.5,531.7 50.6,532.5 50.7,533.2 50.9,533.8 51,534.3 51.1,534.7 51.2,535 51.3,535.2 51.5,535.3 51.6,535.4 51.7,535.5 51.8,535.5 52,535.4 52.1,535.3 52.2,535.1 52.3,534.8 52.4,534.4 52.6,534 52.7,533.5 52.8,532.8 52.9,532.1 53.1,531.1 53.2,530 53.3,528.7 53.4,527 53.6,525.1 53.7,522.7 53.8,519.8 53.9,516.2 54,511.8 54.2,506.5 54.3,500 54.4,492.3 54.5,483.2 54.7,473.3 54.8,463.3 54.9,454.8 55,449.8 55.1,449.7 55.3,454.4 55.4,462.7 55.5,472.7 55.6,482.6 55.8,491.7 55.9,499.6 56,506.1 56.1,511.5 56.3,516 56.4,519.6 56.5,522.5 56.6,525 56.7,527 56.9,528.6 57,530 57.1,531.1 57.2,532.1 57.4,532.9 57.5,533.6 57.6,534.1 57.7,534.6 57.8,535 58,535.3 58.1,535.6 58.2,535.8 58.3,535.9 58.5,536 58.6,536.1 58.7,536.1 58.8,536 59,535.9 59.1,535.8 59.2,535.6 59.3,535.4 59.4,535.1 59.6,534.7 59.7,534.3 59.8,533.8 59.9,533.1 60.1,532.4 60.2,531.5 60.3,530.4 60.4,529.1 60.5,527.5 60.7,525.6 60.8,523.3 60.9,520.5 61,517.1 61.2,512.9 61.3,507.8 61.4,501.6 61.5,494.1 61.7,485.4 61.8,475.8 61.9,466 62,457.5 62.1,452.2 62.3,451.6 62.4,455.9 62.5,463.7 62.6,473.4 62.8,483.2 62.9,492.1 63,499.9 63.1,506.4 63.2,511.7 63.4,516.1 63.5,519.7 63.6,522.6 63.7,525 63.9,527 64,528.7 64.1,530 64.2,531.1 64.4,532.1 64.5,532.9 64.6,533.5 64.7,534 64.8,534.5 65,534.8 65.1,535.1 65.2,535.3 65.3,535.4 65.5,535.5 65.6,535.6 65.7,535.5 65.8,535.4 65.9,535.3 66.1,535.1 66.2,534.8 66.3,534.5 66.4,534 66.6,533.5 66.7,532.8 66.8,532 66.9,531.1 67.1,530 67.2,528.6 67.3,526.9 67.4,524.9 67.5,522.5 67.7,519.6 67.8,515.9 67.9,511.5 68,506.1 68.2,499.5 68.3,491.7 68.4,482.8 68.5,473.2 68.6,463.9 68.8,456.7 68.9,453.4 69,454.8 69.1,460.7 69.3,469.3 69.4,478.9 69.5,488.2 69.6,496.5 69.7,503.6 69.9,509.4 70,514.3 70.1,518.2 70.2,521.4 70.4,524 70.5,526.2 70.6,528 70.7,529.5 70.9,530.7 71,531.7 71.1,532.6 71.2,533.3 71.3,533.9 71.5,534.4 71.6,534.8 71.7,535.1 71.8,535.4 72,535.6 72.1,535.7 72.2,535.8 72.3,535.8 72.4,535.8 72.6,535.7 72.7,535.6 72.8,535.4 72.9,535.2 73.1,534.9 73.2,534.5 73.3,534.1 73.4,533.5 73.6,532.9 73.7,532.1 73.8,531.1 73.9,529.9 74,528.6 74.2,526.9 74.3,524.9 74.4,522.5 74.5,519.5 74.7,515.8 74.8,511.4 74.9,505.9 75,499.4 75.1,491.5 75.3,482.4 75.4,472.6 75.5,463.1 75.6,455.5 75.8,451.6 75.9,452.6 76,458.2 76.1,466.8 76.3,476.6 76.4,486.2 76.5,494.8 76.6,502.1 76.7,508.3 76.9,513.3 77,517.4 77.1,520.7 77.2,523.5 77.4,525.7 77.5,527.6 77.6,529.1 77.7,530.4 77.8,531.5 78,532.4 78.1,533.1 78.2,533.7 78.3,534.2 78.5,534.7 78.6,535 78.7,535.3 78.8,535.5 79,535.6 79.1,535.7 79.2,535.7 79.3,535.7 79.4,535.7 79.6,535.5 79.7,535.4 79.8,535.1 79.9,534.8 80.1,534.4 80.2,534 80.3,533.4 80.4,532.7 80.5,531.9 80.7,530.9 80.8,529.7 80.9,528.3 81,526.6 81.2,524.6 81.3,522.1 81.4,519 81.5,515.3 81.7,510.8 81.8,505.2 81.9,498.5 82,490.4 82.1,481 82.3,470.8 82.4,460.6 82.5,452.2 82.6,447.5 82.8,447.8 82.9,453.1 83,461.8 83.1,472.1 83.2,482.2 83.4,491.4 83.5,499.3 83.6,505.9 83.7,511.4 83.9,515.8 84,519.4 84.1,522.4 84.2,524.8 84.4,526.8 84.5,528.5 84.6,529.9 84.7,531 84.8,532 85,532.8 85.1,533.5 85.2,534 85.3,534.5 85.5,534.8 85.6,535.1 85.7,535.3 85.8,535.5 85.9,535.6 86.1,535.6 86.2,535.6 86.3,535.6 86.4,535.4 86.6,535.3 86.7,535 86.8,534.7 86.9,534.3 87.1,533.8 87.2,533.3 87.3,532.6 87.4,531.7 87.5,530.7 87.7,529.5 87.8,528 87.9,526.2 88,524.1 88.2,521.5 88.3,518.3 88.4,514.4 88.5,509.6 88.6,503.8 88.8,496.7 88.9,488.4 89,479.1 89.1,469.3 89.3,460.3 89.4,453.9 89.5,451.8 89.6,454.6 89.7,461.5 89.9,470.7 90,480.6 90.1,489.8 90.2,497.9 90.4,504.7 90.5,510.4 90.6,515 90.7,518.8 90.9,521.9 91,524.5 91.1,526.6 91.2,528.3 91.3,529.7 91.5,530.9 91.6,531.9 91.7,532.7 91.8,533.4 92,534 92.1,534.5 92.2,534.9 92.3,535.2 92.4,535.5 92.6,535.7 92.7,535.8 92.8,535.9 92.9,535.9 93.1,535.9 93.2,535.9 93.3,535.8 93.4,535.6 93.6,535.4 93.7,535.1 93.8,534.8 93.9,534.4 94,533.9 94.2,533.3 94.3,532.6 94.4,531.7 94.5,530.7 94.7,529.5 94.8,528 94.9,526.2 95,524.1 95.1,521.5 95.3,518.3 95.4,514.4 95.5,509.7 95.6,503.9 95.8,496.9 95.9,488.5 96,478.8 96.1,468.3 96.3,457.9 96.4,449.5 96.5,445 96.6,445.7 96.7,451.4 96.9,460.6 97,471.1 97.1,481.5 97.2,490.9 97.4,498.9 97.5,505.6 97.6,511 97.7,515.5 97.8,519.2 98,522.2 98.1,524.7 98.2,526.7 98.3,528.4 98.5,529.8 98.6,531 98.7,531.9 98.8,532.7 99,533.4 99.1,534 99.2,534.4 99.3,534.8 99.4,535.1 99.6,535.4 99.7,535.5 99.8,535.6 99.9,535.7 100.1,535.7 100.2,535.7 100.3,535.6 100.4,535.4 100.5,535.2 100.7,534.9 100.8,534.6 100.9,534.1 101,533.6 101.2,533 101.3,532.2 101.4,531.3 101.5,530.2 101.7,528.8 101.8,527.2 101.9,525.3 102,523 102.1,520.1 102.3,516.7 102.4,512.5 102.5,507.3 102.6,501 102.8,493.4 102.9,484.4 103,474.3 103.1,463.7 103.2,454.1 103.4,447.4 103.5,445.4 103.6,448.6 103.7,456.2 103.9,466.2 104,476.7 104.1,486.6 104.2,495.3 104.4,502.6 104.5,508.6 104.6,513.5 104.7,517.6 104.8,520.9 105,523.6 105.1,525.8 105.2,527.7 105.3,529.2 105.5,530.5 105.6,531.5 105.7,532.4 105.8,533.2 105.9,533.8 106.1,534.3 106.2,534.7 106.3,535.1 106.4,535.4 106.6,535.6 106.7,535.7 106.8,535.9 106.9,535.9 107.1,535.9 107.2,535.9 107.3,535.8 107.4,535.7 107.5,535.5 107.7,535.3 107.8,535 107.9,534.6 108,534.1 108.2,533.6 108.3,532.9 108.4,532.1 108.5,531.2 108.6,530 108.8,528.7 108.9,527 109,525 109.1,522.6 109.3,519.7 109.4,516.1 109.5,511.7 109.6,506.3 109.7,499.7 109.9,491.9 110,482.9 110.1,473.1 110.2,463.3 110.4,455.3 110.5,450.9 110.6,451.4 110.7,456.6 110.9,465.1 111,474.9 111.1,484.7 111.2,493.5 111.3,501.1 111.5,507.4 111.6,512.5 111.7,516.8 111.8,520.2 112,523.1 112.1,525.4 112.2,527.3 112.3,528.9 112.4,530.2 112.6,531.4 112.7,532.3 112.8,533 112.9,533.7 113.1,534.2 113.2,534.7 113.3,535 113.4,535.3 113.6,535.5 113.7,535.7 113.8,535.8 113.9,535.9 114,535.9 114.2,535.9 114.3,535.8 114.4,535.7 114.5,535.5 114.7,535.3 114.8,535 114.9,534.6 115,534.2 115.1,533.6 115.3,533 115.4,532.2 115.5,531.2 115.6,530.1 115.8,528.8 115.9,527.1 116,525.2 116.1,522.8 116.3,519.9 116.4,516.3 116.5,511.9 116.6,506.6 116.7,500.2 116.9,492.4 117,483.5 117.1,473.9 117.2,464.4 117.4,456.7 117.5,452.6 117.6,453.3 117.7,458.6 117.8,467 118,476.7 118.1,486.2 118.2,494.8 118.3,502.2 118.5,508.3 118.6,513.3 118.7,517.4 118.8,520.8 119,523.5 119.1,525.8 119.2,527.6 119.3,529.2 119.4,530.5 119.6,531.5 119.7,532.4 119.8,533.2 119.9,533.8 120.1,534.3 120.2,534.8 120.3,535.1 120.4,535.4 120.5,535.6 120.7,535.8 120.8,535.9 120.9,536 121,536.1 121.2,536 121.3,536 121.4,535.9 121.5,535.7 121.7,535.5 121.8,535.3 121.9,534.9 122,534.5 122.1,534.1 122.3,533.5 122.4,532.8 122.5,532 122.6,531 122.8,529.8 122.9,528.4 123,526.7 123.1,524.7 123.2,522.2 123.4,519.2 123.5,515.5 123.6,511.1 123.7,505.6 123.9,498.9 124,490.9 124.1,481.5 124.2,471.1 124.4,460.5 124.5,451.2 124.6,445.3 124.7,444.4 124.8,448.8 125,457.2 125.1,467.6 125.2,478.2 125.3,488 125.5,496.4 125.6,503.5 125.7,509.4 125.8,514.2 125.9,518.1 126.1,521.3 126.2,523.9 126.3,526.1 126.4,527.9 126.6,529.3 126.7,530.6 126.8,531.6 126.9,532.5 127.1,533.2 127.2,533.8 127.3,534.2 127.4,534.6 127.5,534.9 127.7,535.2 127.8,535.4 127.9,535.5 128,535.5 128.2,535.5 128.3,535.5 128.4,535.3 128.5,535.2 128.6,534.9 128.8,534.6 128.9,534.2 129,533.7 129.1,533.1 129.3,532.4 129.4,531.5 129.5,530.4 129.6,529.2 129.8,527.6 129.9,525.8 130,523.6 130.1,520.8 130.2,517.5 130.4,513.4 130.5,508.4 130.6,502.3 130.7,495 130.9,486.5 131,477 131.1,467.5 131.2,459.2 131.3,454.1 131.5,453.5 131.6,457.7 131.7,465.4 131.8,474.9 132,484.4 132.1,493.2 132.2,500.8 132.3,507.1 132.4,512.4 132.6,516.6 132.7,520.1 132.8,523 132.9,525.3 133.1,527.3 133.2,528.9 133.3,530.2 133.4,531.3 133.6,532.2 133.7,533 133.8,533.6 133.9,534.1 134,534.6 134.2,534.9 134.3,535.2 134.4,535.4 134.5,535.5 134.7,535.6 134.8,535.7 134.9,535.6 135,535.6 135.1,535.4 135.3,535.2 135.4,535 135.5,534.7 135.6,534.2 135.8,533.7 135.9,533.1 136,532.4 136.1,531.5 136.3,530.5 136.4,529.2 136.5,527.7 136.6,525.9 136.7,523.7 136.9,521 137,517.8 137.1,513.8 137.2,508.9 137.4,503 137.5,495.8 137.6,487.2 137.7,477.4 137.8,466.9 138,456.8 138.1,449.1 138.2,445.5 138.3,447.3 138.5,453.7 138.6,463.2 138.7,473.7 138.8,483.9 139,492.9 139.1,500.6 139.2,507 139.3,512.2 139.4,516.5 139.6,520 139.7,522.9 139.8,525.2 139.9,527.2 140.1,528.8 140.2,530.1 140.3,531.2 140.4,532.2 140.5,533 140.7,533.6 140.8,534.1 140.9,534.6 141,535 141.2,535.3 141.3,535.5 141.4,535.7 141.5,535.8 141.7,535.9 141.8,535.9 141.9,535.8 142,535.8 142.1,535.6 142.3,535.5 142.4,535.2 142.5,534.9 142.6,534.5 142.8,534.1 142.9,533.5 143,532.8 143.1,532 143.2,531 143.4,529.9 143.5,528.5 143.6,526.8 143.7,524.7 143.9,522.3 144,519.2 144.1,515.5 144.2,511 144.4,505.5 144.5,498.8 144.6,490.9 144.7,481.8 144.8,472.1 145,462.8 145.1,455.7 145.2,452.5 145.3,454.2 145.5,460.2 145.6,469 145.7,478.8 145.8,488.1 145.9,496.4 146.1,503.5 146.2,509.4 146.3,514.2 146.4,518.2 146.6,521.4 146.7,524 146.8,526.2 146.9,528 147.1,529.5 147.2,530.7 147.3,531.8 147.4,532.6 147.5,533.3 147.7,533.9 147.8,534.4 147.9,534.9 148,535.2 148.2,535.5 148.3,535.7 148.4,535.9 148.5,536 148.6,536.1 148.8,536.1 148.9,536.1 149,536 149.1,535.9 149.3,535.8 149.4,535.6 149.5,535.3 149.6,535 149.8,534.6 149.9,534.1 150,533.5 150.1,532.9 150.2,532 150.4,531.1 150.5,529.9 150.6,528.5 150.7,526.8 150.9,524.8 151,522.3 151.1,519.3 151.2,515.7 151.3,511.2 151.5,505.7 151.6,499 151.7,491.1 151.8,481.9 152,472 152.1,462.3 152.2,454.4 152.3,450.3 152.4,451.2 152.6,456.7 152.7,465.4 152.8,475.3 152.9,485.1 153.1,493.9 153.2,501.4 153.3,507.6 153.4,512.7 153.6,516.9 153.7,520.3 153.8,523.2 153.9,525.5 154,527.3 154.2,528.9 154.3,530.2 154.4,531.3 154.5,532.2 154.7,532.9 154.8,533.5 154.9,534 155,534.4 155.1,534.8 155.3,535 155.4,535.2 155.5,535.3 155.6,535.3 155.8,535.3 155.9,535.2 156,535 156.1,534.8 156.3,534.5 156.4,534.1 156.5,533.7 156.6,533.1 156.7,532.4 156.9,531.5 157,530.5 157.1,529.3 157.2,527.8 157.4,526 157.5,523.8 157.6,521.1 157.7,517.9 157.8,514 158,509.1 158.1,503.2 158.2,496.1 158.3,487.6 158.5,477.8 158.6,467.3 158.7,457.3 158.8,449.4 159,445.7 159.1,447.3 159.2,453.6 159.3,463 159.4,473.5 159.6,483.7 159.7,492.7 159.8,500.4 159.9,506.8 160.1,512.1 160.2,516.4 160.3,519.9 160.4,522.8 160.5,525.2 160.7,527.1 160.8,528.7 160.9,530.1 161,531.2 161.2,532.2 161.3,532.9 161.4,533.6 161.5,534.1 161.7,534.6 161.8,535 161.9,535.3 162,535.5 162.1,535.7 162.3,535.8 162.4,535.9 162.5,535.9 162.6,535.9 162.8,535.8 162.9,535.7 163,535.5 163.1,535.3 163.2,535 163.4,534.6 163.5,534.1 163.6,533.6 163.7,532.9 163.9,532.1 164,531.2 164.1,530.1 164.2,528.7 164.4,527 164.5,525.1 164.6,522.7 164.7,519.7 164.8,516.2 165,511.8 165.1,506.4 165.2,499.9 165.3,492.2 165.5,483.2 165.6,473.3 165.7,463.6 165.8,455.6 165.9,451.2 166.1,451.6 166.2,456.8 166.3,465.2 166.4,475 166.6,484.8 166.7,493.6 166.8,501.1 166.9,507.4 167.1,512.6 167.2,516.8 167.3,520.3 167.4,523.1 167.5,525.4 167.7,527.4 167.8,528.9 167.9,530.3 168,531.4 168.2,532.3 168.3,533.1 168.4,533.7 168.5,534.3 168.6,534.7 168.8,535.1 168.9,535.4 169,535.6 169.1,535.8 169.3,535.9 169.4,536 169.5,536 169.6,536 169.8,536 169.9,535.9 170,535.7 170.1,535.5 170.2,535.3 170.4,535 170.5,534.6 170.6,534.1 170.7,533.5 170.9,532.8 171,532 171.1,531 171.2,529.9 171.3,528.5 171.5,526.8 171.6,524.7 171.7,522.3 171.8,519.2 172,515.5 172.1,511 172.2,505.5 172.3,498.8 172.4,490.9 172.6,481.7 172.7,471.7 172.8,462 172.9,454.1 173.1,450.1 173.2,451 173.3,456.6 173.4,465.3 173.6,475.3 173.7,485.1 173.8,493.8 173.9,501.4 174,507.6 174.2,512.7 174.3,516.9 174.4,520.4 174.5,523.2 174.7,525.5 174.8,527.4 174.9,528.9 175,530.3 175.1,531.3 175.3,532.2 175.4,533 175.5,533.6 175.6,534.1 175.8,534.6 175.9,534.9 176,535.2 176.1,535.4 176.3,535.5 176.4,535.6 176.5,535.6 176.6,535.6 176.7,535.5 176.9,535.4 177,535.2 177.1,534.9 177.2,534.5 177.4,534.1 177.5,533.6 177.6,532.9 177.7,532.2 177.8,531.3 178,530.1 178.1,528.8 178.2,527.2 178.3,525.3 178.5,522.9 178.6,520 178.7,516.5 178.8,512.2 179,507 179.1,500.6 179.2,493 179.3,484.1 179.4,474.4 179.6,464.8 179.7,456.9 179.8,452.4 179.9,452.8 180.1,457.8 180.2,466 180.3,475.7 180.4,485.3 180.5,494 180.7,501.5 180.8,507.7 180.9,512.8 181,517 181.2,520.4 181.3,523.2 181.4,525.5 181.5,527.4 181.7,529 181.8,530.3 181.9,531.4 182,532.3 182.1,533.1 182.3,533.7 182.4,534.2 182.5,534.6 182.6,535 182.8,535.3 182.9,535.5 183,535.6 183.1,535.7 183.2,535.8 183.4,535.8 183.5,535.7 183.6,535.6 183.7,535.4 183.9,535.2 184,534.9 184.1,534.5 184.2,534.1 184.4,533.6 184.5,532.9 184.6,532.1 184.7,531.2 184.8,530.1 185,528.7 185.1,527.1 185.2,525.1 185.3,522.7 185.5,519.9 185.6,516.3 185.7,512 185.8,506.7 185.9,500.3 186.1,492.6 186.2,483.5 186.3,473.4 186.4,462.9 186.6,453.6 186.7,447.5 186.8,446.1 186.9,450 187.1,457.9 187.2,468 187.3,478.5 187.4,488.1 187.5,496.6 187.7,503.6 187.8,509.5 187.9,514.2 188,518.1 188.2,521.3 188.3,524 188.4,526.1 188.5,527.9 188.6,529.4 188.8,530.6 188.9,531.6 189,532.5 189.1,533.2 189.3,533.8 189.4,534.2 189.5,534.6 189.6,534.9 189.8,535.2 189.9,535.3 190,535.4 190.1,535.5 190.2,535.5 190.4,535.4 190.5,535.3 190.6,535.1 190.7,534.8 190.9,534.5 191,534.1 191.1,533.6 191.2,532.9 191.3,532.2 191.5,531.3 191.6,530.2 191.7,528.9 191.8,527.3 192,525.3 192.1,523 192.2,520.2 192.3,516.7 192.4,512.4 192.6,507.2 192.7,500.9 192.8,493.3 192.9,484.5 193.1,474.9 193.2,465.3 193.3,457.3 193.4,452.8 193.6,453 193.7,457.9 193.8,466.1 193.9,475.7 194,485.3 194.2,494 194.3,501.5 194.4,507.7 194.5,512.8 194.7,517 194.8,520.4 194.9,523.2 195,525.5 195.1,527.4 195.3,529 195.4,530.3 195.5,531.3 195.6,532.2 195.8,533 195.9,533.6 196,534.1 196.1,534.5 196.3,534.8 196.4,535.1 196.5,535.2 196.6,535.4 196.7,535.4 196.9,535.4 197,535.3 197.1,535.2 197.2,535 197.4,534.7 197.5,534.4 197.6,534 197.7,533.4 197.8,532.8 198,532 198.1,531.1 198.2,529.9 198.3,528.6 198.5,526.9 198.6,525 198.7,522.5 198.8,519.6 199,516 199.1,511.6 199.2,506.2 199.3,499.6 199.4,491.8 199.6,482.8 199.7,473.1 199.8,463.5 199.9,455.8 200.1,451.8 200.2,452.6 200.3,458.1 200.4,466.6 200.5,476.4 200.7,486 200.8,494.6 200.9,502 201,508.1 201.2,513.2 201.3,517.3 201.4,520.7 201.5,523.4 201.7,525.7 201.8,527.6 201.9,529.1 202,530.4 202.1,531.5 202.3,532.4 202.4,533.2 202.5,533.8 202.6,534.3 202.8,534.7 202.9,535.1 203,535.4 203.1,535.6 203.2,535.7 203.4,535.9 203.5,535.9 203.6,535.9 203.7,535.9 203.9,535.8 204,535.7 204.1,535.5 204.2,535.3 204.4,535 204.5,534.6 204.6,534.2 204.7,533.6 204.8,533 205,532.2 205.1,531.2 205.2,530.1 205.3,528.7 205.5,527.1 205.6,525.2 205.7,522.8 205.8,519.9 205.9,516.4 206.1,512 206.2,506.8 206.3,500.3 206.4,492.6 206.6,483.6 206.7,473.6 206.8,463.4 206.9,454.5 207.1,448.9 207.2,448.1 207.3,452.4 207.4,460.5 207.5,470.5 207.7,480.6 207.8,490 207.9,498.1 208,504.9 208.2,510.5 208.3,515.1 208.4,518.9 208.5,521.9 208.6,524.4 208.8,526.5 208.9,528.2 209,529.6 209.1,530.8 209.3,531.8 209.4,532.6 209.5,533.2 209.6,533.8 209.8,534.2 209.9,534.6 210,534.9 210.1,535 210.2,535.2 210.4,535.2 210.5,535.2 210.6,535.2 210.7,535 210.9,534.8 211,534.5 211.1,534.2 211.2,533.7 211.3,533.1 211.5,532.5 211.6,531.6 211.7,530.6 211.8,529.4 212,528 212.1,526.2 212.2,524.1 212.3,521.5 212.4,518.3 212.6,514.5 212.7,509.8 212.8,504 212.9,497 213.1,488.7 213.2,479.1 213.3,468.6 213.4,458.3 213.6,449.9 213.7,445.4 213.8,446.1 213.9,451.8 214,460.9 214.2,471.4 214.3,481.8 214.4,491.1 214.5,499.1 214.7,505.7 214.8,511.2 214.9,515.6 215,519.3 215.1,522.3 215.3,524.7 215.4,526.8 215.5,528.4 215.6,529.8 215.8,531 215.9,532 216,532.8 216.1,533.5 216.3,534 216.4,534.5 216.5,534.9 216.6,535.2 216.7,535.4 216.9,535.6 217,535.8 217.1,535.8 217.2,535.9 217.4,535.8 217.5,535.8 217.6,535.7 217.7,535.5 217.8,535.3 218,535 218.1,534.6 218.2,534.1 218.3,533.6 218.5,532.9 218.6,532.2 218.7,531.2 218.8,530.1 219,528.7 219.1,527.1 219.2,525.1 219.3,522.7 219.4,519.8 219.6,516.3 219.7,511.9 219.8,506.6 219.9,500.1 220.1,492.4 220.2,483.5 220.3,473.7 220.4,464.1 220.5,456.2 220.7,451.8 220.8,452.3 220.9,457.5 221,465.9 221.2,475.7 221.3,485.3 221.4,494 221.5,501.5 221.7,507.7 221.8,512.9 221.9,517 222,520.5 222.1,523.3 222.3,525.6 222.4,527.5 222.5,529 222.6,530.3 222.8,531.4 222.9,532.4 223,533.1 223.1,533.8 223.2,534.3 223.4,534.7 223.5,535.1 223.6,535.4 223.7,535.6 223.9,535.8 224,535.9 224.1,536 224.2,536 224.4,536 224.5,535.9 224.6,535.8 224.7,535.7 224.8,535.5 225,535.2 225.1,534.9 225.2,534.5 225.3,534 225.5,533.4 225.6,532.7 225.7,531.8 225.8,530.8 225.9,529.6 226.1,528.2 226.2,526.4 226.3,524.3 226.4,521.8 226.6,518.7 226.7,514.9 226.8,510.2 226.9,504.5 227.1,497.6 227.2,489.4 227.3,479.9 227.4,469.7 227.5,459.7 227.7,451.8 227.8,447.8 227.9,448.9 228,454.7 228.2,463.7 228.3,474 228.4,484 228.5,493 228.6,500.6 228.8,507 228.9,512.2 229,516.5 229.1,520 229.3,522.9 229.4,525.2 229.5,527.1 229.6,528.7 229.8,530.1 229.9,531.2 230,532.1 230.1,532.8 230.2,533.5 230.4,534 230.5,534.4 230.6,534.7 230.7,535 230.9,535.1 231,535.3 231.1,535.3 231.2,535.3 231.3,535.2 231.5,535.1 231.6,534.9 231.7,534.6 231.8,534.2 232,533.7 232.1,533.2 232.2,532.5 232.3,531.7 232.4,530.6 232.6,529.4 232.7,528 232.8,526.2 232.9,524.1 233.1,521.5 233.2,518.3 233.3,514.5 233.4,509.7 233.6,503.9 233.7,496.9 233.8,488.6 233.9,479.1 234,469.1 234.2,459.5 234.3,452.4 234.4,449.4 234.5,451.5 234.7,458 234.8,467.2 234.9,477.3 235,486.9 235.1,495.5 235.3,502.7 235.4,508.7 235.5,513.7 235.6,517.7 235.8,521 235.9,523.7 236,525.9 236.1,527.8 236.3,529.3 236.4,530.6 236.5,531.6 236.6,532.5 236.7,533.3 236.9,533.9 237,534.4 237.1,534.9 237.2,535.3 237.4,535.6 237.5,535.8 237.6,536 237.7,536.2 237.8,536.3 238,536.3 238.1,536.4 238.2,536.4 238.3,536.3 238.5,536.3 238.6,536.2 238.7,536 238.8,535.8 239,535.6 239.1,535.3 239.2,534.9 239.3,534.4 239.4,533.9 239.6,533.3 239.7,532.5 239.8,531.6 239.9,530.6 240.1,529.3 240.2,527.8 240.3,525.9 240.4,523.7 240.5,521 240.7,517.7 240.8,513.6 240.9,508.7 241,502.6 241.2,495.4 241.3,486.8 241.4,477.2 241.5,467 241.7,457.8 241.8,451.3 241.9,449.2 242,452.3 242.1,459.4 242.3,469 242.4,479.1 242.5,488.6 242.6,496.9 242.8,503.9 242.9,509.7 243,514.5 243.1,518.3 243.2,521.5 243.4,524.1 243.5,526.3 243.6,528 243.7,529.5 243.9,530.7 244,531.8 244.1,532.6 244.2,533.3 244.4,533.9 244.5,534.4 244.6,534.8 244.7,535.2 244.8,535.4 245,535.6 245.1,535.8 245.2,535.9 245.3,535.9 245.5,535.9 245.6,535.9 245.7,535.8 245.8,535.7 245.9,535.5 246.1,535.2 246.2,534.9 246.3,534.5 246.4,534 246.6,533.4 246.7,532.8 246.8,531.9 246.9,530.9 247.1,529.8 247.2,528.4 247.3,526.7 247.4,524.6 247.5,522.1 247.7,519.1 247.8,515.4 247.9,510.9 248,505.4 248.2,498.6 248.3,490.6 248.4,481.2 248.5,470.8 248.6,460.2 248.8,451.2 248.9,445.6 249,445.1 249.1,449.8 249.3,458.4 249.4,468.8 249.5,479.3 249.6,488.9 249.8,497.2 249.9,504.2 250,509.9 250.1,514.6 250.2,518.4 250.4,521.6 250.5,524.1 250.6,526.2" fill="none" stroke="#3d8a3a" stroke-width="1.7" stroke-dasharray="1.4,2.0" stroke-linejoin="round" clip-path="url(#ce)"/>
<path d="M48.4,458.8 48.5,468.2 48.6,478.3 48.8,487.9 48.9,496.3 49,503.4 49.1,509.3 49.3,514.1 49.4,518.1 49.5,521.3 49.6,523.9 49.7,526.1 49.9,527.9 50,529.4 50.1,530.6 50.2,531.6 50.4,532.5 50.5,533.2 50.6,533.8 50.7,534.2 50.9,534.6 51,534.9 51.1,535.2 51.2,535.3 51.3,535.5 51.5,535.5 51.6,535.5 51.7,535.4 51.8,535.3 52,535.1 52.1,534.8 52.2,534.5 52.3,534.1 52.4,533.6 52.6,533 52.7,532.2 52.8,531.3 52.9,530.2 53.1,528.9 53.2,527.3 53.3,525.4 53.4,523.1 53.6,520.3 53.7,516.9 53.8,512.6 53.9,507.5 54,501.2 54.2,493.7 54.3,484.9 54.4,475.1 54.5,465.2 54.7,456.5 54.8,451.1 54.9,450.4 55,454.6 55.1,462.5 55.3,472.3 55.4,482.2 55.5,491.3 55.6,499.2 55.8,505.8 55.9,511.3 56,515.8 56.1,519.4 56.3,522.4 56.4,524.8 56.5,526.9 56.6,528.5 56.7,529.9 56.9,531.1 57,532.1 57.1,532.9 57.2,533.5 57.4,534.1 57.5,534.6 57.6,535 57.7,535.3 57.8,535.5 58,535.7 58.1,535.9 58.2,536 58.3,536 58.5,536 58.6,536 58.7,535.9 58.8,535.8 59,535.6 59.1,535.3 59.2,535 59.3,534.7 59.4,534.2 59.6,533.6 59.7,533 59.8,532.2 59.9,531.3 60.1,530.1 60.2,528.8 60.3,527.2 60.4,525.2 60.5,522.8 60.7,519.9 60.8,516.4 60.9,512.1 61,506.8 61.2,500.4 61.3,492.7 61.4,483.7 61.5,473.9 61.7,464 61.8,455.6 61.9,450.7 62,450.5 62.1,455.2 62.3,463.5 62.4,473.3 62.5,483.2 62.6,492.2 62.8,500 62.9,506.5 63,511.8 63.1,516.2 63.2,519.7 63.4,522.6 63.5,525 63.6,527 63.7,528.6 63.9,530 64,531.1 64.1,532.1 64.2,532.8 64.4,533.5 64.5,534 64.6,534.4 64.7,534.8 64.8,535 65,535.2 65.1,535.4 65.2,535.4 65.3,535.4 65.5,535.4 65.6,535.3 65.7,535.1 65.8,534.9 65.9,534.5 66.1,534.2 66.2,533.7 66.3,533.1 66.4,532.3 66.6,531.5 66.7,530.4 66.8,529.1 66.9,527.6 67.1,525.8 67.2,523.5 67.3,520.8 67.4,517.5 67.5,513.4 67.7,508.5 67.8,502.4 67.9,495.1 68,486.5 68.2,476.8 68.3,466.6 68.4,457.2 68.5,450.6 68.6,448.4 68.8,451.4 68.9,458.6 69,468.2 69.1,478.4 69.3,488 69.4,496.4 69.5,503.5 69.6,509.4 69.7,514.2 69.9,518.1 70,521.3 70.1,524 70.2,526.1 70.4,527.9 70.5,529.4 70.6,530.6 70.7,531.7 70.9,532.5 71,533.2 71.1,533.8 71.2,534.3 71.3,534.7 71.5,535.1 71.6,535.3 71.7,535.5 71.8,535.7 72,535.7 72.1,535.8 72.2,535.7 72.3,535.7 72.4,535.6 72.6,535.4 72.7,535.1 72.8,534.8 72.9,534.4 73.1,534 73.2,533.4 73.3,532.7 73.4,531.9 73.6,530.9 73.7,529.7 73.8,528.3 73.9,526.5 74,524.4 74.2,521.9 74.3,518.8 74.4,515 74.5,510.4 74.7,504.7 74.8,497.8 74.9,489.7 75,480.5 75.1,470.7 75.3,461.4 75.4,454.4 75.5,451.6 75.6,453.7 75.8,460.1 75.9,469.1 76,478.9 76.1,488.3 76.3,496.6 76.4,503.7 76.5,509.5 76.6,514.3 76.7,518.2 76.9,521.4 77,524.1 77.1,526.2 77.2,528 77.4,529.5 77.5,530.7 77.6,531.7 77.7,532.6 77.8,533.3 78,533.9 78.1,534.4 78.2,534.8 78.3,535.1 78.5,535.4 78.6,535.6 78.7,535.7 78.8,535.8 79,535.8 79.1,535.8 79.2,535.8 79.3,535.6 79.4,535.5 79.6,535.2 79.7,535 79.8,534.6 79.9,534.1 80.1,533.6 80.2,533 80.3,532.2 80.4,531.3 80.5,530.1 80.7,528.8 80.8,527.2 80.9,525.2 81,522.9 81.2,520 81.3,516.5 81.4,512.2 81.5,507 81.7,500.6 81.8,492.9 81.9,484 82,474 82.1,463.8 82.3,454.9 82.4,449.2 82.5,448.3 82.6,452.5 82.8,460.5 82.9,470.4 83,480.6 83.1,490 83.2,498.1 83.4,504.9 83.5,510.5 83.6,515.1 83.7,518.9 83.9,521.9 84,524.5 84.1,526.5 84.2,528.2 84.4,529.7 84.5,530.9 84.6,531.8 84.7,532.7 84.8,533.4 85,533.9 85.1,534.4 85.2,534.8 85.3,535.1 85.5,535.3 85.6,535.5 85.7,535.6 85.8,535.6 85.9,535.6 86.1,535.6 86.2,535.4 86.3,535.3 86.4,535 86.6,534.7 86.7,534.3 86.8,533.9 86.9,533.3 87.1,532.6 87.2,531.8 87.3,530.8 87.4,529.6 87.5,528.2 87.7,526.4 87.8,524.3 87.9,521.8 88,518.7 88.2,515 88.3,510.4 88.4,504.8 88.5,497.9 88.6,489.7 88.8,480.1 88.9,469.5 89,458.8 89.1,449.5 89.3,443.8 89.4,443.2 89.5,447.9 89.6,456.6 89.7,467.2 89.9,478 90,487.8 90.1,496.3 90.2,503.4 90.4,509.3 90.5,514.1 90.6,518 90.7,521.2 90.9,523.9 91,526 91.1,527.8 91.2,529.3 91.3,530.6 91.5,531.6 91.6,532.5 91.7,533.2 91.8,533.9 92,534.4 92.1,534.8 92.2,535.1 92.3,535.4 92.4,535.6 92.6,535.8 92.7,535.9 92.8,536 92.9,536 93.1,535.9 93.2,535.9 93.3,535.7 93.4,535.6 93.6,535.3 93.7,535 93.8,534.7 93.9,534.2 94,533.7 94.2,533 94.3,532.2 94.4,531.3 94.5,530.2 94.7,528.9 94.8,527.2 94.9,525.3 95,522.9 95.1,520.1 95.3,516.6 95.4,512.3 95.5,507 95.6,500.7 95.8,493 95.9,484.2 96,474.4 96.1,464.6 96.3,456.4 96.4,451.5 96.5,451.5 96.6,456.2 96.7,464.4 96.9,474.1 97,483.9 97.1,492.8 97.2,500.5 97.4,506.9 97.5,512.2 97.6,516.5 97.7,520 97.8,522.9 98,525.2 98.1,527.2 98.2,528.8 98.3,530.1 98.5,531.3 98.6,532.2 98.7,533 98.8,533.6 99,534.2 99.1,534.6 99.2,535 99.3,535.3 99.4,535.5 99.6,535.7 99.7,535.8 99.8,535.8 99.9,535.9 100.1,535.8 100.2,535.8 100.3,535.6 100.4,535.4 100.5,535.2 100.7,534.9 100.8,534.5 100.9,534 101,533.4 101.2,532.7 101.3,531.9 101.4,530.9 101.5,529.8 101.7,528.3 101.8,526.6 101.9,524.6 102,522.1 102.1,519 102.3,515.3 102.4,510.8 102.5,505.2 102.6,498.5 102.8,490.4 102.9,481.1 103,470.8 103.1,460.5 103.2,451.9 103.4,446.9 103.5,447 103.6,452.1 103.7,460.8 103.9,471.1 104,481.4 104.1,490.7 104.2,498.7 104.4,505.4 104.5,511 104.6,515.5 104.7,519.2 104.8,522.2 105,524.7 105.1,526.7 105.2,528.4 105.3,529.8 105.5,531 105.6,532 105.7,532.8 105.8,533.5 105.9,534 106.1,534.5 106.2,534.9 106.3,535.2 106.4,535.5 106.6,535.7 106.7,535.8 106.8,535.9 106.9,536 107.1,536 107.2,535.9 107.3,535.8 107.4,535.7 107.5,535.5 107.7,535.2 107.8,534.9 107.9,534.5 108,534 108.2,533.4 108.3,532.7 108.4,531.8 108.5,530.8 108.6,529.6 108.8,528.2 108.9,526.4 109,524.3 109.1,521.8 109.3,518.7 109.4,514.9 109.5,510.2 109.6,504.5 109.7,497.7 109.9,489.5 110,480 110.1,469.8 110.2,459.9 110.4,452 110.5,448.1 110.6,449.3 110.7,455.2 110.9,464.2 111,474.4 111.1,484.4 111.2,493.3 111.3,500.9 111.5,507.2 111.6,512.4 111.7,516.7 111.8,520.1 112,523 112.1,525.3 112.2,527.2 112.3,528.8 112.4,530.2 112.6,531.3 112.7,532.2 112.8,533 112.9,533.6 113.1,534.1 113.2,534.6 113.3,534.9 113.4,535.2 113.6,535.4 113.7,535.5 113.8,535.6 113.9,535.7 114,535.7 114.2,535.6 114.3,535.5 114.4,535.3 114.5,535 114.7,534.7 114.8,534.3 114.9,533.8 115,533.3 115.1,532.5 115.3,531.7 115.4,530.7 115.5,529.5 115.6,528 115.8,526.2 115.9,524.1 116,521.5 116.1,518.3 116.3,514.4 116.4,509.7 116.5,503.9 116.6,496.9 116.7,488.5 116.9,478.9 117,468.5 117.1,458.4 117.2,450.3 117.4,446.2 117.5,447.3 117.6,453.3 117.7,462.5 117.8,472.9 118,483.1 118.1,492.2 118.2,500 118.3,506.5 118.5,511.8 118.6,516.2 118.7,519.7 118.8,522.6 119,525 119.1,527 119.2,528.7 119.3,530 119.4,531.2 119.6,532.1 119.7,532.9 119.8,533.6 119.9,534.1 120.1,534.6 120.2,534.9 120.3,535.3 120.4,535.5 120.5,535.7 120.7,535.8 120.8,535.9 120.9,535.9 121,535.9 121.2,535.8 121.3,535.7 121.4,535.5 121.5,535.3 121.7,535 121.8,534.6 121.9,534.2 122,533.6 122.1,533 122.3,532.2 122.4,531.3 122.5,530.2 122.6,528.9 122.8,527.2 122.9,525.3 123,523 123.1,520.1 123.2,516.6 123.4,512.3 123.5,507.1 123.6,500.8 123.7,493.2 123.9,484.2 124,474.4 124.1,464.3 124.2,455.6 124.4,450.1 124.5,449.4 124.6,453.6 124.7,461.6 124.8,471.5 125,481.5 125.1,490.8 125.2,498.8 125.3,505.4 125.5,511 125.6,515.5 125.7,519.2 125.8,522.2 125.9,524.7 126.1,526.7 126.2,528.4 126.3,529.8 126.4,530.9 126.6,531.9 126.7,532.7 126.8,533.3 126.9,533.9 127.1,534.3 127.2,534.7 127.3,534.9 127.4,535.1 127.5,535.3 127.7,535.3 127.8,535.3 127.9,535.3 128,535.2 128.2,535 128.3,534.7 128.4,534.4 128.5,534 128.6,533.4 128.8,532.8 128.9,532 129,531.1 129.1,530 129.3,528.6 129.4,527 129.5,525.1 129.6,522.7 129.8,519.8 129.9,516.3 130,511.9 130.1,506.6 130.2,500.2 130.4,492.4 130.5,483.4 130.6,473.3 130.7,462.9 130.9,453.9 131,448 131.1,447 131.2,451.2 131.3,459.2 131.5,469.3 131.6,479.6 131.7,489.1 131.8,497.4 132,504.3 132.1,510 132.2,514.7 132.3,518.5 132.4,521.7 132.6,524.2 132.7,526.3 132.8,528.1 132.9,529.5 133.1,530.7 133.2,531.7 133.3,532.5 133.4,533.2 133.6,533.8 133.7,534.3 133.8,534.6 133.9,534.9 134,535.1 134.2,535.3 134.3,535.4 134.4,535.4 134.5,535.4 134.7,535.3 134.8,535.1 134.9,534.9 135,534.6 135.1,534.3 135.3,533.8 135.4,533.2 135.5,532.5 135.6,531.7 135.8,530.7 135.9,529.5 136,528.1 136.1,526.3 136.3,524.2 136.4,521.6 136.5,518.5 136.6,514.7 136.7,510 136.9,504.3 137,497.4 137.1,489.1 137.2,479.5 137.4,469.1 137.5,459 137.6,450.7 137.7,446.4 137.8,447.3 138,453 138.1,462.1 138.2,472.4 138.3,482.7 138.5,491.8 138.6,499.7 138.7,506.2 138.8,511.6 139,516 139.1,519.6 139.2,522.5 139.3,524.9 139.4,526.9 139.6,528.6 139.7,529.9 139.8,531.1 139.9,532 140.1,532.8 140.2,533.5 140.3,534 140.4,534.5 140.5,534.8 140.7,535.1 140.8,535.3 140.9,535.5 141,535.6 141.2,535.6 141.3,535.6 141.4,535.6 141.5,535.5 141.7,535.3 141.8,535 141.9,534.7 142,534.3 142.1,533.9 142.3,533.3 142.4,532.6 142.5,531.7 142.6,530.7 142.8,529.5 142.9,528.1 143,526.3 143.1,524.2 143.2,521.6 143.4,518.5 143.5,514.7 143.6,510 143.7,504.3 143.9,497.4 144,489.1 144.1,479.5 144.2,469 144.4,458.7 144.5,450.3 144.6,445.7 144.7,446.3 144.8,451.9 145,460.9 145.1,471.4 145.2,481.7 145.3,491 145.5,499 145.6,505.7 145.7,511.1 145.8,515.6 145.9,519.3 146.1,522.3 146.2,524.7 146.3,526.7 146.4,528.4 146.6,529.8 146.7,531 146.8,532 146.9,532.8 147.1,533.5 147.2,534 147.3,534.5 147.4,534.9 147.5,535.2 147.7,535.4 147.8,535.6 147.9,535.8 148,535.8 148.2,535.9 148.3,535.8 148.4,535.8 148.5,535.6 148.6,535.5 148.8,535.2 148.9,534.9 149,534.6 149.1,534.1 149.3,533.6 149.4,532.9 149.5,532.1 149.6,531.2 149.8,530 149.9,528.7 150,527 150.1,525.1 150.2,522.7 150.4,519.8 150.5,516.3 150.6,511.9 150.7,506.7 150.9,500.2 151,492.4 151.1,483.3 151.2,473 151.3,462.2 151.5,452.3 151.6,445.4 151.7,443.2 151.8,446.4 152,454.1 152.1,464.3 152.2,475.1 152.3,485.2 152.4,494.1 152.6,501.6 152.7,507.8 152.8,512.9 152.9,517 153.1,520.4 153.2,523.1 153.3,525.4 153.4,527.3 153.6,528.9 153.7,530.2 153.8,531.2 153.9,532.1 154,532.8 154.2,533.4 154.3,533.9 154.4,534.3 154.5,534.6 154.7,534.8 154.8,535 154.9,535.1 155,535.1 155.1,535 155.3,534.9 155.4,534.7 155.5,534.4 155.6,534 155.8,533.6 155.9,533 156,532.3 156.1,531.4 156.3,530.4 156.4,529.1 156.5,527.7 156.6,525.8 156.7,523.6 156.9,521 157,517.7 157.1,513.7 157.2,508.9 157.4,502.9 157.5,495.7 157.6,487.1 157.7,477.3 157.8,466.6 158,456.4 158.1,448.3 158.2,444.4 158.3,445.8 158.5,452.1 158.6,461.6 158.7,472.2 158.8,482.5 159,491.8 159.1,499.6 159.2,506.2 159.3,511.6 159.4,516 159.6,519.5 159.7,522.5 159.8,524.9 159.9,526.9 160.1,528.5 160.2,529.9 160.3,531.1 160.4,532 160.5,532.8 160.7,533.5 160.8,534 160.9,534.5 161,534.9 161.2,535.1 161.3,535.4 161.4,535.5 161.5,535.6 161.7,535.7 161.8,535.7 161.9,535.6 162,535.5 162.1,535.4 162.3,535.1 162.4,534.9 162.5,534.5 162.6,534 162.8,533.5 162.9,532.8 163,532 163.1,531.1 163.2,529.9 163.4,528.6 163.5,526.9 163.6,524.9 163.7,522.5 163.9,519.6 164,516.1 164.1,511.7 164.2,506.4 164.4,499.9 164.5,492 164.6,482.8 164.7,472.4 164.8,461.5 165,451.6 165.1,444.7 165.2,442.6 165.3,446 165.5,453.8 165.6,464.1 165.7,474.9 165.8,485.1 165.9,494 166.1,501.5 166.2,507.7 166.3,512.8 166.4,517 166.6,520.4 166.7,523.2 166.8,525.5 166.9,527.4 167.1,528.9 167.2,530.3 167.3,531.4 167.4,532.3 167.5,533 167.7,533.7 167.8,534.2 167.9,534.7 168,535 168.2,535.3 168.3,535.5 168.4,535.7 168.5,535.8 168.6,535.9 168.8,535.9 168.9,535.9 169,535.8 169.1,535.7 169.3,535.6 169.4,535.3 169.5,535 169.6,534.7 169.8,534.2 169.9,533.7 170,533.1 170.1,532.3 170.2,531.4 170.4,530.3 170.5,528.9 170.6,527.4 170.7,525.4 170.9,523.1 171,520.3 171.1,516.8 171.2,512.6 171.3,507.4 171.5,501.1 171.6,493.6 171.7,484.8 171.8,475 172,465.1 172.1,456.6 172.2,451.4 172.3,450.9 172.4,455.3 172.6,463.2 172.7,473 172.8,482.8 172.9,491.9 173.1,499.7 173.2,506.2 173.3,511.6 173.4,516 173.6,519.6 173.7,522.6 173.8,525 173.9,527 174,528.6 174.2,530 174.3,531.1 174.4,532.1 174.5,532.9 174.7,533.5 174.8,534.1 174.9,534.5 175,534.9 175.1,535.2 175.3,535.4 175.4,535.6 175.5,535.7 175.6,535.8 175.8,535.8 175.9,535.8 176,535.7 176.1,535.5 176.3,535.3 176.4,535.1 176.5,534.7 176.6,534.3 176.7,533.8 176.9,533.2 177,532.5 177.1,531.7 177.2,530.6 177.4,529.4 177.5,527.9 177.6,526.1 177.7,523.9 177.8,521.3 178,518.1 178.1,514.1 178.2,509.3 178.3,503.4 178.5,496.3 178.6,487.9 178.7,478.2 178.8,467.9 179,458.2 179.1,450.7 179.2,447.5 179.3,449.4 179.4,455.9 179.6,465.3 179.7,475.6 179.8,485.5 179.9,494.3 180.1,501.7 180.2,507.9 180.3,513 180.4,517.1 180.5,520.5 180.7,523.3 180.8,525.6 180.9,527.5 181,529 181.2,530.3 181.3,531.4 181.4,532.3 181.5,533.1 181.7,533.7 181.8,534.3 181.9,534.7 182,535.1 182.1,535.3 182.3,535.6 182.4,535.7 182.5,535.9 182.6,535.9 182.8,536 182.9,535.9 183,535.9 183.1,535.7 183.2,535.6 183.4,535.3 183.5,535 183.6,534.7 183.7,534.2 183.9,533.7 184,533.1 184.1,532.3 184.2,531.4 184.4,530.3 184.5,529 184.6,527.4 184.7,525.5 184.8,523.2 185,520.4 185.1,517 185.2,512.8 185.3,507.8 185.5,501.5 185.6,494 185.7,485.2 185.8,475.3 185.9,464.9 186.1,455.4 186.2,448.7 186.3,446.7 186.4,449.8 186.6,457.3 186.7,467.1 186.8,477.5 186.9,487.2 187.1,495.8 187.2,503 187.3,508.9 187.4,513.8 187.5,517.8 187.7,521.1 187.8,523.7 187.9,525.9 188,527.8 188.2,529.3 188.3,530.5 188.4,531.6 188.5,532.4 188.6,533.2 188.8,533.8 188.9,534.2 189,534.7 189.1,535 189.3,535.2 189.4,535.4 189.5,535.5 189.6,535.6 189.8,535.6 189.9,535.6 190,535.5 190.1,535.3 190.2,535.1 190.4,534.8 190.5,534.5 190.6,534 190.7,533.5 190.9,532.8 191,532.1 191.1,531.1 191.2,530 191.3,528.6 191.5,527 191.6,525 191.7,522.7 191.8,519.8 192,516.3 192.1,512 192.2,506.7 192.3,500.3 192.4,492.5 192.6,483.3 192.7,472.9 192.8,461.9 192.9,451.7 193.1,444.3 193.2,441.5 193.3,444.3 193.4,451.8 193.6,462 193.7,473 193.8,483.4 193.9,492.5 194,500.3 194.2,506.7 194.3,512 194.4,516.3 194.5,519.8 194.7,522.7 194.8,525 194.9,527 195,528.6 195.1,530 195.3,531.1 195.4,532 195.5,532.8 195.6,533.4 195.8,534 195.9,534.4 196,534.7 196.1,535 196.3,535.2 196.4,535.3 196.5,535.4 196.6,535.4 196.7,535.3 196.9,535.2 197,535 197.1,534.8 197.2,534.5 197.4,534.1 197.5,533.5 197.6,532.9 197.7,532.2 197.8,531.3 198,530.2 198.1,528.9 198.2,527.3 198.3,525.4 198.5,523 198.6,520.2 198.7,516.8 198.8,512.6 199,507.4 199.1,501.1 199.2,493.5 199.3,484.7 199.4,474.8 199.6,464.7 199.7,455.9 199.8,450.2 199.9,449.2 200.1,453.2 200.2,461.1 200.3,470.9 200.4,481 200.5,490.3 200.7,498.3 200.8,505.1 200.9,510.7 201,515.3 201.2,519 201.3,522.1 201.4,524.6 201.5,526.6 201.7,528.3 201.8,529.8 201.9,531 202,531.9 202.1,532.8 202.3,533.5 202.4,534 202.5,534.5 202.6,534.9 202.8,535.2 202.9,535.5 203,535.7 203.1,535.9 203.2,536 203.4,536 203.5,536 203.6,536 203.7,535.9 203.9,535.8 204,535.6 204.1,535.3 204.2,535 204.4,534.7 204.5,534.2 204.6,533.7 204.7,533 204.8,532.2 205,531.3 205.1,530.2 205.2,528.8 205.3,527.2 205.5,525.3 205.6,522.9 205.7,520 205.8,516.5 205.9,512.2 206.1,507 206.2,500.6 206.3,492.9 206.4,484 206.6,474.1 206.7,464.1 206.8,455.5 206.9,450.3 207.1,449.8 207.2,454.2 207.3,462.4 207.4,472.2 207.5,482.2 207.7,491.4 207.8,499.3 207.9,505.9 208,511.3 208.2,515.8 208.3,519.4 208.4,522.4 208.5,524.8 208.6,526.8 208.8,528.5 208.9,529.9 209,531 209.1,531.9 209.3,532.7 209.4,533.4 209.5,533.9 209.6,534.4 209.8,534.7 209.9,535 210,535.2 210.1,535.3 210.2,535.4 210.4,535.4 210.5,535.3 210.6,535.2 210.7,535 210.9,534.8 211,534.5 211.1,534 211.2,533.5 211.3,532.9 211.5,532.2 211.6,531.3 211.7,530.2 211.8,528.9 212,527.3 212.1,525.4 212.2,523.1 212.3,520.3 212.4,516.8 212.6,512.6 212.7,507.5 212.8,501.2 212.9,493.7 213.1,484.8 213.2,474.8 213.3,464.4 213.4,455 213.6,448.5 213.7,446.7 213.8,450.1 213.9,457.6 214,467.5 214.2,477.9 214.3,487.6 214.4,496.1 214.5,503.3 214.7,509.2 214.8,514 214.9,518 215,521.2 215.1,523.9 215.3,526 215.4,527.8 215.5,529.3 215.6,530.6 215.8,531.6 215.9,532.5 216,533.2 216.1,533.8 216.3,534.3 216.4,534.8 216.5,535.1 216.6,535.4 216.7,535.6 216.9,535.7 217,535.8 217.1,535.9 217.2,535.9 217.4,535.8 217.5,535.7 217.6,535.6 217.7,535.4 217.8,535.1 218,534.8 218.1,534.4 218.2,533.9 218.3,533.3 218.5,532.6 218.6,531.7 218.7,530.7 218.8,529.5 219,528 219.1,526.2 219.2,524.1 219.3,521.5 219.4,518.4 219.6,514.5 219.7,509.8 219.8,504 219.9,497 220.1,488.6 220.2,479 220.3,468.4 220.4,458 220.5,449.4 220.7,444.7 220.8,445.3 220.9,450.9 221,460 221.2,470.6 221.3,481 221.4,490.4 221.5,498.5 221.7,505.3 221.8,510.8 221.9,515.3 222,519 222.1,522.1 222.3,524.6 222.4,526.6 222.5,528.3 222.6,529.8 222.8,530.9 222.9,531.9 223,532.8 223.1,533.4 223.2,534 223.4,534.5 223.5,534.9 223.6,535.2 223.7,535.5 223.9,535.7 224,535.8 224.1,535.9 224.2,536 224.4,536 224.5,536 224.6,535.9 224.7,535.7 224.8,535.6 225,535.3 225.1,535 225.2,534.6 225.3,534.2 225.5,533.6 225.6,533 225.7,532.2 225.8,531.2 225.9,530.1 226.1,528.7 226.2,527.1 226.3,525.1 226.4,522.7 226.6,519.8 226.7,516.2 226.8,511.8 226.9,506.5 227.1,500 227.2,492.3 227.3,483.4 227.4,473.8 227.5,464.4 227.7,456.9 227.8,453.1 227.9,454.2 228,459.7 228.2,468.2 228.3,477.8 228.4,487.2 228.5,495.6 228.6,502.8 228.8,508.8 228.9,513.7 229,517.8 229.1,521.1 229.3,523.7 229.4,525.9 229.5,527.8 229.6,529.3 229.8,530.5 229.9,531.6 230,532.4 230.1,533.1 230.2,533.7 230.4,534.2 230.5,534.6 230.6,534.9 230.7,535.1 230.9,535.3 231,535.4 231.1,535.5 231.2,535.4 231.3,535.4 231.5,535.2 231.6,535 231.7,534.8 231.8,534.4 232,534 232.1,533.5 232.2,532.8 232.3,532 232.4,531.1 232.6,529.9 232.7,528.6 232.8,526.9 232.9,524.9 233.1,522.5 233.2,519.5 233.3,515.9 233.4,511.4 233.6,506 233.7,499.4 233.8,491.6 233.9,482.7 234,473.2 234.2,464.3 234.3,457.6 234.4,454.7 234.5,456.7 234.7,462.8 234.8,471.5 234.9,480.9 235,490 235.1,498 235.3,504.8 235.4,510.5 235.5,515.1 235.6,518.9 235.8,522 235.9,524.5 236,526.6 236.1,528.3 236.3,529.7 236.4,530.9 236.5,531.9 236.6,532.7 236.7,533.3 236.9,533.9 237,534.3 237.1,534.7 237.2,535 237.4,535.2 237.5,535.3 237.6,535.4 237.7,535.4 237.8,535.4 238,535.3 238.1,535.1 238.2,534.9 238.3,534.6 238.5,534.2 238.6,533.8 238.7,533.2 238.8,532.5 239,531.6 239.1,530.6 239.2,529.4 239.3,527.9 239.4,526.1 239.6,523.9 239.7,521.2 239.8,517.9 239.9,513.9 240.1,509 240.2,503 240.3,495.9 240.4,487.7 240.5,478.8 240.7,470.2 240.8,463.2 240.9,459.7 241,460.5 241.2,465.6 241.3,473.4 241.4,482.2 241.5,490.9 241.7,498.8 241.8,505.4 241.9,511 242,515.5 242.1,519.3 242.3,522.3 242.4,524.8 242.5,526.9 242.6,528.6 242.8,530 242.9,531.1 243,532.1 243.1,532.9 243.2,533.6 243.4,534.2 243.5,534.6 243.6,535 243.7,535.4 243.9,535.6 244,535.8 244.1,536 244.2,536.1 244.4,536.1 244.5,536.2 244.6,536.2 244.7,536.1 244.8,536 245,535.9 245.1,535.7 245.2,535.4 245.3,535.1 245.5,534.7 245.6,534.3 245.7,533.7 245.8,533.1 245.9,532.3 246.1,531.4 246.2,530.2 246.3,528.9 246.4,527.3 246.6,525.3 246.7,523 246.8,520.1 246.9,516.6 247.1,512.3 247.2,507.1 247.3,500.7 247.4,493.1 247.5,484.3 247.7,474.7 247.8,465.2 247.9,457.4 248,453.1 248.2,453.6 248.3,458.7 248.4,466.9 248.5,476.5 248.6,486 248.8,494.6 248.9,502 249,508.1 249.1,513.2 249.3,517.3 249.4,520.7 249.5,523.4 249.6,525.7 249.8,527.6 249.9,529.1 250,530.4 250.1,531.4 250.2,532.3 250.4,533 250.5,533.7 250.6,534.1" fill="none" stroke="#2424ae" stroke-width="1.8" stroke-dasharray="4.2,2.6" stroke-linejoin="round" clip-path="url(#ce)"/>
<path d="M48.4,525.5 48.5,523 48.6,519.7 48.8,515.6 48.9,510.4 49,503.8 49.1,495.5 49.3,485.5 49.4,474.4 49.5,463.7 49.6,456 49.7,454.3 49.9,459.1 50,468.7 50.1,479.9 50.2,490.6 50.4,499.7 50.5,507.2 50.6,513.1 50.7,517.7 50.9,521.4 51,524.3 51.1,526.6 51.2,528.5 51.3,530 51.5,531.2 51.6,532.3 51.7,533.1 51.8,533.8 52,534.4 52.1,534.9 52.2,535.3 52.3,535.7 52.4,535.9 52.6,536.2 52.7,536.4 52.8,536.5 52.9,536.7 53.1,536.8 53.2,536.9 53.3,536.9 53.4,537 53.6,537 53.7,537 53.8,536.9 53.9,536.9 54,536.8 54.2,536.7 54.3,536.6 54.4,536.4 54.5,536.2 54.7,536 54.8,535.7 54.9,535.4 55,535 55.1,534.5 55.3,534 55.4,533.3 55.5,532.5 55.6,531.6 55.8,530.4 55.9,529 56,527.3 56.1,525.1 56.3,522.5 56.4,519.1 56.5,514.9 56.6,509.6 56.7,502.8 56.9,494.3 57,484 57.1,472.2 57.2,460.3 57.4,451 57.5,447.6 57.6,451.4 57.7,460.8 57.8,472.8 58,484.5 58.1,494.8 58.2,503.2 58.3,509.9 58.5,515.2 58.6,519.3 58.7,522.6 58.8,525.2 59,527.4 59.1,529.1 59.2,530.5 59.3,531.6 59.4,532.5 59.6,533.3 59.7,534 59.8,534.5 59.9,535 60.1,535.3 60.2,535.6 60.3,535.9 60.4,536.1 60.5,536.3 60.7,536.4 60.8,536.5 60.9,536.5 61,536.6 61.2,536.6 61.3,536.5 61.4,536.4 61.5,536.3 61.7,536.2 61.8,536 61.9,535.8 62,535.5 62.1,535.2 62.3,534.8 62.4,534.3 62.5,533.7 62.6,533 62.8,532.1 62.9,531 63,529.8 63.1,528.2 63.2,526.3 63.4,523.9 63.5,520.9 63.6,517.1 63.7,512.3 63.9,506.2 64,498.5 64.1,489.1 64.2,478.2 64.4,466.9 64.5,457.6 64.6,453.2 64.7,455.5 64.8,463.7 65,474.7 65.1,485.9 65.2,495.8 65.3,504 65.5,510.6 65.6,515.7 65.7,519.8 65.8,523 65.9,525.6 66.1,527.7 66.2,529.3 66.3,530.7 66.4,531.8 66.6,532.7 66.7,533.5 66.8,534.1 66.9,534.6 67.1,535.1 67.2,535.4 67.3,535.7 67.4,536 67.5,536.2 67.7,536.3 67.8,536.5 67.9,536.5 68,536.6 68.2,536.6 68.3,536.6 68.4,536.6 68.5,536.5 68.6,536.4 68.8,536.3 68.9,536.2 69,535.9 69.1,535.7 69.3,535.4 69.4,535 69.5,534.6 69.6,534 69.7,533.4 69.9,532.6 70,531.7 70.1,530.5 70.2,529.1 70.4,527.4 70.5,525.3 70.6,522.6 70.7,519.3 70.9,515.1 71,509.7 71.1,502.9 71.2,494.5 71.3,484.3 71.5,473.1 71.6,462.5 71.7,455.2 71.8,454.1 72,459.5 72.1,469.4 72.2,480.7 72.3,491.3 72.4,500.3 72.6,507.6 72.7,513.4 72.8,518 72.9,521.6 73.1,524.5 73.2,526.8 73.3,528.6 73.4,530.1 73.6,531.3 73.7,532.3 73.8,533.2 73.9,533.8 74,534.4 74.2,534.9 74.3,535.3 74.4,535.7 74.5,535.9 74.7,536.2 74.8,536.4 74.9,536.5 75,536.6 75.1,536.7 75.3,536.8 75.4,536.9 75.5,536.9 75.6,536.9 75.8,536.8 75.9,536.8 76,536.7 76.1,536.6 76.3,536.5 76.4,536.3 76.5,536.1 76.6,535.9 76.7,535.6 76.9,535.2 77,534.8 77.1,534.3 77.2,533.7 77.4,533 77.5,532.1 77.6,531.1 77.7,529.8 77.8,528.3 78,526.4 78.1,524 78.2,521 78.3,517.3 78.5,512.5 78.6,506.5 78.7,498.9 78.8,489.6 79,478.7 79.1,467.2 79.2,457.4 79.3,452.3 79.4,454 79.6,461.8 79.7,472.8 79.8,484.2 79.9,494.4 80.1,502.9 80.2,509.6 80.3,515 80.4,519.2 80.5,522.6 80.7,525.2 80.8,527.4 80.9,529.1 81,530.5 81.2,531.6 81.3,532.6 81.4,533.4 81.5,534 81.7,534.6 81.8,535 81.9,535.4 82,535.7 82.1,536 82.3,536.2 82.4,536.4 82.5,536.5 82.6,536.6 82.8,536.7 82.9,536.8 83,536.8 83.1,536.8 83.2,536.8 83.4,536.7 83.5,536.7 83.6,536.5 83.7,536.4 83.9,536.2 84,536 84.1,535.8 84.2,535.5 84.4,535.1 84.5,534.7 84.6,534.1 84.7,533.5 84.8,532.8 85,531.9 85.1,530.8 85.2,529.4 85.3,527.8 85.5,525.8 85.6,523.3 85.7,520.1 85.8,516.1 85.9,511.1 86.1,504.7 86.2,496.7 86.3,486.9 86.4,475.4 86.6,463.6 86.7,453.8 86.8,449.2 86.9,451.6 87.1,460.1 87.2,471.6 87.3,483.4 87.4,493.8 87.5,502.4 87.7,509.3 87.8,514.7 87.9,519 88,522.3 88.2,525 88.3,527.2 88.4,528.9 88.5,530.4 88.6,531.5 88.8,532.5 88.9,533.3 89,534 89.1,534.5 89.3,535 89.4,535.4 89.5,535.7 89.6,536 89.7,536.2 89.9,536.4 90,536.6 90.1,536.7 90.2,536.8 90.4,536.8 90.5,536.9 90.6,536.9 90.7,536.9 90.9,536.9 91,536.8 91.1,536.8 91.2,536.7 91.3,536.6 91.5,536.4 91.6,536.2 91.7,536 91.8,535.7 92,535.4 92.1,535 92.2,534.5 92.3,534 92.4,533.3 92.6,532.5 92.7,531.6 92.8,530.4 92.9,529 93.1,527.3 93.2,525.2 93.3,522.5 93.4,519.2 93.6,515 93.7,509.7 93.8,503 93.9,494.6 94,484.2 94.2,472.3 94.3,460 94.4,450.1 94.5,445.8 94.7,448.8 94.8,457.9 94.9,470 95,482.1 95.1,492.8 95.3,501.6 95.4,508.6 95.5,514.1 95.6,518.5 95.8,522 95.9,524.7 96,526.9 96.1,528.7 96.3,530.2 96.4,531.4 96.5,532.4 96.6,533.2 96.7,533.9 96.9,534.4 97,534.9 97.1,535.3 97.2,535.7 97.4,535.9 97.5,536.2 97.6,536.4 97.7,536.5 97.8,536.7 98,536.7 98.1,536.8 98.2,536.9 98.3,536.9 98.5,536.9 98.6,536.9 98.7,536.8 98.8,536.7 99,536.6 99.1,536.5 99.2,536.3 99.3,536.1 99.4,535.9 99.6,535.6 99.7,535.3 99.8,534.9 99.9,534.4 100.1,533.8 100.2,533.1 100.3,532.2 100.4,531.2 100.5,530 100.7,528.4 100.8,526.6 100.9,524.3 101,521.4 101.2,517.8 101.3,513.2 101.4,507.4 101.5,500 101.7,490.9 101.8,480 101.9,468 102,456.9 102.1,449.6 102.3,449 102.4,455.3 102.5,466 102.6,478 102.8,489.2 102.9,498.7 103,506.3 103.1,512.3 103.2,517.1 103.4,520.9 103.5,523.8 103.6,526.2 103.7,528.2 103.9,529.7 104,531 104.1,532.1 104.2,532.9 104.4,533.7 104.5,534.3 104.6,534.8 104.7,535.2 104.8,535.5 105,535.8 105.1,536.1 105.2,536.3 105.3,536.4 105.5,536.5 105.6,536.6 105.7,536.7 105.8,536.7 105.9,536.7 106.1,536.7 106.2,536.7 106.3,536.6 106.4,536.5 106.6,536.4 106.7,536.2 106.8,536 106.9,535.7 107.1,535.4 107.2,535 107.3,534.6 107.4,534 107.5,533.4 107.7,532.6 107.8,531.6 107.9,530.5 108,529.1 108.2,527.4 108.3,525.3 108.4,522.6 108.5,519.3 108.6,515.1 108.8,509.7 108.9,503 109,494.5 109.1,484.3 109.3,472.9 109.4,461.8 109.5,453.8 109.6,451.9 109.7,456.7 109.9,466.5 110,478 110.1,489 110.2,498.4 110.4,506.1 110.5,512.2 110.6,517 110.7,520.8 110.9,523.8 111,526.2 111.1,528.2 111.2,529.8 111.3,531 111.5,532.1 111.6,533 111.7,533.7 111.8,534.3 112,534.8 112.1,535.2 112.2,535.6 112.3,535.9 112.4,536.1 112.6,536.3 112.7,536.5 112.8,536.6 112.9,536.7 113.1,536.8 113.2,536.8 113.3,536.9 113.4,536.9 113.6,536.8 113.7,536.8 113.8,536.7 113.9,536.6 114,536.5 114.2,536.3 114.3,536.1 114.4,535.9 114.5,535.6 114.7,535.3 114.8,534.9 114.9,534.4 115,533.8 115.1,533.1 115.3,532.2 115.4,531.2 115.5,530 115.6,528.5 115.8,526.6 115.9,524.3 116,521.5 116.1,517.9 116.3,513.3 116.4,507.5 116.5,500.2 116.6,491.1 116.7,480.2 116.9,468.1 117,456.6 117.1,448.8 117.2,447.6 117.4,453.5 117.5,464.1 117.6,476.2 117.7,487.7 117.8,497.4 118,505.3 118.1,511.5 118.2,516.5 118.3,520.4 118.5,523.4 118.6,525.9 118.7,527.9 118.8,529.5 119,530.8 119.1,531.9 119.2,532.8 119.3,533.5 119.4,534.2 119.6,534.7 119.7,535.1 119.8,535.5 119.9,535.8 120.1,536 120.2,536.2 120.3,536.4 120.4,536.5 120.5,536.6 120.7,536.7 120.8,536.8 120.9,536.8 121,536.8 121.2,536.7 121.3,536.7 121.4,536.6 121.5,536.4 121.7,536.3 121.8,536.1 121.9,535.9 122,535.6 122.1,535.2 122.3,534.8 122.4,534.3 122.5,533.7 122.6,533 122.8,532.2 122.9,531.2 123,529.9 123.1,528.4 123.2,526.6 123.4,524.3 123.5,521.4 123.6,517.8 123.7,513.3 123.9,507.6 124,500.3 124.1,491.2 124.2,480.1 124.4,467.7 124.5,455.4 124.6,446.3 124.7,443.6 124.8,448.4 125,458.8 125.1,471.4 125.2,483.5 125.3,494 125.5,502.6 125.6,509.4 125.7,514.7 125.8,519 125.9,522.3 126.1,525 126.2,527.1 126.3,528.9 126.4,530.3 126.6,531.5 126.7,532.4 126.8,533.2 126.9,533.9 127.1,534.4 127.2,534.9 127.3,535.3 127.4,535.6 127.5,535.8 127.7,536.1 127.8,536.2 127.9,536.3 128,536.4 128.2,536.5 128.3,536.5 128.4,536.5 128.5,536.4 128.6,536.3 128.8,536.2 128.9,536.1 129,535.9 129.1,535.6 129.3,535.3 129.4,534.9 129.5,534.5 129.6,533.9 129.8,533.3 129.9,532.5 130,531.5 130.1,530.4 130.2,529 130.4,527.3 130.5,525.1 130.6,522.5 130.7,519.2 130.9,515 131,509.7 131.1,502.9 131.2,494.4 131.3,484.1 131.5,472.3 131.6,460.3 131.7,450.8 131.8,447.1 132,450.6 132.1,460 132.2,471.9 132.3,483.8 132.4,494.2 132.6,502.7 132.7,509.5 132.8,514.9 132.9,519.1 133.1,522.4 133.2,525.1 133.3,527.2 133.4,529 133.6,530.4 133.7,531.5 133.8,532.5 133.9,533.3 134,534 134.2,534.5 134.3,535 134.4,535.4 134.5,535.7 134.7,535.9 134.8,536.2 134.9,536.3 135,536.5 135.1,536.6 135.3,536.7 135.4,536.7 135.5,536.8 135.6,536.8 135.8,536.7 135.9,536.7 136,536.6 136.1,536.5 136.3,536.3 136.4,536.1 136.5,535.9 136.6,535.6 136.7,535.3 136.9,534.9 137,534.4 137.1,533.9 137.2,533.2 137.4,532.4 137.5,531.4 137.6,530.2 137.7,528.7 137.8,526.9 138,524.7 138.1,521.9 138.2,518.4 138.3,513.9 138.5,508.3 138.6,501.1 138.7,492.2 138.8,481.6 139,470 139.1,459.1 139.2,452 139.3,451.3 139.4,457.4 139.6,467.8 139.7,479.5 139.8,490.4 139.9,499.6 140.1,507.1 140.2,513 140.3,517.6 140.4,521.3 140.5,524.2 140.7,526.5 140.8,528.4 140.9,529.9 141,531.2 141.2,532.2 141.3,533 141.4,533.7 141.5,534.3 141.7,534.8 141.8,535.2 141.9,535.6 142,535.8 142.1,536.1 142.3,536.3 142.4,536.4 142.5,536.5 142.6,536.6 142.8,536.6 142.9,536.7 143,536.7 143.1,536.6 143.2,536.6 143.4,536.5 143.5,536.3 143.6,536.2 143.7,536 143.9,535.7 144,535.4 144.1,535 144.2,534.6 144.4,534 144.5,533.4 144.6,532.6 144.7,531.7 144.8,530.6 145,529.2 145.1,527.5 145.2,525.4 145.3,522.9 145.5,519.6 145.6,515.6 145.7,510.4 145.8,503.8 145.9,495.6 146.1,485.5 146.2,473.8 146.3,461.6 146.4,451.6 146.6,446.9 146.7,449.5 146.8,458.2 146.9,470 147.1,482.1 147.2,492.7 147.3,501.5 147.4,508.6 147.5,514.1 147.7,518.5 147.8,522 147.9,524.7 148,526.9 148.2,528.7 148.3,530.2 148.4,531.4 148.5,532.4 148.6,533.2 148.8,533.8 148.9,534.4 149,534.9 149.1,535.3 149.3,535.6 149.4,535.9 149.5,536.1 149.6,536.3 149.8,536.4 149.9,536.5 150,536.6 150.1,536.6 150.2,536.7 150.4,536.6 150.5,536.6 150.6,536.5 150.7,536.4 150.9,536.3 151,536.1 151.1,535.9 151.2,535.6 151.3,535.3 151.5,534.9 151.6,534.4 151.7,533.9 151.8,533.2 152,532.4 152.1,531.4 152.2,530.2 152.3,528.7 152.4,526.9 152.6,524.7 152.7,521.9 152.8,518.4 152.9,514 153.1,508.3 153.2,501.2 153.3,492.3 153.4,481.7 153.6,469.9 153.7,458.7 153.8,451.2 153.9,449.9 154,455.6 154.2,466 154.3,477.8 154.4,489 154.5,498.4 154.7,506.1 154.8,512.2 154.9,517 155,520.8 155.1,523.8 155.3,526.2 155.4,528.1 155.5,529.7 155.6,531 155.8,532.1 155.9,532.9 156,533.7 156.1,534.3 156.3,534.8 156.4,535.2 156.5,535.5 156.6,535.8 156.7,536.1 156.9,536.3 157,536.5 157.1,536.6 157.2,536.7 157.4,536.8 157.5,536.8 157.6,536.8 157.7,536.8 157.8,536.8 158,536.7 158.1,536.6 158.2,536.5 158.3,536.4 158.5,536.2 158.6,536 158.7,535.7 158.8,535.4 159,535 159.1,534.6 159.2,534 159.3,533.4 159.4,532.6 159.6,531.6 159.7,530.5 159.8,529.1 159.9,527.4 160.1,525.3 160.2,522.7 160.3,519.4 160.4,515.2 160.5,510 160.7,503.3 160.8,494.9 160.9,484.7 161,473 161.2,461.2 161.3,451.8 161.4,448.2 161.5,451.7 161.7,461 161.8,472.8 161.9,484.5 162,494.8 162.1,503.2 162.3,509.9 162.4,515.2 162.5,519.3 162.6,522.6 162.8,525.3 162.9,527.4 163,529.1 163.1,530.5 163.2,531.6 163.4,532.6 163.5,533.4 163.6,534 163.7,534.6 163.9,535 164,535.4 164.1,535.7 164.2,536 164.4,536.2 164.5,536.4 164.6,536.6 164.7,536.7 164.8,536.8 165,536.9 165.1,536.9 165.2,536.9 165.3,536.9 165.5,536.9 165.6,536.8 165.7,536.8 165.8,536.7 165.9,536.6 166.1,536.4 166.2,536.2 166.3,536 166.4,535.7 166.6,535.4 166.7,535 166.8,534.5 166.9,534 167.1,533.3 167.2,532.5 167.3,531.5 167.4,530.3 167.5,528.9 167.7,527.2 167.8,525 167.9,522.4 168,519 168.2,514.8 168.3,509.4 168.4,502.6 168.5,494 168.6,483.6 168.8,471.6 168.9,459.4 169,449.8 169.1,445.9 169.3,449.4 169.4,458.8 169.5,470.9 169.6,482.9 169.8,493.5 169.9,502.1 170,509.1 170.1,514.5 170.2,518.8 170.4,522.2 170.5,524.9 170.6,527.1 170.7,528.8 170.9,530.3 171,531.4 171.1,532.4 171.2,533.2 171.3,533.9 171.5,534.5 171.6,534.9 171.7,535.3 171.8,535.6 172,535.9 172.1,536.1 172.2,536.3 172.3,536.5 172.4,536.6 172.6,536.7 172.7,536.7 172.8,536.7 172.9,536.7 173.1,536.7 173.2,536.7 173.3,536.6 173.4,536.4 173.6,536.3 173.7,536.1 173.8,535.9 173.9,535.6 174,535.3 174.2,534.9 174.3,534.4 174.4,533.8 174.5,533.1 174.7,532.2 174.8,531.2 174.9,530 175,528.5 175.1,526.6 175.3,524.3 175.4,521.4 175.5,517.7 175.6,513.1 175.8,507.2 175.9,499.8 176,490.6 176.1,479.9 176.3,468.5 176.4,458.5 176.5,453 176.6,454.2 176.7,461.6 176.9,472.4 177,483.7 177.1,494 177.2,502.5 177.4,509.4 177.5,514.8 177.6,519.1 177.7,522.5 177.8,525.1 178,527.3 178.1,529 178.2,530.4 178.3,531.6 178.5,532.6 178.6,533.3 178.7,534 178.8,534.6 179,535 179.1,535.4 179.2,535.7 179.3,536 179.4,536.2 179.6,536.4 179.7,536.5 179.8,536.6 179.9,536.7 180.1,536.8 180.2,536.8 180.3,536.8 180.4,536.8 180.5,536.7 180.7,536.7 180.8,536.6 180.9,536.4 181,536.3 181.2,536.1 181.3,535.8 181.4,535.5 181.5,535.2 181.7,534.7 181.8,534.2 181.9,533.6 182,532.9 182.1,532 182.3,530.9 182.4,529.6 182.5,528 182.6,526.1 182.8,523.6 182.9,520.5 183,516.6 183.1,511.7 183.2,505.5 183.4,497.6 183.5,488 183.6,477 183.7,465.6 183.9,456.4 184,452.5 184.1,455.4 184.2,463.9 184.4,475.1 184.5,486.3 184.6,496.2 184.7,504.3 184.8,510.8 185,515.9 185.1,520 185.2,523.1 185.3,525.7 185.5,527.7 185.6,529.4 185.7,530.7 185.8,531.8 185.9,532.8 186.1,533.5 186.2,534.2 186.3,534.7 186.4,535.1 186.6,535.5 186.7,535.8 186.8,536.1 186.9,536.3 187.1,536.5 187.2,536.6 187.3,536.7 187.4,536.8 187.5,536.9 187.7,536.9 187.8,536.9 187.9,536.9 188,536.9 188.2,536.9 188.3,536.8 188.4,536.7 188.5,536.6 188.6,536.5 188.8,536.3 188.9,536.1 189,535.8 189.1,535.5 189.3,535.1 189.4,534.6 189.5,534.1 189.6,533.5 189.8,532.7 189.9,531.8 190,530.7 190.1,529.3 190.2,527.6 190.4,525.6 190.5,523.1 190.6,519.9 190.7,515.9 190.9,510.8 191,504.3 191.1,496.2 191.2,486.2 191.3,474.6 191.5,462.4 191.6,452.1 191.7,446.9 191.8,448.9 192,457.3 192.1,469 192.2,481.1 192.3,492 192.4,500.9 192.6,508.1 192.7,513.7 192.8,518.2 192.9,521.7 193.1,524.5 193.2,526.8 193.3,528.6 193.4,530.1 193.6,531.3 193.7,532.3 193.8,533.1 193.9,533.8 194,534.4 194.2,534.9 194.3,535.3 194.4,535.6 194.5,535.9 194.7,536.1 194.8,536.3 194.9,536.5 195,536.6 195.1,536.7 195.3,536.7 195.4,536.7 195.5,536.7 195.6,536.7 195.8,536.7 195.9,536.6 196,536.5 196.1,536.3 196.3,536.2 196.4,535.9 196.5,535.7 196.6,535.4 196.7,535 196.9,534.5 197,533.9 197.1,533.3 197.2,532.5 197.4,531.5 197.5,530.4 197.6,528.9 197.7,527.2 197.8,525 198,522.3 198.1,518.9 198.2,514.7 198.3,509.2 198.5,502.4 198.6,493.8 198.7,483.4 198.8,471.6 199,460.1 199.1,451.5 199.2,449.1 199.3,453.7 199.4,463.5 199.6,475.4 199.7,486.8 199.8,496.7 199.9,504.7 200.1,511.1 200.2,516.1 200.3,520.1 200.4,523.2 200.5,525.7 200.7,527.8 200.8,529.4 200.9,530.7 201,531.8 201.2,532.8 201.3,533.5 201.4,534.1 201.5,534.7 201.7,535.1 201.8,535.5 201.9,535.8 202,536 202.1,536.2 202.3,536.4 202.4,536.6 202.5,536.7 202.6,536.7 202.8,536.8 202.9,536.8 203,536.8 203.1,536.8 203.2,536.7 203.4,536.7 203.5,536.6 203.6,536.4 203.7,536.3 203.9,536 204,535.8 204.1,535.5 204.2,535.1 204.4,534.7 204.5,534.2 204.6,533.5 204.7,532.8 204.8,531.9 205,530.8 205.1,529.4 205.2,527.8 205.3,525.8 205.5,523.3 205.6,520.1 205.7,516.1 205.8,511.1 205.9,504.7 206.1,496.6 206.2,486.8 206.3,475.4 206.4,463.8 206.6,454.4 206.7,450.4 206.8,453.3 206.9,462 207.1,473.5 207.2,485 207.3,495.1 207.4,503.5 207.5,510.1 207.7,515.4 207.8,519.5 207.9,522.8 208,525.4 208.2,527.5 208.3,529.2 208.4,530.6 208.5,531.7 208.6,532.6 208.8,533.4 208.9,534.1 209,534.6 209.1,535.1 209.3,535.4 209.4,535.7 209.5,536 209.6,536.2 209.8,536.4 209.9,536.5 210,536.7 210.1,536.7 210.2,536.8 210.4,536.8 210.5,536.8 210.6,536.8 210.7,536.8 210.9,536.7 211,536.6 211.1,536.5 211.2,536.3 211.3,536.1 211.5,535.9 211.6,535.6 211.7,535.3 211.8,534.9 212,534.4 212.1,533.8 212.2,533.1 212.3,532.3 212.4,531.2 212.6,530 212.7,528.5 212.8,526.7 212.9,524.4 213.1,521.5 213.2,517.9 213.3,513.3 213.4,507.5 213.6,500.2 213.7,491.1 213.8,480.3 213.9,468.6 214,457.8 214.2,451.1 214.3,451 214.4,457.6 214.5,468.3 214.7,480.1 214.8,490.9 214.9,500 215,507.4 215.1,513.2 215.3,517.8 215.4,521.4 215.5,524.3 215.6,526.6 215.8,528.5 215.9,530 216,531.2 216.1,532.2 216.3,533.1 216.4,533.8 216.5,534.3 216.6,534.8 216.7,535.2 216.9,535.6 217,535.9 217.1,536.1 217.2,536.3 217.4,536.4 217.5,536.5 217.6,536.6 217.7,536.6 217.8,536.7 218,536.7 218.1,536.6 218.2,536.6 218.3,536.5 218.5,536.3 218.6,536.2 218.7,536 218.8,535.7 219,535.4 219.1,535 219.2,534.6 219.3,534 219.4,533.4 219.6,532.6 219.7,531.6 219.8,530.5 219.9,529 220.1,527.3 220.2,525.1 220.3,522.4 220.4,519 220.5,514.7 220.7,509.2 220.8,502.2 220.9,493.6 221,483.5 221.2,472.6 221.3,463 221.4,457.4 221.5,458 221.7,464.7 221.8,474.8 221.9,485.6 222,495.5 222.1,503.7 222.3,510.4 222.4,515.6 222.5,519.7 222.6,523 222.8,525.6 222.9,527.7 223,529.3 223.1,530.7 223.2,531.8 223.4,532.8 223.5,533.5 223.6,534.1 223.7,534.7 223.9,535.1 224,535.5 224.1,535.8 224.2,536.1 224.4,536.3 224.5,536.4 224.6,536.6 224.7,536.7 224.8,536.8 225,536.8 225.1,536.8 225.2,536.9 225.3,536.8 225.5,536.8 225.6,536.7 225.7,536.6 225.8,536.5 225.9,536.4 226.1,536.2 226.2,535.9 226.3,535.7 226.4,535.3 226.6,534.9 226.7,534.4 226.8,533.9 226.9,533.2 227.1,532.3 227.2,531.3 227.3,530.1 227.4,528.6 227.5,526.8 227.7,524.5 227.8,521.7 227.9,518.1 228,513.6 228.2,507.8 228.3,500.6 228.4,491.6 228.5,481 228.6,469.7 228.8,459.7 228.9,453.9 229,454.7 229.1,461.7 229.3,472.3 229.4,483.6 229.5,493.9 229.6,502.4 229.8,509.3 229.9,514.8 230,519 230.1,522.4 230.2,525.1 230.4,527.3 230.5,529 230.6,530.4 230.7,531.6 230.9,532.6 231,533.4 231.1,534 231.2,534.6 231.3,535 231.5,535.4 231.6,535.7 231.7,536 231.8,536.2 232,536.4 232.1,536.6 232.2,536.7 232.3,536.8 232.4,536.8 232.6,536.9 232.7,536.9 232.8,536.9 232.9,536.8 233.1,536.8 233.2,536.7 233.3,536.6 233.4,536.5 233.6,536.3 233.7,536.1 233.8,535.8 233.9,535.5 234,535.2 234.2,534.7 234.3,534.2 234.4,533.6 234.5,532.9 234.7,532 234.8,530.9 234.9,529.5 235,527.9 235.1,525.9 235.3,523.4 235.4,520.2 235.5,516.2 235.6,511.1 235.8,504.7 235.9,496.6 236,487 236.1,476.2 236.3,466 236.4,458.9 236.5,457.5 236.6,462.5 236.7,471.8 236.9,482.7 237,492.9 237.1,501.6 237.2,508.7 237.4,514.3 237.5,518.7 237.6,522.2 237.7,524.9 237.8,527.1 238,528.9 238.1,530.4 238.2,531.5 238.3,532.5 238.5,533.3 238.6,534 238.7,534.5 238.8,535 239,535.4 239.1,535.7 239.2,536 239.3,536.2 239.4,536.4 239.6,536.6 239.7,536.7 239.8,536.8 239.9,536.9 240.1,536.9 240.2,536.9 240.3,536.9 240.4,536.9 240.5,536.9 240.7,536.8 240.8,536.7 240.9,536.6 241,536.5 241.2,536.3 241.3,536.1 241.4,535.8 241.5,535.5 241.7,535.1 241.8,534.7 241.9,534.1 242,533.5 242.1,532.7 242.3,531.8 242.4,530.7 242.5,529.3 242.6,527.7 242.8,525.6 242.9,523.1 243,519.9 243.1,515.8 243.2,510.7 243.4,504.2 243.5,496.1 243.6,486.1 243.7,474.7 243.9,463 244,453.8 244.1,450.1 244.2,453.4 244.4,462.3 244.5,473.9 244.6,485.4 244.7,495.4 244.8,503.7 245,510.3 245.1,515.5 245.2,519.6 245.3,522.9 245.5,525.5 245.6,527.5 245.7,529.2 245.8,530.6 245.9,531.7 246.1,532.6 246.2,533.4 246.3,534.1 246.4,534.6 246.6,535 246.7,535.4 246.8,535.7 246.9,536 247.1,536.2 247.2,536.3 247.3,536.5 247.4,536.6 247.5,536.6 247.7,536.7 247.8,536.7 247.9,536.6 248,536.6 248.2,536.5 248.3,536.4 248.4,536.2 248.5,536.1 248.6,535.8 248.8,535.5 248.9,535.2 249,534.8 249.1,534.3 249.3,533.7 249.4,533 249.5,532.1 249.6,531.1 249.8,529.8 249.9,528.3 250,526.4 250.1,524 250.2,521.1 250.4,517.3 250.5,512.6 250.6,506.7" fill="none" stroke="#cf2a36" stroke-width="1.7" stroke-dasharray="4.6,2.2,1.6,2.2" stroke-linejoin="round" clip-path="url(#ce)"/>
<line x1="237.3" y1="425.0" x2="237.3" y2="541.6" stroke="#000" stroke-width="1.6" stroke-dasharray="4,2.6"/>
<line x1="245.2" y1="425.0" x2="245.2" y2="541.6" stroke="#000" stroke-width="1.6" stroke-dasharray="4,2.6"/>
<line x1="68.3" y1="435.5" x2="88.3" y2="435.5" stroke="#111111" stroke-width="1.65"/>
<text x="90.6" y="440.4" font-family='"Liberation Serif", "DejaVu Serif", serif' font-size="13.6">P1</text>
<line x1="108.3" y1="435.5" x2="128.3" y2="435.5" stroke="#2424ae" stroke-width="1.6" stroke-dasharray="4.2,2.6"/>
<text x="131.7" y="440.4" font-family='"Liberation Serif", "DejaVu Serif", serif' font-size="13.6">P2</text>
<line x1="148.8" y1="435.5" x2="168.8" y2="435.5" stroke="#cf2a36" stroke-width="1.4" stroke-dasharray="4.6,2.2,1.6,2.2"/>
<text x="171.9" y="440.4" font-family='"Liberation Serif", "DejaVu Serif", serif' font-size="13.6">P3</text>
<line x1="189.7" y1="435.5" x2="209.7" y2="435.5" stroke="#3d8a3a" stroke-width="1.5" stroke-dasharray="1.4,2.0"/>
<text x="212.8" y="440.4" font-family='"Liberation Serif", "DejaVu Serif", serif' font-size="13.6">P4</text>
<rect x="48.4" y="425.0" width="201.6" height="116.60000000000002" fill="none" stroke="#555" stroke-width="1.45"/>
<line x1="43.4" y1="425.1" x2="48.4" y2="425.1" stroke="#555" stroke-width="1.3"/>
<text x="38.1" y="430.1" text-anchor="end" font-family='"Liberation Serif", "DejaVu Serif", serif' font-size="14">6</text>
<line x1="43.4" y1="464.0" x2="48.4" y2="464.0" stroke="#555" stroke-width="1.3"/>
<text x="38.1" y="469" text-anchor="end" font-family='"Liberation Serif", "DejaVu Serif", serif' font-size="14">4</text>
<line x1="43.4" y1="503.2" x2="48.4" y2="503.2" stroke="#555" stroke-width="1.3"/>
<text x="38.1" y="508.2" text-anchor="end" font-family='"Liberation Serif", "DejaVu Serif", serif' font-size="14">2</text>
<line x1="43.4" y1="541.6" x2="48.4" y2="541.6" stroke="#555" stroke-width="1.3"/>
<text x="38.1" y="546.6" text-anchor="end" font-family='"Liberation Serif", "DejaVu Serif", serif' font-size="14">0</text>
<line x1="48.4" y1="541.6" x2="48.4" y2="546.6" stroke="#555" stroke-width="1.3"/>
<text x="48.4" y="561.6" text-anchor="middle" font-family='"Liberation Serif", "DejaVu Serif", serif' font-size="14">600</text>
<line x1="97.5" y1="541.6" x2="97.5" y2="546.6" stroke="#555" stroke-width="1.3"/>
<text x="97.5" y="561.6" text-anchor="middle" font-family='"Liberation Serif", "DejaVu Serif", serif' font-size="14">620</text>
<line x1="146.6" y1="541.6" x2="146.6" y2="546.6" stroke="#555" stroke-width="1.3"/>
<text x="146.6" y="561.6" text-anchor="middle" font-family='"Liberation Serif", "DejaVu Serif", serif' font-size="14">640</text>
<line x1="195.6" y1="541.6" x2="195.6" y2="546.6" stroke="#555" stroke-width="1.3"/>
<text x="195.6" y="561.6" text-anchor="middle" font-family='"Liberation Serif", "DejaVu Serif", serif' font-size="14">660</text>
<line x1="244.7" y1="541.6" x2="244.7" y2="546.6" stroke="#555" stroke-width="1.3"/>
<text x="244.7" y="561.6" text-anchor="middle" font-family='"Liberation Serif", "DejaVu Serif", serif' font-size="14">680</text>
<text x="149.2" y="575.6" text-anchor="middle" font-family='"Liberation Serif", "DejaVu Serif", serif' font-size="15.5" font-style="italic">(tU<tspan font-size="10.5" dy="3.5">b</tspan><tspan dy="-3.5" dx="1.2">)</tspan><tspan font-size="17" dy="1" dx="0.5">/</tspan><tspan dy="-1" dx="0.3">H</tspan></text>
<text transform="translate(11.1,474) rotate(-90)" text-anchor="middle" font-family='"Liberation Serif", "DejaVu Serif", serif' font-size="14" font-style="italic">ω<tspan font-size="10" dx="0.8" dy="3.5">p,y</tspan><tspan dy="-3.5" dx="0.3">U</tspan><tspan font-size="10" dx="0.8" dy="3.5">b</tspan><tspan font-style="normal" font-size="18.5" dx="0.6" dy="-1">/</tspan><tspan dy="-2.5" dx="0.4" font-weight="bold" font-size="13">H</tspan></text>
<text x="150" y="603.5" text-anchor="middle" font-family='"Liberation Serif", "DejaVu Serif", serif' font-size="14.5">(e)</text>
<line x1="350.5" y1="444.3" x2="350.5" y2="541.6" stroke="#9a9a9a" stroke-width="1"/>
<line x1="357.2" y1="444.3" x2="357.2" y2="541.6" stroke="#9a9a9a" stroke-width="1"/>
<line x1="410.4" y1="444.3" x2="410.4" y2="541.6" stroke="#9a9a9a" stroke-width="1"/>
<line x1="417.3" y1="444.3" x2="417.3" y2="541.6" stroke="#9a9a9a" stroke-width="1"/>
<line x1="466.9" y1="444.3" x2="466.9" y2="541.6" stroke="#9a9a9a" stroke-width="1"/>
<line x1="473.4" y1="444.3" x2="473.4" y2="541.6" stroke="#9a9a9a" stroke-width="1"/>
<line x1="448.5" y1="444.3" x2="448.5" y2="541.6" stroke="#000" stroke-width="1.6" stroke-dasharray="4,2.6"/>
<line x1="512.3" y1="444.3" x2="512.3" y2="541.6" stroke="#000" stroke-width="1.6" stroke-dasharray="4,2.6"/>
<path d="M312.8,532.1 313.2,532.5 313.6,532.9 314,533.3 314.4,533.6 314.8,534 315.2,534.3 315.6,534.6 316,534.8 316.3,535.1 316.7,535.3 317.1,535.5 317.5,535.8 317.9,535.9 318.3,536.1 318.7,536.3 319.1,536.4 319.5,536.6 319.9,536.7 320.3,536.8 320.7,536.9 321.1,537 321.5,537.1 321.9,537.2 322.3,537.3 322.6,537.4 323,537.4 323.4,537.5 323.8,537.5 324.2,537.6 324.6,537.6 325,537.7 325.4,537.7 325.8,537.7 326.2,537.7 326.6,537.7 327,537.7 327.4,537.7 327.8,537.7 328.2,537.7 328.6,537.7 328.9,537.6 329.3,537.6 329.7,537.6 330.1,537.5 330.5,537.5 330.9,537.4 331.3,537.3 331.7,537.2 332.1,537.2 332.5,537.1 332.9,537 333.3,536.9 333.7,536.7 334.1,536.6 334.5,536.5 334.9,536.3 335.2,536.2 335.6,536 336,535.8 336.4,535.6 336.8,535.4 337.2,535.2 337.6,534.9 338,534.7 338.4,534.4 338.8,534.1 339.2,533.7 339.6,533.4 340,533 340.4,532.6 340.8,532.2 341.2,531.7 341.5,531.2 341.9,530.7 342.3,530.1 342.7,529.5 343.1,528.8 343.5,528.1 343.9,527.3 344.3,526.5 344.7,525.6 345.1,524.6 345.5,523.6 345.9,522.5 346.3,521.2 346.7,519.9 347.1,518.5 347.5,516.9 347.8,515.3 348.2,513.5 348.6,511.5 349,509.4 349.4,507.1 349.8,504.7 350.2,502.1 350.6,499.3 351,496.3 351.4,493.2 351.8,489.9 352.2,486.5 352.6,483 353,479.4 353.4,475.9 353.8,472.6 354.1,469.4 354.5,466.5 354.9,464 355.3,462.1 355.7,460.7 356.1,460 356.5,460 356.9,460.7 357.3,462.1 357.7,464 358.1,466.5 358.5,469.4 358.9,472.6 359.3,475.9 359.7,479.4 360.1,483 360.4,486.5 360.8,489.9 361.2,493.2 361.6,496.3 362,499.3 362.4,502.1 362.8,504.7 363.2,507.1 363.6,509.4 364,511.5 364.4,513.5 364.8,515.3 365.2,516.9 365.6,518.5 366,519.9 366.4,521.2 366.8,522.5 367.1,523.6 367.5,524.6 367.9,525.6 368.3,526.5 368.7,527.3 369.1,528.1 369.5,528.8 369.9,529.5 370.3,530.1 370.7,530.7 371.1,531.2 371.5,531.7 371.9,532.2 372.3,532.6 372.7,533 373.1,533.4 373.4,533.7 373.8,534.1 374.2,534.4 374.6,534.7 375,534.9 375.4,535.2 375.8,535.4 376.2,535.6 376.6,535.8 377,536 377.4,536.2 377.8,536.3 378.2,536.5 378.6,536.6 379,536.8 379.4,536.9 379.7,537 380.1,537.1 380.5,537.2 380.9,537.3 381.3,537.4 381.7,537.4 382.1,537.5 382.5,537.5 382.9,537.6 383.3,537.6 383.7,537.7 384.1,537.7 384.5,537.7 384.9,537.8 385.3,537.8 385.7,537.8 386,537.8 386.4,537.8 386.8,537.8 387.2,537.8 387.6,537.7 388,537.7 388.4,537.7 388.8,537.6 389.2,537.6 389.6,537.6 390,537.5 390.4,537.4 390.8,537.4 391.2,537.3 391.6,537.2 392,537.1 392.3,537 392.7,536.9 393.1,536.8 393.5,536.7 393.9,536.5 394.3,536.4 394.7,536.2 395.1,536 395.5,535.9 395.9,535.7 396.3,535.5 396.7,535.2 397.1,535 397.5,534.7 397.9,534.4 398.3,534.1 398.6,533.8 399,533.5 399.4,533.1 399.8,532.7 400.2,532.3 400.6,531.8 401,531.4 401.4,530.8 401.8,530.3 402.2,529.7 402.6,529 403,528.3 403.4,527.5 403.8,526.7 404.2,525.9 404.6,524.9 404.9,523.9 405.3,522.8 405.7,521.6 406.1,520.3 406.5,518.9 406.9,517.4 407.3,515.7 407.7,514 408.1,512 408.5,510 408.9,507.8 409.3,505.4 409.7,502.8 410.1,500 410.5,497.1 410.9,494 411.2,490.7 411.6,487.3 412,483.8 412.4,480.2 412.8,476.6 413.2,473.1 413.6,469.8 414,466.7 414.4,463.9 414.8,461.7 415.2,460 415.6,458.9 416,458.6 416.4,458.9 416.8,460 417.2,461.7 417.6,463.9 417.9,466.7 418.3,469.8 418.7,473.1 419.1,476.6 419.5,480.2 419.9,483.8 420.3,487.3 420.7,490.7 421.1,494 421.5,497.1 421.9,500 422.3,502.8 422.7,505.3 423.1,507.7 423.5,510 423.9,512 424.2,513.9 424.6,515.7 425,517.4 425.4,518.9 425.8,520.3 426.2,521.6 426.6,522.8 427,523.9 427.4,524.9 427.8,525.8 428.2,526.7 428.6,527.5 429,528.3 429.4,529 429.8,529.6 430.2,530.2 430.5,530.8 430.9,531.3 431.3,531.8 431.7,532.2 432.1,532.7 432.5,533.1 432.9,533.4 433.3,533.8 433.7,534.1 434.1,534.4 434.5,534.6 434.9,534.9 435.3,535.1 435.7,535.3 436.1,535.5 436.5,535.7 436.8,535.9 437.2,536.1 437.6,536.2 438,536.4 438.4,536.5 438.8,536.6 439.2,536.7 439.6,536.8 440,536.9 440.4,537 440.8,537 441.2,537.1 441.6,537.1 442,537.2 442.4,537.2 442.8,537.2 443.1,537.2 443.5,537.3 443.9,537.3 444.3,537.3 444.7,537.2 445.1,537.2 445.5,537.2 445.9,537.2 446.3,537.1 446.7,537.1 447.1,537 447.5,536.9 447.9,536.8 448.3,536.8 448.7,536.7 449.1,536.6 449.4,536.4 449.8,536.3 450.2,536.2 450.6,536 451,535.8 451.4,535.7 451.8,535.5 452.2,535.3 452.6,535 453,534.8 453.4,534.5 453.8,534.3 454.2,534 454.6,533.6 455,533.3 455.4,532.9 455.7,532.5 456.1,532.1 456.5,531.6 456.9,531.1 457.3,530.6 457.7,530 458.1,529.4 458.5,528.8 458.9,528.1 459.3,527.3 459.7,526.5 460.1,525.6 460.5,524.6 460.9,523.6 461.3,522.5 461.7,521.3 462.1,520 462.4,518.6 462.8,517 463.2,515.4 463.6,513.6 464,511.7 464.4,509.6 464.8,507.3 465.2,504.9 465.6,502.3 466,499.5 466.4,496.5 466.8,493.3 467.2,489.9 467.6,486.3 468,482.6 468.4,478.7 468.7,474.8 469.1,470.9 469.5,467.1 469.9,463.4 470.3,460.1 470.7,457.1 471.1,454.6 471.5,452.8 471.9,451.6 472.3,451.2 472.7,451.6 473.1,452.8 473.5,454.6 473.9,457.1 474.3,460.1 474.7,463.4 475,467.1 475.4,470.9 475.8,474.8 476.2,478.7 476.6,482.6 477,486.3 477.4,489.9 477.8,493.3 478.2,496.5 478.6,499.5 479,502.3 479.4,504.9 479.8,507.3 480.2,509.6 480.6,511.7 481,513.6 481.3,515.4 481.7,517 482.1,518.6 482.5,520 482.9,521.3 483.3,522.5 483.7,523.6 484.1,524.6 484.5,525.6 484.9,526.5 485.3,527.3 485.7,528.1 486.1,528.8 486.5,529.4 486.9,530.1 487.3,530.6 487.6,531.2 488,531.6 488.4,532.1 488.8,532.5 489.2,532.9 489.6,533.3 490,533.7 490.4,534 490.8,534.3 491.2,534.6 491.6,534.8 492,535.1 492.4,535.3 492.8,535.5 493.2,535.7 493.6,535.9 493.9,536 494.3,536.2 494.7,536.3 495.1,536.5 495.5,536.6 495.9,536.7 496.3,536.8 496.7,536.9 497.1,537 497.5,537 497.9,537.1 498.3,537.2 498.7,537.2 499.1,537.3 499.5,537.3 499.9,537.3 500.2,537.3 500.6,537.3 501,537.3 501.4,537.3 501.8,537.3 502.2,537.3 502.6,537.3 503,537.3 503.4,537.2 503.8,537.2 504.2,537.1 504.6,537 505,537 505.4,536.9 505.8,536.8 506.2,536.7 506.5,536.6 506.9,536.5 507.3,536.3 507.7,536.2 508.1,536 508.5,535.8 508.9,535.7 509.3,535.5 509.7,535.3 510.1,535 510.5,534.8 510.9,534.5 511.3,534.2 511.7,533.9 512.1,533.6 512.5,533.2 512.9,532.9 513.2,532.5 513.6,532" fill="none" stroke="#111111" stroke-width="1.65" stroke-linejoin="round" clip-path="url(#cf)"/>
<path d="M312.8,488.2 313.2,484.4 313.6,480.5 314,476.5 314.4,472.3 314.8,468.2 315.2,464 315.6,460.1 316,456.4 316.3,453.2 316.7,450.5 317.1,448.5 317.5,447.2 317.9,446.8 318.3,447.2 318.7,448.5 319.1,450.5 319.5,453.2 319.9,456.4 320.3,460.1 320.7,464 321.1,468.2 321.5,472.3 321.9,476.5 322.3,480.5 322.6,484.4 323,488.2 323.4,491.7 323.8,495 324.2,498.1 324.6,501 325,503.6 325.4,506.1 325.8,508.4 326.2,510.5 326.6,512.5 327,514.3 327.4,515.9 327.8,517.5 328.2,518.9 328.6,520.2 328.9,521.4 329.3,522.5 329.7,523.5 330.1,524.5 330.5,525.3 330.9,526.1 331.3,526.9 331.7,527.6 332.1,528.2 332.5,528.9 332.9,529.4 333.3,529.9 333.7,530.4 334.1,530.9 334.5,531.3 334.9,531.7 335.2,532 335.6,532.4 336,532.7 336.4,533 336.8,533.2 337.2,533.5 337.6,533.7 338,533.9 338.4,534.1 338.8,534.3 339.2,534.5 339.6,534.6 340,534.8 340.4,534.9 340.8,535 341.2,535.1 341.5,535.2 341.9,535.3 342.3,535.4 342.7,535.4 343.1,535.5 343.5,535.6 343.9,535.6 344.3,535.6 344.7,535.6 345.1,535.6 345.5,535.7 345.9,535.6 346.3,535.6 346.7,535.6 347.1,535.6 347.5,535.5 347.8,535.5 348.2,535.4 348.6,535.3 349,535.3 349.4,535.2 349.8,535.1 350.2,535 350.6,534.8 351,534.7 351.4,534.6 351.8,534.4 352.2,534.2 352.6,534 353,533.8 353.4,533.6 353.8,533.4 354.1,533.1 354.5,532.8 354.9,532.5 355.3,532.2 355.7,531.9 356.1,531.5 356.5,531.1 356.9,530.7 357.3,530.2 357.7,529.7 358.1,529.2 358.5,528.6 358.9,528 359.3,527.3 359.7,526.6 360.1,525.8 360.4,524.9 360.8,524 361.2,523 361.6,522 362,520.8 362.4,519.6 362.8,518.2 363.2,516.7 363.6,515.2 364,513.4 364.4,511.6 364.8,509.5 365.2,507.3 365.6,505 366,502.4 366.4,499.6 366.8,496.7 367.1,493.5 367.5,490 367.9,486.4 368.3,482.6 368.7,478.6 369.1,474.5 369.5,470.4 369.9,466.2 370.3,462.2 370.7,458.4 371.1,454.9 371.5,451.9 371.9,449.6 372.3,447.9 372.7,447.1 373.1,447.1 373.4,447.9 373.8,449.6 374.2,451.9 374.6,454.9 375,458.4 375.4,462.2 375.8,466.2 376.2,470.4 376.6,474.5 377,478.6 377.4,482.6 377.8,486.4 378.2,490 378.6,493.5 379,496.7 379.4,499.6 379.7,502.4 380.1,505 380.5,507.3 380.9,509.5 381.3,511.6 381.7,513.4 382.1,515.2 382.5,516.7 382.9,518.2 383.3,519.6 383.7,520.8 384.1,522 384.5,523 384.9,524 385.3,524.9 385.7,525.8 386,526.6 386.4,527.3 386.8,528 387.2,528.6 387.6,529.2 388,529.7 388.4,530.2 388.8,530.7 389.2,531.1 389.6,531.5 390,531.9 390.4,532.2 390.8,532.5 391.2,532.8 391.6,533.1 392,533.4 392.3,533.6 392.7,533.8 393.1,534 393.5,534.2 393.9,534.4 394.3,534.6 394.7,534.7 395.1,534.8 395.5,535 395.9,535.1 396.3,535.2 396.7,535.3 397.1,535.3 397.5,535.4 397.9,535.5 398.3,535.5 398.6,535.6 399,535.6 399.4,535.6 399.8,535.6 400.2,535.7 400.6,535.7 401,535.6 401.4,535.6 401.8,535.6 402.2,535.6 402.6,535.5 403,535.5 403.4,535.4 403.8,535.3 404.2,535.2 404.6,535.1 404.9,535 405.3,534.9 405.7,534.8 406.1,534.6 406.5,534.5 406.9,534.3 407.3,534.1 407.7,533.9 408.1,533.7 408.5,533.5 408.9,533.2 409.3,533 409.7,532.7 410.1,532.4 410.5,532 410.9,531.7 411.2,531.3 411.6,530.9 412,530.4 412.4,529.9 412.8,529.4 413.2,528.9 413.6,528.3 414,527.6 414.4,526.9 414.8,526.1 415.2,525.3 415.6,524.5 416,523.5 416.4,522.5 416.8,521.4 417.2,520.1 417.6,518.8 417.9,517.4 418.3,515.9 418.7,514.2 419.1,512.4 419.5,510.4 419.9,508.3 420.3,506 420.7,503.5 421.1,500.9 421.5,498 421.9,494.9 422.3,491.6 422.7,488.1 423.1,484.4 423.5,480.5 423.9,476.6 424.2,472.5 424.6,468.5 425,464.6 425.4,460.9 425.8,457.6 426.2,454.7 426.6,452.4 427,450.8 427.4,450 427.8,450 428.2,450.8 428.6,452.4 429,454.7 429.4,457.6 429.8,460.9 430.2,464.6 430.5,468.5 430.9,472.5 431.3,476.6 431.7,480.5 432.1,484.4 432.5,488.1 432.9,491.6 433.3,494.9 433.7,498 434.1,500.9 434.5,503.5 434.9,506 435.3,508.3 435.7,510.5 436.1,512.4 436.5,514.2 436.8,515.9 437.2,517.4 437.6,518.9 438,520.2 438.4,521.4 438.8,522.5 439.2,523.5 439.6,524.5 440,525.4 440.4,526.2 440.8,526.9 441.2,527.7 441.6,528.3 442,528.9 442.4,529.5 442.8,530 443.1,530.5 443.5,530.9 443.9,531.4 444.3,531.8 444.7,532.1 445.1,532.5 445.5,532.8 445.9,533.1 446.3,533.4 446.7,533.6 447.1,533.8 447.5,534.1 447.9,534.3 448.3,534.5 448.7,534.7 449.1,534.8 449.4,535 449.8,535.1 450.2,535.2 450.6,535.4 451,535.5 451.4,535.6 451.8,535.7 452.2,535.8 452.6,535.8 453,535.9 453.4,536 453.8,536 454.2,536.1 454.6,536.1 455,536.1 455.4,536.2 455.7,536.2 456.1,536.2 456.5,536.2 456.9,536.2 457.3,536.2 457.7,536.2 458.1,536.1 458.5,536.1 458.9,536.1 459.3,536 459.7,536 460.1,535.9 460.5,535.9 460.9,535.8 461.3,535.7 461.7,535.6 462.1,535.5 462.4,535.4 462.8,535.3 463.2,535.2 463.6,535 464,534.9 464.4,534.7 464.8,534.6 465.2,534.4 465.6,534.2 466,534 466.4,533.7 466.8,533.5 467.2,533.2 467.6,532.9 468,532.6 468.4,532.3 468.7,531.9 469.1,531.6 469.5,531.2 469.9,530.7 470.3,530.2 470.7,529.7 471.1,529.2 471.5,528.6 471.9,528 472.3,527.3 472.7,526.6 473.1,525.8 473.5,524.9 473.9,524 474.3,523 474.7,521.9 475,520.8 475.4,519.5 475.8,518.2 476.2,516.7 476.6,515.1 477,513.3 477.4,511.5 477.8,509.4 478.2,507.2 478.6,504.8 479,502.2 479.4,499.4 479.8,496.5 480.2,493.3 480.6,489.9 481,486.3 481.3,482.5 481.7,478.6 482.1,474.6 482.5,470.5 482.9,466.6 483.3,462.7 483.7,459.2 484.1,456.1 484.5,453.5 484.9,451.5 485.3,450.3 485.7,449.9 486.1,450.3 486.5,451.5 486.9,453.5 487.3,456.1 487.6,459.2 488,462.7 488.4,466.6 488.8,470.5 489.2,474.6 489.6,478.6 490,482.5 490.4,486.3 490.8,489.9 491.2,493.3 491.6,496.5 492,499.4 492.4,502.2 492.8,504.8 493.2,507.2 493.6,509.4 493.9,511.5 494.3,513.3 494.7,515.1 495.1,516.7 495.5,518.2 495.9,519.5 496.3,520.8 496.7,521.9 497.1,523 497.5,524 497.9,524.9 498.3,525.8 498.7,526.6 499.1,527.3 499.5,528 499.9,528.6 500.2,529.2 500.6,529.7 501,530.2 501.4,530.7 501.8,531.1 502.2,531.6 502.6,531.9 503,532.3 503.4,532.6 503.8,532.9 504.2,533.2 504.6,533.5 505,533.7 505.4,533.9 505.8,534.2 506.2,534.4 506.5,534.5 506.9,534.7 507.3,534.9 507.7,535 508.1,535.2 508.5,535.3 508.9,535.4 509.3,535.5 509.7,535.6 510.1,535.7 510.5,535.8 510.9,535.8 511.3,535.9 511.7,535.9 512.1,536 512.5,536 512.9,536.1 513.2,536.1 513.6,536.1" fill="none" stroke="#3d8a3a" stroke-width="1.5" stroke-dasharray="1.4,2.0" stroke-linejoin="round" clip-path="url(#cf)"/>
<path d="M312.8,487.7 313.2,484 313.6,480 314,476 314.4,471.8 314.8,467.6 315.2,463.4 315.6,459.4 316,455.7 316.3,452.5 316.7,449.7 317.1,447.7 317.5,446.4 317.9,446 318.3,446.4 318.7,447.7 319.1,449.7 319.5,452.5 319.9,455.7 320.3,459.4 320.7,463.4 321.1,467.6 321.5,471.8 321.9,476 322.3,480 322.6,484 323,487.7 323.4,491.3 323.8,494.6 324.2,497.8 324.6,500.7 325,503.4 325.4,505.8 325.8,508.2 326.2,510.3 326.6,512.3 327,514.1 327.4,515.7 327.8,517.3 328.2,518.7 328.6,520 328.9,521.2 329.3,522.3 329.7,523.4 330.1,524.3 330.5,525.2 330.9,526 331.3,526.8 331.7,527.5 332.1,528.2 332.5,528.8 332.9,529.3 333.3,529.9 333.7,530.4 334.1,530.8 334.5,531.2 334.9,531.6 335.2,532 335.6,532.3 336,532.6 336.4,532.9 336.8,533.2 337.2,533.4 337.6,533.7 338,533.9 338.4,534.1 338.8,534.3 339.2,534.5 339.6,534.6 340,534.8 340.4,534.9 340.8,535 341.2,535.1 341.5,535.2 341.9,535.3 342.3,535.4 342.7,535.4 343.1,535.5 343.5,535.5 343.9,535.6 344.3,535.6 344.7,535.6 345.1,535.6 345.5,535.6 345.9,535.6 346.3,535.6 346.7,535.6 347.1,535.6 347.5,535.5 347.8,535.5 348.2,535.4 348.6,535.3 349,535.3 349.4,535.2 349.8,535.1 350.2,535 350.6,534.8 351,534.7 351.4,534.6 351.8,534.4 352.2,534.2 352.6,534 353,533.8 353.4,533.6 353.8,533.4 354.1,533.1 354.5,532.8 354.9,532.5 355.3,532.2 355.7,531.9 356.1,531.5 356.5,531.1 356.9,530.7 357.3,530.2 357.7,529.7 358.1,529.2 358.5,528.6 358.9,527.9 359.3,527.3 359.7,526.6 360.1,525.8 360.4,524.9 360.8,524 361.2,523 361.6,522 362,520.8 362.4,519.6 362.8,518.2 363.2,516.7 363.6,515.2 364,513.4 364.4,511.6 364.8,509.5 365.2,507.3 365.6,505 366,502.4 366.4,499.6 366.8,496.7 367.1,493.5 367.5,490 367.9,486.4 368.3,482.6 368.7,478.6 369.1,474.5 369.5,470.4 369.9,466.2 370.3,462.2 370.7,458.4 371.1,454.9 371.5,451.9 371.9,449.6 372.3,447.9 372.7,447.1 373.1,447.1 373.4,447.9 373.8,449.6 374.2,451.9 374.6,454.9 375,458.4 375.4,462.2 375.8,466.2 376.2,470.4 376.6,474.5 377,478.6 377.4,482.6 377.8,486.4 378.2,490 378.6,493.5 379,496.7 379.4,499.6 379.7,502.4 380.1,505 380.5,507.3 380.9,509.5 381.3,511.6 381.7,513.4 382.1,515.2 382.5,516.7 382.9,518.2 383.3,519.6 383.7,520.8 384.1,522 384.5,523 384.9,524 385.3,524.9 385.7,525.8 386,526.6 386.4,527.3 386.8,528 387.2,528.6 387.6,529.2 388,529.7 388.4,530.2 388.8,530.7 389.2,531.1 389.6,531.5 390,531.9 390.4,532.2 390.8,532.5 391.2,532.8 391.6,533.1 392,533.4 392.3,533.6 392.7,533.8 393.1,534 393.5,534.2 393.9,534.4 394.3,534.6 394.7,534.7 395.1,534.8 395.5,535 395.9,535.1 396.3,535.2 396.7,535.3 397.1,535.3 397.5,535.4 397.9,535.5 398.3,535.5 398.6,535.6 399,535.6 399.4,535.6 399.8,535.6 400.2,535.7 400.6,535.7 401,535.6 401.4,535.6 401.8,535.6 402.2,535.6 402.6,535.5 403,535.5 403.4,535.4 403.8,535.3 404.2,535.2 404.6,535.1 404.9,535 405.3,534.9 405.7,534.8 406.1,534.6 406.5,534.5 406.9,534.3 407.3,534.1 407.7,533.9 408.1,533.7 408.5,533.5 408.9,533.2 409.3,533 409.7,532.7 410.1,532.4 410.5,532 410.9,531.7 411.2,531.3 411.6,530.9 412,530.4 412.4,529.9 412.8,529.4 413.2,528.9 413.6,528.3 414,527.6 414.4,526.9 414.8,526.1 415.2,525.3 415.6,524.5 416,523.5 416.4,522.5 416.8,521.4 417.2,520.1 417.6,518.8 417.9,517.4 418.3,515.9 418.7,514.2 419.1,512.4 419.5,510.4 419.9,508.3 420.3,506 420.7,503.5 421.1,500.9 421.5,498 421.9,494.9 422.3,491.6 422.7,488.1 423.1,484.4 423.5,480.5 423.9,476.6 424.2,472.5 424.6,468.5 425,464.6 425.4,460.9 425.8,457.6 426.2,454.7 426.6,452.4 427,450.8 427.4,450 427.8,450 428.2,450.8 428.6,452.4 429,454.7 429.4,457.6 429.8,460.9 430.2,464.6 430.5,468.5 430.9,472.5 431.3,476.6 431.7,480.5 432.1,484.4 432.5,488.1 432.9,491.6 433.3,494.9 433.7,497.9 434.1,500.8 434.5,503.5 434.9,506 435.3,508.3 435.7,510.4 436.1,512.4 436.5,514.2 436.8,515.8 437.2,517.4 437.6,518.8 438,520.1 438.4,521.3 438.8,522.4 439.2,523.4 439.6,524.4 440,525.3 440.4,526.1 440.8,526.8 441.2,527.5 441.6,528.2 442,528.8 442.4,529.3 442.8,529.8 443.1,530.3 443.5,530.8 443.9,531.2 444.3,531.6 444.7,531.9 445.1,532.2 445.5,532.5 445.9,532.8 446.3,533.1 446.7,533.3 447.1,533.5 447.5,533.7 447.9,533.9 448.3,534.1 448.7,534.2 449.1,534.4 449.4,534.5 449.8,534.6 450.2,534.7 450.6,534.8 451,534.9 451.4,534.9 451.8,535 452.2,535 452.6,535 453,535.1 453.4,535.1 453.8,535.1 454.2,535 454.6,535 455,535 455.4,534.9 455.7,534.9 456.1,534.8 456.5,534.7 456.9,534.6 457.3,534.5 457.7,534.4 458.1,534.2 458.5,534.1 458.9,533.9 459.3,533.7 459.7,533.5 460.1,533.3 460.5,533.1 460.9,532.8 461.3,532.5 461.7,532.2 462.1,531.9 462.4,531.5 462.8,531.2 463.2,530.7 463.6,530.3 464,529.8 464.4,529.3 464.8,528.7 465.2,528.1 465.6,527.5 466,526.8 466.4,526 466.8,525.2 467.2,524.2 467.6,523.3 468,522.2 468.4,521.1 468.7,519.8 469.1,518.5 469.5,517 469.9,515.4 470.3,513.7 470.7,511.8 471.1,509.8 471.5,507.6 471.9,505.3 472.3,502.8 472.7,500 473.1,497.1 473.5,494.1 473.9,490.8 474.3,487.4 474.7,484 475,480.4 475.4,476.9 475.8,473.5 476.2,470.2 476.6,467.3 477,464.7 477.4,462.7 477.8,461.3 478.2,460.6 478.6,460.6 479,461.3 479.4,462.7 479.8,464.7 480.2,467.3 480.6,470.2 481,473.5 481.3,476.9 481.7,480.4 482.1,484 482.5,487.5 482.9,490.8 483.3,494.1 483.7,497.2 484.1,500.1 484.5,502.8 484.9,505.3 485.3,507.7 485.7,509.9 486.1,511.9 486.5,513.7 486.9,515.5 487.3,517.1 487.6,518.5 488,519.9 488.4,521.1 488.8,522.3 489.2,523.3 489.6,524.3 490,525.2 490.4,526.1 490.8,526.8 491.2,527.5 491.6,528.2 492,528.8 492.4,529.4 492.8,529.9 493.2,530.4 493.6,530.9 493.9,531.3 494.3,531.7 494.7,532.1 495.1,532.4 495.5,532.7 495.9,533 496.3,533.3 496.7,533.5 497.1,533.8 497.5,534 497.9,534.2 498.3,534.4 498.7,534.6 499.1,534.7 499.5,534.9 499.9,535 500.2,535.1 500.6,535.2 501,535.3 501.4,535.4 501.8,535.5 502.2,535.6 502.6,535.6 503,535.7 503.4,535.7 503.8,535.8 504.2,535.8 504.6,535.8 505,535.8 505.4,535.9 505.8,535.9 506.2,535.8 506.5,535.8 506.9,535.8 507.3,535.8 507.7,535.7 508.1,535.7 508.5,535.6 508.9,535.5 509.3,535.5 509.7,535.4 510.1,535.3 510.5,535.2 510.9,535.1 511.3,534.9 511.7,534.8 512.1,534.7 512.5,534.5 512.9,534.3 513.2,534.1 513.6,533.9" fill="none" stroke="#2424ae" stroke-width="1.6" stroke-dasharray="4.2,2.6" stroke-linejoin="round" clip-path="url(#cf)"/>
<path d="M312.8,529 313.2,528.4 313.6,527.7 314,526.9 314.4,526 314.8,525.1 315.2,524.1 315.6,522.9 316,521.7 316.3,520.4 316.7,518.9 317.1,517.2 317.5,515.4 317.9,513.5 318.3,511.3 318.7,508.9 319.1,506.3 319.5,503.4 319.9,500.3 320.3,496.9 320.7,493.3 321.1,489.4 321.5,485.3 321.9,481.1 322.3,476.9 322.6,472.8 323,468.9 323.4,465.5 323.8,462.7 324.2,460.7 324.6,459.7 325,459.7 325.4,460.7 325.8,462.7 326.2,465.5 326.6,468.9 327,472.8 327.4,476.9 327.8,481.1 328.2,485.3 328.6,489.4 328.9,493.3 329.3,496.9 329.7,500.3 330.1,503.4 330.5,506.3 330.9,508.9 331.3,511.3 331.7,513.5 332.1,515.4 332.5,517.2 332.9,518.9 333.3,520.4 333.7,521.7 334.1,522.9 334.5,524.1 334.9,525.1 335.2,526 335.6,526.9 336,527.7 336.4,528.4 336.8,529 337.2,529.6 337.6,530.2 338,530.7 338.4,531.2 338.8,531.6 339.2,532 339.6,532.4 340,532.8 340.4,533.1 340.8,533.4 341.2,533.7 341.5,533.9 341.9,534.2 342.3,534.4 342.7,534.6 343.1,534.8 343.5,535 343.9,535.1 344.3,535.3 344.7,535.4 345.1,535.6 345.5,535.7 345.9,535.8 346.3,535.9 346.7,536 347.1,536.1 347.5,536.2 347.8,536.3 348.2,536.3 348.6,536.4 349,536.5 349.4,536.5 349.8,536.6 350.2,536.6 350.6,536.6 351,536.7 351.4,536.7 351.8,536.7 352.2,536.8 352.6,536.8 353,536.8 353.4,536.8 353.8,536.8 354.1,536.8 354.5,536.8 354.9,536.8 355.3,536.8 355.7,536.8 356.1,536.7 356.5,536.7 356.9,536.7 357.3,536.7 357.7,536.6 358.1,536.6 358.5,536.5 358.9,536.5 359.3,536.4 359.7,536.4 360.1,536.3 360.4,536.2 360.8,536.1 361.2,536 361.6,535.9 362,535.8 362.4,535.7 362.8,535.6 363.2,535.5 363.6,535.3 364,535.2 364.4,535 364.8,534.9 365.2,534.7 365.6,534.5 366,534.2 366.4,534 366.8,533.8 367.1,533.5 367.5,533.2 367.9,532.9 368.3,532.6 368.7,532.2 369.1,531.8 369.5,531.4 369.9,530.9 370.3,530.5 370.7,529.9 371.1,529.3 371.5,528.7 371.9,528 372.3,527.3 372.7,526.5 373.1,525.6 373.4,524.7 373.8,523.6 374.2,522.5 374.6,521.2 375,519.8 375.4,518.3 375.8,516.6 376.2,514.8 376.6,512.8 377,510.5 377.4,508.1 377.8,505.4 378.2,502.4 378.6,499.2 379,495.7 379.4,492 379.7,487.9 380.1,483.7 380.5,479.2 380.9,474.7 381.3,470.2 381.7,465.8 382.1,461.9 382.5,458.5 382.9,455.9 383.3,454.3 383.7,453.7 384.1,454.3 384.5,455.9 384.9,458.5 385.3,461.9 385.7,465.8 386,470.2 386.4,474.7 386.8,479.2 387.2,483.7 387.6,487.9 388,492 388.4,495.7 388.8,499.2 389.2,502.4 389.6,505.4 390,508.1 390.4,510.5 390.8,512.8 391.2,514.8 391.6,516.6 392,518.3 392.3,519.8 392.7,521.2 393.1,522.5 393.5,523.6 393.9,524.7 394.3,525.6 394.7,526.5 395.1,527.3 395.5,528 395.9,528.7 396.3,529.3 396.7,529.9 397.1,530.5 397.5,530.9 397.9,531.4 398.3,531.8 398.6,532.2 399,532.6 399.4,532.9 399.8,533.2 400.2,533.5 400.6,533.8 401,534 401.4,534.3 401.8,534.5 402.2,534.7 402.6,534.9 403,535 403.4,535.2 403.8,535.3 404.2,535.5 404.6,535.6 404.9,535.7 405.3,535.8 405.7,536 406.1,536 406.5,536.1 406.9,536.2 407.3,536.3 407.7,536.4 408.1,536.4 408.5,536.5 408.9,536.5 409.3,536.6 409.7,536.6 410.1,536.7 410.5,536.7 410.9,536.7 411.2,536.8 411.6,536.8 412,536.8 412.4,536.8 412.8,536.8 413.2,536.8 413.6,536.8 414,536.8 414.4,536.8 414.8,536.8 415.2,536.8 415.6,536.8 416,536.8 416.4,536.7 416.8,536.7 417.2,536.7 417.6,536.6 417.9,536.6 418.3,536.5 418.7,536.5 419.1,536.4 419.5,536.3 419.9,536.3 420.3,536.2 420.7,536.1 421.1,536 421.5,535.9 421.9,535.8 422.3,535.7 422.7,535.6 423.1,535.4 423.5,535.3 423.9,535.1 424.2,535 424.6,534.8 425,534.6 425.4,534.4 425.8,534.2 426.2,533.9 426.6,533.7 427,533.4 427.4,533.1 427.8,532.8 428.2,532.4 428.6,532 429,531.6 429.4,531.2 429.8,530.7 430.2,530.2 430.5,529.7 430.9,529.1 431.3,528.4 431.7,527.7 432.1,527 432.5,526.1 432.9,525.2 433.3,524.2 433.7,523.1 434.1,521.9 434.5,520.6 434.9,519.1 435.3,517.6 435.7,515.8 436.1,513.9 436.5,511.8 436.8,509.5 437.2,506.9 437.6,504.1 438,501 438.4,497.7 438.8,494.1 439.2,490.2 439.6,486.1 440,481.7 440.4,477.2 440.8,472.7 441.2,468.3 441.6,464.1 442,460.5 442.4,457.5 442.8,455.4 443.1,454.3 443.5,454.3 443.9,455.4 444.3,457.5 444.7,460.5 445.1,464.1 445.5,468.3 445.9,472.7 446.3,477.2 446.7,481.7 447.1,486.1 447.5,490.2 447.9,494.1 448.3,497.7 448.7,501 449.1,504.1 449.4,506.9 449.8,509.5 450.2,511.8 450.6,513.9 451,515.8 451.4,517.6 451.8,519.1 452.2,520.6 452.6,521.9 453,523.1 453.4,524.2 453.8,525.2 454.2,526.1 454.6,527 455,527.7 455.4,528.4 455.7,529.1 456.1,529.7 456.5,530.2 456.9,530.7 457.3,531.2 457.7,531.6 458.1,532 458.5,532.4 458.9,532.8 459.3,533.1 459.7,533.4 460.1,533.7 460.5,533.9 460.9,534.2 461.3,534.4 461.7,534.6 462.1,534.8 462.4,535 462.8,535.1 463.2,535.3 463.6,535.4 464,535.6 464.4,535.7 464.8,535.8 465.2,535.9 465.6,536 466,536.1 466.4,536.2 466.8,536.3 467.2,536.3 467.6,536.4 468,536.5 468.4,536.5 468.7,536.6 469.1,536.6 469.5,536.7 469.9,536.7 470.3,536.7 470.7,536.8 471.1,536.8 471.5,536.8 471.9,536.8 472.3,536.8 472.7,536.8 473.1,536.8 473.5,536.8 473.9,536.8 474.3,536.8 474.7,536.8 475,536.8 475.4,536.8 475.8,536.7 476.2,536.7 476.6,536.7 477,536.6 477.4,536.6 477.8,536.5 478.2,536.5 478.6,536.4 479,536.4 479.4,536.3 479.8,536.2 480.2,536.1 480.6,536.1 481,536 481.3,535.9 481.7,535.7 482.1,535.6 482.5,535.5 482.9,535.4 483.3,535.2 483.7,535 484.1,534.9 484.5,534.7 484.9,534.5 485.3,534.3 485.7,534 486.1,533.8 486.5,533.5 486.9,533.2 487.3,532.9 487.6,532.6 488,532.2 488.4,531.8 488.8,531.4 489.2,531 489.6,530.5 490,530 490.4,529.4 490.8,528.8 491.2,528.1 491.6,527.3 492,526.5 492.4,525.7 492.8,524.7 493.2,523.7 493.6,522.5 493.9,521.3 494.3,519.9 494.7,518.4 495.1,516.7 495.5,514.9 495.9,512.9 496.3,510.7 496.7,508.2 497.1,505.5 497.5,502.6 497.9,499.4 498.3,495.9 498.7,492.2 499.1,488.2 499.5,483.9 499.9,479.5 500.2,475 500.6,470.5 501,466.2 501.4,462.2 501.8,458.9 502.2,456.3 502.6,454.7 503,454.1 503.4,454.7 503.8,456.3 504.2,458.9 504.6,462.2 505,466.2 505.4,470.5 505.8,475 506.2,479.5 506.5,483.9 506.9,488.2 507.3,492.2 507.7,495.9 508.1,499.4 508.5,502.6 508.9,505.5 509.3,508.2 509.7,510.7 510.1,512.9 510.5,514.9 510.9,516.7 511.3,518.4 511.7,519.9 512.1,521.3 512.5,522.5 512.9,523.7 513.2,524.7 513.6,525.7" fill="none" stroke="#cf2a36" stroke-width="1.4" stroke-dasharray="4.6,2.2,1.6,2.2" stroke-linejoin="round" clip-path="url(#cf)"/>
<line x1="332.7" y1="436.3" x2="352.7" y2="436.3" stroke="#111111" stroke-width="1.65"/>
<text x="355" y="441.2" font-family='"Liberation Serif", "DejaVu Serif", serif' font-size="13.6">P1</text>
<line x1="372.7" y1="436.3" x2="392.7" y2="436.3" stroke="#2424ae" stroke-width="1.6" stroke-dasharray="4.2,2.6"/>
<text x="396.1" y="441.2" font-family='"Liberation Serif", "DejaVu Serif", serif' font-size="13.6">P2</text>
<line x1="413.2" y1="436.3" x2="433.2" y2="436.3" stroke="#cf2a36" stroke-width="1.4" stroke-dasharray="4.6,2.2,1.6,2.2"/>
<text x="436.3" y="441.2" font-family='"Liberation Serif", "DejaVu Serif", serif' font-size="13.6">P3</text>
<line x1="454.1" y1="436.3" x2="474.1" y2="436.3" stroke="#3d8a3a" stroke-width="1.5" stroke-dasharray="1.4,2.0"/>
<text x="477.2" y="441.2" font-family='"Liberation Serif", "DejaVu Serif", serif' font-size="13.6">P4</text>
<rect x="312.8" y="425.8" width="199.99999999999994" height="115.80000000000001" fill="none" stroke="#555" stroke-width="1.45"/>
<line x1="307.8" y1="425.8" x2="312.8" y2="425.8" stroke="#555" stroke-width="1.3"/>
<text x="302.5" y="430.8" text-anchor="end" font-family='"Liberation Serif", "DejaVu Serif", serif' font-size="14">6</text>
<line x1="307.8" y1="464.6" x2="312.8" y2="464.6" stroke="#555" stroke-width="1.3"/>
<text x="302.5" y="469.6" text-anchor="end" font-family='"Liberation Serif", "DejaVu Serif", serif' font-size="14">4</text>
<line x1="307.8" y1="503.7" x2="312.8" y2="503.7" stroke="#555" stroke-width="1.3"/>
<text x="302.5" y="508.7" text-anchor="end" font-family='"Liberation Serif", "DejaVu Serif", serif' font-size="14">2</text>
<line x1="307.8" y1="541.6" x2="312.8" y2="541.6" stroke="#555" stroke-width="1.3"/>
<text x="302.5" y="546.6" text-anchor="end" font-family='"Liberation Serif", "DejaVu Serif", serif' font-size="14">0</text>
<line x1="312.8" y1="541.6" x2="312.8" y2="546.6" stroke="#555" stroke-width="1.3"/>
<text x="312.8" y="561.6" text-anchor="middle" font-family='"Liberation Serif", "DejaVu Serif", serif' font-size="14">670</text>
<line x1="352.2" y1="541.6" x2="352.2" y2="546.6" stroke="#555" stroke-width="1.3"/>
<text x="352.2" y="561.6" text-anchor="middle" font-family='"Liberation Serif", "DejaVu Serif", serif' font-size="14">672</text>
<line x1="391.6" y1="541.6" x2="391.6" y2="546.6" stroke="#555" stroke-width="1.3"/>
<text x="391.6" y="561.6" text-anchor="middle" font-family='"Liberation Serif", "DejaVu Serif", serif' font-size="14">674</text>
<line x1="430.9" y1="541.6" x2="430.9" y2="546.6" stroke="#555" stroke-width="1.3"/>
<text x="430.9" y="561.6" text-anchor="middle" font-family='"Liberation Serif", "DejaVu Serif", serif' font-size="14">676</text>
<line x1="470.3" y1="541.6" x2="470.3" y2="546.6" stroke="#555" stroke-width="1.3"/>
<text x="470.3" y="561.6" text-anchor="middle" font-family='"Liberation Serif", "DejaVu Serif", serif' font-size="14">678</text>
<line x1="509.7" y1="541.6" x2="509.7" y2="546.6" stroke="#555" stroke-width="1.3"/>
<text x="509.7" y="561.6" text-anchor="middle" font-family='"Liberation Serif", "DejaVu Serif", serif' font-size="14">680</text>
<text x="412.8" y="575.6" text-anchor="middle" font-family='"Liberation Serif", "DejaVu Serif", serif' font-size="15.5" font-style="italic">(tU<tspan font-size="10.5" dy="3.5">b</tspan><tspan dy="-3.5" dx="1.2">)</tspan><tspan font-size="17" dy="1" dx="0.5">/</tspan><tspan dy="-1" dx="0.3">H</tspan></text>
<text transform="translate(275.5,484) rotate(-90)" text-anchor="middle" font-family='"Liberation Serif", "DejaVu Serif", serif' font-size="14" font-style="italic">ω<tspan font-size="10" dx="0.8" dy="3.5">y</tspan><tspan dy="-3.5" dx="0.3">U</tspan><tspan font-size="10" dx="0.8" dy="3.5">b</tspan><tspan font-style="normal" font-size="18.5" dx="0.6" dy="-1">/</tspan><tspan dy="-2.5" dx="0.4" font-weight="bold" font-size="13">H</tspan></text>
<text x="415.2" y="603.5" text-anchor="middle" font-family='"Liberation Serif", "DejaVu Serif", serif' font-size="14.5">(f)</text>
</svg></body></html>
